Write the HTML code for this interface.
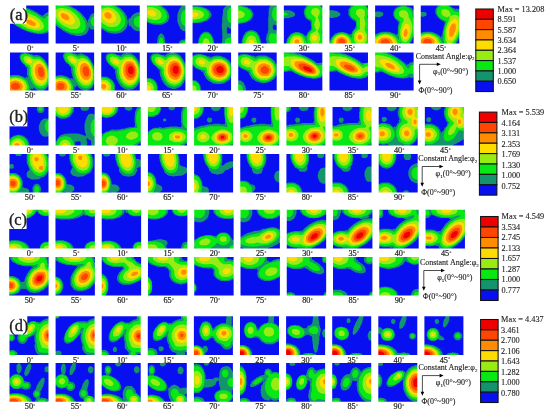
<!DOCTYPE html>
<html><head><meta charset="utf-8"><style>
html,body{margin:0;padding:0;background:#fff;width:550px;height:413px;overflow:hidden}
svg{display:block}
text{font-family:"Liberation Serif",serif;fill:#222;stroke:#222;stroke-width:0.12px}
.lb{font-size:8.3px;text-anchor:middle;stroke-width:0.2px}
.pl{font-size:16.4px;stroke-width:0.35px}
.ca{font-size:8px}
.lg{font-size:9.2px}
</style></head><body>
<svg width="550" height="413" viewBox="0 0 550 413">
<svg x="10" y="5.4" width="38.5" height="38.1" viewBox="0 0 100 100" preserveAspectRatio="none"><g opacity="0.999"><rect x="-5" y="-5" width="110" height="110" fill="#0810f2"/><path d="M-3 3 -3 41 6 46 7 46 10 50 11 50 13 52 15 52 16 54 17 54 18 56 21 56 23 58 24 58 24 59 26 59 26 60 27 60 28 61 29 61 29 62 31 62 31 62 32 62 33 63 34 63 34 64 36 64 36 65 37 65 38 66 40 66 40 67 41 67 42 67 44 67 44 68 46 68 46 69 48 69 49 70 51 70 51 71 54 71 54 72 56 72 57 72 60 72 60 73 64 73 64 74 70 74 70 75 87 75 88 74 91 74 91 73 96 72 96 72 97 72 99 70 103 70 103 18 96 18 96 19 93 20 87 26 86 25 85 27 85 28 84 28 82 26 80 26 79 24 78 24 77 23 75 23 74 21 73 21 72 19 69 18 67 17 66 17 66 16 64 16 64 15 63 15 62 14 61 14 61 13 59 13 59 13 58 13 57 12 56 12 56 11 54 11 53 10 52 10 51 9 49 9 49 8 48 8 47 8 45 8 45 7 43 7 42 6 40 6 40 5 37 5 36 4 33 4 33 3 30 3 30 3 26 3 26 2 18 2 18 1 8 1 7 2 3 2 2 3Z" fill="#14946c"/><path d="M-3 12 -3 33 1 33 1 35 3 36 3 37 12 46 13 46 16 50 17 50 19 52 21 52 22 54 25 55 26 56 27 56 28 57 31 58 32 60 33 60 33 61 35 61 35 62 37 62 38 62 39 62 39 63 41 63 41 64 43 64 44 65 45 65 45 66 47 66 48 67 50 67 50 67 55 68 55 69 58 69 59 70 62 70 63 71 67 71 68 72 84 72 85 71 87 71 88 70 90 70 90 69 93 68 95 67 96 67 103 62 103 28 98 28 97 28 96 28 90 35 87 35 87 34 84 33 82 31 80 31 77 28 76 28 75 26 74 26 72 24 71 24 70 23 69 23 68 22 67 22 67 21 64 20 62 18 61 18 61 18 59 18 59 17 57 17 56 16 55 16 55 15 54 15 53 14 51 14 51 13 49 13 49 13 47 13 46 12 42 11 41 10 38 10 38 9 35 9 35 8 31 8 31 8 26 8 26 7 12 7 11 8 8 8 7 8 5 8 5 9 2 10Z" fill="#08e814"/><path d="M12 23 12 26 11 26 11 30 12 30 12 32 13 33 13 34 13 34 14 37 16 38 16 40 23 47 25 47 27 50 28 50 29 51 31 51 32 53 33 53 34 55 36 55 36 56 37 56 38 56 39 56 39 57 41 57 41 58 42 58 43 59 44 59 44 60 46 60 47 61 48 61 49 62 51 62 51 62 53 62 54 63 56 63 57 64 60 64 60 65 64 65 64 66 77 66 78 65 81 65 81 64 84 63 87 60 87 59 88 58 88 52 87 51 87 49 87 49 87 48 85 46 85 45 82 43 82 42 77 36 75 36 73 33 72 33 70 31 67 30 66 28 64 28 64 28 63 28 62 27 61 27 61 26 59 26 59 25 58 25 57 24 56 24 56 23 54 23 54 23 52 23 51 22 50 22 50 21 48 21 47 20 44 20 44 19 42 19 41 18 38 18 37 18 31 18 31 17 25 17 25 18 20 18 20 18 18 18 17 19 16 19 15 21 13 21 13 22Z" fill="#98ec14"/><path d="M27 32 27 37 28 38 28 40 29 41 29 42 35 48 36 48 38 50 39 50 40 51 41 51 43 53 44 53 44 54 46 54 46 55 47 55 48 56 50 56 50 56 51 56 52 57 54 57 54 58 57 58 58 59 62 59 62 60 71 60 71 59 73 59 74 58 75 58 77 56 77 54 78 53 77 52 77 49 77 49 76 46 68 38 67 38 66 37 64 37 63 35 62 35 62 34 60 34 60 33 59 33 58 33 57 33 56 32 55 32 55 31 53 31 52 30 50 30 50 29 48 29 47 28 44 28 44 28 33 28 32 28 30 28 29 30 28 30 28 31Z" fill="#ffdc00"/><path d="M42 40 42 43 43 44 43 45 46 48 47 48 49 50 50 50 50 51 51 51 52 51 53 51 54 52 56 52 56 53 59 53 59 54 64 54 64 53 66 53 67 51 67 49 67 49 66 46 63 44 62 44 61 42 59 42 59 41 58 41 57 40 56 40 56 39 54 39 53 38 50 38 50 38 45 38 45 38 44 38Z" fill="#ff8c00"/></g></svg><text x="30.25" y="51" class="lb">0<tspan font-size="4.8" dx="0.3" dy="-2.2">°</tspan></text><svg x="55.64" y="5.4" width="38.5" height="38.1" viewBox="0 0 100 100" preserveAspectRatio="none"><g opacity="0.999"><rect x="-5" y="-5" width="110" height="110" fill="#0810f2"/><path d="M83 45 84 45 85 46 84 46ZM-3 -3 -3 50 9 59 10 59 13 62 15 62 17 65 18 65 19 67 21 67 22 68 25 69 26 71 27 71 28 72 29 72 29 72 31 72 31 73 32 73 33 74 35 74 35 75 36 75 37 76 39 76 39 77 41 77 42 77 44 77 44 78 47 78 48 79 51 79 52 80 67 80 68 79 71 79 71 78 73 78 74 77 77 77 78 75 79 75 82 72 82 70 83 70 83 69 84 68 84 67 85 67 85 64 86 64 86 56 86 56 87 56 88 59 90 61 90 62 91 63 93 63 94 64 94 63 95 62 95 63 98 63 99 64 103 64 103 20 95 21 94 23 93 23 91 24 91 26 90 27 90 28 89 28 89 30 88 30 88 31 87 32 87 35 86 36 85 36 85 39 84 39 84 43 83 44 82 42 82 41 82 40 81 40 81 38 79 37 78 34 77 33 77 32 73 29 73 28 62 16 60 16 57 13 56 13 55 11 54 11 52 9 51 9 50 8 49 8 48 7 45 6 44 4 43 4 42 3 40 3 40 3 38 3 38 2 37 2 36 1 34 1 34 -3Z" fill="#14946c"/><path d="M97 29 94 33 94 34 93 34 93 36 92 36 92 39 91 39 91 45 92 45 92 48 93 49 94 51 96 54 97 54 98 55 103 55 103 29ZM-3 3 -3 44 3 47 3 48 9 54 10 54 14 58 15 58 18 61 19 61 20 62 23 63 24 65 26 65 26 66 27 66 28 67 29 67 29 67 31 67 31 68 32 68 33 69 35 69 35 70 36 70 37 71 39 71 39 72 42 72 43 72 46 72 46 73 51 73 52 74 58 74 59 73 63 73 64 72 67 72 67 72 70 71 71 69 72 69 75 67 75 65 77 64 77 59 78 59 78 49 77 49 77 46 77 46 77 44 76 43 76 42 75 41 75 40 74 40 74 38 73 38 72 35 71 34 71 33 69 31 69 30 66 27 66 26 58 18 57 18 54 15 53 15 51 13 49 13 48 11 45 10 44 8 43 8 42 8 41 8 41 7 39 7 39 6 38 6 37 5 35 5 35 4 33 4 33 3 28 3 28 2 25 2 25 1 22 1 21 -3 6 -3 5 1 3 1 3 2 1 2Z" fill="#08e814"/><path d="M-3 13 -3 31 1 32 1 33 3 34 3 37 6 39 6 41 15 50 16 50 18 52 20 52 21 54 22 54 23 55 24 55 24 56 26 56 26 56 27 56 28 57 29 57 29 58 31 58 31 59 33 59 33 60 36 60 36 61 38 61 38 62 44 62 44 62 50 62 50 62 54 62 54 61 56 61 56 60 59 59 62 56 62 55 63 54 63 51 64 51 64 44 63 44 63 41 62 41 62 38 62 38 62 37 61 36 60 33 58 32 58 31 56 30 56 28 47 19 46 19 44 17 43 17 41 15 40 15 39 13 38 13 37 13 36 13 36 12 34 12 34 11 33 11 32 10 30 10 30 9 28 9 27 8 25 8 25 8 21 8 21 7 10 7 10 8 5 8 4 10 3 10Z" fill="#98ec14"/><path d="M8 17 8 18 7 18 7 20 6 20 6 26 7 27 7 29 8 29 8 31 8 31 9 34 12 36 12 37 15 41 16 41 19 44 21 44 22 46 23 46 23 46 25 46 25 47 26 47 27 48 29 48 29 49 31 49 32 50 36 50 36 51 41 51 41 50 44 50 44 49 46 49 49 46 49 44 50 43 50 38 49 38 49 35 48 35 47 32 46 31 46 29 43 27 43 26 41 23 39 23 36 20 35 20 34 18 33 18 32 18 31 18 31 17 29 17 29 16 27 16 26 15 25 15 25 14 21 14 21 13 14 13 14 14 11 14 10 16 8 16Z" fill="#ffdc00"/><path d="M14 22 14 23 13 23 13 26 14 27 14 29 15 29 15 31 20 36 21 36 22 36 23 36 23 37 25 37 25 38 28 38 28 39 33 38 35 36 35 35 36 35 35 30 33 29 33 28 30 24 28 24 27 23 26 23 26 22 24 22 24 21 21 21 21 20 18 20 17 21Z" fill="#ff8c00"/></g></svg><text x="75.89" y="51" class="lb">5<tspan font-size="4.8" dx="0.3" dy="-2.2">°</tspan></text><svg x="101.28" y="5.4" width="38.5" height="38.1" viewBox="0 0 100 100" preserveAspectRatio="none"><g opacity="0.999"><rect x="-5" y="-5" width="110" height="110" fill="#0810f2"/><path d="M94 18 93 19 90 19 90 20 89 20 88 21 85 22 84 23 83 23 79 28 79 29 77 30 77 31 76 32 76 33 75 33 75 36 74 36 74 33 73 33 71 35 71 39 70 39 70 46 71 47 71 51 72 51 72 53 75 56 75 53 76 52 76 54 77 54 77 56 78 56 78 57 84 63 85 63 86 65 87 65 88 66 90 66 90 67 92 67 92 67 96 67 96 68 103 68 103 18ZM-3 -3 -3 61 1 62 2 62 4 64 5 64 7 66 8 66 9 67 10 67 11 68 12 68 13 69 14 69 14 70 15 70 16 71 18 71 18 72 20 72 20 72 23 72 23 73 26 73 27 74 34 74 34 75 37 75 38 74 44 74 44 73 47 73 48 72 50 72 50 72 51 72 52 71 55 70 56 68 57 68 64 62 64 60 65 60 65 59 66 58 66 57 67 56 67 55 67 55 67 53 68 52 68 49 69 48 69 39 68 39 68 35 67 35 67 32 67 31 67 30 66 30 66 28 65 27 65 26 64 26 63 23 62 21 62 20 60 19 60 18 49 7 48 7 46 5 45 5 44 3 43 3 42 3 41 3 41 2 39 2 39 1 38 1 37 -3Z" fill="#14946c"/><path d="M95 28 95 29 93 29 92 30 91 30 86 35 86 36 85 37 85 38 85 38 85 47 85 48 85 49 86 49 87 52 90 55 91 55 92 56 97 57 97 58 103 58 103 28ZM1 3 -3 3 -3 54 5 59 6 59 8 61 9 61 10 62 11 62 12 63 13 63 13 64 15 64 15 65 17 65 18 66 19 66 19 67 22 67 23 67 26 67 26 68 40 68 40 67 43 67 44 67 46 67 46 66 47 66 48 65 51 64 52 62 53 62 57 58 57 57 59 56 59 54 60 54 60 53 61 52 61 50 62 50 62 47 62 46 62 36 62 36 62 33 61 32 60 28 59 27 59 26 58 26 57 23 56 21 56 20 53 18 53 17 46 10 45 10 43 8 42 8 41 6 39 6 39 5 38 5 37 4 36 4 36 3 34 3 34 3 33 3 32 2 30 2 30 1 27 1 26 -3 7 -3 6 1 4 1 4 2Z" fill="#08e814"/><path d="M1 10 -3 11 -3 42 1 43 1 44 6 49 7 49 9 51 12 52 13 54 15 54 16 55 17 55 18 56 20 56 20 56 24 56 24 57 33 57 33 56 36 56 37 56 39 56 39 55 42 54 47 49 47 48 48 47 48 46 49 46 49 44 50 44 50 41 51 41 51 33 50 33 50 30 49 30 49 28 48 27 48 26 47 26 46 23 45 21 45 20 36 12 35 12 35 11 33 11 32 9 31 9 31 8 28 8 28 8 27 8 26 7 23 7 23 6 18 6 18 5 14 5 14 6 9 6 9 7 7 7 6 8 3 8 2 10Z" fill="#98ec14"/><path d="M5 15 4 16 4 17 3 18 3 20 2 20 2 25 1 25 2 26 2 30 3 30 3 32 3 33 4 36 11 42 12 42 13 43 14 43 14 44 15 44 16 45 18 45 18 46 21 46 22 46 26 46 27 46 30 46 30 45 33 44 37 40 37 38 38 38 38 35 39 35 39 31 38 31 38 28 37 27 37 25 36 25 36 23 35 22 35 21 31 17 29 17 28 15 27 15 26 14 25 14 25 13 23 13 23 13 20 13 20 12 12 12 11 13 9 13 9 13 8 13 6 15Z" fill="#ffdc00"/><path d="M12 18 9 21 9 22 8 23 8 27 9 28 10 31 13 33 14 33 14 34 15 34 16 35 23 35 23 34 25 34 26 33 26 32 26 31 26 29 27 29 26 23 21 19 20 19 20 18Z" fill="#ff8c00"/></g></svg><text x="121.53" y="51" class="lb">10<tspan font-size="4.8" dx="0.3" dy="-2.2">°</tspan></text><svg x="146.92" y="5.4" width="38.5" height="38.1" viewBox="0 0 100 100" preserveAspectRatio="none"><g opacity="0.999"><rect x="-5" y="-5" width="110" height="110" fill="#0810f2"/><path d="M103 89 98 89 97 90 93 90 92 90 90 90 90 91 87 92 84 95 84 97 83 97 83 103 103 103ZM35 74 34 75 33 75 33 77 31 78 31 79 30 79 30 81 29 81 29 82 28 83 28 86 28 86 28 89 27 90 27 97 26 97 26 103 48 103 48 96 47 96 47 90 46 89 46 85 46 85 46 83 45 82 45 81 44 81 43 78 41 77 41 75 40 75 39 74ZM93 -3 92 1 91 1 87 5 87 6 85 8 85 9 85 9 85 10 84 11 84 12 83 13 83 14 82 14 82 16 81 17 81 20 80 20 80 24 79 24 79 42 80 43 80 46 81 47 81 49 82 49 83 54 84 54 85 57 86 59 86 60 92 66 93 66 94 67 95 67 95 67 97 67 98 68 103 68 103 -3ZM-3 -3 -3 44 1 44 2 45 3 45 3 46 5 46 5 46 6 46 7 47 9 47 9 48 14 49 14 50 18 50 18 51 23 51 23 51 34 51 34 51 39 51 39 50 44 49 44 48 46 48 46 47 49 46 50 45 51 45 54 42 54 41 56 40 56 38 56 38 56 37 57 36 57 34 58 34 58 26 57 26 57 23 56 22 56 21 56 21 56 19 55 19 54 16 52 15 52 13 45 6 44 6 41 3 40 3 39 2 38 2 37 1 36 1 36 -3Z" fill="#14946c"/><path d="M103 94 95 94 95 95 93 95 90 98 90 103 103 103ZM35 85 33 86 33 87 33 88 33 89 32 90 32 92 31 93 31 103 43 103 43 93 42 92 42 90 41 89 41 86 39 85ZM97 13 97 13 95 13 91 18 91 19 90 19 90 21 90 21 90 22 89 23 89 26 88 26 88 40 89 40 89 43 90 44 90 46 90 46 90 47 92 49 92 50 95 52 96 52 96 53 97 53 98 54 103 54 103 13ZM-3 -3 -3 41 1 41 2 41 3 41 3 42 5 42 5 43 6 43 7 44 9 44 9 45 11 45 12 46 15 46 15 46 18 46 18 47 34 47 34 46 37 46 38 46 40 46 40 45 41 45 42 44 45 43 50 38 50 37 51 36 51 35 51 35 51 33 52 32 52 25 51 25 51 22 51 21 51 20 50 20 49 17 47 15 47 14 41 8 39 8 37 5 36 5 35 3 33 3 33 3 32 3 31 2 30 2 30 1 28 1 28 -3Z" fill="#08e814"/><path d="M-3 6 -3 31 1 32 2 32 3 34 5 34 5 35 6 35 7 36 9 36 9 36 11 36 12 37 15 37 15 38 27 38 28 37 30 37 30 36 33 36 37 31 37 29 38 29 38 23 37 22 37 20 36 20 36 18 35 17 35 16 31 12 29 12 27 9 26 9 26 8 24 8 24 8 23 8 22 7 20 7 20 6 18 6 17 5 13 5 13 4 4 4 4 5 1 5Z" fill="#98ec14"/><path d="M1 17 1 21 2 21 2 22 6 26 7 26 8 27 9 27 9 28 10 28 11 29 20 29 20 28 21 28 24 26 24 20 22 19 22 18 21 16 19 16 18 14 17 14 16 13 14 13 14 13 5 13 5 13 3 13 2 15 2 16Z" fill="#ffdc00"/></g></svg><text x="167.17" y="51" class="lb">15<tspan font-size="4.8" dx="0.3" dy="-2.2">°</tspan></text><svg x="192.56" y="5.4" width="38.5" height="38.1" viewBox="0 0 100 100" preserveAspectRatio="none"><g opacity="0.999"><rect x="-5" y="-5" width="110" height="110" fill="#0810f2"/><path d="M17 85 17 87 16 87 16 90 15 90 15 96 14 96 14 103 56 103 56 94 55 93 55 90 54 89 54 86 53 86 53 85 52 84 52 82 51 82 51 80 50 79 50 78 44 72 43 72 41 70 39 70 39 69 31 69 31 70 29 70 29 71 26 72 21 77 21 78 19 79 19 81 18 81 18 82 18 83 18 84ZM-3 2 -3 46 1 47 5 47 6 46 15 46 16 46 21 46 21 45 24 45 24 44 27 44 28 43 30 43 30 42 31 42 32 41 34 41 34 41 36 41 36 40 39 39 40 37 41 37 46 32 46 31 48 30 48 28 49 27 49 21 48 21 48 19 47 19 46 16 42 12 41 12 40 10 38 10 37 8 36 8 36 8 34 8 34 7 32 7 31 6 29 6 29 5 27 5 26 4 24 4 24 3 20 3 20 3 15 3 15 2ZM88 -3 87 3 85 3 85 3 84 3 84 5 82 6 82 7 81 8 81 9 80 9 80 11 79 12 79 15 79 16 79 21 78 22 78 30 77 30 77 47 76 48 76 62 77 63 77 80 78 80 78 83 77 84 77 95 76 95 76 103 103 103 103 74 99 74 93 74 92 74 90 74 90 72 89 72 89 60 90 60 90 56 91 56 95 60 96 60 96 61 103 61 103 -3Z" fill="#14946c"/><path d="M103 85 99 85 93 85 92 85 90 86 88 88 87 88 86 89 86 90 85 91 85 93 84 94 84 103 103 103ZM20 84 20 86 19 86 19 87 18 88 18 91 18 91 18 96 17 96 17 103 53 103 53 94 52 93 52 90 51 90 51 87 51 87 51 85 50 85 49 82 47 81 47 79 43 75 42 75 41 74 40 74 40 74 38 74 37 73 33 73 32 74 30 74 30 74 28 74 27 76 26 76 23 79 23 80 22 81 22 82ZM99 5 98 6 97 6 97 7 95 7 95 8 95 9 93 10 93 11 92 12 92 13 91 13 91 15 90 16 90 20 90 20 90 32 90 33 90 36 91 37 91 39 92 39 93 42 95 44 95 45 96 45 97 46 99 46 103 47 103 5ZM-3 4 -3 44 13 44 13 43 18 43 18 42 21 42 22 41 25 41 25 41 27 41 28 40 29 40 29 39 31 39 31 38 32 38 33 37 36 36 38 34 39 34 40 33 40 32 42 30 42 28 43 27 43 21 42 21 41 18 36 12 34 12 34 11 33 11 32 10 31 10 31 9 29 9 29 8 27 8 26 8 22 7 21 6 18 6 17 5 13 5 12 4Z" fill="#08e814"/><path d="M27 94 27 97 26 97 26 103 44 103 44 95 43 95 43 93 42 92 42 91 41 90 41 89 40 88 38 88 38 87 37 87 36 86 32 87 28 90 28 92 28 92 28 93ZM-3 11 -3 37 10 37 11 36 15 36 15 36 20 35 20 34 21 34 22 33 25 32 29 28 29 26 30 26 30 23 29 22 29 20 25 16 23 16 23 15 22 15 21 14 20 14 20 13 18 13 17 13 14 13 14 12 10 12 10 11Z" fill="#98ec14"/><path d="M-3 18 -3 31 7 31 8 30 10 30 11 29 14 28 15 26 15 22 14 20 13 20 12 19 11 19 10 18 8 18 7 18Z" fill="#ffdc00"/></g></svg><text x="212.81" y="51" class="lb">20<tspan font-size="4.8" dx="0.3" dy="-2.2">°</tspan></text><svg x="238.2" y="5.4" width="38.5" height="38.1" viewBox="0 0 100 100" preserveAspectRatio="none"><g opacity="0.999"><rect x="-5" y="-5" width="110" height="110" fill="#0810f2"/><path d="M11 85 11 88 10 89 10 92 9 93 9 103 59 103 59 93 58 92 58 89 57 88 57 86 56 86 56 84 56 83 56 81 55 81 54 78 52 77 52 75 50 73 50 72 48 70 47 70 45 68 44 68 43 67 42 67 41 66 39 66 39 65 29 65 29 66 27 66 26 67 23 68 21 70 20 70 18 72 18 73 16 75 16 77 14 78 14 79 13 79 13 81 13 81 13 83 12 84 12 85ZM84 -3 83 1 83 2 82 3 82 4 81 4 81 7 80 8 80 12 79 13 79 19 79 19 79 30 78 30 78 67 77 68 77 72 76 73 76 74 75 74 75 76 74 76 74 77 74 78 74 81 73 81 73 86 72 86 72 90 73 90 73 95 74 95 74 97 74 98 74 99 75 103 103 103 103 66 99 65 97 65 97 64 94 64 93 64 91 64 91 61 90 61 90 54 91 54 91 50 93 51 94 51 95 52 103 52 103 -3ZM-3 -3 -3 48 6 48 7 47 12 47 13 46 15 46 16 46 19 46 19 45 21 45 21 44 23 44 23 43 25 43 25 42 28 41 29 40 31 40 36 34 36 33 38 31 38 29 39 29 39 26 40 26 40 23 39 22 39 19 38 19 38 18 37 17 36 14 31 8 28 8 26 6 25 6 25 5 23 5 23 4 21 4 21 3 18 3 18 3 16 3 15 2 12 2 11 1 6 1 5 -3Z" fill="#14946c"/><path d="M84 74 83 74 83 76 82 76 82 77 81 78 81 80 80 80 80 83 79 84 79 92 80 92 81 97 83 98 83 99 84 103 98 103 103 98 103 77 99 76 98 76 97 74 95 74 95 74 90 74 90 73 85 73 85 74ZM13 91 13 98 12 99 12 103 56 103 56 92 55 92 55 89 54 88 54 86 53 86 53 84 52 83 51 80 50 79 50 78 44 72 43 72 42 71 41 71 41 70 39 70 39 69 29 69 29 70 28 70 27 71 24 72 18 79 18 80 17 80 17 82 16 82 16 83 15 84 15 85 14 85 14 87 13 88 13 91ZM95 4 95 5 94 5 92 7 92 8 91 8 91 10 90 10 90 11 90 12 90 14 89 14 89 15 88 16 88 21 87 21 87 26 88 26 88 30 89 30 89 32 90 33 90 34 92 36 92 37 95 40 99 41 103 40 103 4ZM-3 3 -3 45 9 45 9 44 13 44 13 43 16 43 17 42 19 42 19 41 21 41 21 41 22 41 23 40 26 39 28 36 29 36 31 34 31 33 33 31 33 30 34 30 34 28 35 27 35 21 34 21 34 18 33 18 33 17 31 15 31 13 30 13 28 13 26 10 25 10 24 8 23 8 22 8 21 8 21 7 18 7 18 6 16 6 15 5 13 5 13 4 9 4 9 3Z" fill="#08e814"/><path d="M19 97 19 103 49 103 49 98 48 97 48 93 47 92 47 90 46 90 46 89 46 88 45 85 41 81 39 81 39 80 38 80 37 79 31 79 31 80 28 81 23 85 23 87 22 88 22 90 21 90 21 92 20 93 20 97ZM-3 13 -3 35 3 35 3 34 7 34 8 33 10 33 10 32 13 31 16 28 16 27 17 26 17 22 16 21 16 20 13 17 12 17 11 16 10 16 10 15 8 15 7 14 3 14 2 13Z" fill="#98ec14"/><path d="M27 97 27 103 41 103 41 97 41 97 41 95 40 94 40 93 37 90 36 90 36 90 33 90 32 90 31 90 28 93 28 94 28 95 28 97Z" fill="#ffdc00"/></g></svg><text x="258.45" y="51" class="lb">25<tspan font-size="4.8" dx="0.3" dy="-2.2">°</tspan></text><svg x="283.84" y="5.4" width="38.5" height="38.1" viewBox="0 0 100 100" preserveAspectRatio="none"><g opacity="0.999"><rect x="-5" y="-5" width="110" height="110" fill="#0810f2"/><path d="M-3 13 -3 34 10 34 10 33 15 33 15 32 18 32 18 31 21 31 21 31 23 31 23 30 25 30 29 26 29 21 28 21 28 19 26 18 25 18 25 17 23 17 23 16 22 16 21 15 19 15 19 14 17 14 16 13 12 13 11 13ZM97 2 96 2 95 -3 60 -3 57 3 57 5 55 6 55 7 54 8 54 10 53 11 53 13 52 13 52 23 53 23 53 26 54 26 54 27 54 28 55 31 57 32 57 33 59 36 61 36 63 38 64 38 64 39 66 39 66 40 67 40 68 41 69 41 69 42 69 43 69 44 69 45 71 45 71 46 70 47 70 53 71 54 71 61 69 62 69 63 70 64 69 65 68 65 64 69 64 70 62 72 62 73 61 74 61 75 60 75 60 77 59 78 59 80 59 80 58 79 56 79 56 81 49 74 48 74 47 74 46 74 46 73 44 73 44 72 43 72 42 71 39 71 39 70 29 70 29 71 26 71 26 72 24 72 24 73 23 73 22 74 19 74 12 82 11 85 9 86 9 88 8 89 8 90 8 90 8 92 7 93 7 97 6 97 6 103 103 103 103 5 97 3Z" fill="#14946c"/><path d="M9 97 9 103 59 103 59 95 58 95 58 92 57 92 57 90 56 90 56 89 56 88 56 87 55 87 54 84 47 77 46 77 45 75 44 75 43 74 41 74 41 74 38 74 37 73 31 73 31 74 28 74 27 74 25 74 25 75 23 75 22 77 21 77 14 84 14 85 13 85 13 87 13 87 13 88 12 89 12 90 11 90 11 92 10 93 10 97ZM-3 19 -3 26 6 26 7 26 9 26 10 24 10 23 9 21 8 21 7 20 4 20 4 19ZM66 -3 65 2 64 2 60 5 60 6 59 8 59 9 58 9 58 10 57 11 57 13 56 13 56 22 57 23 58 27 59 28 59 30 64 35 66 35 67 36 69 36 69 37 71 37 73 39 73 58 74 59 74 64 73 64 72 66 71 66 69 69 68 69 67 69 67 71 64 73 64 74 64 74 64 76 63 76 63 77 62 78 62 80 61 80 61 84 60 85 60 92 61 93 61 96 62 96 62 97 63 98 63 99 64 103 99 103 103 99 103 75 99 75 99 74 98 73 98 66 99 66 99 63 103 62 103 38 99 37 99 34 98 34 98 29 99 29 99 28 103 27 103 9 99 9 99 8 97 6 97 5 94 2 93 2 92 -3Z" fill="#08e814"/><path d="M15 100 15 103 52 103 52 94 51 93 51 91 51 91 51 90 50 89 49 86 44 81 43 81 41 79 39 79 39 79 29 79 29 79 27 79 26 80 25 80 19 86 19 87 18 89 17 93 16 94 16 99ZM79 7 79 8 77 8 77 8 75 8 73 11 73 12 72 13 72 14 71 14 71 20 72 20 72 22 75 26 77 26 78 27 78 28 79 29 80 29 82 31 82 32 83 33 83 36 82 36 82 41 81 41 81 43 80 44 80 47 79 48 79 52 80 53 80 56 81 57 81 59 82 59 82 61 83 61 83 64 84 64 84 66 81 69 79 69 79 69 78 69 77 71 74 72 69 76 69 77 69 78 69 79 68 79 68 81 67 81 67 91 68 91 68 93 69 94 69 95 70 96 70 97 72 99 73 99 74 103 88 103 92 97 92 95 92 95 92 94 93 93 93 92 94 92 94 81 93 81 92 76 92 76 92 74 91 74 91 73 90 72 90 71 89 71 89 69 88 69 88 65 89 65 89 64 91 62 91 61 92 61 92 59 92 59 92 58 93 57 93 53 94 52 94 48 93 47 93 43 92 42 92 41 92 41 92 39 91 39 91 38 90 37 90 35 89 35 89 33 88 32 88 31 89 31 89 28 90 28 91 25 92 24 92 21 93 21 93 13 92 13 92 12 89 8 88 8 87 8 86 8 86 7Z" fill="#98ec14"/><path d="M23 91 23 94 22 95 22 103 46 103 46 95 46 94 46 92 45 92 44 89 41 85 39 85 39 85 38 85 37 84 31 84 31 85 28 85 23 90 23 91ZM79 77 78 78 76 78 74 79 74 81 74 81 74 82 73 83 73 87 74 88 74 89 74 90 74 91 75 92 77 92 77 92 82 92 83 92 84 92 85 91 85 90 86 89 86 88 87 87 87 83 86 82 86 80 83 78Z" fill="#ffdc00"/><path d="M31 90 28 92 28 95 28 95 28 96 28 99 29 103 39 103 40 99 40 93 39 92 39 91 37 90 36 90 36 89 33 89 32 90Z" fill="#ff8c00"/></g></svg><text x="304.09" y="51" class="lb">30<tspan font-size="4.8" dx="0.3" dy="-2.2">°</tspan></text><svg x="329.48" y="5.4" width="38.5" height="38.1" viewBox="0 0 100 100" preserveAspectRatio="none"><g opacity="0.999"><rect x="-5" y="-5" width="110" height="110" fill="#0810f2"/><path d="M-3 14 -3 32 2 32 3 33 10 33 10 32 15 32 16 31 19 31 19 31 21 31 21 30 23 30 24 28 26 28 27 26 27 25 28 25 28 22 27 21 27 20 25 18 23 18 23 17 22 17 21 16 20 16 20 15 17 15 16 14 12 14 11 13 1 13ZM94 -3 58 -3 53 5 53 6 51 8 51 9 50 9 50 11 49 12 49 15 49 15 49 21 49 22 49 25 50 25 50 26 51 27 51 28 52 28 53 31 58 36 59 36 60 38 62 38 62 39 63 39 64 40 65 40 65 41 67 41 67 44 69 44 69 55 67 56 67 60 62 64 62 66 60 67 60 68 59 69 59 70 59 70 59 72 58 72 58 74 57 74 57 76 56 76 56 75 54 75 53 78 51 75 49 75 49 74 48 74 47 74 46 74 46 73 44 73 44 72 42 72 41 71 38 71 38 70 26 70 26 71 23 71 22 72 20 72 20 73 18 73 18 74 15 74 14 76 13 76 5 84 4 87 3 88 3 90 2 90 2 92 1 92 1 94 -3 95 -3 103 103 103 103 7 99 6 99 5Z" fill="#14946c"/><path d="M93 3 92 3 91 1 90 1 89 -3 64 -3 63 2 62 2 56 8 56 9 55 9 55 10 54 11 54 12 54 13 54 16 53 17 53 20 54 20 54 24 54 24 54 26 55 27 55 28 57 29 57 31 60 34 62 34 63 36 64 36 64 36 66 36 66 37 69 38 70 39 70 41 71 41 71 45 70 45 70 51 71 51 71 60 64 67 64 68 62 69 62 71 61 71 61 73 60 74 60 75 59 75 59 78 59 79 59 83 58 84 58 85 56 85 50 79 49 79 47 77 46 77 46 76 44 76 44 75 43 75 42 74 40 74 40 74 36 74 36 73 28 73 28 74 24 74 24 74 22 74 21 75 20 75 20 76 17 77 15 79 14 79 8 85 8 86 8 86 8 87 6 89 6 91 5 91 5 92 4 93 4 96 3 96 3 103 103 103 103 68 99 67 99 61 103 61 103 36 99 36 99 33 98 32 98 28 99 27 99 26 103 26 103 12 99 11 98 8 97 7 97 6Z" fill="#08e814"/><path d="M8 95 8 103 56 103 56 97 56 97 56 94 55 93 55 91 54 91 54 90 53 89 52 86 46 80 45 80 45 79 44 79 43 79 42 79 41 78 40 78 40 77 37 77 36 76 27 76 26 77 24 77 24 78 22 78 21 79 18 79 16 82 15 82 13 84 13 85 11 87 11 88 10 89 10 90 9 90 9 92 8 92 8 95ZM77 9 77 10 74 10 70 14 70 15 69 16 69 23 70 23 70 25 74 28 74 30 79 33 79 36 79 36 79 41 79 42 79 54 79 54 79 60 79 60 79 62 77 64 75 64 72 67 71 67 67 71 67 72 66 73 66 74 65 74 65 76 64 76 64 78 64 79 64 89 64 90 64 92 65 93 66 96 68 97 68 98 69 103 92 103 92 99 92 98 95 96 95 95 96 94 96 92 97 92 97 90 97 89 97 79 97 79 97 76 96 76 96 74 95 74 95 72 94 72 94 70 93 70 93 69 92 68 92 67 92 67 92 64 91 64 91 59 92 58 92 56 92 56 92 54 93 53 93 44 92 43 92 40 92 40 92 38 91 38 91 35 90 35 90 30 91 30 91 28 92 27 92 25 92 25 92 16 92 15 92 14 87 10 85 10 85 9Z" fill="#98ec14"/><path d="M12 95 12 103 51 103 51 95 51 94 51 92 50 92 49 89 47 87 47 86 45 84 44 84 42 82 41 82 41 81 39 81 39 80 37 80 36 79 27 79 26 80 24 80 24 81 21 82 19 85 18 85 17 85 17 87 14 89 14 90 13 90 13 92 13 92 13 95ZM78 70 77 71 75 71 75 72 74 72 70 75 70 77 69 77 69 79 69 79 69 88 69 89 69 90 70 90 71 93 73 95 74 95 74 96 76 96 76 97 83 97 84 96 85 96 89 92 89 90 90 90 90 89 91 88 91 79 90 79 90 77 88 76 88 74 86 72 85 72 84 71 82 71 82 70Z" fill="#ffdc00"/><path d="M17 94 17 103 46 103 46 95 46 94 46 92 45 92 44 89 41 86 40 86 39 85 38 85 37 84 35 84 35 83 28 83 28 84 26 84 26 85 23 85 19 89 19 90 18 90 18 92 18 92 18 93ZM76 77 74 79 74 80 74 80 74 82 73 83 73 84 74 85 74 87 74 87 74 88 76 88 77 90 80 90 80 89 82 89 84 87 84 80 83 80 83 79 82 78 81 78 81 77Z" fill="#ff8c00"/><path d="M23 93 23 103 40 103 40 99 41 98 41 94 40 93 39 90 37 89 36 89 36 88 33 88 33 87 29 87 29 88 26 89 23 91 23 92Z" fill="#ff4600"/></g></svg><text x="349.73" y="51" class="lb">35<tspan font-size="4.8" dx="0.3" dy="-2.2">°</tspan></text><svg x="375.12" y="5.4" width="38.5" height="38.1" viewBox="0 0 100 100" preserveAspectRatio="none"><g opacity="0.999"><rect x="-5" y="-5" width="110" height="110" fill="#0810f2"/><path d="M-3 18 -3 29 1 30 4 30 4 31 12 31 13 30 15 30 16 29 17 29 18 27 20 27 20 26 21 26 21 24 21 24 21 22 21 21 21 20 19 18 18 18 17 18 16 18 15 17 13 17 13 16 3 16 3 17 1 17ZM97 9 95 7 94 7 92 5 90 5 90 4 87 4 87 3 85 3 85 3 83 3 82 2 80 2 80 1 66 1 66 2 63 2 62 3 61 3 61 3 59 3 59 4 56 5 50 11 50 12 49 13 49 15 48 16 48 18 47 18 47 26 48 27 48 29 49 29 49 32 51 33 51 35 54 37 55 37 57 40 58 40 59 41 59 44 61 44 62 45 61 46 61 49 60 49 60 53 59 54 59 59 59 59 59 75 58 75 57 74 56 74 56 77 54 78 53 76 52 76 51 74 49 74 49 74 48 74 47 73 45 73 45 72 43 72 42 71 40 71 40 70 37 70 36 69 28 69 28 69 27 69 26 69 18 69 18 70 14 70 14 71 9 72 9 73 8 73 7 74 6 74 5 74 4 74 4 75 3 75 2 76 1 76 -3 77 -3 103 90 103 92 97 92 96 94 95 94 94 95 93 95 92 96 92 96 90 97 90 97 89 97 88 97 87 98 87 98 85 99 85 99 83 103 82 103 13 99 13 99 12 97 10Z" fill="#14946c"/><path d="M93 13 88 8 87 8 86 6 85 6 84 5 82 5 82 4 79 4 79 3 67 3 67 4 64 4 63 5 62 5 62 6 59 7 53 13 53 14 52 14 52 15 51 16 51 17 50 18 50 26 51 27 51 29 52 29 52 31 54 32 54 33 57 36 58 36 59 38 61 38 61 39 64 40 64 41 65 42 65 45 64 45 64 47 64 48 64 51 63 51 63 55 62 55 62 60 61 60 61 82 62 82 62 89 62 90 60 90 60 88 51 79 50 79 49 78 48 78 47 77 46 77 46 76 44 76 44 75 42 75 41 74 39 74 39 74 36 74 36 73 30 73 30 72 24 72 24 73 18 73 18 74 15 74 15 74 10 75 10 76 8 76 8 77 5 78 4 79 3 79 -3 82 -3 103 63 103 64 97 67 97 69 103 86 103 91 95 91 94 92 92 92 91 93 91 93 90 94 89 94 88 95 87 95 86 96 86 96 85 97 84 97 82 97 82 97 79 98 79 98 77 99 77 99 74 103 73 103 34 99 34 99 32 98 31 98 29 97 29 97 24 97 24 97 20 96 20 95 15 93 14Z" fill="#08e814"/><path d="M-3 88 -3 103 58 103 58 98 57 97 57 95 56 94 56 93 56 92 56 91 55 91 54 88 48 82 47 82 46 80 44 80 44 79 43 79 42 79 41 79 41 78 38 78 38 77 35 77 35 76 28 76 28 75 26 75 26 76 19 76 19 77 16 77 15 78 13 78 13 79 12 79 11 79 10 79 10 80 7 81ZM70 13 70 13 68 13 67 14 66 14 62 18 62 26 63 26 63 27 65 30 67 30 67 31 70 31 71 33 72 33 74 34 74 36 74 37 74 38 74 41 73 41 73 43 72 44 72 45 71 45 71 46 70 47 70 48 69 49 69 51 69 51 69 53 68 54 68 56 67 57 67 60 66 60 66 66 65 66 65 78 66 79 66 83 67 84 68 88 69 89 69 92 71 93 71 94 72 95 73 95 74 96 75 96 75 97 80 97 80 96 83 95 87 91 87 90 89 88 89 87 90 87 90 85 91 85 91 84 92 83 92 82 92 82 92 79 93 79 93 77 94 77 94 74 95 73 95 69 96 69 96 62 97 62 97 55 96 55 96 49 95 48 95 45 94 45 94 43 93 42 92 39 91 38 91 37 90 36 90 35 89 35 89 33 88 33 88 32 87 31 87 29 87 29 87 24 86 24 86 22 85 21 84 18 80 14 79 14 78 13 76 13 76 13Z" fill="#98ec14"/><path d="M2 95 2 103 52 103 52 97 51 97 51 92 49 91 49 90 43 84 42 84 41 83 40 83 40 82 38 82 38 81 36 81 36 80 33 80 32 79 21 79 21 80 18 80 17 81 16 81 15 82 13 82 13 83 12 83 10 85 9 85 5 89 5 90 3 91 3 92 3 93 3 95ZM83 48 82 48 82 49 79 49 75 53 75 54 74 55 74 56 73 57 73 59 72 59 72 62 71 62 71 65 70 65 70 81 71 81 72 86 75 89 77 89 77 90 79 90 79 89 82 88 84 87 84 85 86 84 86 83 87 82 87 81 87 81 87 79 88 79 88 77 89 77 89 73 90 72 90 67 91 67 91 63 90 62 90 57 89 56 89 54 88 53 88 52 85 49 84 49Z" fill="#ffdc00"/><path d="M8 95 8 103 46 103 46 96 45 96 45 94 44 93 44 92 42 91 42 90 41 88 39 88 38 86 37 86 36 85 35 85 35 85 32 85 31 84 22 84 21 85 18 85 18 85 15 86 14 88 13 88 11 90 11 91 9 92 9 93 8 94 8 95ZM82 62 79 62 77 64 77 66 76 66 76 67 75 68 75 71 74 71 74 78 75 79 75 81 77 82 80 82 82 80 82 79 83 78 83 76 84 76 84 71 85 71 85 69 84 69 84 65 83 65 83 64Z" fill="#ff8c00"/><path d="M15 95 15 103 38 103 38 95 37 95 37 94 33 90 31 90 31 89 22 89 21 90 18 90 16 93 16 94Z" fill="#ff4600"/></g></svg><text x="395.37" y="51" class="lb">40<tspan font-size="4.8" dx="0.3" dy="-2.2">°</tspan></text><svg x="420.76" y="5.4" width="38.5" height="38.1" viewBox="0 0 100 100" preserveAspectRatio="none"><g opacity="0.999"><rect x="-5" y="-5" width="110" height="110" fill="#0810f2"/><path d="M-3 18 -3 29 2 29 3 30 8 30 8 29 13 28 15 26 15 23 16 23 15 22 15 21 13 18 12 18 11 18 9 18 9 17 2 17 1 18ZM103 10 99 10 98 9 90 9 90 10 87 8 87 7 85 7 85 6 84 7 83 7 81 4 79 4 78 3 77 3 76 1 74 1 74 -3 46 -3 46 1 44 1 42 3 42 5 40 6 40 7 39 8 39 10 38 10 38 21 39 21 39 23 40 23 40 25 41 25 42 28 44 30 44 31 49 36 50 36 52 38 53 38 54 39 55 39 55 40 56 40 57 41 58 41 59 41 61 41 61 42 60 43 60 44 63 46 63 47 62 48 62 50 61 50 61 52 60 53 60 56 59 56 59 59 59 59 59 62 58 63 58 67 57 67 57 72 56 73 56 81 55 81 55 79 53 79 53 83 52 84 51 82 50 80 49 80 46 77 44 77 43 75 42 75 41 74 40 74 40 74 38 74 38 73 36 73 36 72 34 72 34 71 31 71 31 70 28 70 27 69 19 69 19 69 18 69 17 69 9 69 9 70 5 70 5 71 -3 72 -3 103 92 103 93 98 93 97 95 96 95 95 96 94 96 93 97 92 97 91 97 91 97 90 98 89 98 88 99 87 99 86 103 86Z" fill="#14946c"/><path d="M-3 76 -3 103 55 103 54 99 54 95 53 95 53 93 52 92 52 91 51 91 51 88 49 87 49 85 44 80 43 80 41 79 40 79 39 77 38 77 37 76 36 76 36 75 33 75 33 74 31 74 31 74 28 74 27 73 23 73 22 72 13 72 13 73 8 73 8 74 5 74 5 74 3 74 2 75 1 75ZM53 -3 52 1 51 1 51 2 48 3 44 7 44 8 43 8 43 10 42 10 42 15 41 15 41 16 42 17 42 21 43 21 43 23 44 23 44 25 44 25 45 28 52 35 53 35 54 36 56 36 56 37 57 37 58 38 59 38 59 39 64 40 64 41 66 41 67 42 67 44 66 44 66 46 65 47 65 49 64 49 64 51 64 52 64 54 63 54 63 57 62 58 62 61 61 61 61 65 60 65 60 70 59 70 59 80 59 80 59 84 59 85 59 93 60 94 60 97 61 97 61 99 62 103 87 103 90 97 90 96 92 95 92 94 93 92 93 91 94 91 94 90 95 89 95 88 96 87 96 86 97 86 97 85 97 84 97 83 98 82 98 81 99 81 99 79 103 78 103 18 99 18 97 17 96 17 96 16 89 16 88 15 87 15 77 5 76 5 75 3 74 3 73 3 72 3 72 2 69 2 69 1 67 1 67 -3Z" fill="#08e814"/><path d="M-3 79 -3 103 49 103 49 96 48 96 48 94 47 93 47 92 46 92 46 89 44 87 44 86 41 83 39 83 38 81 37 81 36 79 34 79 34 79 33 79 32 78 30 78 30 77 28 77 27 76 23 76 22 75 13 75 13 76 9 76 9 77 6 77 5 78 4 78 4 79 2 79 1 79ZM59 10 58 11 57 11 54 13 54 15 54 15 54 21 54 22 54 23 56 24 56 26 57 26 58 26 60 29 62 29 63 30 65 30 65 31 70 31 70 30 72 30 73 29 76 29 76 31 75 32 75 35 74 35 74 37 74 38 74 39 73 39 73 41 72 42 72 43 71 44 71 46 70 46 70 47 69 48 69 49 69 49 69 51 68 52 68 54 67 54 67 56 66 57 66 60 65 60 65 63 64 64 64 68 64 69 64 88 64 89 64 92 65 92 65 94 66 95 66 96 68 97 68 98 69 103 80 103 81 98 82 98 87 93 87 92 89 91 89 90 91 88 92 85 93 84 93 83 94 82 94 80 95 80 95 79 96 78 96 77 97 77 97 74 97 74 97 72 98 72 98 69 99 69 99 66 103 66 103 33 99 32 98 29 95 26 94 26 93 25 90 25 89 24 88 24 87 25 84 25 83 26 81 26 81 27 78 27 77 26 77 20 76 20 76 18 74 16 74 15 72 13 71 13 70 12 69 12 68 11 66 11 66 10Z" fill="#98ec14"/><path d="M-3 85 -3 103 43 103 43 96 42 96 42 93 41 92 41 91 40 90 40 89 36 85 34 85 33 83 32 83 31 82 30 82 30 81 28 81 28 80 25 80 25 79 20 79 20 79 16 79 15 79 11 79 10 80 8 80 7 81 6 81 5 82 4 82 4 83 3 83 2 84 1 84ZM91 35 86 35 86 36 85 36 83 38 82 38 79 41 79 42 77 44 77 45 75 46 75 47 74 48 74 49 74 49 74 51 73 51 73 53 72 54 72 55 71 55 71 57 70 58 70 61 69 61 69 64 69 64 69 70 68 70 68 81 69 81 69 85 69 85 69 87 70 88 70 89 73 92 74 92 74 92 78 92 79 92 82 91 87 86 87 85 88 83 88 82 90 81 90 79 91 79 91 78 92 77 92 75 92 75 92 74 93 73 93 71 94 71 94 69 95 68 95 65 96 65 96 61 97 61 97 44 96 44 95 39 93 38 93 37 92 37Z" fill="#ffdc00"/><path d="M-3 92 -3 103 36 103 36 95 36 94 35 91 33 90 33 89 32 88 31 88 30 86 28 86 28 85 27 85 26 85 25 85 25 84 22 84 21 83 14 83 14 84 11 84 10 85 8 85 8 85 7 85 5 87 4 87 1 90 1 92ZM87 47 85 47 84 48 83 48 79 51 79 52 78 54 78 55 77 55 77 56 76 57 76 59 75 59 75 62 74 62 74 65 74 65 74 77 74 78 74 80 76 82 77 82 78 82 79 82 79 82 82 81 85 78 86 75 87 74 87 72 88 72 88 70 89 70 89 68 90 67 90 64 91 64 91 52 90 51 90 49Z" fill="#ff8c00"/><path d="M6 95 6 103 29 103 29 95 28 94 27 91 26 90 25 90 24 89 22 89 21 88 13 88 13 89 11 89 7 93 7 94Z" fill="#ff4600"/></g></svg><text x="441.01" y="51" class="lb">45<tspan font-size="4.8" dx="0.3" dy="-2.2">°</tspan></text><svg x="10" y="52.4" width="38.5" height="38.1" viewBox="0 0 100 100" preserveAspectRatio="none"><g opacity="0.999"><rect x="-5" y="-5" width="110" height="110" fill="#0810f2"/><path d="M30 3 26 7 26 9 25 9 25 15 26 16 26 18 27 18 27 21 28 21 28 22 29 23 29 25 32 27 32 28 36 32 37 32 39 34 39 36 40 37 40 38 41 38 42 39 44 39 44 52 44 53 44 58 45 59 45 62 46 62 46 65 47 66 45 66 44 64 41 64 41 66 42 66 42 67 41 68 41 67 39 67 38 65 37 65 36 64 35 64 35 64 33 64 33 63 31 63 31 62 28 62 28 61 26 61 26 60 22 60 21 59 5 59 5 60 1 60 -3 61 -3 103 53 103 54 99 54 95 55 94 58 97 59 96 60 96 60 92 63 94 64 94 66 97 67 97 69 98 70 98 70 99 72 99 72 103 87 103 88 99 91 98 97 92 97 91 98 90 98 89 99 88 99 87 103 87 103 38 99 37 99 35 98 35 98 33 97 33 97 32 97 31 97 30 96 30 96 28 95 28 94 25 92 24 92 23 91 21 91 20 82 12 81 12 80 10 79 10 78 9 77 9 77 8 75 8 75 8 72 8 72 7 64 7 63 8 61 8 61 7 59 7 58 5 55 5 55 4 54 5 52 5 51 4 50 4 50 3 48 3 47 3 45 3 45 2 40 2 40 1 36 1 36 2 33 2 32 3Z" fill="#14946c"/><path d="M-3 64 -3 103 48 103 48 99 49 98 49 95 50 95 50 88 49 87 49 85 48 84 48 82 47 82 46 79 45 77 45 76 40 71 38 71 36 69 35 69 35 68 33 68 33 67 32 67 31 66 30 66 30 65 28 65 27 64 24 64 24 64 21 64 21 63 7 63 6 64 3 64 2 64ZM31 6 29 8 29 9 28 9 28 18 29 18 29 20 30 20 31 23 33 24 33 26 40 33 41 33 44 36 45 36 48 38 48 40 49 40 49 55 49 55 49 59 50 59 50 62 51 63 51 66 52 66 52 67 53 68 53 70 54 70 54 72 54 72 54 74 55 74 55 76 57 77 57 78 58 79 58 80 59 81 59 82 63 85 63 87 64 88 66 88 69 92 70 92 70 92 72 92 72 93 73 93 74 94 76 94 76 95 84 95 85 94 87 94 87 93 90 92 95 87 95 86 97 85 97 84 97 83 97 82 98 82 98 80 99 80 99 78 103 77 103 45 99 45 99 43 98 42 97 38 97 37 97 36 96 36 96 33 95 33 95 32 93 31 93 29 92 29 92 28 91 26 91 25 88 23 88 22 84 18 83 18 81 15 79 15 79 14 78 14 77 13 76 13 76 13 73 13 72 12 67 12 67 13 63 13 62 12 60 12 60 11 59 11 57 9 56 9 56 8 54 8 54 8 53 8 52 7 51 7 51 6 49 6 48 5 46 5 46 4 41 4 41 3 38 3 37 4 34 4 34 5Z" fill="#08e814"/><path d="M-3 69 -3 103 42 103 43 99 43 97 44 97 44 94 45 93 45 89 44 88 44 85 43 84 43 83 42 82 41 79 39 77 39 76 37 74 36 74 34 72 33 72 31 70 30 70 30 69 28 69 27 69 26 69 26 68 23 68 22 67 18 67 17 66 9 66 9 67 4 67 4 68 2 68 1 69ZM38 11 36 13 36 15 35 15 35 17 36 18 36 21 37 21 37 22 38 23 38 25 43 29 44 29 45 31 46 31 48 32 49 32 52 35 52 36 53 37 53 38 54 38 54 54 54 54 54 59 55 59 55 62 56 62 56 64 57 64 58 69 59 69 59 72 61 74 62 77 64 79 64 80 69 84 70 84 71 86 72 86 73 87 74 87 74 87 76 87 76 88 85 88 85 87 88 87 90 85 91 85 92 83 92 82 94 81 94 79 95 79 95 78 96 77 96 76 97 76 97 74 97 73 97 70 98 70 98 65 99 65 99 56 98 56 98 49 97 49 97 46 97 46 97 43 96 42 96 41 95 41 95 38 94 38 94 37 93 36 93 35 92 35 92 33 92 33 91 30 88 28 88 27 82 21 81 21 81 20 79 20 79 19 78 19 77 18 76 18 76 18 66 18 66 18 64 18 63 18 60 18 60 17 57 16 56 14 54 14 53 13 52 13 51 12 50 12 50 11 48 11 47 10 39 10 39 11Z" fill="#98ec14"/><path d="M-3 74 -3 103 36 103 37 98 37 97 38 97 38 95 39 94 39 87 38 87 38 85 37 84 37 83 36 82 36 79 32 76 31 76 30 74 28 74 28 74 27 74 26 73 25 73 25 72 23 72 22 71 19 71 19 70 8 70 8 71 5 71 5 72 3 72 2 73 1 73ZM70 23 70 24 69 24 68 25 65 26 64 28 63 28 61 29 61 31 60 32 60 36 59 37 59 41 59 42 59 51 59 52 59 56 60 57 60 60 61 60 61 62 62 63 62 64 63 64 63 67 64 67 64 68 65 69 66 72 73 79 74 79 74 80 76 80 76 81 78 81 79 82 83 82 84 81 86 81 86 80 87 80 92 76 92 74 93 73 93 71 94 71 94 69 95 69 95 65 96 65 96 51 95 51 95 47 94 46 93 42 92 41 92 40 92 40 92 38 90 36 89 33 87 31 87 30 83 27 82 27 81 25 79 25 79 24 77 24 77 23ZM44 17 44 18 43 18 43 21 44 21 44 22 45 23 45 25 46 25 49 27 51 27 51 28 56 28 57 27 57 23 56 23 56 22 52 18 51 18 51 17 49 17 48 16 45 16 45 17Z" fill="#ffdc00"/><path d="M-3 79 -3 103 28 103 31 97 31 96 31 96 31 95 32 94 32 92 33 92 33 88 32 87 32 85 31 85 31 82 27 79 26 79 25 77 23 77 23 76 21 76 21 75 18 75 17 74 11 74 10 75 7 75 6 76 4 76 4 77 3 77 1 79ZM73 30 72 31 71 31 68 34 68 36 67 36 67 37 66 38 66 40 65 40 65 45 64 45 64 50 65 50 65 56 66 56 67 61 68 61 68 62 69 63 69 66 72 68 72 69 74 71 75 71 76 72 77 72 78 73 81 73 81 74 82 74 83 73 85 73 85 72 87 72 90 69 90 68 91 67 91 65 92 65 92 63 92 62 92 50 92 50 92 47 91 46 90 42 89 41 88 38 87 37 87 36 83 33 82 33 81 31 79 31 79 30Z" fill="#ff8c00"/><path d="M6 82 3 85 3 86 3 86 3 92 3 92 3 93 7 97 8 97 8 97 11 97 12 98 16 98 17 97 19 97 19 97 22 96 25 93 25 92 26 92 26 87 25 87 24 84 22 82 21 82 21 81 19 81 19 80 16 80 15 79 13 79 12 80 9 80 9 81ZM77 38 77 38 75 38 74 40 74 41 73 42 73 44 72 44 72 53 73 54 74 58 75 59 75 61 78 63 79 63 79 64 82 65 83 64 85 64 87 62 87 60 88 60 88 56 89 56 89 52 88 51 88 48 87 47 87 45 87 45 87 44 85 42 85 41 83 39 82 39 82 38 80 38 80 38Z" fill="#ff4600"/></g></svg><text x="30.25" y="98" class="lb">50<tspan font-size="4.8" dx="0.3" dy="-2.2">°</tspan></text><svg x="55.64" y="52.4" width="38.5" height="38.1" viewBox="0 0 100 100" preserveAspectRatio="none"><g opacity="0.999"><rect x="-5" y="-5" width="110" height="110" fill="#0810f2"/><path d="M52 85 53 84 54 85 53 85ZM45 70 46 70 46 71 45 71ZM23 1 21 3 21 5 20 5 20 6 19 7 19 12 20 13 21 17 22 18 23 21 24 22 24 23 28 27 28 28 29 29 31 29 35 33 36 36 38 38 39 38 40 39 40 47 41 48 41 55 42 55 42 59 43 59 43 62 44 63 44 65 44 65 45 70 44 70 41 67 39 67 39 69 40 69 40 71 39 71 36 67 33 66 31 64 30 64 30 64 28 64 27 63 26 63 26 62 23 62 22 61 19 61 19 60 6 60 5 61 2 61 1 62 -3 62 -3 103 48 103 49 99 49 90 50 89 51 90 51 92 52 92 54 91 53 90 54 86 58 90 58 91 59 92 60 92 64 96 67 97 68 98 72 99 73 103 83 103 84 99 86 99 86 98 89 97 96 91 96 90 97 88 97 87 98 87 98 85 99 85 99 84 103 83 103 38 99 37 99 35 98 35 98 33 97 33 97 31 97 31 97 29 96 29 96 28 95 27 94 24 92 23 92 20 89 18 89 17 82 9 80 9 79 8 78 8 77 7 76 7 76 6 74 6 74 5 73 5 72 4 69 4 68 3 63 3 62 4 59 4 59 5 56 6 56 5 54 5 54 4 53 4 52 3 47 3 46 3 45 3 45 2 43 2 42 1 40 1 40 -3 25 -3 25 1Z" fill="#14946c"/><path d="M-3 65 -3 103 44 103 44 97 45 97 45 87 44 87 43 82 42 82 41 79 40 77 40 76 34 70 33 70 31 69 30 69 30 68 28 68 28 67 27 67 26 66 25 66 25 65 23 65 22 64 18 64 18 64 7 64 6 64 3 64 2 65ZM26 3 23 6 23 8 23 8 23 14 23 14 23 16 24 17 24 18 25 18 26 21 28 23 28 24 35 31 36 31 38 34 40 34 41 36 42 36 45 38 45 48 46 49 46 55 47 55 47 59 48 59 48 62 49 62 49 65 49 65 49 67 50 67 50 69 51 69 51 71 52 71 52 72 53 73 53 74 54 74 54 77 56 79 56 80 58 81 58 82 64 89 66 89 67 91 68 91 69 92 70 92 70 92 72 92 72 93 74 93 74 94 82 94 83 93 85 93 85 92 88 92 94 86 94 85 96 83 96 82 97 82 97 80 97 80 97 78 98 77 98 75 99 75 99 72 103 72 103 48 99 47 99 44 98 43 98 41 97 41 97 38 97 38 96 33 95 33 95 32 94 31 94 30 93 30 92 27 91 26 91 24 89 23 89 22 81 13 79 13 78 12 77 12 77 11 75 11 75 10 73 10 72 9 64 9 63 10 61 10 61 11 58 11 57 10 55 10 55 9 54 9 52 8 51 8 51 7 49 7 49 6 48 6 47 5 46 5 46 4 44 4 43 3 41 3 41 3 37 3 36 2 31 2 31 3 28 3 27 3Z" fill="#08e814"/><path d="M-3 69 -3 103 39 103 39 98 40 97 40 94 41 93 41 90 40 90 40 85 39 85 39 83 38 82 38 81 36 80 36 79 34 77 34 75 33 74 32 74 30 72 28 72 27 70 26 70 26 69 23 69 23 69 21 69 21 68 17 68 16 67 8 67 8 68 4 68 4 69 2 69 1 69ZM33 9 31 11 31 13 30 13 30 15 31 15 31 18 32 18 33 21 35 23 35 25 37 26 38 26 41 30 42 30 43 31 44 31 45 32 46 32 49 35 49 36 50 37 50 39 51 39 51 53 52 54 52 57 53 58 53 61 54 61 54 63 54 64 54 65 55 65 55 67 56 68 56 69 57 69 58 72 59 74 59 75 61 76 61 77 68 84 69 84 69 85 71 85 71 86 72 86 73 87 74 87 74 87 83 87 84 87 85 87 85 86 88 85 92 82 92 80 93 79 93 78 94 77 94 76 95 76 95 74 96 74 96 72 97 72 97 69 97 68 97 62 98 62 98 55 97 55 97 49 97 48 97 44 96 44 96 42 95 41 94 37 93 36 93 35 92 35 92 33 92 33 92 32 91 31 90 28 88 27 88 26 81 18 79 18 78 17 77 17 77 16 74 16 74 15 65 15 65 16 64 16 63 17 57 17 56 16 54 15 52 13 49 13 48 11 47 11 46 10 44 10 44 9 42 9 41 8 34 8 34 9Z" fill="#98ec14"/><path d="M-3 74 -3 103 33 103 33 99 34 98 34 97 35 97 35 93 36 92 36 90 35 89 35 85 34 85 34 84 33 83 32 80 26 74 25 74 25 74 23 74 23 73 22 73 21 72 18 72 18 71 7 71 6 72 2 73ZM69 21 69 22 67 22 67 23 65 23 63 25 62 25 59 28 59 30 58 30 58 36 57 36 57 42 56 43 56 47 57 48 57 54 58 54 58 57 59 58 59 62 60 63 60 64 61 64 61 66 62 66 63 69 64 70 64 72 71 78 72 78 73 79 74 79 74 80 77 80 77 81 82 81 82 80 84 80 85 79 86 79 87 77 88 77 89 77 89 75 92 73 92 72 92 72 92 69 93 69 93 67 94 67 94 64 95 63 95 50 94 50 94 46 93 46 93 43 92 42 92 40 92 40 92 38 91 38 91 37 90 36 90 35 89 35 88 32 87 31 87 29 82 24 80 24 80 23 79 23 78 23 77 23 77 22 74 22 74 21ZM38 16 38 20 39 20 39 21 44 26 45 26 45 26 46 26 47 27 53 27 54 26 54 23 53 23 52 20 50 18 49 18 48 17 47 17 46 16 45 16 45 15 39 15Z" fill="#ffdc00"/><path d="M-3 79 -3 103 26 103 28 97 28 96 29 96 29 94 30 93 30 87 29 87 29 85 28 84 28 83 23 78 22 78 21 77 20 77 20 76 18 76 17 75 8 75 8 76 6 76 5 77 3 78 1 79ZM71 28 71 29 69 29 65 33 65 35 64 35 64 37 64 38 64 41 63 41 63 51 64 52 64 55 64 55 65 60 66 60 66 62 67 62 68 65 71 68 71 69 72 69 74 72 76 72 76 72 83 72 84 72 85 72 89 67 89 66 90 66 90 64 91 63 91 61 92 61 92 49 91 49 91 45 90 45 90 43 89 42 89 41 88 41 88 39 87 39 87 36 85 35 85 33 82 31 81 31 80 29 79 29 78 28Z" fill="#ff8c00"/><path d="M4 84 4 85 3 85 3 87 3 87 3 92 3 92 4 95 6 97 7 97 8 97 9 97 9 98 16 98 17 97 20 97 22 94 22 93 23 92 23 86 22 86 22 85 19 81 17 81 16 80 9 80 9 81 6 82ZM76 36 76 37 74 37 71 40 71 42 70 43 70 51 71 52 71 55 72 55 73 58 74 59 74 61 75 62 77 62 78 63 83 63 87 60 87 59 87 58 87 47 87 46 87 44 86 44 85 41 81 37Z" fill="#ff4600"/></g></svg><text x="75.89" y="98" class="lb">55<tspan font-size="4.8" dx="0.3" dy="-2.2">°</tspan></text><svg x="101.28" y="52.4" width="38.5" height="38.1" viewBox="0 0 100 100" preserveAspectRatio="none"><g opacity="0.999"><rect x="-5" y="-5" width="110" height="110" fill="#0810f2"/><path d="M-3 64 -3 103 36 103 36 88 36 87 36 85 35 84 35 82 34 82 33 79 31 77 31 76 29 74 29 73 27 71 26 71 24 69 23 69 21 67 20 67 20 66 18 66 18 65 16 65 15 64 13 64 12 64ZM18 3 16 4 15 4 13 7 13 8 12 8 12 11 11 12 11 15 12 15 12 19 13 19 13 21 13 21 13 22 14 23 15 26 17 27 17 28 26 37 27 37 28 39 30 39 31 40 31 42 33 44 34 44 34 45 36 45 36 54 37 54 37 60 38 60 38 63 38 64 38 67 39 67 40 72 41 72 41 73 42 74 42 76 43 76 44 79 45 80 46 83 49 85 49 87 54 92 56 92 58 95 59 95 59 96 61 96 61 97 62 97 63 97 65 97 65 98 68 98 69 99 75 99 75 98 79 98 79 97 82 97 82 97 85 96 86 94 87 94 93 88 93 87 95 86 95 85 97 83 97 82 97 82 97 80 98 80 98 79 99 78 99 77 103 77 103 29 99 29 99 28 98 27 98 25 97 25 97 23 97 23 96 20 94 19 94 18 92 16 92 15 89 12 89 11 87 9 86 9 83 6 82 6 81 4 79 4 79 3 77 3 77 3 75 3 75 2 71 2 71 1 64 1 64 2 61 2 61 3 59 3 58 3 57 3 56 4 54 5 51 8 49 8 49 8 48 8 47 7 46 7 46 6 44 6 44 7 42 7 41 6 40 6 40 5 38 5 38 4 37 4 36 3 33 3 33 3 30 3 30 2 21 2 21 3Z" fill="#14946c"/><path d="M-3 67 -3 103 32 103 32 98 33 97 33 89 32 88 32 85 31 85 31 83 31 82 30 79 28 78 28 77 22 71 21 71 20 69 18 69 18 69 16 69 15 68 14 68 14 67 10 67 10 66 3 66 3 67ZM18 7 16 8 16 10 15 10 15 12 14 13 14 16 15 17 15 20 16 20 16 22 18 23 18 26 21 28 21 30 25 34 26 34 28 36 30 36 31 38 32 38 33 40 35 40 35 41 38 41 41 44 41 51 42 52 42 58 43 59 43 62 44 62 44 65 44 65 44 67 45 68 45 69 46 69 46 72 47 72 47 73 48 74 49 77 50 78 50 79 53 81 53 82 57 87 58 87 60 89 62 89 62 90 63 90 64 91 65 91 65 92 68 92 69 92 77 92 78 92 82 91 83 90 84 90 86 87 87 87 92 83 92 82 93 81 93 79 95 78 95 77 96 77 96 75 97 75 97 73 97 72 97 71 98 71 98 68 99 67 99 64 103 64 103 40 99 40 99 37 98 36 98 33 97 33 97 32 97 31 97 29 96 29 96 28 95 27 95 26 94 26 94 24 93 24 92 21 90 19 90 18 84 12 83 12 82 10 80 10 80 9 79 9 78 8 77 8 77 8 74 8 74 7 64 7 63 8 61 8 61 8 58 9 56 12 54 12 53 13 50 13 50 13 49 13 48 12 45 11 44 9 43 9 42 8 41 8 41 8 39 8 39 7 37 7 36 6 34 6 34 5 30 5 30 4 23 4 23 5 21 5 21 6Z" fill="#08e814"/><path d="M-3 73 -3 103 25 103 25 99 26 98 26 95 26 95 26 89 26 88 26 85 25 85 25 84 24 83 23 80 17 74 16 74 15 74 14 74 14 73 12 73 11 72 2 72 1 73ZM24 13 23 13 23 15 23 15 23 21 23 22 24 25 27 27 27 28 29 31 31 31 33 33 34 33 34 34 36 34 36 35 37 35 38 36 39 36 39 36 42 37 45 40 45 42 46 43 46 53 47 54 47 58 48 59 48 62 49 62 49 67 50 67 50 68 51 69 51 70 52 70 53 73 54 74 54 76 61 82 62 82 64 84 65 84 65 85 67 85 67 86 70 86 70 87 77 87 78 86 82 85 84 83 85 83 91 77 91 76 92 75 92 74 93 73 93 72 94 72 94 70 95 70 95 68 96 67 96 65 97 65 97 61 97 61 97 54 98 54 98 49 97 49 97 42 97 41 97 38 96 38 96 35 95 35 95 33 94 32 94 31 93 31 93 29 92 29 92 28 92 27 91 24 89 23 89 22 83 16 82 16 81 14 79 14 79 13 78 13 77 13 75 13 75 12 66 12 66 13 64 13 63 13 60 14 59 16 58 16 56 18 54 18 53 20 49 20 49 19 48 19 46 17 44 17 43 15 42 15 41 13 39 13 39 13 37 13 36 12 33 12 33 11 28 11 27 12Z" fill="#98ec14"/><path d="M1 78 -3 79 -3 103 15 103 18 97 18 96 19 96 19 93 20 92 20 88 19 87 19 85 18 85 18 84 16 82 16 81 15 80 14 80 13 79 12 79 11 78 9 78 9 77 4 77 4 78ZM31 18 31 20 30 20 30 22 31 23 32 26 34 28 36 28 36 29 37 29 38 30 39 30 39 31 44 31 46 29 46 25 45 25 45 23 41 20 40 20 39 18 37 18 36 18 33 18 32 18ZM69 17 68 18 66 18 66 18 63 19 57 25 57 26 55 28 55 29 54 30 54 31 53 32 53 35 52 35 52 41 51 41 51 51 52 52 52 56 53 57 53 60 54 60 54 62 54 63 54 64 55 64 55 66 56 66 57 69 59 70 59 72 64 77 66 77 66 78 67 78 68 79 69 79 69 80 79 80 79 79 82 79 83 77 84 77 89 72 89 71 91 70 91 69 92 68 92 66 92 66 92 64 93 64 93 61 94 61 94 57 95 56 95 44 94 44 94 40 93 40 93 37 92 36 92 35 92 35 92 33 91 32 90 29 88 28 88 27 87 26 87 24 83 21 82 21 81 19 79 19 79 18 78 18 77 18 74 18 74 17Z" fill="#ffdc00"/><path d="M3 83 -3 86 -3 92 3 95 4 95 4 96 8 96 8 95 10 95 12 92 12 91 13 91 13 88 12 87 12 86 11 86 11 85 10 84 9 84 9 83ZM70 23 70 23 68 23 67 24 66 24 61 29 61 31 59 32 59 33 59 33 59 36 58 36 58 39 57 39 57 54 58 54 58 57 59 58 59 59 59 59 59 62 60 62 60 63 62 64 62 66 64 67 64 68 65 70 67 70 68 72 69 72 69 72 71 72 71 73 80 73 80 72 82 72 83 71 84 71 86 69 86 68 88 66 88 64 89 64 89 63 90 62 90 60 91 60 91 57 92 56 92 44 91 43 91 39 90 39 90 37 89 36 89 35 88 35 87 32 86 31 86 29 82 25 80 25 80 24 79 24 78 23 76 23 76 23Z" fill="#ff8c00"/><path d="M74 28 73 29 71 29 71 30 69 30 65 34 65 36 64 36 64 37 64 38 64 40 63 40 63 52 64 53 64 55 64 55 64 57 65 58 65 59 67 60 67 62 70 65 72 65 72 66 74 66 74 67 78 67 79 66 81 66 86 61 86 59 87 59 87 57 87 56 87 54 88 54 88 44 87 43 87 40 87 40 87 38 86 38 85 35 82 33 82 32 81 32 80 30 79 30 78 29Z" fill="#ff4600"/><path d="M74 36 74 37 73 37 71 38 71 40 70 40 70 41 69 42 69 51 70 51 70 53 72 54 72 56 73 56 74 56 74 57 76 57 76 58 79 58 79 57 81 57 82 56 82 54 83 54 83 53 84 52 84 43 83 42 82 39 80 37 79 37 78 36Z" fill="#ee0000"/></g></svg><text x="121.53" y="98" class="lb">60<tspan font-size="4.8" dx="0.3" dy="-2.2">°</tspan></text><svg x="146.92" y="52.4" width="38.5" height="38.1" viewBox="0 0 100 100" preserveAspectRatio="none"><g opacity="0.999"><rect x="-5" y="-5" width="110" height="110" fill="#0810f2"/><path d="M-3 67 -3 103 27 103 28 99 28 88 27 87 26 83 26 82 26 81 25 81 24 78 21 76 21 74 19 72 18 72 16 70 15 70 15 69 13 69 13 69 12 69 11 68 9 68 9 67ZM14 4 11 8 11 9 10 9 10 10 9 11 9 17 10 18 10 21 11 21 11 22 12 23 12 24 13 24 13 27 16 29 16 31 23 37 24 37 26 40 27 40 28 42 30 45 31 45 33 46 33 49 33 49 33 56 34 57 34 61 35 61 35 63 36 64 36 66 37 66 38 71 38 71 38 72 39 73 39 74 40 74 41 77 43 79 43 80 45 82 45 83 51 89 52 89 54 92 56 92 56 92 57 92 58 93 59 93 59 94 62 94 62 95 65 95 65 96 75 96 75 95 78 95 79 94 80 94 80 93 82 93 82 92 85 92 87 89 88 89 91 87 91 85 94 82 94 81 96 80 96 79 97 78 97 77 97 77 97 75 98 75 98 73 99 72 99 71 103 71 103 30 99 30 99 28 98 27 98 26 97 26 97 24 97 24 97 23 96 22 96 21 95 21 94 18 92 16 92 15 89 12 89 11 87 8 85 8 82 5 81 5 81 4 79 4 79 3 78 3 77 3 76 3 76 2 74 2 73 1 70 1 70 -3 62 -3 62 1 59 1 58 2 56 2 56 3 53 3 51 5 50 5 48 8 47 8 46 8 46 8 44 8 44 7 42 7 41 6 41 7 38 7 38 6 36 6 36 5 34 5 34 4 31 4 31 3 28 3 27 3 19 3 19 3Z" fill="#14946c"/><path d="M-3 70 -3 103 25 103 25 95 26 95 26 92 25 92 25 87 24 87 24 85 23 84 23 83 22 82 21 79 15 74 14 74 13 72 12 72 11 71 9 71 9 70ZM16 8 13 10 13 12 13 13 13 19 13 19 13 21 14 22 14 23 15 23 16 26 18 28 18 29 25 36 26 36 28 39 31 40 33 41 34 41 35 43 37 44 37 45 38 45 38 46 38 47 38 54 39 54 39 58 40 59 40 62 41 62 42 67 43 67 43 68 44 69 44 70 44 70 45 73 47 74 47 76 49 77 49 78 54 84 56 84 57 86 58 86 59 87 60 87 60 87 62 87 62 88 63 88 64 89 67 89 68 90 74 90 74 89 77 89 78 88 80 88 80 87 82 87 83 86 84 86 85 84 87 84 90 81 90 79 92 77 93 74 95 73 95 71 96 71 96 69 97 69 97 67 97 67 97 64 98 64 98 61 99 61 99 54 103 54 103 46 99 46 99 39 98 39 98 36 97 36 97 33 97 32 97 30 96 30 96 28 95 28 95 27 94 26 94 25 93 25 93 23 92 23 92 20 89 18 89 17 83 11 82 11 81 9 79 9 79 8 78 8 77 8 76 8 76 7 74 7 73 6 62 6 62 7 57 8 56 9 54 9 53 11 52 11 50 13 47 13 46 13 45 13 45 12 44 12 43 11 42 11 41 10 40 10 40 9 38 9 38 8 37 8 36 8 34 8 34 7 32 7 31 6 27 6 26 5 23 5 22 6 19 6 19 7Z" fill="#08e814"/><path d="M1 78 -3 79 -3 103 16 103 17 99 17 96 18 96 18 91 17 91 17 88 16 87 15 85 10 79 9 79 9 79 6 79 5 78ZM23 13 21 15 21 17 20 18 20 20 21 20 21 23 22 23 22 25 23 26 23 27 29 33 31 33 32 35 33 35 33 36 35 36 35 36 38 37 42 41 42 42 43 43 43 45 44 45 44 53 44 54 44 57 45 58 45 61 46 61 46 62 47 63 47 65 48 65 48 67 49 67 49 70 51 71 51 72 54 75 54 77 55 77 56 77 59 81 61 81 61 82 62 82 63 82 65 82 65 83 67 83 68 84 75 84 75 83 78 83 79 82 80 82 80 82 83 81 90 74 90 73 92 72 92 70 92 70 92 69 93 68 93 66 94 66 94 64 95 64 95 61 96 61 96 57 97 56 97 42 96 41 96 38 95 37 95 35 94 35 93 30 92 30 92 28 92 28 91 25 89 24 89 23 87 21 87 20 83 16 82 16 81 14 79 14 78 13 76 13 76 12 74 12 73 11 64 11 63 12 61 12 61 13 58 13 56 15 55 15 52 18 51 18 51 19 49 19 49 20 47 20 46 19 44 18 42 17 41 17 40 15 38 15 38 14 37 14 36 13 34 13 34 13 31 13 31 12 27 12 26 13 24 13 24 13Z" fill="#98ec14"/><path d="M1 86 -3 87 -3 103 8 103 10 98 10 96 10 96 10 91 10 91 10 90 7 87 6 87 5 86ZM28 20 28 24 29 24 29 26 33 30 35 30 35 31 36 31 37 31 42 31 44 30 44 27 43 26 43 25 41 24 41 23 40 23 38 20 37 20 36 19 34 19 34 18 31 18 31 19 29 19ZM66 16 66 17 64 17 63 18 60 18 54 25 54 26 52 28 52 29 50 30 50 31 49 32 49 35 49 35 49 51 49 52 49 56 50 56 51 61 52 61 52 62 53 63 53 64 54 64 54 67 57 69 57 71 59 73 61 73 62 75 63 75 64 77 67 77 67 77 70 77 70 78 74 78 74 77 77 77 78 77 80 77 80 76 82 76 88 69 88 68 90 67 90 65 91 65 91 63 92 62 92 60 92 60 92 57 93 56 93 41 92 41 92 37 92 36 92 34 91 34 91 33 90 32 90 31 89 31 88 28 87 26 87 25 81 19 79 19 79 18 78 18 77 18 76 18 76 17 74 17 73 16Z" fill="#ffdc00"/><path d="M68 22 67 23 65 23 65 23 64 23 59 28 59 30 57 31 57 32 56 33 56 35 55 35 55 37 54 38 54 52 55 53 55 56 56 56 56 58 57 59 58 62 59 63 59 64 64 69 66 69 66 70 67 70 68 71 70 71 70 72 77 72 77 71 79 71 80 69 82 69 86 65 86 64 87 62 87 61 88 61 88 59 89 58 89 56 90 56 90 49 91 49 91 47 90 46 90 40 89 40 89 38 88 37 88 35 87 35 87 32 85 31 85 29 80 24 79 24 77 23 75 23 75 22Z" fill="#ff8c00"/><path d="M71 28 71 28 69 28 68 29 67 29 63 33 63 35 62 35 62 36 61 37 61 40 60 40 60 51 61 51 61 53 62 54 62 56 63 56 63 57 64 59 64 60 67 62 68 62 69 63 70 63 70 64 72 64 73 65 76 65 76 64 78 64 79 63 80 63 84 59 84 58 85 57 85 55 86 55 86 53 87 52 87 42 86 41 86 39 85 39 85 37 84 36 84 35 82 34 82 33 80 30 79 30 77 28 75 28 75 28Z" fill="#ff4600"/><path d="M72 35 72 36 70 36 69 37 69 38 68 39 68 41 67 42 67 48 68 49 68 51 69 51 69 52 69 53 69 54 70 55 72 55 73 56 77 56 78 56 79 56 81 54 81 53 82 52 82 51 82 51 82 42 82 41 81 38 77 35Z" fill="#ee0000"/></g></svg><text x="167.17" y="98" class="lb">65<tspan font-size="4.8" dx="0.3" dy="-2.2">°</tspan></text><svg x="192.56" y="52.4" width="38.5" height="38.1" viewBox="0 0 100 100" preserveAspectRatio="none"><g opacity="0.999"><rect x="-5" y="-5" width="110" height="110" fill="#0810f2"/><path d="M-3 73 -3 103 21 103 21 91 21 91 21 88 20 87 20 86 19 86 19 84 17 82 17 81 11 75 10 75 10 74 8 74 8 74 6 74 5 73ZM-3 9 -3 34 1 34 1 36 3 37 4 37 7 41 8 41 9 42 10 42 11 43 12 43 13 44 14 44 14 45 16 45 17 46 19 46 19 46 21 46 21 48 23 50 27 51 28 53 28 54 28 56 29 56 29 58 30 59 30 60 31 60 31 62 32 62 33 65 34 66 34 67 42 75 43 75 45 77 46 77 47 78 48 78 49 79 50 79 50 80 51 80 52 81 56 82 57 82 61 82 61 83 73 83 74 82 77 82 78 82 82 81 83 80 84 80 85 79 87 78 89 77 90 77 91 75 92 75 97 71 97 69 99 67 99 66 103 66 103 28 98 27 98 26 97 25 97 23 91 18 90 18 88 16 87 16 86 14 85 14 84 13 83 13 82 13 81 13 81 12 79 12 78 11 74 10 73 9 67 9 67 8 63 8 62 9 56 9 56 10 53 10 52 11 50 11 50 12 49 12 48 13 46 13 45 11 44 11 43 10 41 10 41 11 39 11 39 10 38 10 37 9 36 9 36 8 34 8 34 8 33 8 32 7 30 7 30 6 27 6 26 5 23 5 23 4 11 4 10 5 8 5 7 6 5 6 5 7 2 8Z" fill="#14946c"/><path d="M-3 76 -3 103 20 103 20 95 19 95 19 91 18 91 18 88 17 87 16 85 15 83 15 82 11 79 10 79 9 77 7 77 6 76ZM-3 14 -3 29 1 29 1 31 3 32 3 33 7 37 8 37 10 40 11 40 12 41 13 41 13 41 15 41 15 42 16 42 17 43 19 43 19 44 21 44 22 45 26 45 26 46 29 46 29 46 31 46 33 49 33 51 33 51 33 54 34 54 34 56 35 57 35 58 36 59 37 62 38 63 38 64 42 67 42 68 43 69 44 69 47 72 48 72 49 74 51 74 51 75 52 75 53 76 55 76 55 77 56 77 57 77 60 77 60 78 67 78 67 79 69 79 69 78 76 78 76 77 79 77 79 77 81 77 81 76 83 76 85 74 87 73 90 71 91 71 94 67 94 66 96 65 96 64 97 62 97 61 98 61 98 59 99 59 99 57 103 56 103 38 99 37 99 35 98 35 98 33 97 33 97 30 95 29 95 28 87 20 86 20 85 18 84 18 83 18 82 18 82 17 80 17 80 16 79 16 78 15 76 15 76 14 73 14 72 13 59 13 58 14 55 14 55 15 53 15 52 16 51 16 51 17 49 17 49 18 45 18 45 17 42 16 41 14 39 14 38 13 37 13 36 12 35 12 35 11 33 11 33 10 32 10 31 9 29 9 29 8 27 8 26 8 23 8 22 7 13 7 13 8 9 8 9 8 8 8 7 9 4 10Z" fill="#08e814"/><path d="M-3 87 -3 103 10 103 10 94 10 93 9 90 6 88 5 88 5 87ZM8 18 8 19 8 19 8 21 7 21 7 25 8 25 8 27 8 28 8 29 10 30 10 31 12 33 13 33 14 35 15 35 17 36 18 36 18 37 21 37 21 38 24 38 24 39 34 39 36 41 36 42 37 43 37 46 38 46 38 51 38 51 38 54 39 54 39 56 40 56 40 57 41 58 42 61 44 62 44 63 48 67 49 67 51 70 52 70 53 71 54 71 54 72 56 72 56 72 58 72 59 73 61 73 61 74 65 74 65 75 72 75 72 74 77 74 77 73 79 73 79 72 81 72 81 72 82 72 83 71 86 70 89 67 90 67 90 65 93 62 93 61 94 61 94 59 95 59 95 58 96 57 96 56 97 56 97 53 97 52 97 42 97 41 97 38 96 38 96 36 95 36 95 34 94 34 93 31 91 29 91 28 87 24 86 24 84 22 83 22 82 21 81 21 81 20 79 20 79 19 77 19 77 18 74 18 74 18 70 18 70 17 63 17 62 18 59 18 58 18 54 19 53 20 52 20 51 22 49 22 49 23 48 23 47 23 46 23 46 24 41 24 36 18 34 18 33 17 32 17 31 16 30 16 30 15 28 15 27 14 25 14 25 13 15 13 15 14 13 14 11 16 10 16Z" fill="#98ec14"/><path d="M59 22 59 23 58 23 57 23 56 23 56 24 53 25 51 28 49 28 49 28 49 30 46 32 46 33 45 33 45 35 44 35 44 36 44 37 44 40 43 40 43 50 44 50 44 55 45 55 46 58 49 60 49 62 51 64 52 64 54 66 55 66 56 67 57 67 58 68 60 68 60 69 62 69 63 70 68 70 69 71 70 71 70 70 76 70 76 69 81 68 82 67 83 67 85 65 86 65 89 62 89 60 91 59 91 58 92 57 92 56 92 56 92 54 93 54 93 51 94 51 94 43 93 42 93 39 92 39 92 37 92 36 92 35 90 34 90 33 88 31 88 30 86 28 85 28 82 25 81 25 81 24 79 24 79 23 78 23 77 23 75 23 75 22 72 22 72 21 64 21 63 22ZM16 23 16 27 19 31 21 31 21 31 22 31 23 32 30 32 32 30 32 25 28 21 26 21 26 20 18 20Z" fill="#ffdc00"/><path d="M62 26 62 27 60 27 60 28 57 28 56 30 54 30 53 32 53 33 50 35 50 36 49 37 49 39 49 39 49 44 48 44 49 45 49 51 49 51 49 52 50 53 51 56 53 57 53 58 55 61 56 61 58 62 59 62 59 63 61 63 61 64 62 64 63 65 66 65 66 66 74 66 74 65 79 64 79 63 81 63 82 62 83 62 87 58 87 57 87 56 87 55 88 55 88 54 89 53 89 51 90 51 90 42 89 41 89 39 88 39 88 38 87 37 87 34 82 29 80 29 80 28 79 28 78 28 77 28 77 27 74 27 74 26 70 26 70 25 67 25 67 26Z" fill="#ff8c00"/><path d="M64 31 63 32 62 32 61 33 59 33 57 36 57 37 56 38 56 39 55 39 55 41 54 41 54 49 55 49 55 51 56 51 57 54 60 57 62 57 63 59 65 59 65 60 67 60 68 61 73 61 74 60 77 60 77 59 80 58 83 55 83 54 84 53 84 52 85 51 85 50 86 50 86 43 85 42 85 40 84 40 83 37 80 33 79 33 77 32 75 32 75 31 72 31 72 30 67 30 67 31Z" fill="#ff4600"/><path d="M66 37 62 41 62 48 63 49 64 51 64 52 66 52 66 53 67 53 68 54 70 54 70 55 72 55 73 54 76 54 77 52 78 52 79 51 79 50 80 50 80 49 81 48 81 43 80 42 80 41 76 37 74 37 73 36 69 36 68 37Z" fill="#ee0000"/></g></svg><text x="212.81" y="98" class="lb">70<tspan font-size="4.8" dx="0.3" dy="-2.2">°</tspan></text><svg x="238.2" y="52.4" width="38.5" height="38.1" viewBox="0 0 100 100" preserveAspectRatio="none"><g opacity="0.999"><rect x="-5" y="-5" width="110" height="110" fill="#0810f2"/><path d="M1 74 -3 74 -3 103 20 103 20 94 19 93 19 90 18 89 18 87 17 87 17 85 16 85 16 84 15 83 15 80 11 77 10 77 9 75 8 75 7 74 4 74 4 74ZM-3 8 -3 36 3 38 4 38 6 41 7 41 8 42 10 42 10 43 11 43 12 44 13 44 13 45 15 45 16 46 17 46 18 46 20 46 20 49 26 51 27 52 27 54 28 54 28 56 28 56 28 57 29 58 29 59 30 59 31 62 33 64 33 66 38 71 40 71 42 73 43 73 44 75 46 75 46 76 47 76 48 77 49 77 49 77 54 78 54 79 57 79 58 80 64 80 64 81 67 81 68 80 74 80 74 79 77 79 78 78 80 78 80 77 82 77 83 77 86 76 87 74 88 74 90 72 92 72 95 68 95 67 97 65 97 64 98 63 98 62 99 62 99 60 103 60 103 32 99 31 99 30 98 30 97 27 96 26 96 24 87 16 86 16 85 14 84 14 82 13 81 13 81 12 79 12 79 11 77 11 77 10 74 10 74 9 71 9 71 8 67 8 67 8 57 8 56 8 53 8 52 9 49 9 49 10 47 10 46 11 45 11 44 12 44 11 43 11 41 9 35 9 35 8 33 8 33 8 32 8 31 7 29 7 29 6 26 6 26 5 22 5 21 4 10 4 10 5 7 5 6 6 4 6 4 7 3 7 2 8 1 8Z" fill="#14946c"/><path d="M-3 84 -3 103 12 103 12 93 11 92 11 90 10 90 10 89 9 87 9 86 8 85 7 85 6 85 5 85 5 84ZM-3 13 -3 31 1 31 1 32 7 38 8 38 9 40 10 40 11 41 12 41 13 41 14 41 14 42 15 42 16 43 18 43 18 44 21 44 21 45 24 45 24 46 27 46 28 46 29 46 31 49 31 50 32 50 32 52 33 53 33 55 33 55 34 58 36 59 36 61 38 63 38 64 43 68 44 68 45 70 46 70 48 72 49 72 49 72 51 72 51 73 52 73 53 74 55 74 55 75 58 75 59 76 63 76 64 77 70 77 70 76 75 76 75 75 78 75 79 74 80 74 80 73 82 73 82 72 85 72 86 70 87 70 93 64 93 63 95 62 95 60 96 60 96 59 97 58 97 57 97 56 97 54 98 54 98 50 99 50 99 43 98 42 98 38 97 38 97 33 96 33 95 30 93 29 93 28 90 25 90 23 89 23 88 23 85 19 84 19 82 18 81 18 81 17 79 17 79 16 78 16 77 15 75 15 75 14 73 14 72 13 69 13 69 13 57 13 56 13 54 13 53 14 51 14 51 15 49 15 48 16 44 17 43 16 42 16 41 15 38 14 37 13 36 13 36 12 34 12 34 11 33 11 32 10 31 10 31 9 28 9 28 8 26 8 26 8 22 8 21 7 13 7 12 8 8 8 8 8 7 8 6 9 3 10 2 12 1 12Z" fill="#08e814"/><path d="M7 18 7 21 6 21 6 26 7 26 7 27 8 28 8 31 12 34 13 34 14 36 15 36 16 36 17 36 18 37 20 37 20 38 23 38 23 39 31 39 32 40 33 40 35 42 35 43 36 44 36 46 37 46 37 49 38 49 38 52 38 53 38 54 39 54 40 57 42 59 42 60 49 67 51 67 53 69 55 69 55 70 56 70 57 71 60 71 60 72 65 72 65 72 70 72 70 72 75 72 75 71 77 71 78 70 79 70 79 69 81 69 81 68 84 67 91 61 91 59 92 59 92 58 92 57 92 56 93 56 93 54 94 54 94 50 95 50 95 43 94 42 94 38 93 38 93 37 92 36 92 34 91 33 90 30 83 23 82 23 81 22 79 22 79 21 78 21 77 20 76 20 76 19 74 19 73 18 70 18 70 18 59 18 58 18 55 18 55 19 53 19 52 20 51 20 51 21 49 21 49 22 48 22 47 23 46 23 46 23 39 23 36 19 34 19 32 17 31 17 31 16 29 16 29 15 27 15 26 14 24 14 24 13 14 13 14 14 12 14 11 15 10 15Z" fill="#98ec14"/><path d="M56 24 56 25 53 26 51 28 50 28 47 31 47 32 45 33 45 35 44 35 44 37 44 38 44 40 43 40 43 47 44 48 44 51 44 51 44 53 45 54 45 55 47 56 47 57 52 62 53 62 54 64 56 64 56 65 57 65 58 66 60 66 60 67 62 67 63 67 73 67 74 67 76 67 76 66 78 66 79 65 80 65 81 63 82 63 87 59 87 58 88 56 88 55 89 55 89 53 90 52 90 49 91 48 91 45 90 45 90 40 89 40 89 38 88 38 88 36 87 35 87 33 81 28 79 28 78 26 77 26 77 25 75 25 75 24 73 24 72 23 68 23 67 23 63 23 62 23 59 23 58 24ZM15 22 15 24 14 24 15 25 15 27 18 31 20 31 20 31 21 31 22 32 28 32 28 31 30 31 31 30 31 25 28 22 27 22 26 21 25 21 25 20 18 20 17 21 16 21Z" fill="#ffdc00"/><path d="M56 32 53 35 53 36 51 38 51 40 50 40 50 44 49 44 50 45 50 50 51 50 51 51 52 52 53 55 57 59 58 59 59 60 60 60 60 61 62 61 62 62 64 62 64 62 72 62 73 62 77 61 79 59 80 59 82 56 82 55 84 54 84 53 85 52 85 49 86 49 86 44 85 44 85 41 84 41 83 38 82 36 82 35 80 33 79 33 77 32 76 32 76 31 74 31 74 30 73 30 72 29 61 29 61 30 59 30 59 31Z" fill="#ff8c00"/><path d="M65 36 65 37 62 38 59 40 59 41 59 42 59 44 58 44 58 47 59 48 59 50 59 50 59 51 63 55 64 55 64 56 67 56 67 56 72 56 73 56 76 55 79 51 79 49 80 49 80 44 79 44 79 42 75 38 74 38 73 37 72 37 72 36Z" fill="#ff4600"/></g></svg><text x="258.45" y="98" class="lb">75<tspan font-size="4.8" dx="0.3" dy="-2.2">°</tspan></text><svg x="283.84" y="52.4" width="38.5" height="38.1" viewBox="0 0 100 100" preserveAspectRatio="none"><g opacity="0.999"><rect x="-5" y="-5" width="110" height="110" fill="#0810f2"/><path d="M-3 -3 -3 51 2 51 3 51 6 51 7 51 10 51 10 50 11 50 12 49 13 49 13 50 16 50 18 48 18 49 20 49 21 51 24 51 25 53 26 53 27 54 28 54 28 55 30 55 30 56 31 56 32 56 33 56 33 57 35 57 35 58 36 58 37 59 39 59 39 60 41 60 41 61 42 61 43 62 45 62 45 62 47 62 48 63 50 63 50 64 52 64 53 65 55 65 55 66 58 66 59 67 62 67 62 67 66 67 66 68 72 68 72 69 86 69 86 68 90 68 90 67 95 67 95 66 97 66 99 63 103 63 103 27 95 27 94 28 92 28 92 28 90 28 90 28 85 28 83 26 82 26 80 23 79 23 77 22 76 22 75 20 74 20 72 18 71 18 70 17 69 17 68 16 65 15 64 13 63 13 62 13 61 13 61 12 59 12 59 11 58 11 57 10 55 10 55 9 54 9 53 8 52 8 51 8 49 8 49 7 48 7 47 6 45 6 45 5 43 5 42 4 40 4 40 3 38 3 37 3 34 3 34 2 31 2 31 1 27 1 26 -3Z" fill="#14946c"/><path d="M-3 3 -3 47 1 47 2 48 7 48 8 47 10 47 10 46 11 46 12 46 13 46 13 45 15 45 15 44 18 44 18 45 20 45 21 46 22 46 23 48 25 48 26 50 27 50 28 51 30 51 30 52 31 52 32 53 33 53 33 54 35 54 35 55 36 55 37 56 38 56 38 56 40 56 40 57 41 57 42 58 44 58 44 59 46 59 46 60 48 60 49 61 51 61 51 62 53 62 54 62 56 62 56 63 59 63 59 64 62 64 63 65 67 65 67 66 73 66 74 67 82 67 82 66 87 66 87 65 90 65 90 64 93 63 95 62 96 62 99 58 99 57 103 56 103 34 99 33 96 33 96 34 93 34 92 35 88 34 87 33 85 33 82 29 81 29 79 27 78 27 76 24 74 24 73 23 70 22 69 20 66 19 65 18 64 18 63 17 62 17 62 16 60 16 60 15 59 15 58 14 56 14 56 13 54 13 54 13 53 13 52 12 48 11 47 10 46 10 46 9 43 9 42 8 40 8 40 8 37 8 36 7 33 7 33 6 28 6 28 5 18 5 18 4 14 4 14 3 12 3 11 3 9 3 9 2 2 2 1 3Z" fill="#08e814"/><path d="M-3 13 -3 36 1 36 2 36 7 36 8 36 12 36 13 36 14 36 14 37 17 38 18 40 20 40 23 44 25 44 27 46 28 46 29 48 32 49 33 51 35 51 35 51 36 51 37 52 38 52 38 53 40 53 40 54 41 54 42 55 43 55 44 56 45 56 45 56 46 56 47 57 49 57 49 58 51 58 52 59 54 59 54 60 56 60 57 61 59 61 59 62 62 62 63 62 67 62 68 63 83 63 84 62 87 62 87 62 88 62 90 60 91 60 92 58 92 57 93 56 93 54 94 54 94 49 93 48 93 46 92 45 92 44 89 41 89 40 82 33 81 33 77 29 76 29 75 28 74 28 72 26 71 26 70 24 69 24 68 23 65 23 64 21 63 21 62 20 61 20 61 19 59 19 59 18 57 18 56 18 55 18 55 17 54 17 53 16 51 16 51 15 49 15 48 14 46 14 46 13 43 13 42 13 39 13 39 12 36 12 36 11 28 11 28 10 23 10 22 11 5 11 5 12 3 12 1 13Z" fill="#98ec14"/><path d="M18 23 18 29 18 29 18 31 19 31 20 34 23 37 23 38 26 41 27 41 31 45 32 45 33 46 35 46 36 48 37 48 38 50 40 50 40 51 41 51 42 51 43 51 44 52 45 52 45 53 46 53 47 54 48 54 49 55 51 55 51 56 52 56 53 56 55 56 55 57 57 57 58 58 61 58 61 59 64 59 64 60 69 60 69 61 79 61 79 60 82 60 83 59 86 58 88 56 88 54 89 54 89 49 88 48 88 47 87 46 87 44 85 42 85 41 77 33 76 33 74 31 73 31 72 29 70 29 69 28 68 28 67 27 66 27 66 26 64 26 64 25 63 25 62 24 61 24 61 23 59 23 59 23 58 23 57 22 55 22 55 21 54 21 53 20 51 20 51 19 49 19 48 18 45 18 45 18 41 18 41 17 35 17 35 16 29 16 29 17 25 17 25 18 23 18 22 18 21 18 18 21 18 22Z" fill="#ffdc00"/><path d="M28 27 28 32 28 33 28 35 30 36 30 37 38 45 39 45 40 46 41 46 43 48 46 49 47 51 48 51 49 51 50 51 50 52 52 52 53 53 54 53 54 54 56 54 57 55 59 55 59 56 62 56 62 56 66 56 66 57 78 57 79 56 81 56 84 53 84 48 83 47 83 45 82 44 82 43 75 36 74 36 72 33 70 33 69 32 68 32 67 31 64 30 63 28 61 28 61 28 59 28 59 27 58 27 57 26 55 26 55 25 53 25 52 24 49 24 49 23 46 23 46 23 33 23 33 23 30 24Z" fill="#ff8c00"/><path d="M38 32 38 37 40 38 40 40 46 46 47 46 49 47 50 47 50 48 51 48 52 49 53 49 54 50 55 50 55 51 56 51 57 51 58 51 59 52 62 52 62 53 64 53 64 54 76 54 76 53 77 53 79 51 79 47 78 46 78 45 77 44 77 43 73 39 72 39 70 37 69 37 67 35 66 35 66 34 64 34 64 33 63 33 62 33 61 33 61 32 59 32 58 31 56 31 56 30 53 30 52 29 42 29 41 30 40 30Z" fill="#ff4600"/><path d="M50 38 50 41 51 41 51 42 55 46 56 46 57 47 58 47 59 48 60 48 60 49 62 49 62 50 65 50 65 51 72 51 73 49 73 46 72 46 72 44 70 42 69 42 67 40 66 40 66 39 64 39 64 38 63 38 62 38 60 38 60 37 56 37 56 36 54 36 53 37 51 37Z" fill="#ee0000"/></g></svg><text x="304.09" y="98" class="lb">80<tspan font-size="4.8" dx="0.3" dy="-2.2">°</tspan></text><svg x="329.48" y="52.4" width="38.5" height="38.1" viewBox="0 0 100 100" preserveAspectRatio="none"><g opacity="0.999"><rect x="-5" y="-5" width="110" height="110" fill="#0810f2"/><path d="M-3 -3 -3 51 2 51 3 51 6 51 7 51 10 51 10 50 11 50 12 49 13 50 16 50 17 49 19 49 20 51 21 51 23 52 24 52 24 53 26 53 26 54 27 54 28 55 29 55 29 56 31 56 31 56 32 56 33 57 34 57 34 58 36 58 36 59 37 59 38 60 40 60 40 61 41 61 42 62 44 62 44 62 46 62 47 63 48 63 49 64 51 64 52 65 54 65 54 66 57 66 58 67 61 67 61 67 65 67 65 68 71 68 71 69 85 69 85 68 89 68 90 67 94 67 95 65 97 65 98 63 103 63 103 27 94 27 93 28 91 28 91 28 90 28 87 28 87 28 85 28 83 27 82 27 79 23 78 23 77 22 75 22 74 20 73 20 72 18 69 18 67 16 66 16 66 15 64 15 64 14 63 14 62 13 61 13 61 13 59 13 59 12 58 12 57 11 56 11 56 10 54 10 54 9 53 9 52 8 51 8 51 8 49 8 48 7 46 7 46 6 44 6 44 5 42 5 41 4 39 4 39 3 36 3 36 3 33 3 33 2 30 2 30 1 26 1 26 -3Z" fill="#14946c"/><path d="M-3 3 -3 47 1 47 2 48 7 48 8 47 10 47 10 46 11 46 12 46 13 46 13 45 17 45 18 46 21 46 22 48 23 48 24 50 27 51 28 52 30 52 30 53 31 53 32 54 33 54 33 55 35 55 35 56 36 56 37 56 39 56 39 57 41 57 41 58 42 58 43 59 45 59 45 60 47 60 48 61 50 61 50 62 52 62 53 62 55 62 55 63 58 63 59 64 62 64 63 65 67 65 68 66 82 66 83 65 86 65 86 64 88 64 89 63 90 63 91 62 92 62 93 61 95 61 95 60 99 60 103 59 103 29 99 28 97 28 97 29 93 29 92 30 91 30 91 31 90 31 89 32 88 32 87 33 84 33 82 30 80 30 77 27 76 27 74 24 73 24 72 23 70 23 69 21 68 21 67 20 66 20 65 18 64 18 63 18 62 18 62 17 60 17 60 16 59 16 58 15 57 15 56 14 55 14 55 13 54 13 53 13 51 13 51 12 49 12 49 11 47 11 46 10 44 10 44 9 42 9 41 8 39 8 39 8 37 8 36 7 33 7 33 6 29 6 29 5 23 5 23 4 15 4 15 3 13 3 12 3 9 3 9 2 1 2Z" fill="#08e814"/><path d="M-3 13 -3 36 1 36 2 36 10 36 11 37 13 37 13 38 15 38 15 39 18 40 20 42 21 42 23 45 25 45 26 46 27 46 28 48 31 49 33 51 34 51 34 51 36 51 36 52 37 52 38 53 39 53 39 54 41 54 41 55 43 55 44 56 45 56 45 56 47 56 48 57 50 57 50 58 52 58 53 59 55 59 55 60 58 60 59 61 62 61 63 62 79 62 79 61 84 60 87 56 88 56 92 52 95 52 95 51 103 51 103 37 95 37 93 38 92 38 90 41 86 41 84 38 83 38 75 30 74 30 72 28 70 28 69 26 68 26 67 24 65 24 65 23 62 23 61 21 59 21 59 20 58 20 57 19 56 19 56 18 54 18 53 18 52 18 51 17 50 17 50 16 48 16 47 15 45 15 45 14 43 14 42 13 40 13 40 13 37 13 36 12 33 12 32 11 23 11 23 10 22 11 18 11 18 10 6 10 5 11 3 11 3 12Z" fill="#98ec14"/><path d="M17 21 17 22 16 23 16 28 17 28 17 31 18 32 18 33 20 34 20 36 26 41 27 41 29 44 31 44 32 46 33 46 34 47 36 47 36 48 37 48 38 49 39 49 39 50 41 50 41 51 42 51 43 51 44 51 44 52 46 52 46 53 48 53 49 54 51 54 51 55 53 55 54 56 56 56 56 56 60 56 60 57 67 57 68 58 69 58 69 57 75 57 75 56 77 56 79 55 80 55 80 54 82 52 82 47 81 46 81 44 80 44 80 43 78 41 78 40 71 33 69 33 67 30 66 30 65 28 62 28 61 26 59 26 59 25 58 25 57 24 56 24 56 23 54 23 54 23 52 23 51 22 50 22 50 21 48 21 47 20 45 20 45 19 42 19 41 18 38 18 38 18 33 18 32 17 26 17 26 18 22 18 21 18 18 19Z" fill="#ffdc00"/><path d="M27 28 27 33 28 33 28 35 29 36 29 37 33 41 35 41 37 44 38 44 39 46 41 46 41 46 42 46 43 47 44 47 44 48 46 48 46 49 47 49 48 50 49 50 49 51 51 51 52 51 54 51 54 52 58 52 59 53 69 53 69 52 72 51 73 51 73 49 74 49 74 45 73 45 72 42 65 34 64 34 62 33 61 33 60 31 59 31 58 30 57 30 56 29 55 29 55 28 54 28 53 28 51 28 51 27 49 27 49 26 46 26 46 25 43 25 42 24 31 24 31 25 29 25Z" fill="#ff8c00"/><path d="M38 33 38 37 39 38 39 39 43 42 44 42 45 44 46 44 47 45 48 45 49 46 50 46 50 46 51 46 52 47 55 47 55 48 63 48 64 47 65 47 65 46 66 46 66 44 65 44 64 41 62 38 60 38 58 36 57 36 56 35 55 35 55 34 54 34 53 33 51 33 51 33 48 33 47 32 41 32 41 33 39 33Z" fill="#ff4600"/></g></svg><text x="349.73" y="98" class="lb">85<tspan font-size="4.8" dx="0.3" dy="-2.2">°</tspan></text><svg x="375.12" y="52.4" width="38.5" height="38.1" viewBox="0 0 100 100" preserveAspectRatio="none"><g opacity="0.999"><rect x="-5" y="-5" width="110" height="110" fill="#0810f2"/><path d="M-3 -3 -3 52 1 53 8 53 8 52 10 52 11 51 14 51 14 52 15 52 16 51 17 51 18 51 18 51 21 52 23 54 24 54 24 55 26 55 26 56 27 56 28 56 29 56 29 57 31 57 31 58 33 58 33 59 35 59 35 60 36 60 37 61 39 61 39 62 41 62 41 62 43 62 44 63 46 63 46 64 48 64 49 65 51 65 51 66 54 66 54 67 57 67 58 67 62 67 63 68 71 68 71 69 75 69 75 68 82 68 82 67 84 67 85 67 86 67 86 66 87 66 88 65 91 65 91 66 92 66 93 67 97 67 98 65 99 65 103 64 103 26 99 26 98 25 97 25 97 26 93 26 92 27 91 27 90 28 89 28 87 31 84 31 83 32 83 33 82 33 73 24 72 24 69 21 68 21 66 18 64 18 63 17 62 17 61 15 59 15 58 13 57 13 56 12 54 12 54 11 51 10 50 8 49 8 48 8 47 8 46 7 45 7 45 6 44 6 43 5 42 5 41 4 40 4 40 3 38 3 37 3 36 3 36 2 34 2 34 1 32 1 31 -3Z" fill="#14946c"/><path d="M-3 -3 -3 49 1 50 8 50 8 49 10 49 10 48 11 48 12 47 14 47 14 46 15 46 16 47 18 47 18 48 20 48 21 50 22 50 23 51 24 51 24 51 26 51 26 52 27 52 28 53 29 53 29 54 31 54 31 55 32 55 33 56 34 56 34 56 36 56 36 57 38 57 38 58 40 58 40 59 42 59 43 60 45 60 45 61 47 61 48 62 50 62 50 62 53 62 54 63 56 63 57 64 62 64 63 65 74 65 74 64 78 64 79 63 80 63 80 62 83 62 88 56 89 56 90 56 93 56 94 56 103 56 103 33 95 33 95 34 92 35 90 37 90 38 89 39 89 41 87 42 85 42 77 34 77 33 72 28 71 28 67 23 65 23 63 21 62 21 61 19 59 19 58 18 57 18 56 16 53 15 51 13 50 13 50 13 49 13 48 12 47 12 46 11 45 11 45 10 44 10 43 9 42 9 41 8 40 8 40 8 38 8 38 7 37 7 36 6 32 5 31 4 30 4 30 3 28 3 27 3 25 3 25 2 22 2 21 1 18 1 18 -3Z" fill="#08e814"/><path d="M-3 8 -3 36 1 37 2 37 3 38 5 38 5 39 12 39 13 40 15 40 15 41 16 41 17 41 19 41 20 43 21 43 23 45 26 46 27 47 28 47 28 48 30 48 30 49 31 49 32 50 33 50 33 51 35 51 35 51 36 51 37 52 39 52 39 53 41 53 41 54 43 54 44 55 46 55 46 56 49 56 49 56 52 56 53 57 59 57 59 58 64 58 64 57 68 57 69 56 71 56 72 55 73 55 73 54 75 52 75 45 74 45 74 44 73 43 72 40 71 39 71 38 67 34 67 33 65 33 60 27 59 27 56 24 55 24 54 23 53 23 51 21 49 20 47 18 46 18 46 18 44 18 44 17 43 17 42 16 41 16 41 15 38 15 38 14 37 14 36 13 35 13 35 13 33 13 32 12 30 12 30 11 27 11 26 10 23 10 23 9 19 9 19 8 16 8 15 8 12 8 11 7 3 7 3 8 1 8Z" fill="#98ec14"/><path d="M12 23 12 25 13 25 13 28 16 30 16 31 23 38 24 38 26 41 27 41 28 42 31 43 33 45 34 45 34 46 36 46 36 46 38 46 38 47 40 47 40 48 42 48 43 49 45 49 45 50 48 50 49 51 59 51 59 50 61 50 63 47 63 42 62 41 62 40 61 39 61 38 53 30 52 30 50 28 49 28 47 26 46 26 46 25 44 25 44 24 43 24 42 23 41 23 41 23 39 23 39 22 38 22 37 21 35 21 35 20 33 20 32 19 29 19 29 18 17 18 16 19 15 19Z" fill="#ffdc00"/><path d="M27 29 27 32 28 33 28 34 32 38 33 38 34 40 36 40 36 41 37 41 38 41 39 41 39 42 41 42 41 43 44 43 44 44 50 44 51 42 51 39 51 39 51 38 46 33 43 32 41 30 39 30 39 29 38 29 37 28 34 28 34 28 28 28Z" fill="#ff8c00"/></g></svg><text x="395.37" y="98" class="lb">90<tspan font-size="4.8" dx="0.3" dy="-2.2">°</tspan></text><rect x="9.2" y="4.6" width="17.0" height="19.1" fill="#fff"/><text x="9.7" y="20.2" class="pl">(a)</text><text x="415.7" y="58.9" class="ca">Constant Angle:φ<tspan font-size="5" dy="1.5">2</tspan></text><path d="M419.6 64.3 H437.1 M419.6 64.3 V80.8" stroke="#000" stroke-width="0.7" fill="none"/><path d="M440.8 64.3 l-4 -1.8 v3.6z M419.6 84.5 l-1.8 -4 h3.6z" fill="#000"/><text x="433" y="73.8" class="ca">φ<tspan font-size="5" dy="1.5">1</tspan><tspan dy="-1.5">(0°~90°)</tspan></text><text x="418.6" y="92.8" class="ca">Φ(0°~90°)</text><rect x="475.8" y="9" width="17.5" height="10.32" fill="#ee0000" stroke="#111" stroke-width="1.05"/><rect x="475.8" y="19.32" width="17.5" height="10.32" fill="#ff4600" stroke="#111" stroke-width="1.05"/><rect x="475.8" y="29.64" width="17.5" height="10.32" fill="#ff8c00" stroke="#111" stroke-width="1.05"/><rect x="475.8" y="39.96" width="17.5" height="10.32" fill="#ffdc00" stroke="#111" stroke-width="1.05"/><rect x="475.8" y="50.28" width="17.5" height="10.32" fill="#98ec14" stroke="#111" stroke-width="1.05"/><rect x="475.8" y="60.6" width="17.5" height="10.32" fill="#08e814" stroke="#111" stroke-width="1.05"/><rect x="475.8" y="70.92" width="17.5" height="10.32" fill="#14946c" stroke="#111" stroke-width="1.05"/><rect x="475.8" y="81.24" width="17.5" height="10.32" fill="#0810f2" stroke="#111" stroke-width="1.05"/><text transform="translate(497.6 11.9) scale(0.9 1)" class="lg">Max = 13.208</text><text transform="translate(497.6 22.27) scale(0.9 1)" class="lg">8.591</text><text transform="translate(497.6 32.64) scale(0.9 1)" class="lg">5.587</text><text transform="translate(497.6 43.01) scale(0.9 1)" class="lg">3.634</text><text transform="translate(497.6 53.38) scale(0.9 1)" class="lg">2.364</text><text transform="translate(497.6 63.75) scale(0.9 1)" class="lg">1.537</text><text transform="translate(497.6 74.12) scale(0.9 1)" class="lg">1.000</text><text transform="translate(497.6 84.49) scale(0.9 1)" class="lg">0.650</text><svg x="9.5" y="106.9" width="39" height="38.5" viewBox="0 0 100 100" preserveAspectRatio="none"><g opacity="0.999"><rect x="-5" y="-5" width="110" height="110" fill="#0810f2"/><path d="M-3 85 -3 103 51 103 51 98 51 97 51 95 50 94 49 90 48 89 47 86 46 85 46 84 39 77 36 76 35 74 30 74 30 73 25 73 25 72 22 72 21 73 17 73 16 74 12 74 11 75 10 75 9 77 8 77 5 79 4 79 3 81 3 82ZM103 30 99 31 96 31 96 30 90 30 89 31 87 31 86 33 85 33 80 37 80 38 79 39 79 41 78 41 78 43 77 44 77 46 76 46 76 50 75 50 75 57 76 58 76 62 77 63 77 65 78 65 78 67 79 67 79 70 81 71 81 72 84 75 85 75 86 77 88 77 89 77 92 77 92 78 93 78 94 77 97 77 98 77 99 77 103 76ZM71 -3 71 1 70 2 70 9 71 9 72 12 74 15 76 15 76 15 79 15 79 16 81 16 81 15 83 15 84 15 85 15 88 11 88 10 89 10 89 1 88 -3Z" fill="#14946c"/><path d="M-3 90 -3 103 47 103 47 97 46 97 46 94 46 93 46 91 45 91 44 88 42 87 42 85 37 80 36 80 35 79 33 79 33 78 32 78 31 77 29 77 29 76 25 76 25 75 21 75 21 76 16 76 15 77 13 77 13 78 12 78 10 79 9 79 8 81 7 81 4 84 4 85 2 87 2 88 1 89 1 90ZM98 34 97 35 96 35 94 38 94 39 93 39 93 41 92 41 92 43 91 44 91 49 90 49 90 51 91 52 91 56 92 57 92 59 93 59 94 62 97 66 103 66 103 34ZM78 -3 75 3 75 8 78 10 82 10 84 8 84 7 85 6 85 4 84 4 83 1 82 1 82 -3Z" fill="#08e814"/><path d="M3 100 3 103 40 103 40 96 39 96 39 94 38 93 37 90 31 85 30 85 30 84 28 84 28 83 27 83 26 82 17 82 16 83 14 83 14 84 13 84 11 85 10 85 7 89 7 90 6 90 6 92 5 92 5 93 4 94 4 95 3 95 3 99Z" fill="#98ec14"/><path d="M8 96 8 103 32 103 32 96 31 96 31 93 27 90 26 90 26 89 23 89 23 88 18 88 17 89 15 89 15 90 13 90 10 93 10 94 9 95 9 96Z" fill="#ffdc00"/><path d="M13 98 13 103 26 103 25 97 22 95 21 95 21 94 18 94 17 95 16 95 14 96 14 97Z" fill="#ff8c00"/></g></svg><text x="30" y="152.9" class="lb">0<tspan font-size="4.8" dx="0.3" dy="-2.2">°</tspan></text><svg x="55.65" y="106.9" width="39" height="38.5" viewBox="0 0 100 100" preserveAspectRatio="none"><g opacity="0.999"><rect x="-5" y="-5" width="110" height="110" fill="#0810f2"/><path d="M77 74 78 73 79 74 78 74ZM103 21 98 19 97 19 96 18 88 18 87 19 85 19 82 23 82 24 80 25 80 26 79 27 79 28 79 28 79 31 78 31 78 32 77 33 77 36 76 36 76 39 75 39 75 45 74 45 74 59 75 59 75 65 76 65 76 68 77 69 77 71 78 71 78 73 75 74 76 74 76 76 74 74 73 74 72 74 71 74 71 73 69 73 68 72 66 72 66 71 62 71 62 70 57 70 56 69 33 69 33 70 23 70 22 71 19 71 19 72 14 73 13 74 12 74 8 78 8 79 4 83 4 84 3 85 3 87 2 87 2 88 1 89 1 90 -3 90 -3 103 50 103 50 95 49 94 49 92 52 92 51 91 52 90 59 90 59 89 62 89 63 91 64 91 64 103 80 103 80 98 81 97 81 92 80 92 80 88 79 87 79 83 81 82 82 81 83 81 83 82 85 85 87 85 87 86 88 86 89 87 91 87 91 89 90 90 91 90 91 98 92 99 92 103 103 103ZM64 1 64 5 65 6 65 7 67 9 68 9 69 10 71 10 71 10 79 10 79 10 82 9 85 6 85 5 86 5 86 2 85 1 85 -3 65 -3ZM-3 23 2 25 3 25 4 26 5 26 7 28 8 28 8 29 10 29 11 30 14 30 14 31 25 31 25 30 30 29 30 28 33 27 34 26 36 26 41 20 41 18 43 17 43 16 44 15 44 14 45 14 45 13 46 12 46 10 46 10 46 7 47 6 47 -3 -3 -3Z" fill="#14946c"/><path d="M2 95 2 103 47 103 47 99 46 98 46 95 46 94 46 92 45 92 45 90 44 89 43 86 41 85 41 84 37 79 36 79 36 79 34 79 34 78 32 78 31 77 28 77 27 76 23 76 22 77 18 77 18 78 16 78 15 79 13 79 6 86 6 87 4 89 4 90 3 90 3 92 3 92 3 95ZM103 32 99 33 97 33 94 36 94 37 93 38 93 39 92 39 92 41 91 41 91 44 90 44 90 49 90 49 90 58 90 59 90 63 91 64 91 67 92 67 92 68 93 69 93 71 95 72 95 73 96 75 97 75 98 76 103 76ZM-3 18 5 23 6 23 8 25 9 25 9 26 11 26 12 26 14 26 14 27 24 27 24 26 27 26 28 26 29 26 29 25 32 24 34 21 36 21 37 20 37 18 40 16 40 15 41 15 41 13 41 13 41 12 42 11 42 9 43 9 43 6 44 5 44 -3 -3 -3Z" fill="#08e814"/><path d="M9 97 9 103 39 103 39 96 38 96 38 95 37 94 36 91 33 88 32 88 31 87 30 87 30 86 28 86 27 85 21 85 21 86 18 86 18 87 17 87 15 89 14 89 13 90 13 92 11 93 11 94 10 95 10 97ZM-3 10 1 10 2 13 3 14 3 15 7 19 8 19 9 21 10 21 11 21 12 21 13 22 15 22 16 23 22 23 23 22 26 22 26 21 27 21 28 21 31 20 36 15 36 13 36 13 36 12 37 11 37 10 38 10 38 8 39 7 39 3 40 2 40 -3 -3 -3Z" fill="#98ec14"/><path d="M17 99 17 103 31 103 31 97 28 95 27 95 26 94 22 94 21 95 20 95 18 97 18 98ZM5 -3 5 5 6 6 6 8 7 8 8 11 11 15 12 15 13 15 14 15 14 16 16 16 17 17 22 17 23 16 25 16 25 15 26 15 31 10 31 9 32 9 32 7 33 6 33 -3Z" fill="#ffdc00"/></g></svg><text x="76.15" y="152.9" class="lb">5<tspan font-size="4.8" dx="0.3" dy="-2.2">°</tspan></text><svg x="101.8" y="106.9" width="39" height="38.5" viewBox="0 0 100 100" preserveAspectRatio="none"><g opacity="0.999"><rect x="-5" y="-5" width="110" height="110" fill="#0810f2"/><path d="M103 -3 91 -3 91 1 90 3 90 4 89 4 89 5 88 6 88 8 87 8 87 10 86 11 86 13 85 13 85 17 85 18 85 22 84 23 84 41 85 42 85 46 85 47 85 50 84 50 84 52 83 53 69 53 68 54 65 54 65 54 63 54 62 55 61 55 61 56 59 56 58 57 50 57 50 58 45 58 45 59 41 59 41 59 37 59 36 60 34 60 34 59 24 59 24 60 22 60 21 61 20 61 20 62 18 62 17 63 15 63 15 64 13 64 12 64 9 65 8 67 5 68 4 69 3 69 2 70 1 70 -3 71 -3 103 90 103 90 99 92 99 93 97 94 97 95 96 97 96 99 93 103 93ZM59 -3 59 5 60 5 60 6 62 8 63 8 64 9 66 9 66 10 72 10 73 9 76 8 77 6 77 5 78 5 78 -3ZM-3 26 1 26 2 27 5 27 5 28 10 28 11 29 13 29 13 28 20 28 20 27 25 26 25 26 26 26 27 25 30 24 32 21 33 21 36 18 36 17 39 15 39 13 40 13 40 12 41 11 41 9 41 9 41 7 42 6 42 -3 -3 -3Z" fill="#14946c"/><path d="M103 4 99 4 98 5 96 5 94 8 94 9 92 10 92 11 91 12 91 13 90 13 90 15 90 16 90 19 89 19 89 23 88 23 88 41 89 41 89 45 90 45 90 48 90 49 90 51 91 51 91 53 92 54 91 55 78 55 77 56 73 56 72 57 69 57 69 58 67 58 67 59 64 59 63 59 61 59 61 60 57 60 56 61 50 61 50 62 45 62 45 63 41 63 41 64 37 64 36 64 21 64 21 65 18 65 17 66 13 67 12 68 11 68 10 69 8 69 2 76 2 77 1 78 1 79 -3 79 -3 99 1 103 80 103 80 99 82 99 83 97 84 97 85 97 87 96 89 94 90 94 92 92 93 92 95 89 97 89 103 86ZM-3 23 1 23 2 24 4 24 4 25 8 25 8 26 16 26 17 25 20 25 20 24 22 24 23 23 25 23 25 22 26 22 28 21 29 21 35 15 35 13 36 12 36 11 37 10 37 8 38 8 38 5 39 5 39 -3 -3 -3Z" fill="#08e814"/><path d="M13 80 13 82 12 82 12 83 11 84 11 86 10 86 10 89 11 90 11 92 12 93 12 94 13 95 13 97 15 97 17 99 18 99 18 103 31 103 31 99 34 98 40 92 40 91 41 91 41 89 41 88 41 84 39 82 39 81 36 79 35 79 34 77 33 77 32 76 30 76 30 75 20 75 20 76 17 77 15 79 14 79ZM62 75 62 78 63 79 63 81 64 82 66 82 66 83 67 83 68 84 71 84 71 85 79 85 79 84 82 84 83 83 85 83 85 82 87 82 88 81 89 81 92 78 92 77 92 77 92 75 93 75 93 71 92 71 92 69 91 67 90 67 88 65 86 65 86 64 74 64 74 65 72 65 72 66 69 67 64 72 64 73 63 74 63 75ZM-3 18 1 19 2 19 3 20 5 20 5 21 8 21 8 21 16 21 17 21 20 21 20 20 21 20 22 19 25 18 26 16 27 16 30 14 30 13 31 11 31 10 32 10 32 8 33 8 33 6 34 5 34 -3 -3 -3Z" fill="#98ec14"/><path d="M-3 -3 -3 10 3 14 5 14 5 15 6 15 7 15 10 15 11 16 13 16 13 15 17 15 18 15 20 15 21 13 22 13 26 10 26 8 26 8 26 7 27 6 27 -3Z" fill="#ffdc00"/></g></svg><text x="122.3" y="152.9" class="lb">10<tspan font-size="4.8" dx="0.3" dy="-2.2">°</tspan></text><svg x="147.95" y="106.9" width="39" height="38.5" viewBox="0 0 100 100" preserveAspectRatio="none"><g opacity="0.999"><rect x="-5" y="-5" width="110" height="110" fill="#0810f2"/><path d="M41 30 39 32 39 33 38 33 39 36 41 38 45 38 45 37 46 37 46 36 47 36 47 33 46 32 46 31 45 31 45 30ZM103 -3 90 -3 90 1 89 2 89 4 88 4 88 6 87 7 87 10 86 10 86 14 85 14 85 21 85 21 85 35 85 35 85 41 86 42 86 46 87 47 87 48 85 49 85 51 86 52 84 53 83 52 78 52 77 51 55 51 55 52 49 52 48 53 44 53 43 54 39 54 39 54 36 54 36 54 34 54 34 53 28 53 27 54 24 54 24 54 17 54 16 55 12 56 11 57 10 57 10 58 7 59 5 61 3 61 2 63 2 64 -3 65 -3 103 92 103 93 99 94 99 95 97 97 97 98 96 99 96 103 95ZM53 -3 53 5 56 8 59 8 59 9 63 9 64 8 66 8 67 6 68 6 68 5 69 5 69 3 70 3 69 -3ZM-3 25 1 26 5 26 6 26 11 26 12 26 15 26 16 25 18 25 18 24 20 24 20 23 23 22 24 21 26 21 30 16 30 15 31 14 31 13 32 12 32 11 33 10 33 8 34 8 34 -3 -3 -3Z" fill="#14946c"/><path d="M103 64 97 61 96 61 96 60 94 60 93 59 90 59 89 59 85 59 85 58 82 58 82 57 77 57 77 56 52 56 51 57 46 57 46 58 41 58 41 59 35 59 35 58 30 58 30 57 18 57 17 58 13 59 12 59 9 60 8 62 7 62 4 64 4 66 2 68 2 69 1 69 1 72 -3 72 -3 99 1 103 82 103 82 99 83 99 84 98 85 98 85 97 87 97 87 97 88 97 89 96 90 96 90 95 93 94 95 92 96 92 98 90 99 90 103 89ZM103 -3 99 1 97 1 94 4 94 5 93 6 93 7 92 8 92 9 91 9 91 11 90 12 90 15 90 15 90 19 89 19 89 37 90 38 90 41 90 42 90 45 91 45 91 47 92 48 92 49 93 49 94 52 95 54 95 55 97 55 98 56 103 56ZM-3 22 2 22 3 23 14 23 14 22 19 21 19 21 21 21 22 19 23 19 27 15 27 13 29 12 29 11 30 10 30 8 31 8 31 5 31 5 31 -3 -3 -3Z" fill="#08e814"/><path d="M15 68 12 71 12 72 11 73 11 80 12 80 12 82 15 85 16 85 17 86 18 86 18 87 21 87 21 87 27 87 28 87 31 87 31 86 34 85 36 82 36 81 37 81 37 74 36 74 36 71 32 68 31 68 31 67 29 67 29 66 24 66 24 65 23 65 22 66 18 66 18 67ZM54 75 54 82 54 83 54 84 57 87 58 87 59 88 61 88 61 89 62 89 63 90 65 90 65 91 67 91 68 92 73 92 74 92 77 92 77 92 82 92 83 91 85 91 85 90 87 90 88 89 89 89 90 87 92 87 95 84 95 83 96 82 96 80 97 80 97 75 96 75 95 72 91 68 90 68 88 66 86 66 86 65 84 65 83 64 79 64 79 64 72 64 72 64 68 64 67 65 65 65 65 66 64 66 63 67 60 68 59 69 58 69 56 71 56 72 54 74 54 75ZM-3 10 1 11 2 11 3 12 4 12 4 13 12 13 13 12 15 11 18 9 18 8 19 7 19 5 20 5 20 1 19 -3 -3 -3Z" fill="#98ec14"/><path d="M63 75 63 81 67 85 68 85 69 86 71 86 71 87 81 87 81 86 83 86 84 85 85 85 88 82 88 80 89 80 89 75 87 74 87 73 87 72 85 72 85 71 84 71 83 70 82 70 82 69 78 69 77 69 74 69 74 69 70 69 70 70 68 70 67 72 65 72 64 74 64 75Z" fill="#ffdc00"/><path d="M69 76 69 79 70 79 70 81 72 81 72 82 73 82 74 82 78 82 79 82 82 81 82 79 82 79 82 76 81 74 79 74 79 74 73 74 72 74 71 74Z" fill="#ff8c00"/></g></svg><text x="168.45" y="152.9" class="lb">15<tspan font-size="4.8" dx="0.3" dy="-2.2">°</tspan></text><svg x="194.1" y="106.9" width="39" height="38.5" viewBox="0 0 100 100" preserveAspectRatio="none"><g opacity="0.999"><rect x="-5" y="-5" width="110" height="110" fill="#0810f2"/><path d="M38 28 37 28 36 28 34 30 34 31 33 32 33 36 34 37 34 38 36 40 38 40 38 41 41 41 42 40 43 40 46 37 46 35 46 35 46 33 46 33 46 31 43 28 42 28 41 28ZM103 -3 77 -3 77 21 78 22 78 29 79 29 79 35 79 35 79 39 80 39 80 41 79 41 79 42 78 43 79 44 78 46 76 46 76 45 67 45 67 44 49 44 49 45 39 45 39 46 33 46 33 47 28 47 28 48 24 48 24 49 20 49 20 49 17 49 16 50 14 50 14 51 11 51 10 52 8 52 8 53 6 53 5 54 4 54 4 54 2 54 1 55 -3 55 -3 103 103 103ZM43 -3 43 3 44 3 44 5 45 6 45 7 46 8 47 8 49 10 51 10 51 10 54 10 54 11 57 11 58 10 61 10 61 10 64 9 67 5 67 4 68 4 68 -3ZM25 -3 -3 -3 -3 31 5 31 6 31 8 31 8 30 10 30 10 29 13 28 20 21 20 20 21 19 21 18 22 17 22 15 23 15 23 13 24 12 24 9 25 9Z" fill="#14946c"/><path d="M103 -3 79 -3 79 24 80 24 80 30 81 30 81 35 82 35 82 38 83 38 83 41 84 41 84 44 85 44 85 46 85 47 85 51 85 52 78 52 77 51 71 51 71 50 42 50 41 51 35 51 35 52 30 52 30 53 27 53 26 54 23 54 22 54 19 54 19 55 17 55 16 56 14 56 14 57 9 58 9 59 8 59 7 59 6 59 5 60 4 60 4 61 1 62 -3 63 -3 103 91 103 91 99 94 98 95 97 97 97 98 95 99 95 103 94ZM21 -3 -3 -3 -3 28 5 28 5 27 10 26 11 25 12 25 17 20 17 18 19 17 19 16 20 15 21 11 21 10 21 7 22 6 22 1Z" fill="#08e814"/><path d="M13 67 10 70 10 72 9 72 9 73 8 74 8 76 8 76 8 80 8 80 8 83 9 84 9 85 13 89 15 89 15 90 16 90 17 91 18 91 18 92 28 92 28 91 31 91 31 90 32 90 33 88 35 88 37 86 37 85 39 83 39 81 40 81 40 76 39 76 39 74 38 74 37 71 33 67 32 67 31 66 30 66 30 65 28 65 27 64 19 64 19 65 17 65 16 66ZM44 78 44 82 45 83 45 84 46 85 47 87 53 93 54 93 55 95 56 95 57 96 58 96 59 97 61 97 61 97 65 97 65 98 77 98 78 97 81 97 81 97 83 97 84 96 85 96 85 95 87 95 87 94 90 93 96 87 96 86 97 86 97 85 97 84 97 83 98 82 98 74 97 73 97 71 96 70 96 69 91 64 90 64 89 63 88 63 87 62 86 62 86 61 84 61 83 60 80 60 80 59 68 59 67 60 64 60 63 61 61 61 61 62 59 62 59 63 56 64 55 65 54 65 48 71 47 74 45 75 45 77ZM85 -3 85 20 85 20 85 25 86 25 86 28 87 28 87 31 88 32 88 33 89 33 89 36 90 37 90 38 93 41 94 41 95 41 97 41 97 41 98 41 103 39 103 -3ZM15 -3 -3 -3 -3 20 4 20 4 19 6 19 7 18 8 18 12 14 12 13 13 12 13 11 14 10 14 8 15 8Z" fill="#98ec14"/><path d="M18 73 17 74 17 76 16 76 16 80 17 80 17 82 18 83 21 83 21 84 26 84 26 83 27 83 29 82 29 80 30 80 30 76 29 76 29 74 27 73 26 73 26 72 20 72 20 73ZM59 68 54 72 54 73 54 74 54 75 53 75 53 78 52 79 52 81 53 81 53 84 54 85 54 86 59 91 60 91 60 92 62 92 62 92 63 92 64 93 67 93 67 94 76 94 76 93 80 93 80 92 82 92 82 92 83 92 84 91 87 90 91 86 91 85 92 84 92 83 92 82 92 79 93 79 93 77 92 77 92 74 92 73 92 72 87 67 85 67 85 66 84 66 83 65 82 65 82 64 79 64 78 64 69 64 69 64 66 64 66 65 64 65 63 66 62 66 62 67ZM90 -3 90 2 90 3 90 15 90 15 90 19 91 19 91 21 93 23 93 24 94 25 96 25 98 22 98 21 99 21 99 18 103 18 103 -3ZM7 -3 -3 -3 -3 11 3 11 3 10 5 10 6 9 6 8 7 7 7 6 8 5 8 2 7 1Z" fill="#ffdc00"/><path d="M59 74 59 76 58 76 58 82 59 83 59 86 60 87 62 87 63 88 64 88 64 89 67 89 67 90 77 90 78 89 79 89 79 88 82 87 87 83 87 82 87 82 87 75 87 75 86 72 85 71 84 71 82 69 81 69 81 69 79 69 78 68 69 68 68 69 66 69 66 69 63 70Z" fill="#ff8c00"/><path d="M64 75 64 77 63 77 63 82 64 82 64 83 64 84 66 84 67 86 70 86 70 87 74 87 74 86 77 86 78 85 79 85 82 82 82 81 82 81 82 76 82 76 82 74 81 74 79 74 78 72 75 72 75 71 71 71 71 72 68 72 67 73 66 73Z" fill="#ff4600"/><path d="M70 75 68 78 68 81 69 82 70 82 70 82 75 82 77 80 77 77 77 76 75 76 75 75Z" fill="#ee0000"/></g></svg><text x="214.6" y="152.9" class="lb">20<tspan font-size="4.8" dx="0.3" dy="-2.2">°</tspan></text><svg x="240.25" y="106.9" width="39" height="38.5" viewBox="0 0 100 100" preserveAspectRatio="none"><g opacity="0.999"><rect x="-5" y="-5" width="110" height="110" fill="#0810f2"/><path d="M33 28 33 28 32 28 30 30 30 31 29 32 29 36 30 37 30 38 32 40 33 40 33 41 37 41 38 40 39 40 41 37 41 31 39 28 38 28 37 28ZM103 -3 79 -3 79 1 78 2 78 23 79 23 79 31 79 32 79 37 80 38 80 41 79 42 79 41 79 46 78 46 75 46 75 45 65 45 65 44 49 44 48 45 38 45 38 46 32 46 31 47 27 47 26 48 23 48 22 49 19 49 19 49 16 49 15 50 13 50 12 51 10 51 10 52 7 52 6 53 4 53 4 54 2 54 1 54 -3 54 -3 103 103 103ZM20 -3 -3 -3 -3 31 4 31 4 31 6 31 7 30 10 29 14 25 14 23 15 22 15 21 16 21 16 19 17 19 17 18 18 17 18 15 19 15 19 12 20 11 20 5 21 5 21 2 20 1Z" fill="#14946c"/><path d="M103 -3 80 -3 80 27 81 28 81 33 82 33 82 38 83 38 83 41 84 42 84 45 85 45 85 51 83 53 81 53 81 52 76 52 76 51 70 51 70 50 41 50 41 51 34 51 34 52 29 52 29 53 25 53 25 54 21 54 21 54 16 54 15 55 10 55 10 56 8 56 7 57 3 58 1 59 -3 59 -3 103 92 103 94 98 95 98 96 97 97 97 103 94ZM18 -3 -3 -3 -3 28 4 28 4 27 5 27 6 26 9 26 12 22 12 21 14 20 14 18 15 18 15 17 15 16 15 15 16 15 16 12 17 11 17 7 18 6Z" fill="#08e814"/><path d="M2 65 1 66 1 67 -3 68 -3 85 3 87 4 87 5 89 6 89 7 90 9 90 9 91 19 91 19 90 21 90 22 89 23 89 24 87 26 87 29 84 29 83 30 82 30 81 31 81 31 72 30 72 29 69 24 64 23 64 22 63 21 63 21 62 18 62 17 61 10 61 10 62 8 62 7 63 4 64 3 65ZM48 70 48 72 46 73 46 74 45 74 45 76 44 76 44 77 44 78 44 83 44 84 44 86 45 86 45 87 47 89 47 90 52 95 55 96 56 97 58 97 59 98 61 98 61 99 64 99 64 103 77 103 78 99 81 99 81 98 83 98 84 97 85 97 85 97 87 97 87 96 90 95 97 88 97 87 97 87 97 85 98 85 98 83 99 82 99 75 98 75 98 73 97 72 97 71 96 70 96 69 92 64 90 64 89 63 87 63 87 62 85 62 85 61 83 61 82 60 79 60 78 59 69 59 68 60 64 60 64 61 61 61 61 62 59 62 59 63 58 63 57 64 54 64 53 66 52 66ZM89 -3 89 3 88 3 88 21 89 22 89 26 90 26 90 29 90 29 90 31 91 32 91 33 95 36 96 36 96 36 97 36 97 34 99 33 99 32 103 31 103 -3ZM9 -3 -3 -3 -3 15 3 15 3 15 5 15 6 13 6 12 8 10 8 8 9 8Z" fill="#98ec14"/><path d="M8 68 4 71 4 72 3 73 3 79 4 79 4 81 8 84 9 84 9 85 18 85 18 84 20 84 23 81 23 79 24 79 24 73 23 72 23 71 20 68 18 68 18 67 15 67 15 66 13 66 12 67 9 67 9 68ZM87 68 86 68 86 67 85 67 84 66 83 66 82 65 80 65 80 64 75 64 75 64 72 64 72 64 67 64 67 65 64 65 63 66 60 67 59 69 58 69 54 73 54 74 53 74 53 76 52 76 52 78 51 79 51 82 52 83 52 85 53 85 54 88 57 92 58 92 59 93 61 93 61 94 63 94 64 95 67 95 67 96 76 96 76 95 79 95 79 94 82 94 82 93 85 92 86 91 87 91 91 87 91 86 92 86 92 85 92 84 92 82 93 82 93 76 92 76 92 74 91 72 91 71Z" fill="#ffdc00"/><path d="M12 71 11 72 10 72 9 73 9 74 8 74 8 77 9 78 9 79 10 79 11 80 12 80 13 81 15 81 15 80 16 80 19 77 19 74 18 74 18 73 17 73 15 71ZM58 75 58 77 57 77 57 84 59 85 59 87 61 89 62 89 63 90 64 90 64 91 67 91 67 92 76 92 76 91 79 91 79 90 82 89 87 85 87 84 87 83 87 81 88 81 88 78 87 77 87 75 87 75 87 74 84 71 83 71 82 69 79 69 79 69 76 69 76 68 70 68 70 69 67 69 67 69 64 69 64 70 63 70Z" fill="#ff8c00"/><path d="M62 78 62 82 63 83 63 84 64 86 66 86 66 87 67 87 68 87 76 87 76 87 78 87 82 82 82 77 82 77 82 75 80 74 79 74 78 73 76 73 76 72 70 72 70 73 68 73 67 74 64 74 64 75 64 77Z" fill="#ff4600"/><path d="M67 79 68 82 69 82 69 83 72 83 72 84 73 83 75 83 75 82 77 82 77 81 77 81 77 79 77 78 77 77 75 77 75 76 70 76 70 77 69 77 68 78 68 79Z" fill="#ee0000"/></g></svg><text x="260.75" y="152.9" class="lb">25<tspan font-size="4.8" dx="0.3" dy="-2.2">°</tspan></text><svg x="286.4" y="106.9" width="39" height="38.5" viewBox="0 0 100 100" preserveAspectRatio="none"><g opacity="0.999"><rect x="-5" y="-5" width="110" height="110" fill="#0810f2"/><path d="M27 28 26 28 25 28 23 31 23 33 22 33 22 35 23 35 23 37 25 39 25 41 26 41 27 41 31 41 31 41 32 41 34 39 34 37 35 36 35 32 34 31 34 30 32 28 31 28 31 28ZM103 -3 72 -3 72 4 71 4 71 10 70 11 70 30 71 30 71 36 72 37 69 38 69 39 69 39 69 40 69 42 39 42 39 43 33 43 32 44 28 44 27 44 23 44 23 45 19 45 19 46 7 46 6 47 3 47 2 48 -3 48 -3 103 103 103ZM32 -3 32 4 33 4 33 5 36 9 37 9 38 10 39 10 39 10 42 10 43 11 46 11 46 10 50 10 50 10 51 10 53 8 54 8 56 6 56 5 56 5 56 3 57 3 57 -3ZM12 -3 -3 -3 -3 14 4 14 4 13 5 13 6 12 9 11 10 10 10 8 12 7Z" fill="#14946c"/><path d="M103 -3 74 -3 74 4 74 4 74 10 73 11 73 27 74 28 74 34 74 34 74 39 75 39 75 46 75 46 74 46 73 47 44 47 44 48 36 48 36 49 31 49 31 49 26 49 26 50 19 50 19 51 8 51 7 52 4 52 4 53 3 53 2 54 -3 54 -3 103 89 103 90 99 91 99 91 98 94 97 95 96 97 96 103 92ZM6 -3 -3 -3 -3 10 2 10 3 9 4 9 4 8 5 8 6 7 6 6 7 5 7 1Z" fill="#08e814"/><path d="M3 59 1 60 -3 60 -3 86 1 87 2 87 3 87 4 87 4 88 6 88 7 89 18 89 18 88 20 88 20 87 23 87 24 85 26 85 28 82 28 81 29 81 29 79 30 79 30 78 31 77 31 70 30 70 30 68 29 67 29 66 27 65 27 64 24 60 23 60 22 59 21 59 21 59 19 59 19 58 17 58 16 57 8 57 7 58ZM103 -3 79 -3 79 2 79 3 79 7 78 8 78 28 79 28 79 32 79 33 79 36 80 36 81 41 82 41 82 42 83 43 84 46 86 48 86 49 87 50 85 52 82 52 82 53 71 53 71 54 66 54 66 54 63 54 62 55 61 55 61 56 59 56 58 57 57 57 56 59 54 59 53 60 52 60 47 65 47 67 45 68 45 69 44 69 44 71 44 71 44 72 43 73 43 75 42 75 42 80 43 80 44 85 45 86 45 87 52 94 53 94 54 95 55 95 55 96 56 96 57 97 59 97 59 97 62 97 62 98 67 98 68 99 72 99 73 98 77 98 78 97 81 97 81 97 83 97 84 96 85 96 85 95 88 94 90 92 91 92 97 87 97 85 98 84 98 83 99 82 99 80 103 80 103 67 99 67 99 64 98 64 98 63 97 62 97 61 97 61 97 59 96 59 96 58 95 57 95 56 94 56 94 53 95 51 97 51 98 50 99 50 103 49Z" fill="#98ec14"/><path d="M4 64 2 67 2 68 1 69 1 71 -3 71 -3 75 1 75 1 77 3 79 3 80 3 81 5 81 6 82 8 82 8 83 15 83 15 82 17 82 18 81 20 81 21 80 21 79 22 77 22 75 23 75 23 70 22 70 21 67 19 64 18 64 17 64 16 64 15 63 8 63 7 64ZM88 62 87 62 87 61 85 61 85 60 84 60 83 59 81 59 81 59 78 59 77 58 71 58 71 59 67 59 67 59 64 59 64 60 62 60 62 61 60 61 59 63 58 63 54 67 54 68 52 69 52 71 51 71 51 73 50 74 50 81 51 81 51 83 52 84 52 85 58 91 59 91 59 92 61 92 61 92 63 92 64 93 68 93 69 94 72 94 73 93 77 93 78 92 80 92 80 92 82 92 83 91 84 91 85 89 87 89 92 84 92 83 92 82 92 81 93 81 93 79 94 79 94 70 93 70 93 68 92 67 92 65ZM85 -3 85 2 84 3 84 5 83 6 83 10 82 11 82 21 83 21 83 26 84 26 84 29 85 29 85 31 85 32 86 35 90 38 92 38 92 39 93 39 94 38 97 37 97 36 97 35 99 34 99 33 103 32 103 -3Z" fill="#ffdc00"/><path d="M9 68 6 71 6 74 7 74 7 76 8 77 10 77 10 78 13 78 13 77 15 77 17 75 17 71 16 71 16 69 15 69 14 68ZM69 63 68 64 66 64 66 64 63 65 62 67 60 67 59 69 59 70 57 71 57 72 56 73 56 81 57 81 57 82 59 84 59 85 60 85 62 87 63 87 64 88 66 88 66 89 76 89 76 88 78 88 79 87 80 87 80 87 83 86 87 82 87 81 87 81 87 79 88 79 88 77 89 77 89 73 88 72 88 70 87 70 87 69 84 65 83 65 82 64 81 64 81 64 79 64 78 63ZM90 3 89 4 89 5 88 6 88 8 87 8 87 20 88 20 88 21 89 22 90 25 92 26 93 25 94 25 94 23 96 22 96 20 97 20 97 8 96 8 96 6 95 5 95 4 93 3Z" fill="#ff8c00"/><path d="M70 67 70 68 68 68 67 69 66 69 62 73 62 75 61 75 61 78 62 79 63 82 64 82 65 82 66 84 69 84 69 85 74 85 74 84 77 84 77 83 78 83 79 82 81 82 82 81 82 79 82 79 82 78 83 77 83 73 82 72 82 71 80 69 79 69 78 68 76 68 76 67Z" fill="#ff4600"/><path d="M69 72 67 74 67 77 68 78 68 79 69 79 69 80 75 80 77 77 77 74 76 72Z" fill="#ee0000"/></g></svg><text x="306.9" y="152.9" class="lb">30<tspan font-size="4.8" dx="0.3" dy="-2.2">°</tspan></text><svg x="332.55" y="106.9" width="39" height="38.5" viewBox="0 0 100 100" preserveAspectRatio="none"><g opacity="0.999"><rect x="-5" y="-5" width="110" height="110" fill="#0810f2"/><path d="M20 28 20 28 18 28 17 30 17 31 16 32 16 36 17 37 17 38 19 41 21 41 21 41 24 41 24 41 26 41 26 40 26 38 28 37 28 35 29 35 29 33 28 33 28 31 26 28 24 28 24 28ZM103 -3 70 -3 70 1 69 2 69 6 69 7 69 13 68 13 68 31 69 31 69 37 66 38 66 42 38 42 38 43 31 43 31 44 26 44 26 44 22 44 21 45 18 45 17 46 14 46 14 47 12 47 11 48 8 48 8 49 4 49 4 49 1 49 -3 50 -3 103 97 103 99 98 103 98ZM25 -3 25 3 26 3 27 6 28 8 30 8 31 10 32 10 33 10 36 10 37 11 40 11 40 10 43 10 44 10 46 9 50 5 50 4 51 4 51 -3Z" fill="#14946c"/><path d="M103 -3 74 -3 74 1 73 2 73 5 72 6 72 10 71 11 71 33 72 33 72 39 73 39 73 46 72 47 44 47 43 48 35 48 35 49 29 49 29 49 25 49 25 50 21 50 21 51 17 51 16 52 10 52 10 53 5 53 5 54 -3 54 -3 103 87 103 87 99 88 99 89 98 92 97 93 96 94 96 96 93 97 93 103 91Z" fill="#08e814"/><path d="M2 59 -3 61 -3 86 1 86 2 87 3 87 3 87 7 87 8 88 12 88 13 87 15 87 16 87 17 87 18 86 21 85 25 81 25 79 26 79 26 77 26 77 26 70 26 70 26 68 25 67 25 66 20 61 18 61 17 59 15 59 15 59 4 59 4 59ZM103 -3 83 -3 82 1 82 2 81 3 81 5 80 5 80 8 79 8 79 11 79 12 79 32 79 33 79 36 80 37 81 41 82 42 82 43 83 44 83 45 84 45 85 48 86 49 86 51 85 53 84 53 83 54 76 54 76 54 69 54 68 55 64 55 64 56 59 57 59 58 58 58 57 59 54 59 53 61 52 61 46 67 46 68 44 69 44 71 44 71 44 73 43 74 43 76 42 76 42 80 43 80 43 82 44 83 44 86 47 88 47 89 48 90 49 90 51 92 52 92 54 94 55 94 55 95 57 95 58 96 60 96 60 97 64 97 64 97 72 97 73 97 77 97 77 96 82 95 82 94 83 94 84 93 87 92 89 90 90 90 93 87 93 85 95 84 95 83 96 82 96 81 97 81 97 78 97 77 97 67 97 67 97 64 96 64 96 63 95 62 95 60 94 60 94 59 93 58 93 54 95 52 97 51 103 49Z" fill="#98ec14"/><path d="M3 65 -3 68 -3 78 3 81 4 81 4 82 6 82 7 82 11 82 12 82 14 82 14 81 15 81 19 77 19 75 20 75 20 71 19 71 19 69 15 64 13 64 12 64 6 64 5 64ZM69 60 68 61 65 61 65 62 63 62 62 63 59 64 54 69 54 71 53 71 53 72 52 73 52 82 53 82 53 83 54 85 54 86 56 87 57 87 59 89 60 89 60 90 62 90 63 91 66 91 66 92 72 92 73 91 77 91 77 90 78 90 79 89 81 89 82 87 83 87 88 82 88 81 89 81 89 79 90 79 90 70 89 70 89 69 87 67 87 66 86 64 85 64 83 63 82 63 82 62 79 62 79 61 76 61 76 60ZM92 7 92 8 90 8 89 9 89 10 88 11 88 12 87 13 87 15 86 15 86 19 85 19 85 25 86 25 86 30 87 30 87 32 88 33 88 34 91 37 94 37 95 36 96 36 97 36 97 34 98 33 98 31 99 31 99 28 103 27 103 18 99 17 99 13 98 13 97 10 94 7Z" fill="#ffdc00"/><path d="M4 71 4 75 7 77 11 77 12 77 13 77 14 76 14 74 15 73 14 72 14 70 12 69 7 69ZM79 67 78 67 77 66 74 66 73 65 70 65 70 66 67 66 67 67 64 67 63 69 62 69 60 70 60 72 59 73 59 76 58 76 59 82 62 84 63 84 64 85 65 85 65 86 75 86 75 85 77 85 77 84 80 83 82 82 82 80 83 79 83 76 84 76 84 74 83 74 83 71Z" fill="#ff8c00"/><path d="M65 74 65 75 64 75 64 77 65 78 65 79 66 80 67 80 68 81 73 81 74 80 75 80 77 78 77 77 77 77 77 74 77 74 77 73 76 72 74 72 74 71 69 71 68 72 67 72Z" fill="#ff4600"/></g></svg><text x="353.05" y="152.9" class="lb">35<tspan font-size="4.8" dx="0.3" dy="-2.2">°</tspan></text><svg x="378.7" y="106.9" width="39" height="38.5" viewBox="0 0 100 100" preserveAspectRatio="none"><g opacity="0.999"><rect x="-5" y="-5" width="110" height="110" fill="#0810f2"/><path d="M12 26 11 27 10 27 8 28 8 31 8 31 8 36 12 39 17 39 17 38 20 36 20 34 21 34 21 30 20 30 20 28 17 26ZM103 -3 53 -3 52 1 52 2 51 3 51 5 50 6 50 10 49 10 49 21 50 21 50 25 51 25 52 30 53 30 53 31 54 32 51 34 51 37 52 38 52 40 49 42 49 43 47 45 47 46 46 47 46 48 45 49 45 50 44 50 44 53 41 50 39 52 39 53 38 54 33 48 32 48 31 46 29 46 29 45 28 45 27 44 25 44 25 44 23 44 22 43 19 43 19 42 6 42 5 43 2 43 1 44 -3 44 -3 97 3 97 3 97 7 97 8 98 16 98 17 97 21 97 22 97 23 97 24 99 28 99 28 103 59 103 60 98 62 98 62 99 64 99 64 103 80 103 80 99 82 99 82 98 84 98 85 97 86 97 87 96 88 96 96 88 96 87 97 86 97 85 98 84 98 83 99 82 99 80 103 80ZM20 -3 20 3 21 3 22 6 23 8 25 8 26 10 27 10 28 10 31 10 32 11 35 11 35 10 38 10 38 10 41 9 45 5 45 4 46 4 46 -3Z" fill="#14946c"/><path d="M-3 47 -3 92 1 93 3 93 3 94 8 94 8 95 15 95 16 94 20 94 20 93 23 93 23 92 26 92 26 92 27 92 28 91 31 90 32 88 33 88 37 84 37 83 38 82 38 81 39 81 39 79 40 79 40 77 41 77 41 66 40 66 40 63 39 62 39 61 38 61 37 58 35 56 35 54 32 52 31 52 30 50 28 50 27 49 26 49 26 48 23 48 23 47 22 47 21 46 18 46 17 45 6 45 5 46 3 46 2 47ZM103 -3 56 -3 56 2 55 3 55 4 54 4 54 7 54 8 54 22 54 23 54 25 55 25 56 30 57 30 57 31 59 33 59 34 59 34 59 38 52 45 52 46 50 48 50 49 49 49 49 51 49 51 49 52 48 53 48 54 47 54 47 56 46 57 46 60 45 60 45 75 46 75 46 78 47 79 47 81 48 81 49 84 50 85 50 87 54 91 56 91 58 93 59 93 59 94 62 94 62 95 63 95 64 96 66 96 66 97 77 97 78 96 82 95 84 93 87 92 92 87 92 85 94 84 94 83 95 82 95 81 96 81 96 79 97 79 97 77 97 77 97 74 98 73 98 68 99 67 99 64 103 64Z" fill="#08e814"/><path d="M2 53 1 54 -3 54 -3 86 1 87 2 87 3 87 5 87 5 88 16 88 17 87 19 87 19 87 21 87 22 86 23 86 25 83 26 83 29 81 29 79 31 78 31 77 31 77 31 74 32 74 32 66 31 66 31 64 31 63 30 60 25 55 23 55 23 54 22 54 21 54 20 54 20 53 18 53 17 52 13 52 13 51 8 51 8 52 4 52 4 53ZM96 -3 64 -3 64 1 64 2 63 3 63 4 62 4 62 5 61 6 61 9 60 9 60 19 61 19 61 22 62 23 62 25 63 25 63 26 64 28 64 29 72 36 73 36 74 38 74 41 73 43 72 43 72 44 69 44 69 44 67 44 67 45 64 45 64 46 63 46 62 48 60 48 57 51 57 52 55 54 55 55 54 55 54 56 54 57 54 59 53 59 53 62 52 63 52 72 53 72 53 75 54 75 54 77 54 78 54 79 56 80 56 82 61 87 62 87 64 88 66 88 66 89 68 89 69 90 75 90 75 89 78 89 79 88 82 87 83 86 84 86 87 83 87 82 88 81 88 79 89 79 89 78 90 77 90 76 91 76 91 74 92 73 92 64 92 63 92 61 93 61 93 59 95 58 97 57 99 56 103 56 103 8 99 8 98 3 97 3 97 2Z" fill="#98ec14"/><path d="M2 59 -3 61 -3 79 1 80 2 80 3 81 4 81 4 82 7 82 8 82 12 82 13 82 15 82 16 81 19 80 23 76 23 74 24 74 24 66 23 66 23 64 21 63 21 62 21 61 19 61 18 59 17 59 16 59 14 59 14 58 6 58 5 59 3 59 3 59ZM68 53 67 54 66 54 65 55 64 55 62 57 62 58 60 59 60 61 59 61 59 64 59 64 59 71 59 71 59 74 60 74 60 76 62 77 62 78 64 81 66 81 66 82 67 82 68 82 76 82 76 82 79 81 82 77 82 76 84 75 84 73 85 72 85 63 84 62 84 61 83 61 82 58 79 54 78 54 77 54 76 54 76 53ZM74 -3 69 4 69 5 69 6 69 7 68 8 68 10 67 11 67 16 68 17 69 21 70 23 70 24 73 26 74 26 75 28 78 28 79 29 83 29 85 30 85 44 85 44 86 47 89 50 90 50 90 51 97 51 97 50 98 50 103 48 103 31 97 28 96 28 96 28 95 28 93 26 92 26 92 22 92 21 92 19 93 19 93 8 92 8 92 6 91 5 91 3 87 -3Z" fill="#ffdc00"/><path d="M5 64 3 67 3 69 2 69 2 71 3 71 3 74 4 75 5 75 6 76 12 76 13 75 14 75 15 73 15 71 16 71 16 69 15 68 15 67 13 64 11 64 10 64 8 64 7 64ZM69 61 69 62 68 62 67 63 67 64 66 64 66 66 65 66 65 71 66 71 66 72 69 76 74 76 74 75 76 75 77 73 77 72 78 72 78 65 77 65 77 64 75 61ZM92 33 92 34 90 34 90 35 90 36 89 37 89 41 90 42 90 43 91 45 95 45 97 42 97 36 96 34 95 34 94 33ZM79 5 79 6 76 7 76 8 74 9 74 16 75 17 75 18 76 19 77 19 78 20 79 20 79 21 82 21 83 20 84 20 86 18 86 17 87 16 87 15 87 15 87 12 87 11 87 9 86 9 86 8 84 6Z" fill="#ff8c00"/></g></svg><text x="399.2" y="152.9" class="lb">40<tspan font-size="4.8" dx="0.3" dy="-2.2">°</tspan></text><svg x="424.85" y="106.9" width="39" height="38.5" viewBox="0 0 100 100" preserveAspectRatio="none"><g opacity="0.999"><rect x="-5" y="-5" width="110" height="110" fill="#0810f2"/><path d="M8 27 4 30 4 36 7 39 11 40 12 39 13 39 13 38 15 38 15 37 15 36 16 36 16 30 14 28 13 28 12 27ZM103 -3 52 -3 52 1 51 2 51 5 50 5 50 9 49 9 49 21 50 21 50 26 51 26 51 28 52 28 53 33 54 33 54 36 56 38 56 39 59 41 59 42 57 44 57 46 58 47 56 49 56 50 51 54 51 56 49 57 49 58 49 59 48 62 46 63 46 64 44 64 43 66 42 68 41 67 41 66 41 66 40 61 39 61 39 59 37 58 37 57 36 56 36 54 32 51 31 51 30 49 28 49 27 48 26 48 26 47 24 47 24 46 22 46 21 45 19 45 19 44 15 44 15 44 6 44 5 44 2 44 1 45 -3 45 -3 98 1 99 4 99 4 103 72 103 72 99 73 99 74 98 75 98 75 97 77 97 78 97 79 97 79 96 81 96 81 95 84 94 85 92 87 92 87 92 90 91 91 89 92 89 94 87 95 87 97 85 98 85 103 83ZM16 -3 16 1 17 2 17 4 19 6 21 6 21 7 22 7 23 8 25 8 25 9 33 9 33 8 36 8 36 7 39 6 41 4 41 2 42 1 42 -3Z" fill="#14946c"/><path d="M2 48 1 49 -3 49 -3 95 1 96 4 96 4 97 16 97 17 96 20 96 20 95 22 95 23 94 24 94 24 93 27 92 32 87 33 87 35 86 35 85 36 83 36 81 37 81 37 73 38 72 38 71 37 71 37 66 36 66 36 64 36 63 36 62 35 62 34 59 27 52 26 52 26 51 24 51 24 50 23 50 22 49 21 49 21 49 18 49 18 48 14 48 14 47 7 47 6 48ZM103 -3 55 -3 55 2 54 3 54 5 54 5 54 9 53 9 53 21 54 21 54 25 54 25 55 30 56 30 57 33 59 34 59 36 60 37 60 38 63 40 63 43 62 44 62 45 60 46 60 47 59 49 59 50 57 51 56 54 54 55 54 56 54 57 54 59 53 59 53 61 52 61 52 63 51 64 51 66 50 66 50 68 49 69 49 72 49 72 49 75 48 75 48 80 49 80 49 82 49 82 49 84 54 88 55 88 55 89 62 89 62 88 64 88 64 87 66 87 67 86 68 86 69 84 71 84 77 78 77 77 79 75 79 74 81 72 81 71 82 70 82 69 83 68 83 67 84 67 84 65 85 65 85 64 86 63 86 62 87 61 90 61 90 62 93 62 94 62 96 62 96 62 99 62 103 61Z" fill="#08e814"/><path d="M2 54 1 55 -3 55 -3 88 1 89 3 89 3 90 7 90 8 91 11 91 12 90 15 90 16 89 18 89 18 88 20 88 20 87 23 87 27 82 27 81 28 81 28 79 29 79 29 78 30 77 30 74 31 74 31 70 30 70 30 66 29 66 28 63 26 61 26 59 25 59 23 59 21 56 20 56 20 55 18 55 17 54 15 54 15 54 4 54 4 54ZM95 -3 63 -3 62 1 62 2 61 3 61 4 60 4 60 6 59 7 59 10 59 11 59 17 59 18 59 21 60 22 61 26 62 27 62 28 64 29 64 31 74 40 74 42 74 43 74 44 74 45 65 53 65 54 64 55 64 56 63 57 63 58 62 59 62 60 61 60 61 62 60 63 60 72 62 73 64 73 65 74 65 73 67 73 68 72 69 72 76 66 76 64 77 64 77 63 77 62 77 61 78 61 78 59 79 59 79 56 80 56 80 54 81 52 82 53 83 53 84 54 85 54 85 55 87 55 88 56 91 56 91 56 94 56 95 56 97 56 97 55 98 55 103 53 103 18 99 18 99 12 98 11 98 7 97 6 97 4 97 4 97 3 96 2 96 1Z" fill="#98ec14"/><path d="M3 60 3 61 2 61 -3 63 -3 82 1 82 3 83 5 83 5 84 13 84 13 83 15 83 16 82 17 82 21 78 21 77 22 77 22 74 23 74 23 69 22 69 22 67 21 66 21 64 18 62 17 62 16 61 15 61 15 60 12 60 11 59 7 59 6 60ZM70 -3 69 2 69 3 67 4 67 5 66 6 66 8 65 8 65 19 66 19 66 21 67 22 67 23 69 25 69 26 71 26 72 28 73 28 74 29 75 29 75 30 82 30 83 31 83 33 82 33 82 41 83 41 83 44 84 44 85 47 87 50 89 50 90 51 92 51 93 50 94 50 97 46 97 45 98 45 98 44 99 43 99 35 98 35 98 33 97 33 97 30 90 24 90 21 91 21 91 17 92 16 92 10 91 10 90 5 89 5 89 3 86 -3Z" fill="#ffdc00"/><path d="M4 67 3 69 3 70 2 70 2 73 3 74 3 75 5 77 7 77 8 78 12 77 15 75 15 74 15 73 15 70 15 70 15 69 13 67 12 67 11 66 6 66 5 67ZM87 33 85 35 85 37 85 38 85 41 85 41 86 44 87 44 88 45 90 45 92 42 92 40 93 40 93 38 92 38 92 36 92 36 92 34 90 34 90 33ZM75 5 75 6 74 6 73 7 73 8 72 8 72 10 71 10 71 15 72 16 72 17 73 18 73 19 74 20 75 20 75 21 80 21 80 20 82 20 82 19 82 18 83 17 83 16 84 15 84 10 83 10 83 8 80 5Z" fill="#ff8c00"/></g></svg><text x="445.35" y="152.9" class="lb">45<tspan font-size="4.8" dx="0.3" dy="-2.2">°</tspan></text><svg x="9.5" y="154.1" width="39" height="38.5" viewBox="0 0 100 100" preserveAspectRatio="none"><g opacity="0.999"><rect x="-5" y="-5" width="110" height="110" fill="#0810f2"/><path d="M65 78 62 81 62 82 61 83 61 84 60 85 60 87 59 87 59 97 60 97 60 99 61 103 79 103 79 99 80 98 80 95 81 95 81 89 80 88 80 85 79 85 79 83 77 82 77 80 75 78 74 78 73 77 67 77 67 78ZM1 49 -3 50 -3 103 48 103 50 98 51 95 50 95 50 93 47 90 46 90 46 90 44 90 44 89 42 89 41 88 38 88 36 86 33 86 33 84 34 83 34 70 33 70 33 67 32 67 32 65 31 65 31 64 31 63 30 60 27 58 27 57 25 54 23 54 22 53 21 53 20 51 18 51 18 50 16 50 15 49 13 49 12 49 4 49 4 49ZM1 27 -3 28 -3 36 1 37 2 37 3 38 8 38 8 37 10 37 10 36 10 35 11 35 11 29 8 26 3 26 2 27ZM44 -3 44 1 44 17 44 18 44 22 45 23 45 26 46 26 46 28 47 28 48 33 49 33 49 35 49 35 49 36 50 37 50 38 51 38 51 40 52 40 51 41 49 41 49 42 49 43 49 44 48 44 45 47 45 48 44 49 44 50 44 50 44 56 44 56 45 59 48 62 49 62 50 63 51 63 52 64 54 64 54 65 56 65 57 66 69 66 69 65 76 65 76 64 78 64 81 61 84 61 85 60 87 60 87 59 90 58 96 52 96 51 97 50 97 49 98 48 98 47 99 46 99 44 103 44 103 9 99 9 99 6 98 5 98 4 97 4 97 2 97 1 97 -3ZM14 -3 15 1 15 2 18 5 20 5 20 5 26 5 27 5 29 5 31 2 31 -3Z" fill="#14946c"/><path d="M68 83 64 86 64 88 64 89 64 95 64 95 64 97 67 103 73 103 75 98 75 97 76 97 76 94 77 93 77 90 76 90 76 87 75 87 75 85 73 84 72 84 72 83ZM4 52 4 53 2 53 1 54 -3 54 -3 103 17 103 18 99 20 99 21 97 22 97 27 92 27 91 28 91 28 90 29 89 29 87 30 87 30 85 31 84 31 80 31 80 31 74 31 73 31 69 30 69 30 67 29 67 29 65 28 65 27 62 21 55 19 55 19 54 18 54 17 54 16 54 15 53 13 53 12 52ZM48 -3 48 4 47 4 47 15 48 16 48 21 49 22 49 25 49 25 49 27 50 28 51 32 52 33 52 34 53 34 53 36 54 36 54 37 54 38 55 41 57 42 58 45 60 47 60 48 63 50 63 51 64 52 65 52 65 53 67 53 67 54 68 54 69 55 71 55 71 56 74 56 74 56 80 56 80 56 83 56 84 55 85 55 85 54 88 53 93 48 93 47 95 46 95 44 96 44 96 43 97 42 97 40 97 40 97 37 98 36 98 30 99 30 99 23 98 22 98 16 97 15 97 13 97 12 97 9 96 9 96 7 95 6 95 5 94 5 94 3 93 3 93 1 92 -3Z" fill="#08e814"/><path d="M6 55 5 56 3 56 2 57 1 57 -3 58 -3 96 1 97 3 97 3 97 14 97 14 97 15 97 16 96 19 95 21 92 22 92 22 91 25 89 25 88 26 87 26 86 26 86 26 85 27 84 27 81 28 81 28 73 27 72 27 69 26 69 26 67 26 67 26 65 24 64 24 63 21 59 19 59 18 58 17 58 16 57 15 57 15 56 12 56 11 55ZM54 -3 54 1 53 2 53 5 52 5 52 18 53 18 53 22 54 23 54 26 54 26 54 28 55 28 55 30 56 30 56 31 57 32 57 33 58 33 59 36 60 38 60 39 66 45 67 45 69 46 70 46 70 47 72 47 72 48 75 48 75 49 80 49 80 48 82 48 83 47 86 46 90 42 90 41 91 41 91 39 92 39 92 38 92 37 92 34 93 34 93 30 94 30 94 19 93 19 93 15 92 15 92 12 92 11 91 7 90 6 90 5 89 5 88 2 87 -3Z" fill="#98ec14"/><path d="M4 59 4 60 3 60 2 61 1 61 -3 62 -3 92 1 92 2 92 3 92 3 93 6 93 7 94 10 94 11 93 14 93 14 92 17 92 21 87 21 86 23 85 23 83 24 82 24 79 25 79 25 74 24 73 24 70 23 70 23 69 22 68 21 65 18 62 17 62 16 61 15 61 15 60 13 60 13 59ZM62 -3 61 1 61 2 60 3 60 4 59 4 59 6 59 7 59 10 58 11 58 16 59 17 59 21 59 22 60 26 61 27 62 30 64 31 64 32 69 38 71 38 71 39 73 39 74 41 76 41 77 42 79 42 79 43 82 43 83 42 84 42 87 39 87 33 87 32 87 29 87 29 87 16 87 15 87 13 86 13 85 8 83 7 82 4 78 -3Z" fill="#ffdc00"/><path d="M5 64 5 64 2 65 -3 67 -3 86 2 87 3 87 3 88 5 88 5 89 12 89 13 88 15 87 19 84 19 83 20 82 20 80 21 80 21 73 20 72 20 70 19 70 19 69 15 65 14 65 14 64 13 64 12 64ZM79 31 78 32 77 32 76 33 76 34 75 34 75 37 76 38 76 39 78 41 79 41 79 41 82 41 83 41 84 41 86 39 86 33 83 31ZM68 8 67 8 66 8 64 11 64 15 66 18 67 18 68 19 71 19 71 18 72 18 74 16 74 14 75 14 75 13 74 12 74 10 72 8 71 8 71 8Z" fill="#ff8c00"/><path d="M6 69 5 70 3 70 3 72 3 72 3 73 2 74 2 79 3 79 3 81 5 83 6 83 7 84 11 84 12 83 13 83 15 82 15 80 15 80 15 79 16 78 16 74 15 74 15 72 12 69Z" fill="#ff4600"/></g></svg><text x="30" y="200.1" class="lb">50<tspan font-size="4.8" dx="0.3" dy="-2.2">°</tspan></text><svg x="55.65" y="154.1" width="39" height="38.5" viewBox="0 0 100 100" preserveAspectRatio="none"><g opacity="0.999"><rect x="-5" y="-5" width="110" height="110" fill="#0810f2"/><path d="M1 49 -3 49 -3 103 18 103 20 97 22 99 24 99 25 98 25 99 26 99 27 103 39 103 39 99 41 99 42 98 43 98 47 94 47 93 48 92 48 87 47 87 47 85 44 82 43 82 42 81 41 81 41 80 39 80 39 79 31 79 31 78 28 77 28 71 27 71 27 68 26 67 26 65 26 65 26 64 25 63 24 60 22 59 22 58 17 53 16 53 15 51 13 51 13 50 8 49 8 49ZM35 -3 35 13 36 13 36 17 37 18 37 21 38 21 38 26 39 26 39 27 40 28 40 30 41 30 41 31 43 33 43 34 44 34 41 37 41 38 42 39 40 40 40 41 39 42 39 43 38 44 38 49 39 49 39 51 41 52 41 53 42 54 43 54 44 56 46 56 46 56 47 56 48 57 50 57 50 58 53 58 54 59 62 59 63 58 67 58 67 59 68 58 71 58 71 57 74 56 76 54 78 54 79 53 81 53 81 52 84 51 85 50 87 50 90 46 90 45 92 44 92 43 93 41 93 39 94 39 94 38 95 37 95 35 96 35 96 32 97 31 97 14 96 14 96 11 95 10 95 8 94 7 93 3 92 2 92 1 92 -3ZM8 -3 9 3 12 5 13 5 13 6 21 6 21 5 24 5 25 4 25 3 26 2 26 -3Z" fill="#14946c"/><path d="M-3 52 -3 103 12 103 13 99 14 99 15 97 16 97 21 92 21 91 23 90 23 89 24 88 24 86 25 86 25 82 26 82 26 74 25 73 25 69 24 68 24 66 23 66 23 64 22 64 21 61 15 54 13 54 13 54 12 54 11 53 9 53 9 52ZM39 -3 39 1 38 2 38 11 39 12 39 16 40 17 40 20 41 20 42 25 43 25 43 26 44 27 44 28 44 28 45 31 47 33 48 36 49 37 49 38 51 39 51 41 58 47 59 47 59 48 62 48 62 49 65 49 65 50 77 50 77 49 78 49 79 48 82 47 83 46 84 46 87 42 87 41 89 40 89 38 90 38 90 37 91 36 91 34 92 34 92 32 92 31 92 28 93 27 93 17 92 16 92 12 92 11 92 8 91 8 91 6 90 5 90 4 89 4 89 2 88 1 88 -3Z" fill="#08e814"/><path d="M-3 55 -3 97 1 97 2 97 7 97 8 97 10 97 11 96 12 96 13 94 15 94 18 91 18 90 20 88 20 87 21 87 21 85 21 84 21 82 22 82 22 71 21 71 21 68 21 67 21 66 20 66 19 63 13 57 12 57 11 56 9 56 9 55ZM44 -3 44 4 44 4 44 11 44 12 44 16 45 17 45 20 46 20 46 22 47 23 47 24 48 24 48 26 49 26 49 29 51 30 51 31 54 34 54 36 55 36 56 36 59 40 61 40 61 41 62 41 63 41 64 41 64 42 67 42 68 43 74 43 74 42 77 42 77 41 80 41 84 36 84 35 85 35 85 33 86 33 86 32 87 31 87 29 87 29 87 25 88 25 88 16 87 15 87 12 87 11 87 8 86 8 86 6 85 5 85 4 84 4 83 1 82 -3Z" fill="#98ec14"/><path d="M1 59 -3 59 -3 92 2 92 3 93 6 93 7 92 10 92 10 92 11 92 16 87 16 85 17 85 17 84 18 83 18 81 19 81 19 70 18 70 18 68 17 67 17 66 15 65 15 64 13 61 12 61 10 59 8 59 8 59ZM53 -3 52 1 52 2 51 3 51 5 50 6 50 14 51 14 51 17 52 18 52 20 53 20 53 21 54 22 54 23 54 23 55 26 60 31 62 31 63 33 64 33 64 34 67 34 68 35 71 35 71 34 74 34 75 32 77 32 78 31 78 29 80 28 80 26 81 26 81 23 82 23 82 14 81 14 81 11 80 10 80 8 79 8 79 7 78 6 77 3 76 2 76 1 75 -3Z" fill="#ffdc00"/><path d="M4 62 4 63 1 63 -3 64 -3 87 2 87 3 88 7 88 8 87 10 87 14 83 14 82 15 82 15 79 15 79 15 71 15 71 15 69 13 67 13 66 11 64 10 64 9 63 6 63 5 62ZM60 4 58 7 58 11 59 12 59 13 59 14 61 14 61 15 66 15 68 12 68 7 66 4 64 4 63 3 62 4Z" fill="#ff8c00"/><path d="M3 67 1 69 -3 69 -3 81 1 82 2 82 3 82 7 82 8 82 9 82 10 80 10 79 11 78 11 71 10 71 10 69 9 68 8 68 7 67Z" fill="#ff4600"/></g></svg><text x="76.15" y="200.1" class="lb">55<tspan font-size="4.8" dx="0.3" dy="-2.2">°</tspan></text><svg x="101.8" y="154.1" width="39" height="38.5" viewBox="0 0 100 100" preserveAspectRatio="none"><g opacity="0.999"><rect x="-5" y="-5" width="110" height="110" fill="#0810f2"/><path d="M-3 48 -3 103 17 103 18 99 24 99 24 103 36 103 37 99 38 99 38 98 41 97 44 95 44 94 45 93 45 90 46 90 45 89 45 86 43 85 43 84 42 83 41 83 40 81 38 81 38 80 36 80 36 79 28 79 27 78 25 78 25 77 25 70 24 70 24 66 23 66 23 64 22 63 22 62 21 62 21 60 21 60 20 57 13 50 12 50 11 49 10 49 10 49 8 49 7 48ZM34 -3 34 9 35 9 35 15 36 15 36 18 37 18 37 21 38 22 38 24 38 24 39 29 40 29 40 31 41 31 41 32 42 33 42 34 43 34 44 37 45 38 44 39 44 45 46 46 46 47 54 56 56 56 56 56 58 56 59 57 61 57 61 58 67 58 67 59 69 59 69 58 76 58 76 57 79 57 79 56 82 56 84 54 85 54 86 53 86 52 87 51 87 49 88 49 88 48 89 47 89 46 90 46 90 44 91 43 91 38 88 36 92 36 93 35 95 35 95 34 97 34 103 31 103 18 97 14 95 14 95 13 92 13 92 13 90 13 89 13 88 13 88 9 87 9 87 6 87 5 86 1 85 -3ZM3 2 6 5 7 5 8 6 16 6 17 5 20 5 21 3 21 1 22 -3 3 -3Z" fill="#14946c"/><path d="M-3 51 -3 103 12 103 19 93 19 92 20 92 20 90 21 90 21 88 21 87 21 85 22 85 22 70 21 70 21 67 21 67 21 64 20 64 19 61 17 60 17 59 12 54 11 54 10 53 9 53 9 52 8 52 7 51ZM38 -3 38 10 38 10 38 15 39 16 39 19 40 19 40 21 41 22 42 26 43 27 43 28 44 28 44 30 44 30 44 31 45 32 45 33 46 33 47 36 49 38 49 39 50 40 50 41 56 47 57 47 59 49 60 49 60 50 62 50 62 51 64 51 64 51 72 51 73 51 74 51 74 50 77 49 81 46 81 44 82 43 82 42 83 41 83 39 84 39 84 37 85 36 85 33 86 32 86 29 87 29 87 18 86 17 86 13 85 13 85 9 84 9 84 6 83 5 82 1 82 -3Z" fill="#08e814"/><path d="M1 54 -3 55 -3 98 7 98 8 97 10 97 11 96 12 96 14 94 14 93 16 91 16 90 17 89 17 88 18 87 18 85 19 85 19 81 20 81 20 72 19 72 19 69 18 68 18 66 17 66 16 63 15 62 15 60 11 57 10 57 10 56 8 56 8 55 6 55 5 54ZM43 -3 43 2 42 3 42 8 43 8 43 15 44 15 44 18 44 18 44 21 45 21 45 23 46 23 46 25 47 25 47 27 48 28 48 29 49 30 50 33 54 36 54 37 55 39 56 39 59 41 60 41 60 42 62 42 62 43 64 43 64 44 70 44 70 43 73 42 74 41 76 41 76 39 78 37 78 36 79 36 79 34 80 34 80 32 81 31 81 28 82 27 82 14 81 14 81 10 80 10 80 7 79 6 79 4 78 4 78 2 77 1 77 -3Z" fill="#98ec14"/><path d="M1 59 -3 59 -3 94 7 94 8 93 9 93 10 92 11 92 12 91 12 90 14 88 14 87 15 87 15 85 15 85 15 83 16 82 16 70 15 70 15 68 15 67 14 64 10 60 8 60 8 59 7 59 6 59ZM49 -3 49 1 49 5 48 6 48 10 49 10 49 15 49 16 50 21 51 21 51 22 52 23 52 24 53 24 54 27 59 33 61 33 61 34 62 34 63 35 68 35 69 34 70 34 73 31 73 29 74 29 74 28 75 27 75 24 76 24 76 13 75 12 75 9 74 9 74 7 73 6 73 5 72 5 72 3 71 1 71 -3Z" fill="#ffdc00"/><path d="M2 63 1 64 -3 64 -3 89 1 89 2 90 5 90 6 89 9 88 10 87 10 85 12 84 12 82 13 82 13 77 14 76 13 76 13 71 12 71 12 69 10 67 10 66 9 64 8 64 7 64 6 64 5 63Z" fill="#ff8c00"/><path d="M3 68 2 69 1 69 -3 69 -3 83 1 84 6 84 8 82 8 81 9 81 9 79 10 79 10 74 9 73 9 71 6 69 5 69 5 68Z" fill="#ff4600"/></g></svg><text x="122.3" y="200.1" class="lb">60<tspan font-size="4.8" dx="0.3" dy="-2.2">°</tspan></text><svg x="147.95" y="154.1" width="39" height="38.5" viewBox="0 0 100 100" preserveAspectRatio="none"><g opacity="0.999"><rect x="-5" y="-5" width="110" height="110" fill="#0810f2"/><path d="M-3 46 -3 103 28 103 28 99 31 99 31 98 32 98 36 94 36 93 37 92 37 88 36 87 36 85 33 82 32 82 31 81 30 81 30 80 28 80 28 79 25 79 25 78 22 77 22 74 21 73 21 68 21 67 21 64 20 64 20 63 19 62 19 60 18 60 17 57 15 55 15 54 11 50 10 50 9 49 8 49 7 48 6 48 5 47 1 47ZM29 -3 29 12 30 13 30 17 31 18 31 21 32 21 32 24 33 24 33 26 33 27 33 28 34 28 34 31 35 31 35 32 36 33 36 34 37 34 38 37 39 38 39 40 41 41 41 45 42 45 42 47 47 52 48 52 49 54 51 54 51 55 52 55 53 56 55 56 55 56 57 56 58 57 62 57 63 58 68 58 69 57 77 57 77 56 83 56 84 56 87 56 87 55 89 55 90 54 92 54 92 53 95 52 97 50 98 50 99 49 99 48 103 47 103 38 96 34 95 34 94 33 93 33 92 33 91 33 91 32 86 31 86 30 84 30 84 28 83 28 82 28 81 27 81 13 80 12 80 8 79 7 79 4 78 4 78 1 77 -3Z" fill="#14946c"/><path d="M-3 50 -3 103 10 103 15 96 15 95 16 93 16 92 17 92 17 90 18 90 18 89 19 88 19 83 20 82 20 75 19 75 19 69 18 69 18 66 17 66 17 64 16 63 16 62 15 62 15 59 8 52 7 52 6 51 4 51 4 50ZM33 -3 32 1 32 7 33 8 33 15 33 15 33 18 34 18 34 21 35 22 35 24 36 24 36 26 37 27 37 28 38 28 38 31 38 31 38 32 40 33 41 36 43 38 43 39 45 41 45 42 48 45 49 45 51 47 52 47 53 48 54 48 54 49 56 49 57 50 64 50 64 49 67 49 67 48 70 47 74 43 74 42 75 41 75 39 76 39 76 36 77 36 77 32 77 31 77 11 77 10 77 7 76 6 76 3 75 3 75 1 74 -3Z" fill="#08e814"/><path d="M-3 57 -3 97 4 97 4 96 7 95 10 92 10 90 11 90 11 89 12 88 12 87 13 87 13 85 14 84 14 80 15 80 15 74 14 73 14 69 13 69 13 67 12 67 11 64 10 62 10 61 8 59 7 59 5 58 3 58 3 57ZM37 -3 37 4 36 4 36 7 37 8 37 15 38 15 38 18 38 18 38 21 39 22 39 23 40 23 40 26 41 26 41 27 42 28 43 31 44 32 44 33 51 40 52 40 53 41 54 41 54 41 56 41 56 42 62 42 62 41 64 41 65 40 67 40 69 37 69 36 70 36 70 34 71 34 71 33 72 32 72 30 72 30 72 27 73 26 73 10 72 10 72 7 72 6 72 3 71 3 71 1 70 -3Z" fill="#98ec14"/><path d="M-3 64 -3 90 3 90 3 89 5 89 7 87 7 85 8 85 8 84 9 83 9 81 10 81 10 73 9 72 9 70 8 70 8 69 6 67 6 66 5 65 4 65 4 64 3 64 2 64ZM43 -3 43 2 42 3 42 12 43 13 43 16 44 17 44 21 45 22 45 23 46 23 47 26 53 32 54 32 54 33 61 33 61 32 62 32 66 29 66 28 67 27 67 25 67 25 67 22 68 21 68 13 67 12 67 8 67 8 67 5 66 5 66 3 65 3 64 -3Z" fill="#ffdc00"/><path d="M-3 70 -3 83 2 83 4 82 4 80 5 80 5 74 4 73 4 72 3 71Z" fill="#ff8c00"/></g></svg><text x="168.45" y="200.1" class="lb">65<tspan font-size="4.8" dx="0.3" dy="-2.2">°</tspan></text><svg x="194.1" y="154.1" width="39" height="38.5" viewBox="0 0 100 100" preserveAspectRatio="none"><g opacity="0.999"><rect x="-5" y="-5" width="110" height="110" fill="#0810f2"/><path d="M-3 52 -3 103 36 103 37 99 37 98 38 97 38 92 37 92 37 90 36 89 36 88 35 87 33 87 32 85 30 85 30 85 26 85 25 83 22 82 22 81 21 81 21 75 21 75 21 72 20 72 19 67 18 67 17 64 15 62 15 61 13 59 13 58 12 57 11 57 9 54 8 54 7 54 6 54 5 53 3 53 2 52ZM23 -3 23 5 24 6 24 11 25 12 25 15 26 15 26 18 27 18 27 21 28 21 28 22 28 23 28 24 29 24 29 26 30 26 31 29 33 30 33 31 35 33 35 35 38 38 38 39 38 39 38 40 38 42 40 44 41 44 42 46 45 49 46 49 48 51 50 51 50 51 51 51 52 52 56 52 56 53 64 53 64 52 67 52 68 51 70 51 70 51 72 51 72 50 75 49 77 46 77 45 79 44 79 42 82 42 82 41 86 41 86 40 88 40 89 39 90 39 90 38 93 37 95 36 96 36 103 31 103 20 99 19 91 19 91 20 86 21 86 22 83 23 82 24 80 24 76 29 74 29 73 30 72 30 72 28 70 27 70 26 71 26 71 23 72 23 72 18 72 18 72 5 72 5 72 -3Z" fill="#14946c"/><path d="M-3 56 -3 103 17 103 17 99 18 98 18 96 19 96 19 92 20 92 20 84 19 83 19 76 18 76 18 73 17 72 17 70 16 70 16 69 15 68 15 65 13 64 13 63 10 59 8 59 7 58 6 58 5 57 3 57 3 56ZM27 -3 27 9 28 9 28 13 28 13 28 16 29 17 29 18 30 18 30 21 31 21 31 22 32 23 32 24 33 24 33 27 36 29 36 31 41 36 42 36 44 37 45 37 45 38 46 38 47 39 50 39 50 40 56 40 56 39 58 39 59 38 60 38 62 36 62 35 64 33 64 32 65 31 65 30 66 30 66 28 67 28 67 23 68 23 68 20 69 20 69 3 68 2 68 -3Z" fill="#08e814"/><path d="M-3 66 -3 103 8 103 10 98 10 97 10 97 10 95 11 95 11 93 12 92 12 90 13 89 13 81 12 81 12 77 11 77 11 74 10 74 10 73 9 72 9 70 5 67 4 67 4 66ZM31 -3 31 10 32 11 32 14 33 14 33 16 33 17 33 18 34 18 34 20 35 20 36 23 38 24 38 26 42 30 43 30 44 31 45 31 45 31 46 31 47 32 55 32 55 31 56 31 62 26 62 25 62 25 62 23 63 23 63 22 64 21 64 19 65 19 65 14 66 14 66 7 65 6 65 2 64 1 64 -3Z" fill="#98ec14"/><path d="M-3 75 -3 94 2 94 5 91 5 89 6 88 6 81 5 81 5 79 3 76ZM36 -3 36 10 37 10 37 12 38 13 38 15 38 15 39 18 45 24 47 24 48 25 52 25 53 24 54 24 55 22 56 22 56 21 58 20 58 18 59 18 59 16 60 15 60 11 61 10 61 8 60 7 60 3 59 2 59 -3Z" fill="#ffdc00"/></g></svg><text x="214.6" y="200.1" class="lb">70<tspan font-size="4.8" dx="0.3" dy="-2.2">°</tspan></text><svg x="240.25" y="154.1" width="39" height="38.5" viewBox="0 0 100 100" preserveAspectRatio="none"><g opacity="0.999"><rect x="-5" y="-5" width="110" height="110" fill="#0810f2"/><path d="M-3 69 -3 103 32 103 32 97 34 97 36 95 36 94 38 92 38 90 39 90 39 86 38 86 38 84 36 81 34 81 34 80 33 80 32 79 31 79 31 79 29 79 29 78 26 78 23 74 22 74 20 72 18 72 18 71 17 71 16 70 14 70 14 69 11 69 10 69 2 69 1 69ZM96 43 96 44 94 44 90 48 90 49 89 49 89 51 88 51 88 54 87 54 87 62 88 62 88 65 89 65 90 68 94 72 96 72 96 73 103 73 103 43ZM16 -3 16 10 17 10 17 14 18 14 18 17 18 18 18 20 19 20 19 21 20 22 20 23 21 23 21 26 23 27 23 30 25 31 25 32 30 37 30 42 31 43 31 44 32 44 32 46 33 48 33 49 34 50 36 50 37 51 39 51 39 52 42 52 43 53 45 53 45 52 49 52 49 51 52 51 56 47 56 46 56 46 56 44 58 42 58 38 57 38 57 37 61 34 61 33 62 32 62 31 62 31 62 29 63 29 63 28 64 27 65 23 66 22 66 18 67 17 67 5 66 5 66 -3Z" fill="#14946c"/><path d="M-3 73 -3 103 29 103 29 97 30 97 30 89 29 88 29 86 27 85 27 84 19 75 18 75 17 74 16 74 15 74 14 74 14 73 11 73 10 72 2 72 1 73ZM18 -3 18 5 19 6 19 11 20 12 20 15 21 15 22 20 23 20 23 21 23 22 23 23 24 23 25 26 28 28 28 30 33 36 35 36 36 37 37 37 38 38 39 38 39 39 41 39 41 40 43 40 44 41 45 41 45 40 47 40 48 39 49 39 49 38 52 37 56 33 56 32 59 30 59 28 60 28 60 27 61 26 61 24 62 24 62 22 62 21 62 18 63 18 63 3 62 3 62 -3Z" fill="#08e814"/><path d="M-3 85 -3 103 17 103 17 91 16 91 16 90 12 85 11 85 10 85 8 85 8 84 5 84 5 85 2 85 1 85ZM23 -3 23 6 23 7 23 11 24 12 24 15 25 15 25 16 26 17 26 19 27 19 27 21 28 22 28 23 30 24 30 26 34 30 36 30 36 31 37 31 38 31 39 31 39 32 47 32 48 31 51 31 56 26 56 24 56 24 56 23 57 22 57 20 58 20 58 17 59 16 59 3 58 2 58 -3Z" fill="#98ec14"/><path d="M28 -3 28 10 29 10 29 12 30 13 30 15 31 15 32 18 37 23 38 23 38 24 40 24 40 25 46 25 46 24 47 24 51 20 51 18 52 18 52 16 53 15 53 13 54 12 54 5 53 5 53 1 52 -3Z" fill="#ffdc00"/></g></svg><text x="260.75" y="200.1" class="lb">75<tspan font-size="4.8" dx="0.3" dy="-2.2">°</tspan></text><svg x="286.4" y="154.1" width="39" height="38.5" viewBox="0 0 100 100" preserveAspectRatio="none"><g opacity="0.999"><rect x="-5" y="-5" width="110" height="110" fill="#0810f2"/><path d="M-3 76 -3 103 41 103 41 96 40 96 40 93 39 92 39 90 38 90 37 87 36 86 36 85 31 79 29 79 28 78 27 78 26 77 25 77 25 76 23 76 23 75 21 75 21 74 17 74 16 74 8 74 7 74 4 74 4 75 2 75 1 76ZM94 35 93 36 91 36 91 37 90 37 87 39 86 39 86 41 84 43 84 44 83 44 83 46 82 47 82 49 81 49 81 54 80 54 80 58 81 59 81 63 82 64 82 66 83 66 84 69 85 70 85 72 88 74 89 74 90 76 92 76 93 77 98 77 99 76 103 76 103 36 98 36 97 35ZM79 1 79 5 80 6 80 7 83 10 84 10 85 10 91 10 91 10 94 9 95 8 95 7 96 6 96 5 97 5 97 2 96 1 96 -3 80 -3ZM10 -3 10 10 11 10 11 14 12 14 12 16 13 17 13 21 14 22 14 23 15 23 16 26 18 28 18 29 20 31 20 32 23 36 25 36 27 38 30 39 32 41 32 42 34 45 36 45 37 46 39 46 39 46 46 46 47 46 49 46 50 44 51 44 52 43 52 42 53 41 53 40 54 40 54 33 52 32 53 31 53 30 55 29 55 27 56 26 56 25 56 25 56 23 57 22 57 18 58 18 58 3 57 3 57 -3Z" fill="#14946c"/><path d="M-3 79 -3 103 37 103 37 97 36 97 36 94 36 93 36 91 35 91 34 88 31 86 31 85 31 84 29 84 27 81 26 81 25 79 23 79 23 79 21 79 21 78 18 78 17 77 7 77 6 78 4 78 4 79 2 79 1 79ZM13 -3 13 8 13 8 13 12 14 13 14 15 15 16 15 17 16 18 16 20 17 20 17 21 18 22 18 25 20 26 20 27 26 33 27 33 28 34 29 34 29 35 31 35 31 36 32 36 33 36 35 36 35 37 43 37 49 31 49 30 51 29 51 28 51 27 51 26 52 26 52 24 53 24 53 22 54 21 54 18 55 18 55 13 56 12 56 8 55 7 55 2 54 1 54 -3Z" fill="#08e814"/><path d="M-3 90 -3 103 29 103 29 98 28 97 28 95 27 94 26 91 23 88 22 88 21 86 18 86 18 85 16 85 15 85 8 85 8 85 6 85 5 86 3 87ZM17 1 17 5 18 6 18 10 18 11 18 14 19 14 19 15 20 16 20 17 21 18 21 19 22 19 23 22 28 27 29 27 29 28 31 28 31 29 33 29 33 30 39 30 39 29 42 28 44 26 45 26 45 25 47 23 47 22 48 21 48 20 49 20 49 18 50 17 50 13 51 13 51 5 50 5 50 1 49 -3 18 -3Z" fill="#98ec14"/><path d="M4 97 4 103 21 103 21 98 20 97 20 96 16 93 14 93 14 92 11 92 10 93 8 93 8 94 7 94 5 95 5 97ZM23 -3 23 8 23 8 24 13 25 13 25 15 27 16 27 17 29 20 31 20 31 21 32 21 33 21 37 21 38 21 39 21 42 17 42 16 43 15 43 14 44 14 44 10 45 10 45 6 44 5 44 2 43 1 43 -3Z" fill="#ffdc00"/></g></svg><text x="306.9" y="200.1" class="lb">80<tspan font-size="4.8" dx="0.3" dy="-2.2">°</tspan></text><svg x="332.55" y="154.1" width="39" height="38.5" viewBox="0 0 100 100" preserveAspectRatio="none"><g opacity="0.999"><rect x="-5" y="-5" width="110" height="110" fill="#0810f2"/><path d="M-3 75 -3 103 41 103 41 95 41 94 41 92 40 92 40 90 39 90 38 87 36 86 36 85 34 82 33 82 31 79 29 79 28 78 27 78 26 77 25 77 25 76 23 76 22 75 20 75 20 74 16 74 15 74 5 74 5 74 1 74ZM92 32 92 33 90 33 89 34 88 34 88 36 85 38 85 39 85 39 85 41 84 41 84 42 83 43 83 46 82 46 82 58 83 59 83 61 84 61 84 63 85 64 85 67 90 72 92 72 93 72 99 72 103 72 103 33 99 32ZM74 -3 74 6 77 10 78 10 79 10 85 10 85 10 88 9 89 8 89 7 90 6 90 4 91 4 91 3 90 2 90 -3ZM3 -3 3 6 3 7 3 12 4 13 4 15 5 16 5 18 6 18 6 20 7 20 7 22 8 23 8 26 10 27 10 28 12 29 12 31 18 36 19 36 20 38 23 39 23 41 24 41 24 42 25 43 26 43 28 45 30 45 30 46 38 46 38 45 41 45 41 44 42 44 45 41 45 40 46 39 46 38 47 37 46 33 47 32 47 31 49 30 49 28 50 28 50 27 51 26 51 24 51 24 51 22 52 21 52 18 53 18 53 3 52 2 52 -3Z" fill="#14946c"/><path d="M-3 79 -3 103 38 103 38 97 37 97 37 94 36 93 36 91 35 90 35 89 33 87 33 86 31 84 29 84 27 81 26 81 26 80 24 80 24 79 23 79 22 79 20 79 20 78 17 78 16 77 4 77 4 78 1 78ZM6 -3 6 9 7 9 7 13 8 13 8 18 9 18 9 20 10 20 10 21 11 22 12 25 13 26 13 27 19 33 21 33 21 34 24 35 25 36 27 36 28 37 31 37 32 38 36 38 36 37 37 37 43 31 43 30 46 28 46 27 46 26 46 25 47 25 47 23 48 23 48 21 49 21 49 18 50 18 50 13 51 12 51 7 50 6 50 1 49 -3Z" fill="#08e814"/><path d="M-3 87 -3 103 29 103 29 98 28 97 28 95 27 95 26 92 22 88 21 88 21 87 19 87 19 86 18 86 17 85 14 85 14 85 7 85 6 85 3 85 3 86 1 86ZM11 -3 11 10 12 11 13 15 13 16 13 17 14 18 15 21 17 22 17 23 20 26 21 26 23 28 24 28 24 29 26 29 27 30 33 30 33 29 36 29 37 27 38 27 41 25 41 23 42 22 42 21 43 21 43 19 44 19 44 17 45 16 45 12 46 11 46 6 45 5 45 1 44 -3Z" fill="#98ec14"/><path d="M1 99 1 103 20 103 19 99 19 97 18 97 18 95 16 94 15 94 15 93 13 93 12 92 8 92 8 93 6 93 5 94 4 94 2 96 2 98ZM17 -3 17 10 18 10 18 12 18 13 18 14 20 15 20 16 23 20 25 20 25 21 26 21 27 21 31 21 32 21 35 20 36 18 36 17 37 16 37 15 38 15 38 13 39 13 39 2 38 1 38 -3Z" fill="#ffdc00"/></g></svg><text x="353.05" y="200.1" class="lb">85<tspan font-size="4.8" dx="0.3" dy="-2.2">°</tspan></text><svg x="378.7" y="154.1" width="39" height="38.5" viewBox="0 0 100 100" preserveAspectRatio="none"><g opacity="0.999"><rect x="-5" y="-5" width="110" height="110" fill="#0810f2"/><path d="M63 97 63 103 77 103 77 98 77 97 77 96 75 95 74 95 73 94 67 94 67 95 65 95ZM-3 78 -3 103 47 103 47 95 46 95 46 93 46 92 46 91 45 91 45 90 44 89 43 86 36 79 34 79 34 78 33 78 32 77 31 77 31 76 29 76 29 75 27 75 26 74 23 74 23 74 12 74 11 74 8 74 7 75 6 75 5 76 3 76 3 77ZM95 24 94 25 90 26 88 28 87 28 86 29 85 29 83 31 83 32 80 34 80 36 79 37 79 38 78 38 78 41 77 41 77 44 76 44 76 56 77 56 77 59 78 59 78 62 79 62 79 63 80 64 80 66 83 68 83 69 85 71 86 71 87 72 88 72 90 74 92 74 92 75 94 75 95 76 103 76 103 24ZM65 -3 65 1 64 2 64 9 65 9 66 12 69 15 70 15 70 15 73 15 74 16 74 15 77 15 78 15 79 15 82 12 82 11 82 10 82 9 83 9 83 2 82 1 82 -3ZM-3 -3 -3 26 2 27 2 28 8 34 9 34 10 36 11 36 12 36 14 36 14 37 17 37 18 38 22 38 23 37 26 37 27 36 28 36 28 36 31 35 33 33 34 33 37 30 37 28 39 27 39 26 41 25 41 23 41 23 41 22 42 21 42 19 43 19 43 17 44 16 44 13 45 13 45 -3Z" fill="#14946c"/><path d="M-3 83 -3 103 44 103 44 98 43 97 43 95 42 94 42 92 41 92 41 90 40 89 40 88 34 82 33 82 31 80 30 80 30 79 28 79 28 79 26 79 26 78 23 78 22 77 12 77 11 78 8 78 8 79 7 79 6 79 4 79 3 81 2 81ZM95 34 95 35 93 35 92 36 91 36 86 41 86 42 85 43 85 44 85 44 85 47 84 48 84 52 85 53 85 56 85 56 86 59 91 64 92 64 93 65 95 65 95 66 103 66 103 34ZM-3 -3 -3 17 1 18 1 20 2 20 3 23 4 24 4 26 9 31 10 31 11 31 12 31 13 32 14 32 14 33 16 33 17 34 23 34 23 33 26 33 27 32 30 31 32 29 33 29 35 27 35 26 37 24 37 23 38 22 38 21 39 21 39 19 40 19 41 14 41 14 41 9 42 9 42 1 41 -3Z" fill="#08e814"/><path d="M-3 96 -3 103 35 103 34 95 33 95 33 94 31 92 31 91 30 90 28 90 27 88 26 88 26 87 24 87 24 86 22 86 21 85 13 85 13 86 10 86 10 87 7 88 2 93 2 94 1 95 1 96ZM3 -3 3 11 4 12 4 15 5 15 5 16 6 17 7 20 13 26 14 26 14 26 16 26 17 27 24 27 24 26 26 26 26 26 29 25 33 21 33 19 34 19 34 18 35 17 35 16 36 15 36 13 36 13 36 10 37 10 37 -3Z" fill="#98ec14"/><path d="M8 100 8 103 26 103 26 99 25 98 25 97 22 95 20 95 20 94 14 94 14 95 11 95 10 96 10 97 9 98 9 99ZM9 -3 9 10 10 10 10 12 11 13 11 14 13 15 13 16 13 17 15 17 16 19 18 19 18 20 21 20 22 19 24 19 24 18 26 18 29 15 29 13 30 13 30 12 31 11 31 9 31 9 31 1 31 -3Z" fill="#ffdc00"/></g></svg><text x="399.2" y="200.1" class="lb">90<tspan font-size="4.8" dx="0.3" dy="-2.2">°</tspan></text><rect x="8.7" y="106.1" width="18.6" height="20.3" fill="#fff"/><text x="9.2" y="121.7" class="pl">(b)</text><text x="418.3" y="161.1" class="ca">Constant Angle:φ<tspan font-size="5" dy="1.5">2</tspan></text><path d="M422.2 166.5 H439.7 M422.2 166.5 V183" stroke="#000" stroke-width="0.7" fill="none"/><path d="M443.4 166.5 l-4 -1.8 v3.6z M422.2 186.7 l-1.8 -4 h3.6z" fill="#000"/><text x="435.6" y="176" class="ca">φ<tspan font-size="5" dy="1.5">1</tspan><tspan dy="-1.5">(0°~90°)</tspan></text><text x="421.2" y="195" class="ca">Φ(0°~90°)</text><rect x="479.4" y="112.1" width="17.5" height="10.38" fill="#ee0000" stroke="#111" stroke-width="1.05"/><rect x="479.4" y="122.48" width="17.5" height="10.38" fill="#ff4600" stroke="#111" stroke-width="1.05"/><rect x="479.4" y="132.86" width="17.5" height="10.38" fill="#ff8c00" stroke="#111" stroke-width="1.05"/><rect x="479.4" y="143.24" width="17.5" height="10.38" fill="#ffdc00" stroke="#111" stroke-width="1.05"/><rect x="479.4" y="153.62" width="17.5" height="10.38" fill="#98ec14" stroke="#111" stroke-width="1.05"/><rect x="479.4" y="164" width="17.5" height="10.38" fill="#08e814" stroke="#111" stroke-width="1.05"/><rect x="479.4" y="174.38" width="17.5" height="10.38" fill="#14946c" stroke="#111" stroke-width="1.05"/><rect x="479.4" y="184.76" width="17.5" height="10.38" fill="#0810f2" stroke="#111" stroke-width="1.05"/><text transform="translate(501.6 115) scale(0.9 1)" class="lg">Max = 5.539</text><text transform="translate(501.6 125.57) scale(0.9 1)" class="lg">4.164</text><text transform="translate(501.6 136.14) scale(0.9 1)" class="lg">3.131</text><text transform="translate(501.6 146.71) scale(0.9 1)" class="lg">2.353</text><text transform="translate(501.6 157.28) scale(0.9 1)" class="lg">1.769</text><text transform="translate(501.6 167.85) scale(0.9 1)" class="lg">1.330</text><text transform="translate(501.6 178.42) scale(0.9 1)" class="lg">1.000</text><text transform="translate(501.6 188.99) scale(0.9 1)" class="lg">0.752</text><svg x="9.2" y="209.8" width="39.4" height="38.6" viewBox="0 0 100 100" preserveAspectRatio="none"><g opacity="0.999"><rect x="-5" y="-5" width="110" height="110" fill="#0810f2"/><path d="M103 83 90 83 90 84 88 84 87 85 86 85 85 86 84 86 81 89 81 90 79 91 79 92 79 93 79 94 78 95 78 99 77 103 103 103ZM-3 80 -3 103 51 103 51 97 50 97 50 95 48 93 48 92 43 87 42 87 41 85 39 85 39 85 38 85 37 84 36 84 36 83 34 83 34 82 32 82 31 81 28 81 28 80 25 80 25 79 18 79 17 79 11 79 10 79 4 79 4 80ZM-3 -3 -3 24 1 24 2 25 5 25 6 26 12 26 13 26 28 26 28 26 35 26 35 25 39 25 39 24 42 24 43 23 45 23 45 22 50 21 50 21 51 21 52 20 53 20 54 19 55 19 55 18 58 17 59 15 61 15 66 10 66 9 67 8 67 7 68 6 69 5 69 5 69 6 71 6 71 5 72 5 73 6 73 7 74 8 74 10 75 10 77 10 79 13 80 13 80 14 82 14 82 15 84 15 85 15 87 15 88 16 98 16 99 15 103 15 103 -3Z" fill="#14946c"/><path d="M103 85 99 85 93 85 92 85 90 85 89 86 86 87 82 91 82 92 81 93 81 94 80 95 80 97 79 97 79 103 103 103ZM-3 83 -3 103 46 103 46 97 45 97 44 94 41 92 41 90 40 90 38 88 37 88 36 86 34 86 34 85 33 85 32 85 30 85 30 84 28 84 27 83 24 83 24 82 18 82 18 81 9 81 9 82 3 82 3 83ZM74 -3 74 3 74 3 75 6 77 8 77 9 78 10 79 10 80 11 82 11 82 12 83 12 84 13 85 13 85 14 89 14 90 15 96 15 96 14 103 14 103 -3ZM-3 20 2 20 3 21 5 21 5 21 9 21 9 22 14 22 14 23 32 23 33 22 38 22 38 21 41 21 42 21 45 21 45 20 50 19 50 18 51 18 52 17 53 17 54 16 56 15 58 14 59 14 64 9 64 8 65 7 65 6 66 5 66 4 67 4 67 -3 -3 -3Z" fill="#08e814"/><path d="M103 93 98 93 97 92 95 92 94 93 92 93 92 94 90 94 90 95 90 96 88 97 88 103 103 103ZM-3 90 -3 103 34 103 34 99 33 98 33 96 28 91 27 91 26 90 25 90 25 90 23 90 23 89 21 89 21 88 16 88 15 87 8 87 8 88 4 88 4 89 1 89ZM84 -3 84 3 87 6 89 6 90 7 97 7 97 6 98 6 103 5 103 -3ZM3 4 4 4 4 5 8 10 10 10 10 10 11 10 12 11 13 11 13 12 15 12 15 13 17 13 18 14 21 14 21 15 26 15 26 15 37 15 38 15 42 15 43 14 46 14 46 13 48 13 49 12 51 12 51 11 52 11 54 10 55 10 59 5 61 -3 3 -3Z" fill="#98ec14"/><path d="M-3 98 -3 103 21 103 21 98 18 95 17 95 16 94 13 94 13 93 8 93 8 94 5 94 5 95 3 95 2 96 1 96 1 97ZM26 -3 26 2 27 3 27 4 28 5 29 5 29 5 31 5 31 6 32 6 33 7 36 7 37 8 43 8 44 7 46 7 47 6 49 6 49 5 51 5 54 2 54 -3Z" fill="#ffdc00"/></g></svg><text x="29.9" y="255.9" class="lb">0<tspan font-size="4.8" dx="0.3" dy="-2.2">°</tspan></text><svg x="55.46" y="209.8" width="39.4" height="38.6" viewBox="0 0 100 100" preserveAspectRatio="none"><g opacity="0.999"><rect x="-5" y="-5" width="110" height="110" fill="#0810f2"/><path d="M103 82 98 82 97 81 92 81 92 82 88 82 87 83 86 83 86 84 83 85 82 86 80 86 78 89 78 90 76 91 76 92 75 93 75 95 74 95 74 103 103 103ZM-3 80 -3 103 46 103 46 97 45 97 45 95 44 95 43 92 36 85 35 85 35 85 33 85 33 84 32 84 31 83 30 83 30 82 28 82 28 81 25 81 25 80 22 80 21 79 15 79 15 79 9 79 9 79 3 79 2 80ZM-3 -3 -3 22 1 22 2 23 5 23 6 24 11 24 12 25 39 25 39 24 44 24 44 23 48 23 49 22 51 22 52 21 55 21 55 21 57 21 58 20 59 20 59 19 62 19 62 18 63 18 64 17 67 16 68 15 69 15 71 12 72 12 74 15 77 15 77 15 78 15 80 15 80 15 82 15 82 16 83 16 84 17 86 17 86 18 91 18 91 19 96 19 96 18 103 18 103 -3Z" fill="#14946c"/><path d="M103 85 99 84 90 84 90 85 88 85 87 85 86 85 86 86 83 87 79 90 79 92 79 92 79 93 78 94 78 95 77 95 77 103 103 103ZM-3 83 -3 103 41 103 41 99 41 98 41 96 40 96 39 93 36 91 36 90 35 90 33 87 32 87 31 85 29 85 29 85 28 85 27 84 25 84 25 83 23 83 22 82 18 82 17 81 6 81 5 82 2 82 1 83ZM73 -3 73 4 74 4 74 7 80 13 82 13 82 14 83 14 84 15 85 15 85 15 88 15 89 16 99 16 103 15 103 -3ZM-3 20 2 20 3 21 6 21 7 21 12 21 13 22 33 22 33 21 39 21 39 21 43 21 44 20 46 20 47 19 50 19 50 18 52 18 53 17 54 17 54 16 56 16 56 15 57 15 58 15 61 14 62 12 63 12 67 9 67 8 68 6 68 4 69 4 69 -3 -3 -3Z" fill="#08e814"/><path d="M86 97 86 103 103 103 103 93 99 93 98 92 91 92 91 93 90 93 87 95 87 97ZM-3 88 -3 103 30 103 30 97 29 97 28 94 25 90 23 90 22 89 20 89 20 88 18 88 17 87 13 87 13 86 8 86 7 87 3 87 2 88ZM84 -3 85 5 87 7 88 7 89 8 91 8 91 9 97 9 97 8 99 8 103 7 103 -3ZM-3 13 1 13 2 14 5 14 5 15 10 15 10 15 26 15 26 15 31 15 31 14 34 14 34 13 39 12 39 11 42 10 44 8 46 8 46 7 46 6 48 5 48 -3 -3 -3Z" fill="#98ec14"/><path d="M-3 95 -3 103 18 103 18 95 16 94 15 94 15 93 13 93 13 92 4 92 4 93 3 93 2 94 1 94ZM-3 6 1 6 2 7 4 7 4 8 7 8 8 9 17 9 18 8 21 8 22 7 25 6 27 4 27 3 28 2 27 1 27 -3 -3 -3Z" fill="#ffdc00"/></g></svg><text x="76.16" y="255.9" class="lb">5<tspan font-size="4.8" dx="0.3" dy="-2.2">°</tspan></text><svg x="101.72" y="209.8" width="39.4" height="38.6" viewBox="0 0 100 100" preserveAspectRatio="none"><g opacity="0.999"><rect x="-5" y="-5" width="110" height="110" fill="#0810f2"/><path d="M103 84 99 83 90 83 90 84 88 84 87 85 85 85 81 90 81 91 80 91 80 92 79 93 79 95 79 95 79 103 103 103ZM-3 83 -3 103 50 103 50 98 49 97 49 96 48 96 47 93 41 87 40 87 39 85 38 85 37 85 36 85 36 84 34 84 34 83 32 83 31 82 28 82 28 81 24 81 24 80 8 80 8 81 4 81 4 82 1 82ZM59 -3 59 2 60 3 60 5 61 6 61 7 62 8 64 8 65 7 70 13 72 13 72 14 73 14 74 15 75 15 75 15 77 15 78 16 80 16 80 17 95 17 95 16 98 16 99 15 103 15 103 -3ZM-3 23 3 23 3 24 8 24 8 25 28 25 28 24 32 24 33 23 36 23 36 22 39 22 39 21 41 21 41 21 43 21 44 20 45 20 45 19 48 18 50 15 51 15 56 11 56 10 56 10 56 8 57 8 57 7 58 6 58 -3 -3 -3Z" fill="#14946c"/><path d="M103 85 98 85 97 85 92 85 92 85 90 85 89 86 88 86 87 88 85 88 84 90 84 91 82 92 82 94 81 95 81 97 80 98 80 103 103 103ZM-3 85 -3 103 45 103 45 97 44 97 43 94 37 88 36 88 36 87 34 87 34 86 33 86 32 85 31 85 31 85 28 85 28 84 25 84 25 83 20 83 20 82 12 82 11 83 6 83 5 84 3 84 2 85ZM66 -3 66 4 67 4 68 7 72 11 73 11 74 12 75 12 75 13 77 13 77 14 79 14 79 15 83 15 84 15 92 15 93 15 96 15 96 14 98 14 99 13 103 13 103 -3ZM-3 20 1 21 4 21 4 21 9 21 9 22 25 22 25 21 30 21 30 21 33 21 33 20 36 20 36 19 37 19 38 18 40 18 40 17 41 17 43 15 44 15 45 14 46 14 50 10 50 9 51 9 51 8 51 7 51 6 52 5 52 -3 -3 -3Z" fill="#08e814"/><path d="M88 97 88 103 103 103 103 95 98 93 96 93 96 92 91 93 89 95 89 97ZM-3 91 -3 103 33 103 33 97 32 97 32 95 31 94 31 93 29 93 27 90 26 90 26 90 23 90 23 89 21 89 21 88 7 88 6 89 4 89 4 90 3 90 2 90 1 90ZM77 -3 77 2 78 3 78 4 79 5 81 5 81 6 82 6 83 7 85 7 85 8 90 8 90 7 93 7 94 6 95 6 98 3 98 -3ZM-3 13 1 13 2 14 4 14 4 15 8 15 8 15 20 15 20 15 24 15 24 14 29 13 29 12 31 12 32 10 33 10 36 7 36 6 37 5 37 -3 -3 -3Z" fill="#98ec14"/><path d="M3 97 3 103 21 103 21 97 21 97 21 95 20 95 18 95 18 94 16 94 15 93 8 93 8 94 6 94 5 95 4 95 3 95 3 97ZM-3 -3 -3 5 3 7 4 7 4 8 7 8 8 9 15 9 15 8 18 8 18 7 20 7 22 5 22 3 23 3 23 1 22 -3Z" fill="#ffdc00"/></g></svg><text x="122.42" y="255.9" class="lb">10<tspan font-size="4.8" dx="0.3" dy="-2.2">°</tspan></text><svg x="147.98" y="209.8" width="39.4" height="38.6" viewBox="0 0 100 100" preserveAspectRatio="none"><g opacity="0.999"><rect x="-5" y="-5" width="110" height="110" fill="#0810f2"/><path d="M103 83 94 83 93 84 90 85 87 88 87 89 86 90 86 91 85 91 85 92 85 93 85 96 84 96 84 103 103 103ZM50 85 49 84 49 83 46 79 44 79 44 79 43 79 42 78 39 78 39 77 36 77 36 76 25 76 25 77 21 77 21 78 18 78 18 79 17 78 16 78 15 79 13 79 13 79 12 79 11 80 3 80 3 81 -3 81 -3 103 48 103 48 99 47 98 47 96 46 96 46 95 46 94 47 92 48 92 48 90 49 89 49 88 50 87ZM61 -3 61 4 62 4 62 6 64 8 64 9 67 12 68 12 69 14 71 14 71 15 72 15 73 15 75 15 75 16 78 16 79 17 93 17 94 16 97 16 97 15 103 15 103 -3ZM-3 23 2 23 3 24 6 24 7 25 24 25 24 24 28 24 28 23 31 23 32 22 33 22 33 21 36 21 36 21 37 21 38 20 41 19 42 17 43 17 47 13 47 12 49 10 49 9 50 9 50 8 51 7 51 3 51 3 51 2 51 1 51 -3 -3 -3Z" fill="#14946c"/><path d="M103 90 95 90 95 90 94 90 91 93 91 94 90 95 90 96 90 96 90 103 103 103ZM-3 83 -3 103 43 103 43 99 42 98 42 96 41 96 41 94 39 92 39 90 36 88 35 88 34 86 33 86 32 85 31 85 31 85 28 85 28 84 25 84 25 83 21 83 21 82 5 82 5 83ZM64 -3 64 1 64 2 64 5 65 5 65 6 70 11 72 11 73 13 75 13 75 14 77 14 78 15 81 15 81 15 91 15 91 15 94 15 95 14 97 14 97 13 103 12 103 -3ZM-3 21 1 21 2 21 5 21 6 22 23 22 23 21 27 21 28 21 30 21 30 20 31 20 32 19 34 19 34 18 36 18 37 16 38 16 44 10 44 9 45 9 45 8 46 7 46 3 46 3 46 2 46 -3 -3 -3Z" fill="#08e814"/><path d="M-3 90 -3 103 24 103 24 96 23 96 23 95 21 92 19 92 19 91 18 91 17 90 15 90 15 90 11 90 10 89 6 89 5 90 2 90 1 90ZM75 -3 75 3 79 6 80 6 80 7 83 7 84 8 88 8 89 7 91 7 91 6 94 5 96 4 96 3 97 2 97 -3ZM-3 -3 -3 10 1 11 2 11 3 12 4 12 4 13 7 13 8 14 16 14 17 13 21 12 22 11 23 11 26 8 26 7 27 6 27 1 26 -3Z" fill="#98ec14"/></g></svg><text x="168.68" y="255.9" class="lb">15<tspan font-size="4.8" dx="0.3" dy="-2.2">°</tspan></text><svg x="194.24" y="209.8" width="39.4" height="38.6" viewBox="0 0 100 100" preserveAspectRatio="none"><g opacity="0.999"><rect x="-5" y="-5" width="110" height="110" fill="#0810f2"/><path d="M103 79 96 77 96 74 93 73 92 68 90 67 90 65 88 64 87 64 85 61 84 61 83 60 81 60 81 59 79 59 78 59 69 59 69 59 64 60 63 62 62 62 61 64 59 64 59 64 59 66 56 68 56 67 54 67 53 69 52 69 51 69 51 68 49 68 49 67 47 67 46 66 43 66 42 65 29 65 29 66 25 66 25 67 22 67 21 68 17 69 16 69 15 69 15 70 13 70 13 71 10 72 9 74 8 74 6 75 5 75 -3 80 -3 103 103 103ZM48 -3 48 3 49 3 49 6 49 7 49 8 51 9 51 10 57 16 58 16 59 18 61 18 61 19 62 19 63 20 64 20 64 21 67 21 67 21 69 21 69 22 72 22 72 23 76 23 76 24 93 24 94 23 97 23 98 22 103 22 103 -3ZM-3 -3 -3 30 1 30 2 31 4 31 4 31 6 31 7 32 17 32 18 31 21 31 21 31 22 31 23 30 26 29 27 27 28 27 33 22 33 21 35 20 35 18 36 18 36 17 36 16 36 14 37 14 37 11 38 10 38 -3Z" fill="#14946c"/><path d="M90 98 90 99 90 103 103 103 103 92 95 92 94 93 93 93 91 95 91 96 90 96 90 97ZM91 72 90 72 90 69 88 68 88 67 86 64 85 64 83 63 82 63 82 62 79 62 79 61 69 61 68 62 66 62 66 63 64 63 63 64 62 64 59 67 59 68 59 69 58 72 56 74 54 74 52 72 51 72 50 70 49 70 48 69 47 69 46 69 44 69 43 68 38 68 38 67 32 67 31 68 26 68 26 69 23 69 22 69 18 70 17 71 16 71 15 72 13 73 11 74 10 74 9 76 8 76 3 80 3 82 2 83 2 84 1 85 1 86 -3 86 -3 94 1 95 2 97 3 98 4 98 5 103 40 103 40 99 42 99 43 98 44 98 45 97 48 96 50 93 51 93 55 90 56 87 58 85 59 86 60 86 62 88 63 88 64 89 65 89 65 90 67 90 67 91 70 91 70 92 77 92 78 91 80 91 80 90 82 90 83 89 84 89 89 84 89 83 90 82 90 81 91 81ZM53 -3 53 5 54 5 54 7 55 8 55 10 60 15 62 15 63 16 64 16 64 17 66 17 66 18 68 18 69 19 70 19 70 20 73 20 74 21 77 21 78 21 92 21 92 21 97 21 97 20 99 20 103 19 103 -3ZM-3 -3 -3 15 4 20 5 20 6 21 8 21 8 21 15 21 16 21 18 21 18 20 21 19 25 15 25 14 26 13 26 11 27 10 27 8 28 7 28 3 27 3 27 -3Z" fill="#08e814"/><path d="M41 79 38 76 37 76 36 75 33 75 33 74 28 74 27 75 24 75 24 76 22 76 21 77 18 78 13 83 13 88 14 89 14 90 15 90 17 92 19 92 19 92 28 92 28 92 33 91 33 90 35 90 36 88 37 88 40 86 40 85 41 84ZM66 72 66 74 65 74 65 77 66 78 67 81 68 82 69 82 69 82 71 82 71 83 77 83 77 82 80 82 82 80 82 79 82 78 82 74 82 73 82 72 79 69 78 69 77 69 70 69 70 69 69 69ZM64 -3 64 4 64 4 65 7 69 10 70 10 71 12 73 12 74 13 75 13 75 14 78 14 79 15 92 15 92 14 95 14 95 13 97 13 98 12 99 12 103 11 103 -3Z" fill="#98ec14"/><path d="M74 1 74 2 75 3 75 5 77 6 78 6 79 7 80 7 80 8 83 8 84 9 87 9 88 8 91 8 91 7 94 6 95 5 95 4 96 4 96 3 97 2 97 1 96 -3 75 -3Z" fill="#ffdc00"/></g></svg><text x="214.94" y="255.9" class="lb">20<tspan font-size="4.8" dx="0.3" dy="-2.2">°</tspan></text><svg x="240.5" y="209.8" width="39.4" height="38.6" viewBox="0 0 100 100" preserveAspectRatio="none"><g opacity="0.999"><rect x="-5" y="-5" width="110" height="110" fill="#0810f2"/><path d="M103 53 99 52 99 51 98 50 97 50 96 49 95 49 94 48 93 48 92 47 90 47 90 46 86 46 86 45 77 45 77 46 72 46 72 47 69 47 68 48 66 48 66 49 59 49 59 49 57 49 56 50 54 50 54 51 53 51 51 53 47 53 46 54 42 54 41 54 38 54 37 55 33 55 33 56 30 56 30 57 28 57 27 58 25 58 25 59 20 59 20 60 18 60 18 61 16 61 15 62 14 62 14 63 13 63 12 64 11 64 10 64 8 65 6 67 5 67 4 69 3 69 -3 71 -3 96 2 97 3 97 3 98 5 98 6 99 7 99 8 103 68 103 69 99 72 99 72 98 74 98 74 97 77 97 77 97 82 96 82 95 83 95 84 94 85 94 85 93 87 93 87 92 88 92 89 92 90 92 90 91 93 90 95 88 96 88 98 86 99 86 103 85ZM41 -3 41 2 42 3 42 6 43 7 44 10 45 11 45 12 50 17 51 17 53 19 54 19 54 20 56 20 56 21 57 21 58 21 60 21 60 22 62 22 63 23 66 23 66 24 82 24 82 23 85 23 85 22 90 21 90 21 92 21 92 20 95 19 96 17 97 17 103 15 103 -3ZM-3 -3 -3 31 1 31 2 31 4 31 4 32 12 32 13 31 15 31 15 31 16 31 17 30 20 29 25 24 25 23 26 21 26 20 27 20 27 18 28 18 28 16 29 15 29 13 30 12 30 -3Z" fill="#14946c"/><path d="M99 59 98 59 98 57 97 56 97 54 94 52 93 52 92 51 91 51 91 50 90 50 89 49 86 49 86 49 74 49 73 49 69 49 69 50 67 50 67 51 64 51 64 52 62 52 62 53 59 54 57 55 54 56 53 58 52 58 51 59 49 59 48 60 46 60 46 61 42 61 41 62 37 62 36 63 33 63 32 64 28 64 28 64 26 64 26 65 23 65 22 66 20 66 20 67 18 67 18 68 16 68 15 69 14 69 14 69 13 69 12 70 9 71 8 73 7 73 5 74 4 74 2 77 2 78 -3 79 -3 87 3 90 5 90 6 92 8 92 8 92 10 92 11 93 13 93 13 94 17 94 18 95 28 95 28 96 32 96 33 95 44 95 44 94 51 94 51 93 59 93 59 92 65 92 65 92 68 92 69 91 72 91 72 90 74 90 74 89 76 89 76 88 78 88 79 87 80 87 81 86 84 85 85 83 87 83 90 80 91 80 92 78 92 77 96 74 96 73 97 72 97 71 97 71 97 69 98 69 98 66 99 66ZM45 -3 45 4 46 4 46 6 47 7 48 10 54 15 55 15 56 17 57 17 58 18 59 18 59 19 62 19 62 20 64 20 64 21 69 21 69 21 78 21 79 21 83 21 84 20 86 20 86 19 88 19 89 18 92 17 93 15 94 15 103 10 103 -3ZM-3 -3 -3 19 1 19 3 21 4 21 4 21 12 21 13 21 15 20 18 17 18 16 19 15 19 14 20 14 20 13 21 12 21 9 21 9 21 3 21 3 21 -3Z" fill="#08e814"/><path d="M92 62 91 62 91 59 87 56 86 56 86 55 85 55 84 54 81 54 81 54 74 54 74 54 70 54 70 55 65 56 65 57 64 57 63 58 60 59 59 60 56 61 55 63 54 63 52 64 51 64 49 67 48 67 47 68 46 68 46 69 44 69 44 69 42 69 41 70 31 70 31 71 27 71 26 72 24 72 24 73 19 74 19 74 18 74 16 76 15 76 13 79 12 82 13 82 13 83 13 84 15 84 15 85 16 85 17 86 19 86 19 87 36 87 36 86 40 86 40 85 46 85 46 86 51 86 51 87 59 87 59 87 60 87 67 87 68 86 71 86 71 85 73 85 74 84 75 84 75 83 77 83 77 82 80 82 81 80 82 80 87 75 87 74 89 72 89 71 90 71 90 69 91 69 91 67 92 67ZM59 -3 59 2 60 3 61 5 64 8 65 8 65 9 67 9 67 10 69 10 69 10 78 10 79 10 81 10 81 9 84 8 87 5 87 4 87 4 87 3 88 2 88 -3Z" fill="#98ec14"/><path d="M83 62 82 61 81 61 81 60 79 60 79 59 70 59 70 60 68 60 67 61 66 61 66 62 63 63 62 64 60 64 59 66 59 67 56 69 56 71 55 71 55 77 58 79 59 79 59 80 62 80 62 81 68 81 69 80 71 80 71 79 73 79 74 78 77 77 78 76 79 76 82 73 82 72 83 71 83 69 84 69 84 64 83 63Z" fill="#ffdc00"/><path d="M77 66 76 65 74 65 74 64 71 64 71 65 69 65 68 66 65 67 64 69 64 70 63 70 63 73 64 75 71 75 71 74 74 73 77 71Z" fill="#ff8c00"/></g></svg><text x="261.2" y="255.9" class="lb">25<tspan font-size="4.8" dx="0.3" dy="-2.2">°</tspan></text><svg x="286.76" y="209.8" width="39.4" height="38.6" viewBox="0 0 100 100" preserveAspectRatio="none"><g opacity="0.999"><rect x="-5" y="-5" width="110" height="110" fill="#0810f2"/><path d="M103 27 98 27 97 26 85 26 85 27 81 27 81 28 79 28 78 28 76 28 76 29 71 30 71 31 69 31 69 32 68 32 67 33 66 33 66 33 63 34 62 36 59 37 57 38 56 38 54 41 53 41 50 44 49 44 40 53 40 54 39 54 35 54 35 54 33 54 33 56 32 55 18 55 18 56 13 56 13 57 10 57 10 58 8 58 7 59 6 59 5 59 3 59 2 61 1 61 -3 62 -3 92 1 92 2 93 3 93 3 94 5 94 5 95 6 95 7 96 9 96 9 97 12 97 13 97 16 97 17 98 26 98 27 103 62 103 63 99 67 98 68 97 69 97 69 97 71 97 71 96 72 96 73 95 74 95 74 94 76 94 76 93 79 92 80 91 82 91 83 89 84 89 86 87 87 87 90 83 92 83 99 76 99 74 103 74ZM79 23 79 23 80 23 80 23ZM81 22 81 22 84 22 84 22ZM34 -3 34 5 35 5 36 8 38 9 38 10 41 14 42 14 44 15 45 15 45 16 46 16 47 17 48 17 49 18 50 18 50 19 52 19 53 20 55 20 55 21 58 21 59 21 65 21 65 22 73 22 74 21 79 21 79 21 82 21 83 20 86 20 86 19 87 19 88 18 90 18 90 17 92 17 93 15 94 15 95 14 97 14 103 10 103 -3ZM25 -3 -3 -3 -3 28 1 29 10 29 10 28 12 28 13 26 15 26 20 21 20 20 21 19 21 18 22 17 22 15 23 15 23 13 24 12 24 9 25 9Z" fill="#14946c"/><path d="M103 33 99 33 97 33 97 32 93 32 92 31 85 31 85 32 80 32 80 33 78 33 77 33 74 33 74 34 73 34 72 35 70 35 70 36 69 36 68 37 67 37 67 38 64 38 62 40 61 40 60 42 59 42 57 44 56 44 54 46 53 46 41 59 31 59 31 58 19 58 19 59 14 59 14 59 11 59 10 60 9 60 9 61 7 61 6 62 3 63 2 64 1 64 -3 65 -3 88 2 90 3 90 3 91 5 91 5 92 6 92 7 92 8 92 8 93 13 94 13 95 17 95 18 96 39 96 39 97 42 97 43 97 46 97 47 98 55 98 55 97 59 97 59 97 62 97 63 96 65 96 65 95 67 95 68 94 69 94 69 93 72 93 72 92 73 92 74 91 76 91 76 90 79 89 80 87 82 87 84 85 85 85 88 82 89 82 96 75 96 74 99 71 99 69 103 69ZM38 -3 38 4 39 4 39 6 41 8 41 9 45 13 46 13 48 15 49 15 49 15 51 15 51 16 53 16 54 17 56 17 56 18 58 18 59 19 64 19 64 20 74 20 74 19 79 19 79 18 82 18 83 17 85 17 85 16 87 16 87 15 88 15 89 15 92 14 97 8 97 7 98 6 98 5 99 5 99 3 103 2 103 -3ZM-3 -3 -3 17 1 18 2 18 3 19 7 19 8 18 10 18 11 16 12 16 13 15 13 14 15 13 15 12 15 11 15 9 16 9 16 5 17 5 17 2 16 1 16 -3Z" fill="#08e814"/><path d="M103 42 97 38 95 38 95 38 93 38 92 37 79 37 79 38 76 38 76 38 74 38 73 39 72 39 72 40 69 40 69 41 66 42 65 44 62 44 61 46 59 46 58 48 57 48 51 54 50 54 50 55 45 59 45 61 42 64 41 64 40 65 38 65 38 66 33 66 33 65 30 65 30 64 18 64 17 65 14 65 14 66 13 66 12 67 9 68 8 69 7 69 6 70 6 72 4 73 4 75 3 75 3 79 4 79 5 82 8 85 9 85 10 87 11 87 12 87 16 88 17 89 31 89 32 88 34 88 34 89 37 89 38 90 39 90 39 91 41 91 41 92 42 92 43 92 45 92 45 93 48 93 49 94 59 94 59 93 62 93 63 92 66 92 66 92 67 92 68 91 70 91 70 90 72 90 72 89 75 88 76 87 79 86 81 83 82 83 85 81 86 81 92 74 92 73 96 70 96 69 97 67 97 66 98 66 98 64 99 64 99 63 103 62ZM49 5 50 5 50 6 54 10 55 10 55 10 56 10 57 11 58 11 59 12 61 12 61 13 65 13 65 14 73 14 74 13 77 13 78 12 80 12 80 11 82 11 82 10 85 10 88 6 88 5 89 5 89 3 90 2 90 -3 49 -3Z" fill="#98ec14"/><path d="M13 76 13 79 16 82 17 82 18 82 20 82 20 83 26 83 26 82 29 82 29 82 31 82 32 80 32 79 33 78 33 75 32 75 32 74 31 73 30 73 30 72 28 72 28 71 24 71 24 70 22 70 21 71 18 71 18 72 16 72 13 74 13 76ZM96 47 93 44 92 44 92 44 90 44 90 43 88 43 87 42 80 42 80 43 76 43 76 44 71 44 71 45 69 45 69 46 68 46 67 47 64 48 63 49 62 49 61 51 59 51 56 55 54 55 53 57 53 58 49 62 49 63 47 64 47 66 46 66 46 67 45 68 45 69 44 69 44 71 44 71 44 72 43 73 43 74 42 74 42 82 43 82 43 83 44 85 44 86 47 88 48 88 49 89 51 89 51 90 62 90 63 89 65 89 65 88 70 87 70 87 73 86 74 84 77 83 79 82 80 82 83 78 84 78 88 74 88 73 92 70 92 69 93 67 93 66 94 66 94 64 95 64 95 63 96 62 96 60 97 60 97 57 97 56 97 51 97 51 97 49 96 48ZM59 -3 59 3 60 3 60 5 61 5 62 5 64 7 67 7 67 8 72 8 73 7 75 7 75 6 78 5 79 5 79 3 80 3 80 1 79 -3Z" fill="#ffdc00"/><path d="M90 51 88 49 87 49 87 49 85 49 84 48 77 48 77 49 74 49 73 49 72 49 72 50 69 50 69 51 66 52 65 54 64 54 62 55 61 55 54 63 54 64 52 65 52 67 50 68 50 70 49 70 49 72 49 72 49 81 50 82 50 83 51 84 52 84 53 85 54 85 54 86 64 86 64 85 69 84 69 83 71 83 71 82 72 82 73 82 76 81 78 78 79 78 87 71 87 69 88 68 88 67 89 67 89 65 90 65 90 64 91 63 91 61 92 61 92 54 91 54Z" fill="#ff8c00"/><path d="M85 57 83 55 82 55 82 54 79 54 78 54 77 54 77 54 73 54 72 55 70 55 70 56 67 57 66 59 64 59 57 66 57 67 56 68 56 69 55 69 55 72 54 72 54 77 55 78 55 79 57 81 59 81 59 82 65 82 65 81 68 81 69 80 70 80 70 79 73 78 74 77 76 77 82 70 82 69 84 67 84 65 85 65 85 63 86 62 86 59 85 59Z" fill="#ff4600"/><path d="M78 62 77 61 71 61 71 62 68 63 67 64 65 64 64 66 64 67 62 69 62 70 61 70 61 75 62 76 63 76 64 77 67 77 68 76 70 76 70 75 72 75 73 73 74 73 77 71 77 69 78 68 78 66 79 66 79 64 78 63Z" fill="#ee0000"/></g></svg><text x="307.46" y="255.9" class="lb">30<tspan font-size="4.8" dx="0.3" dy="-2.2">°</tspan></text><svg x="333.02" y="209.8" width="39.4" height="38.6" viewBox="0 0 100 100" preserveAspectRatio="none"><g opacity="0.999"><rect x="-5" y="-5" width="110" height="110" fill="#0810f2"/><path d="M78 23 80 22 80 23 79 23ZM82 22 84 21 85 22 82 23ZM23 -3 23 3 23 3 23 5 24 6 24 7 27 9 27 10 28 12 30 12 32 15 33 15 33 15 35 15 35 16 36 16 37 17 38 17 38 18 41 18 41 19 43 19 44 20 46 20 46 21 50 21 50 21 57 21 58 22 67 22 67 21 69 21 69 22 69 23 68 23 67 23 66 23 66 24 74 24 74 23 77 23 78 24 75 24 75 25 73 25 72 26 71 26 71 27 69 27 69 28 68 28 67 28 66 28 66 29 64 29 64 30 61 31 60 33 59 33 57 34 56 34 54 37 53 37 50 40 49 40 39 49 39 51 37 53 32 53 31 54 16 54 15 55 12 55 11 56 8 56 8 57 7 57 6 58 4 58 4 59 3 59 1 60 -3 60 -3 92 1 92 2 92 3 92 3 93 5 93 5 94 6 94 7 95 11 96 12 97 15 97 16 97 23 97 23 99 25 99 25 103 62 103 62 99 64 99 64 98 66 98 66 97 68 97 69 97 70 97 70 96 73 95 74 93 77 92 79 91 80 91 81 89 82 89 85 87 86 87 90 82 91 82 97 76 97 74 103 72 103 23 99 23 98 22 85 22 85 21 85 21 87 21 88 20 89 20 90 19 91 19 91 18 92 18 93 17 93 16 90 16 90 15 92 15 92 14 93 14 99 8 99 7 103 6 103 -3ZM21 -3 -3 -3 -3 27 5 27 5 26 7 26 8 26 10 25 15 21 15 19 16 18 16 17 17 16 18 12 19 11 19 8 20 7 20 8 21 8Z" fill="#14946c"/><path d="M103 29 99 29 98 28 96 28 96 28 92 28 92 27 86 27 86 28 81 28 81 28 78 28 77 29 73 30 72 31 71 31 71 32 69 32 68 33 65 33 64 35 61 36 60 38 59 38 57 39 56 39 54 42 53 42 42 53 42 54 39 57 38 57 37 58 30 58 30 57 16 57 15 58 12 58 11 59 9 59 9 59 8 59 7 60 5 60 4 62 3 62 1 64 -3 64 -3 87 2 89 3 89 4 91 5 91 6 92 8 92 8 92 10 92 10 93 13 93 13 94 18 94 18 95 36 95 36 96 38 96 38 97 41 97 41 97 44 97 44 98 53 98 54 97 58 97 59 97 61 97 61 96 66 95 66 94 67 94 68 93 69 93 69 92 71 92 71 92 72 92 73 91 76 90 77 88 78 88 79 87 81 87 83 84 84 84 97 72 97 70 99 68 99 67 103 67ZM28 -3 28 5 28 5 28 6 30 8 30 9 33 11 34 11 35 13 36 13 38 15 39 15 39 15 41 15 42 16 44 16 44 17 46 17 47 18 50 18 50 19 56 19 56 20 67 20 68 19 73 19 74 18 77 18 77 17 79 17 79 16 84 15 85 15 86 15 87 13 88 13 90 11 91 11 93 9 93 8 95 6 95 5 96 5 96 -3ZM12 -3 -3 -3 -3 17 5 17 6 16 7 16 10 14 10 13 10 12 10 11 11 10 11 9 12 9Z" fill="#08e814"/><path d="M103 38 97 35 95 35 95 34 94 34 93 33 90 33 90 33 81 33 81 33 78 33 77 34 74 34 74 35 72 35 72 36 70 36 70 37 69 37 68 38 67 38 67 38 64 39 62 41 59 42 57 44 56 44 51 50 49 50 49 51 44 56 44 57 38 64 33 64 32 63 30 63 30 62 26 62 26 61 18 61 18 62 14 62 14 63 12 63 11 64 10 64 10 64 7 65 2 70 2 72 1 72 1 79 2 79 2 81 3 82 3 83 4 84 5 84 7 86 8 86 9 87 11 87 12 88 14 88 14 89 18 89 18 90 26 90 27 89 36 89 37 90 38 90 38 91 40 91 40 92 41 92 42 92 44 92 44 93 46 93 47 94 56 94 56 93 60 93 60 92 62 92 63 92 67 91 68 90 69 90 69 89 72 88 74 87 77 86 78 84 79 84 82 81 83 81 92 72 92 70 95 68 95 67 97 66 97 64 97 64 97 63 98 62 98 61 99 61 99 59 103 59ZM38 -3 38 4 39 4 39 5 44 10 45 10 45 10 46 10 47 11 49 11 49 12 51 12 52 13 56 13 56 14 66 14 66 13 71 13 71 12 76 11 76 10 77 10 79 9 80 9 82 6 82 5 83 5 83 3 84 3 84 -3Z" fill="#98ec14"/><path d="M96 45 95 45 95 44 92 40 90 40 90 39 88 39 87 38 79 38 78 39 75 39 75 40 70 41 70 42 69 42 68 43 67 43 67 44 64 44 62 46 61 46 60 48 59 48 54 53 53 53 53 54 48 59 48 60 46 61 46 62 44 64 44 65 44 65 44 67 43 67 42 70 39 72 39 74 37 74 32 69 31 69 31 68 29 68 29 67 27 67 26 66 17 66 16 67 14 67 14 68 11 69 8 71 8 72 8 73 8 78 8 79 8 80 10 82 11 82 12 82 13 82 13 83 15 83 15 84 18 84 18 85 25 85 25 84 28 84 28 83 31 82 33 81 34 81 35 79 36 79 37 78 40 81 40 82 43 85 43 86 44 87 45 87 46 88 47 88 48 89 51 89 51 90 57 90 58 89 62 89 62 88 67 87 67 87 68 87 69 86 70 86 70 85 73 84 74 82 76 82 77 81 78 81 82 77 83 77 86 74 86 73 90 69 90 68 92 67 92 65 92 65 92 64 93 63 93 62 94 62 94 60 95 60 95 59 96 58 96 55 97 55 97 48 96 47ZM49 -3 49 4 51 5 52 5 53 6 54 6 54 7 56 7 57 8 64 8 64 7 69 6 72 4 72 -3Z" fill="#ffdc00"/><path d="M13 74 14 77 15 78 16 78 17 79 18 79 18 80 23 80 23 79 26 78 27 77 27 76 28 76 27 73 26 72 25 72 25 71 23 71 23 70 19 70 19 71 17 71 16 72 15 72 14 73 14 74ZM90 49 87 46 85 46 85 45 83 45 82 44 77 44 77 45 74 45 73 46 71 46 71 47 69 47 69 48 67 48 66 49 63 50 61 53 59 53 52 60 52 62 50 63 50 64 49 64 49 66 49 66 49 67 48 68 48 69 47 69 47 72 46 73 46 78 47 79 48 82 50 84 52 84 53 85 62 85 63 84 67 83 68 82 69 82 69 82 72 81 74 79 75 79 78 76 79 76 83 72 83 70 86 68 86 67 87 66 87 64 88 64 88 63 89 62 89 61 90 61 90 58 91 57 91 52 90 51Z" fill="#ff8c00"/><path d="M83 54 82 52 79 52 79 51 74 51 73 52 70 52 70 53 69 53 68 54 65 54 64 56 63 56 56 63 56 64 54 65 54 67 54 67 54 68 53 69 53 72 52 72 52 74 53 74 53 77 54 77 54 78 54 79 56 79 56 80 58 80 59 81 61 81 61 80 65 80 65 79 67 79 68 78 71 77 72 76 73 76 75 73 77 73 78 72 78 70 82 67 82 66 82 66 82 64 83 64 83 62 84 62 84 55 83 55Z" fill="#ff4600"/><path d="M76 59 69 59 69 59 66 60 60 66 60 67 59 68 59 73 61 75 67 75 67 74 70 73 71 72 72 72 74 70 74 69 76 67 76 66 77 66 77 64 77 64 77 61 77 61 77 59Z" fill="#ee0000"/></g></svg><text x="353.72" y="255.9" class="lb">35<tspan font-size="4.8" dx="0.3" dy="-2.2">°</tspan></text><svg x="379.28" y="209.8" width="39.4" height="38.6" viewBox="0 0 100 100" preserveAspectRatio="none"><g opacity="0.999"><rect x="-5" y="-5" width="110" height="110" fill="#0810f2"/><path d="M22 -3 22 5 23 5 23 7 24 8 24 10 28 13 29 13 30 15 31 15 33 16 34 16 34 17 36 17 37 18 39 18 39 19 41 19 42 20 45 20 45 21 49 21 49 21 63 21 64 22 62 23 62 24 68 24 69 25 67 25 67 26 65 26 64 28 63 28 62 29 60 29 58 32 57 32 54 35 53 35 45 43 45 44 41 48 41 49 40 50 38 50 38 49 35 49 33 52 32 51 30 51 30 50 26 50 26 49 7 49 6 50 3 50 3 51 -3 51 -3 94 1 95 4 95 4 96 8 96 8 97 24 97 25 96 26 98 32 98 33 97 34 97 36 103 62 103 63 99 64 99 64 98 67 98 67 97 68 97 69 97 72 96 73 94 76 93 77 92 78 92 80 89 82 89 84 87 85 87 97 75 97 74 99 72 99 70 103 70 103 -3ZM9 -3 -3 -3 -3 21 1 21 4 21 4 21 5 21 9 17 9 16 10 15 10 13 10 13 10 3 10 3 10 1Z" fill="#14946c"/><path d="M-3 1 -3 15 5 15 5 15 5 13 6 13 6 12 7 11 7 5 6 5 6 3 5 3 5 2 5 1ZM27 -3 26 1 26 4 27 4 27 6 28 7 28 8 33 13 34 13 34 14 36 14 36 15 37 15 38 15 39 15 39 16 44 17 44 18 48 18 49 19 54 19 54 20 65 20 65 19 72 19 72 18 75 18 75 17 77 17 78 16 80 16 80 15 82 15 83 15 85 15 85 14 88 14 89 17 88 18 88 19 86 20 86 21 85 22 83 23 82 23 82 24 80 24 80 25 78 25 77 26 76 26 76 27 74 27 73 28 72 28 72 28 70 28 70 29 67 30 66 32 64 32 63 33 62 33 61 35 59 35 56 39 54 39 49 45 49 46 44 50 44 51 40 56 34 56 34 55 33 55 32 54 30 54 30 54 27 54 26 53 22 53 21 52 9 52 9 53 5 53 5 54 2 54 1 54 -3 54 -3 92 2 92 3 92 5 92 6 93 11 93 12 94 20 94 20 93 26 93 26 92 30 92 30 92 33 92 33 92 36 92 36 93 37 93 38 95 40 95 40 96 41 96 42 97 43 97 44 97 47 97 48 98 54 98 54 97 58 97 59 97 62 97 62 96 64 96 64 95 66 95 66 94 67 94 68 93 69 93 69 92 71 92 71 92 74 91 75 89 77 89 78 87 79 87 82 84 83 84 93 74 93 73 97 70 97 69 98 67 98 66 103 65 103 15 99 15 99 13 95 10 95 3 94 3 94 1 93 -3Z" fill="#08e814"/><path d="M103 33 98 32 98 31 95 28 94 28 93 28 88 28 87 29 83 29 82 30 79 30 78 31 76 31 76 32 74 32 74 33 72 33 72 33 69 34 67 36 64 37 62 39 61 39 58 43 57 43 51 49 51 50 48 53 48 54 45 56 44 59 41 62 41 63 39 64 39 64 38 64 37 65 36 64 35 64 35 64 33 64 31 61 30 61 30 60 28 60 28 59 26 59 26 59 23 59 23 58 18 58 17 57 12 57 11 58 7 58 6 59 3 59 3 59 1 59 -3 60 -3 86 1 86 2 87 4 87 4 87 7 87 8 88 21 88 22 87 25 87 25 87 27 87 28 86 29 86 29 85 31 85 31 84 36 84 44 92 45 92 45 92 46 92 47 93 51 93 51 94 56 94 56 93 60 93 60 92 63 92 64 92 65 92 65 91 67 91 68 90 69 90 69 89 72 88 74 87 75 87 76 85 77 85 79 82 81 82 91 72 91 71 93 69 93 68 95 67 95 65 97 64 97 63 97 62 97 61 98 61 98 59 99 59 99 57 103 56ZM37 1 37 5 38 5 38 6 41 10 42 10 43 10 44 10 44 11 46 11 46 12 48 12 49 13 52 13 53 14 66 14 66 13 70 13 70 12 72 12 73 11 74 11 74 10 77 10 81 6 81 4 82 4 82 1 81 -3 38 -3Z" fill="#98ec14"/><path d="M-3 67 -3 79 1 80 2 80 3 82 5 82 6 82 9 82 9 83 18 83 18 82 21 82 22 82 25 81 29 77 29 75 30 75 30 71 29 71 28 68 26 66 25 66 25 65 23 65 23 64 22 64 21 64 19 64 19 63 8 63 7 64 5 64 5 64 2 65ZM92 38 91 38 91 37 90 37 89 36 85 36 84 35 83 36 78 36 77 37 73 38 72 38 71 38 71 39 68 40 67 42 65 42 64 44 63 44 59 48 58 48 55 50 55 51 51 55 51 56 49 58 49 59 48 60 48 62 47 62 47 63 46 64 46 65 45 65 44 70 44 70 44 74 43 74 43 78 44 79 44 82 44 82 44 84 48 87 49 87 49 88 51 88 51 89 62 89 62 88 67 87 67 87 68 87 69 86 70 86 70 85 73 84 74 82 76 82 78 80 79 80 87 72 87 70 90 68 91 65 92 64 92 63 93 62 93 61 94 61 94 59 95 59 95 57 96 56 96 54 97 53 97 44 96 44 96 42 95 41 95 40ZM48 1 48 5 49 6 51 6 51 7 52 7 53 8 56 8 57 9 61 9 61 8 65 8 65 7 67 7 68 5 69 5 69 4 70 4 70 3 69 2 69 1 68 -3 49 -3Z" fill="#ffdc00"/><path d="M4 72 4 74 5 74 5 76 6 77 7 77 8 77 10 77 10 78 14 78 14 77 17 77 21 74 21 72 20 72 20 70 19 69 18 69 17 69 16 69 15 68 9 68 9 69 6 69 5 70 5 72ZM87 44 86 44 86 43 84 43 83 42 79 42 78 43 75 43 75 44 73 44 72 44 71 44 71 45 68 46 67 48 65 48 64 49 63 49 56 56 56 57 54 59 54 61 53 61 53 62 52 63 52 64 51 64 51 66 50 66 50 67 49 68 49 71 49 71 49 77 49 78 49 80 50 80 50 82 51 82 52 82 54 84 56 84 56 85 62 85 62 84 65 84 65 83 67 83 68 82 69 82 69 82 72 81 74 79 75 79 79 75 80 75 82 73 82 72 85 69 85 68 87 67 87 65 88 64 88 63 89 62 89 60 90 60 90 58 91 57 91 54 92 53 92 51 91 51 91 48 90 47 90 46Z" fill="#ff8c00"/><path d="M83 50 82 50 82 49 74 49 73 50 71 50 71 51 69 51 68 53 67 53 66 54 64 54 60 59 60 60 58 62 58 63 57 64 57 65 56 65 56 67 55 67 55 70 54 70 54 75 55 75 55 77 58 79 59 79 59 80 64 80 64 79 67 79 68 78 69 78 69 77 72 77 74 74 76 74 79 71 79 69 82 67 82 66 83 65 83 64 84 63 84 61 85 61 85 53 84 52 84 51Z" fill="#ff4600"/><path d="M77 57 72 57 72 58 69 58 68 59 67 59 64 62 64 63 63 64 63 66 62 66 62 67 61 68 61 72 62 72 62 73 63 74 68 74 69 73 72 72 77 67 77 66 77 66 77 64 78 64 78 59Z" fill="#ee0000"/></g></svg><text x="399.98" y="255.9" class="lb">40<tspan font-size="4.8" dx="0.3" dy="-2.2">°</tspan></text><svg x="425.54" y="209.8" width="39.4" height="38.6" viewBox="0 0 100 100" preserveAspectRatio="none"><g opacity="0.999"><rect x="-5" y="-5" width="110" height="110" fill="#0810f2"/><path d="M-3 -3 -3 21 1 21 2 21 5 21 5 21 7 21 8 20 9 20 12 16 12 15 14 15 15 12 16 12 18 14 19 14 19 15 21 15 21 15 22 15 23 16 24 16 24 17 26 17 27 18 30 18 30 19 32 19 33 20 36 20 37 21 42 21 43 21 60 21 60 22 59 23 59 24 64 24 64 24 62 27 61 27 49 38 49 40 46 43 46 44 44 46 44 47 42 49 42 50 41 50 41 51 39 53 39 54 38 54 38 56 37 56 36 55 33 55 32 57 31 56 30 56 30 55 28 55 28 54 27 54 26 54 24 54 24 53 21 53 21 52 15 52 15 51 5 51 5 52 -3 52 -3 93 1 94 8 94 8 95 12 95 13 94 19 94 19 93 23 93 23 92 26 92 26 94 30 94 30 93 32 93 33 95 33 95 33 97 37 103 66 103 66 99 67 99 68 98 69 98 69 97 72 97 74 95 75 95 76 93 77 93 79 91 81 91 85 86 87 86 92 81 92 79 96 76 96 74 99 72 99 70 103 70 103 -3Z" fill="#14946c"/><path d="M1 1 -3 2 -3 15 1 15 5 15 6 15 7 15 8 14 8 13 9 12 9 11 10 10 10 5 9 5 9 3 6 1ZM15 -3 14 1 14 5 15 5 15 6 17 8 17 9 18 10 20 10 21 12 22 12 23 13 24 13 24 14 26 14 26 15 27 15 28 15 30 15 30 16 32 16 33 17 36 17 37 18 41 18 41 19 48 19 49 20 61 20 61 19 69 19 69 18 73 18 74 17 77 17 78 16 80 16 80 15 82 15 83 15 86 15 86 14 88 15 88 16 87 18 85 18 83 20 82 20 82 21 79 21 79 22 78 22 77 23 76 23 76 23 74 23 74 24 71 25 70 27 69 27 67 29 65 29 62 33 61 33 53 41 53 42 49 45 49 46 48 48 48 49 46 50 46 51 44 53 44 56 42 57 42 58 41 59 40 62 38 64 35 64 33 61 32 61 30 59 28 59 28 58 27 58 26 57 24 57 24 56 23 56 22 55 19 55 19 54 13 54 13 54 7 54 6 54 1 54 -3 55 -3 91 1 91 2 92 18 92 18 91 21 91 22 90 24 90 24 89 26 89 26 88 27 88 28 87 29 87 29 87 31 87 32 86 35 86 36 87 36 88 37 89 37 90 38 90 38 93 42 97 43 97 44 97 45 97 45 98 47 98 48 99 57 99 58 98 61 98 61 97 63 97 64 97 65 97 65 96 67 96 67 95 68 95 69 94 70 94 70 93 73 92 74 91 76 91 77 89 78 89 82 85 83 85 91 77 91 76 94 73 94 72 97 70 97 69 98 67 98 66 103 65 103 5 99 5 98 2 97 -3Z" fill="#08e814"/><path d="M-3 60 -3 86 1 86 2 87 6 87 7 87 12 87 13 87 16 87 17 86 20 86 20 85 21 85 22 84 25 83 29 79 29 78 30 77 30 76 31 76 31 70 30 70 30 68 25 63 23 63 22 61 20 61 20 60 18 60 17 59 14 59 14 59 5 59 5 59 1 59ZM98 23 95 23 95 24 90 24 89 25 85 25 85 26 82 26 82 27 79 27 79 28 77 28 77 28 74 29 72 31 71 31 70 33 69 33 67 34 66 34 62 38 61 38 58 42 58 43 53 48 53 49 51 50 51 51 49 53 49 54 48 55 48 56 47 57 47 58 46 59 46 60 45 60 45 62 44 62 44 63 44 64 44 66 43 66 43 68 42 69 42 72 41 72 41 77 40 77 40 81 41 81 41 85 42 85 42 87 43 88 43 89 46 92 47 92 48 93 49 93 49 94 52 94 53 95 57 95 58 94 62 94 62 93 67 92 67 92 68 92 69 91 72 90 73 88 74 88 75 87 77 87 79 84 80 84 90 74 90 73 92 71 92 69 94 68 94 67 96 66 97 63 98 62 98 60 99 60 99 59 103 58 103 26 99 26 99 24ZM27 2 27 4 28 4 28 5 32 10 33 10 33 10 36 10 36 11 37 11 38 12 41 12 41 13 45 13 45 14 62 14 63 13 67 13 67 12 70 12 70 11 72 11 72 10 74 10 74 10 76 10 80 5 80 4 81 4 81 2 80 1 80 -3 28 -3 28 1Z" fill="#98ec14"/><path d="M-3 65 -3 81 1 81 2 82 5 82 5 82 12 82 13 82 15 82 16 81 19 80 22 77 23 72 22 72 22 69 19 66 18 66 17 65 16 65 15 64 13 64 13 64 4 64 4 64 1 64ZM94 33 93 33 92 33 90 33 90 32 83 32 82 33 79 33 79 33 78 33 77 34 75 34 75 35 74 35 72 37 71 37 70 38 69 38 67 41 65 41 58 49 58 50 55 52 55 53 54 54 54 56 52 57 52 58 51 59 51 60 50 60 50 62 49 62 49 63 49 64 49 65 48 65 48 67 47 68 47 71 46 71 46 82 47 82 47 83 48 84 48 85 49 85 49 87 49 87 51 87 52 89 54 89 54 90 62 90 62 89 65 89 65 88 67 88 68 87 71 87 72 85 75 84 77 82 78 82 87 72 87 71 90 69 90 68 92 67 92 64 94 62 94 61 95 61 95 59 96 59 96 57 97 56 97 54 97 54 97 52 98 51 98 39 97 39 97 36ZM39 4 42 6 43 6 44 7 46 7 46 8 50 8 50 9 56 9 56 8 60 8 60 7 62 7 63 6 64 6 66 5 66 3 67 3 66 2 66 1 65 -3 41 -3 40 1 40 2 39 3Z" fill="#ffdc00"/><path d="M1 71 1 74 2 74 2 76 3 76 3 77 5 77 5 77 11 77 12 77 13 77 15 75 15 71 13 69 12 69 11 69 4 69 4 69 3 69ZM90 40 89 40 88 39 85 39 85 38 83 38 82 39 79 39 78 40 76 40 76 41 73 42 72 44 70 44 68 46 67 46 60 53 60 54 58 56 57 59 55 60 55 62 54 62 54 63 54 64 54 66 53 66 53 68 52 69 52 73 51 74 51 75 52 75 52 79 53 79 53 81 54 81 54 82 54 83 56 83 56 84 57 84 58 85 65 85 65 84 67 84 68 83 69 83 69 82 71 82 71 82 74 81 76 78 77 78 84 72 84 70 87 68 87 67 88 66 88 64 89 64 89 63 90 62 90 61 91 61 91 59 92 59 92 57 92 56 92 54 93 53 93 46 92 46 92 44 92 43 92 42Z" fill="#ff8c00"/><path d="M86 48 85 48 84 47 82 47 82 46 80 46 80 47 76 47 76 48 73 49 72 50 70 50 63 58 63 59 61 60 61 62 60 62 60 63 59 64 59 65 59 65 59 67 58 68 58 76 59 76 59 77 60 79 62 79 63 80 66 80 66 79 69 79 69 78 72 77 74 76 75 76 82 68 82 67 84 66 84 64 85 64 85 63 86 62 86 61 87 61 87 59 87 58 87 50 86 49Z" fill="#ff4600"/><path d="M80 55 78 55 77 54 77 55 74 55 74 56 71 57 67 61 67 62 66 63 66 64 65 64 65 66 64 66 64 72 65 73 67 73 67 74 72 73 72 72 73 72 79 67 79 65 80 65 80 64 81 63 81 60 82 60 82 58 81 57 81 56Z" fill="#ee0000"/></g></svg><text x="446.24" y="255.9" class="lb">45<tspan font-size="4.8" dx="0.3" dy="-2.2">°</tspan></text><svg x="9.2" y="257" width="39.4" height="38.6" viewBox="0 0 100 100" preserveAspectRatio="none"><g opacity="0.999"><rect x="-5" y="-5" width="110" height="110" fill="#0810f2"/><path d="M2 -3 2 1 3 2 3 5 3 5 4 8 10 14 11 14 13 15 14 15 14 16 15 16 16 17 17 17 18 18 19 18 19 19 21 19 21 20 23 20 23 21 26 21 26 21 29 21 29 22 33 22 33 23 39 23 39 24 56 24 57 25 55 26 56 27 57 26 60 26 60 27 57 30 56 30 51 35 51 36 48 39 48 41 46 42 45 45 44 46 44 47 43 48 43 50 42 50 42 51 41 52 41 54 40 54 40 57 39 58 39 62 38 62 38 64 32 64 31 65 30 65 29 64 28 61 21 54 19 54 19 53 18 53 17 52 16 52 15 51 13 51 13 50 11 50 10 49 5 49 5 49 2 49 1 49 -3 49 -3 99 6 99 7 98 10 98 11 97 14 97 14 97 15 97 16 96 17 96 18 95 21 94 23 92 24 92 26 90 26 89 28 87 28 85 29 85 29 84 30 82 31 82 32 83 33 83 33 82 36 82 37 83 41 83 41 82 42 82 49 89 50 89 51 91 53 91 54 92 55 92 55 92 59 92 59 93 68 93 69 92 72 92 73 92 77 91 78 90 79 90 79 89 81 89 81 88 84 87 85 86 87 86 89 83 90 83 98 75 98 74 103 72 103 23 99 23 99 21 103 21 103 19 99 19 99 18 98 17 98 14 97 14 97 13 99 11 99 9 98 9 98 7 97 6 97 2 98 1 98 -3Z" fill="#14946c"/><path d="M-3 52 -3 96 8 96 8 95 11 95 12 94 14 94 14 93 17 92 18 91 20 91 25 86 25 85 26 84 26 83 26 82 26 81 27 81 27 79 28 79 28 76 29 76 29 72 28 72 28 69 27 68 27 67 26 67 26 64 24 62 24 61 20 57 18 57 17 55 16 55 15 54 14 54 14 54 12 54 11 53 8 53 7 52ZM8 -3 8 2 8 3 8 5 9 5 9 6 11 8 11 9 13 11 15 11 17 14 18 14 18 15 20 15 20 15 21 15 22 16 24 16 24 17 26 17 26 18 28 18 28 19 31 19 32 20 36 20 36 21 41 21 42 21 58 21 59 21 64 21 64 20 68 20 69 19 73 19 71 25 68 28 65 28 64 30 63 30 62 32 60 32 54 38 54 40 51 42 51 43 49 44 49 46 49 46 49 47 48 48 48 49 47 49 47 51 46 51 46 52 45 53 45 56 44 56 44 59 44 59 44 67 43 67 43 72 44 72 44 77 47 79 47 80 53 86 54 86 54 87 56 87 56 87 58 87 59 88 63 88 64 89 67 89 67 88 72 88 73 87 77 87 78 86 79 86 79 85 81 85 81 84 84 83 85 82 87 82 90 77 92 77 92 77 92 75 97 72 97 70 98 69 98 68 103 67 103 30 97 27 97 25 96 25 96 23 97 22 97 16 96 15 96 12 95 11 95 10 94 10 94 8 93 8 93 7 92 6 92 4 92 4 92 3 92 -3Z" fill="#08e814"/><path d="M-3 55 -3 92 8 92 8 92 11 92 12 91 13 91 13 90 16 89 22 83 22 82 23 82 23 79 24 79 24 76 25 76 25 72 24 72 24 69 23 68 23 66 21 65 21 64 16 59 15 59 15 58 13 58 13 57 12 57 11 56 8 56 8 55ZM87 15 84 15 79 19 79 21 79 21 79 22 78 23 77 26 74 28 73 28 71 31 69 31 69 32 66 33 65 34 64 34 56 42 56 43 54 45 54 46 53 47 53 48 52 49 52 50 51 50 51 51 50 52 50 54 49 54 49 56 49 57 49 62 48 62 48 67 49 67 49 71 49 71 49 73 50 74 51 77 56 82 57 82 58 82 59 82 59 83 62 83 62 84 72 84 73 83 77 82 78 82 79 82 79 81 81 81 81 80 84 79 86 77 87 77 93 71 93 69 95 68 95 67 97 66 97 64 97 64 97 63 98 62 98 61 99 61 99 59 103 59 103 38 99 37 99 36 92 30 92 28 91 27 91 26 90 26 90 18 89 18 89 17ZM22 -3 23 5 27 9 28 9 29 10 31 10 31 11 33 11 33 12 36 12 36 13 39 13 39 14 44 14 44 15 56 15 56 14 61 14 61 13 64 13 64 12 69 11 69 10 71 10 72 9 73 9 77 5 77 3 78 2 78 -3Z" fill="#98ec14"/><path d="M-3 59 -3 89 7 89 8 88 10 88 11 87 12 87 13 86 15 86 18 82 18 81 19 81 19 79 20 79 20 78 21 77 21 70 20 70 20 69 19 68 18 65 15 62 13 62 12 60 10 60 10 59 8 59 7 59ZM91 34 90 34 89 33 88 33 87 33 85 33 85 32 79 32 79 33 76 33 76 33 74 33 73 34 72 34 72 35 69 36 67 38 66 38 59 44 59 46 58 47 58 48 56 49 56 51 55 51 55 53 54 54 54 56 54 56 54 59 53 59 53 66 54 66 54 69 54 69 54 72 56 73 56 74 59 77 61 77 61 78 62 78 63 79 67 79 67 80 71 80 71 79 75 79 75 78 77 78 78 77 79 77 79 77 82 76 84 74 85 74 91 68 91 67 93 65 93 64 94 63 94 62 95 62 95 60 96 60 97 55 97 55 97 44 97 43 97 41 96 41 96 39ZM36 -3 36 2 37 3 37 4 38 5 39 5 40 6 42 6 43 7 46 7 47 8 53 8 54 7 57 7 58 6 60 6 61 5 62 5 63 4 63 3 64 2 64 -3Z" fill="#ffdc00"/><path d="M-3 63 -3 85 2 85 3 86 4 86 4 85 8 85 8 84 11 83 15 80 15 79 15 78 15 76 16 76 16 72 15 72 15 69 15 69 15 68 11 64 10 64 10 64 8 64 8 63ZM89 39 88 39 87 38 86 38 86 38 82 38 82 37 81 38 76 38 76 38 74 38 73 39 70 40 68 43 67 43 64 45 64 46 62 49 62 50 61 50 61 51 60 52 60 53 59 54 59 56 59 56 59 60 58 60 58 63 59 64 59 67 59 67 60 70 64 73 65 73 65 74 67 74 68 75 73 75 74 74 77 74 77 73 78 73 79 72 82 72 83 70 84 70 88 66 88 64 90 63 90 62 91 62 91 60 92 60 92 59 92 58 92 56 93 56 93 46 92 46 92 44 91 42 91 41Z" fill="#ff8c00"/><path d="M1 67 -3 68 -3 81 6 81 7 80 8 80 10 77 10 76 11 76 11 73 10 72 10 70 8 68 6 68 5 67ZM87 44 85 44 85 44 84 44 83 43 77 43 77 44 74 44 74 44 73 44 72 46 70 46 68 49 68 50 66 51 66 52 65 53 65 54 64 54 64 56 64 57 64 63 64 64 65 67 67 68 68 68 69 69 72 69 73 70 74 69 77 69 77 68 79 68 80 67 82 67 87 62 87 60 87 60 87 59 88 58 88 56 89 56 89 49 88 48 88 47 87 46 87 45Z" fill="#ff4600"/><path d="M82 49 76 49 76 49 74 49 71 53 71 54 70 54 70 56 69 57 69 59 70 59 70 62 72 63 74 63 74 64 76 64 76 63 78 63 79 62 80 62 82 60 82 59 83 58 83 57 84 56 84 51Z" fill="#ee0000"/></g></svg><text x="29.9" y="303.1" class="lb">50<tspan font-size="4.8" dx="0.3" dy="-2.2">°</tspan></text><svg x="55.46" y="257" width="39.4" height="38.6" viewBox="0 0 100 100" preserveAspectRatio="none"><g opacity="0.999"><rect x="-5" y="-5" width="110" height="110" fill="#0810f2"/><path d="M4 51 -3 51 -3 99 1 99 2 98 5 98 6 97 7 97 8 97 10 96 15 92 15 90 16 89 16 88 17 87 17 86 18 86 18 84 19 83 19 80 20 80 20 69 19 69 19 66 18 66 18 64 17 64 17 63 16 62 15 59 10 54 8 54 8 53 7 53 6 52 4 52ZM-3 -3 -3 7 4 11 5 11 7 13 8 13 8 14 10 14 10 15 11 15 12 15 13 15 13 16 15 16 16 17 18 17 18 18 21 18 21 19 24 19 24 20 28 20 28 21 33 21 33 21 42 21 43 22 53 22 54 23 53 24 54 25 56 25 56 24 58 24 56 26 55 26 50 31 50 32 47 35 47 36 45 38 44 41 43 42 43 43 42 44 42 45 41 45 41 47 40 48 40 50 39 50 39 52 38 53 38 56 38 57 38 69 38 69 38 72 39 73 39 75 40 75 41 78 44 80 44 82 46 84 47 84 49 86 50 86 50 87 51 87 52 87 53 87 54 88 56 88 57 89 68 89 69 88 72 88 72 87 75 87 75 87 77 87 77 86 78 86 79 85 80 85 80 84 83 83 85 82 86 82 87 80 88 80 97 71 97 69 103 67 103 20 99 20 103 19 103 16 99 15 99 13 97 12 99 10 99 7 98 6 98 5 97 5 98 -3Z" fill="#14946c"/><path d="M-3 54 -3 96 4 96 4 95 6 95 7 94 8 94 14 88 14 87 15 87 15 85 15 85 15 84 16 83 16 80 17 80 17 69 16 69 16 67 15 67 15 64 15 64 15 63 13 62 13 60 10 57 8 57 7 55 6 55 5 54 2 54 1 54ZM4 -3 4 3 5 3 6 6 10 10 13 11 14 13 15 13 16 14 18 14 18 15 20 15 20 15 22 15 23 16 26 16 26 17 29 17 29 18 34 18 34 19 42 19 43 20 54 20 54 19 62 19 63 18 67 18 68 17 72 18 72 20 70 22 69 22 68 23 65 23 64 25 63 25 62 27 60 27 56 31 55 31 55 32 50 37 50 38 49 39 49 41 48 41 48 42 47 43 47 44 46 44 46 46 45 46 45 47 44 48 44 50 44 50 44 52 43 53 43 56 42 57 42 66 43 66 43 70 44 70 44 72 44 72 44 73 45 74 46 77 50 81 51 81 53 82 54 82 54 83 56 83 57 84 61 84 61 85 67 85 67 84 72 84 72 83 77 82 77 82 78 82 79 81 82 80 83 78 84 78 86 76 87 76 94 69 94 68 97 66 97 64 98 63 98 62 99 62 99 60 103 60 103 28 98 26 98 25 97 24 97 13 96 13 96 10 95 10 95 8 94 7 94 6 93 5 93 3 92 3 92 -3Z" fill="#08e814"/><path d="M-3 59 -3 91 2 91 3 90 5 90 5 89 6 89 10 85 10 84 11 83 11 82 12 82 12 79 13 79 13 71 12 71 12 68 11 67 11 66 10 65 10 64 7 61 6 61 5 60 4 60 4 59ZM88 13 83 13 80 16 80 17 79 18 79 20 73 25 72 25 71 27 69 27 69 28 68 28 67 28 64 29 62 32 61 32 55 38 55 39 53 41 53 42 52 43 52 44 51 44 51 46 50 46 50 47 49 48 49 50 49 50 49 52 48 53 48 57 47 58 47 62 48 63 48 67 49 67 49 68 49 69 50 72 52 73 52 74 53 75 54 75 55 77 58 77 59 78 61 78 61 79 70 79 70 78 73 78 74 77 76 77 76 77 77 77 78 76 81 75 82 73 83 73 86 70 87 70 88 69 88 68 92 64 92 63 94 62 94 60 95 60 95 59 96 58 96 57 97 56 97 55 97 55 97 53 98 52 98 49 99 48 99 39 98 39 98 36 97 36 97 33 95 31 95 30 93 29 93 28 92 27 92 26 92 26 92 24 91 24 91 21 90 21 90 16 89 15 89 14ZM19 -3 19 2 20 3 20 4 24 8 26 8 26 9 27 9 28 10 29 10 29 10 31 10 32 11 35 11 35 12 39 12 39 13 58 13 59 12 62 12 63 11 66 11 66 10 68 10 69 10 70 10 70 9 73 8 74 6 76 6 77 5 77 4 77 4 77 3 78 2 78 -3Z" fill="#98ec14"/><path d="M-3 64 -3 85 3 85 3 84 5 84 7 82 7 80 8 80 8 78 9 77 9 72 8 72 8 69 6 68 6 67 5 66 4 66 4 65 3 65 2 64ZM87 31 85 31 85 30 84 30 83 29 78 29 77 30 74 30 74 31 72 31 72 32 70 32 70 33 67 33 66 35 64 35 59 41 59 42 57 44 57 45 56 45 56 46 55 47 55 48 54 49 54 50 54 50 54 53 53 54 53 62 54 62 54 65 54 65 54 67 56 68 56 69 57 70 58 70 59 72 61 72 61 72 63 72 64 73 72 73 72 72 74 72 74 72 77 72 77 71 78 71 79 69 81 69 83 67 84 67 87 64 87 63 89 61 89 59 91 58 91 57 92 56 92 54 92 54 92 52 93 51 93 49 94 48 94 43 93 42 93 39 92 39 92 36 90 35 90 33 89 33ZM35 -3 35 3 37 5 38 5 38 5 41 5 41 6 44 6 44 7 55 7 55 6 58 6 59 5 62 5 64 2 64 -3Z" fill="#ffdc00"/><path d="M-3 69 -3 80 2 80 4 78 5 74 4 73 4 72 2 70 1 70ZM82 36 74 36 73 37 72 37 72 38 69 38 67 40 66 40 64 43 64 44 62 45 62 46 60 48 60 50 59 50 59 52 59 53 59 59 59 59 59 62 60 62 60 63 63 66 64 66 64 67 67 67 68 67 71 67 71 67 74 67 74 66 76 66 76 65 79 64 85 58 85 57 86 56 86 55 87 55 87 54 87 53 87 51 88 51 88 44 87 43 87 41 86 40 86 38 85 38 83 37 82 37Z" fill="#ff8c00"/><path d="M79 43 73 43 72 44 71 44 67 48 67 49 66 49 66 51 65 51 65 56 66 57 66 58 67 59 68 59 69 60 74 60 74 59 77 58 80 56 80 54 81 54 81 53 82 52 82 50 82 50 82 48 82 47 82 45Z" fill="#ff4600"/></g></svg><text x="76.16" y="303.1" class="lb">55<tspan font-size="4.8" dx="0.3" dy="-2.2">°</tspan></text><svg x="101.72" y="257" width="39.4" height="38.6" viewBox="0 0 100 100" preserveAspectRatio="none"><g opacity="0.999"><rect x="-5" y="-5" width="110" height="110" fill="#0810f2"/><path d="M-3 44 -3 103 10 103 10 99 12 97 12 96 13 96 13 95 14 94 14 93 15 92 15 90 15 90 15 88 16 87 16 85 17 84 17 66 16 66 16 62 15 62 15 57 14 56 14 55 13 55 12 52 6 46 5 46 5 45 3 45 3 44ZM-3 -3 -3 8 1 8 2 11 8 17 9 17 10 19 11 19 12 20 13 20 13 21 15 21 15 21 16 21 17 22 18 22 18 23 21 23 21 24 24 24 24 25 28 25 28 26 34 26 34 26 46 26 46 26 51 26 53 27 53 28 54 28 55 29 51 34 49 34 49 35 49 36 44 40 44 41 43 43 43 44 42 44 42 46 41 46 41 47 40 48 40 50 39 50 39 60 40 60 41 63 43 64 43 66 44 67 45 67 46 68 47 68 48 69 49 69 49 70 51 70 51 71 54 71 54 72 71 72 71 71 75 71 75 70 77 70 78 69 81 69 81 68 82 68 83 67 85 67 85 67 87 67 87 66 88 66 89 65 90 65 90 64 92 64 92 63 95 62 96 61 97 61 99 59 103 59 103 17 97 17 97 16 95 16 93 13 92 13 92 13 90 13 87 10 86 10 86 7 84 5 83 5 82 4 82 -3Z" fill="#14946c"/><path d="M-3 48 -3 103 6 103 10 97 10 95 11 94 11 93 12 92 12 90 13 90 13 89 14 88 14 85 15 85 15 81 15 81 15 69 15 69 15 64 14 64 13 59 12 59 12 58 11 57 10 54 5 49 4 49 4 49 1 49ZM3 -3 3 5 3 5 3 7 4 8 4 9 7 11 7 12 8 14 10 14 12 16 13 16 14 18 15 18 16 19 18 19 18 20 20 20 20 21 22 21 23 21 26 21 26 22 30 22 30 23 48 23 49 22 53 22 54 24 56 24 56 26 59 28 59 31 49 40 49 41 48 43 48 44 47 44 47 46 46 46 46 48 45 49 45 51 44 51 44 56 45 57 45 59 46 59 46 61 50 65 51 65 52 66 53 66 54 67 55 67 55 67 58 67 59 68 72 68 72 67 76 67 76 67 79 67 79 66 84 65 85 64 86 64 86 63 87 63 88 62 89 62 90 62 91 62 91 61 94 60 95 58 97 58 98 56 99 56 103 56 103 20 97 20 97 19 95 19 94 18 91 18 84 10 83 10 81 8 79 8 76 4 76 -3Z" fill="#08e814"/><path d="M-3 55 -3 95 2 95 3 94 4 94 4 93 5 93 6 92 6 91 8 90 8 89 9 88 9 87 10 87 10 85 10 85 10 82 11 82 11 69 10 68 10 65 10 65 10 63 9 62 8 59 5 56 3 56 3 55ZM13 -3 13 1 12 2 13 3 13 5 13 6 13 7 18 11 19 11 19 12 21 12 21 13 22 13 23 14 24 14 24 15 27 15 28 15 31 15 32 16 41 16 41 15 46 15 46 15 48 15 49 14 57 14 63 19 63 21 68 25 68 26 69 27 69 31 67 32 67 33 64 36 63 36 59 39 59 41 58 42 58 43 56 44 56 46 55 47 55 49 54 49 54 52 55 53 55 56 59 60 61 60 61 61 63 61 64 62 67 62 68 62 72 62 72 62 77 62 78 61 81 61 81 60 83 60 84 59 85 59 85 58 87 58 88 57 89 57 90 56 93 55 95 52 97 52 103 49 103 27 98 27 97 26 95 26 95 25 93 25 92 24 90 24 90 23 88 23 87 23 86 23 85 21 84 21 77 14 76 14 76 13 74 13 74 13 73 13 72 12 71 12 71 11 69 11 69 10 67 10 67 9 65 9 62 6 62 4 62 4 62 3 61 2 61 -3Z" fill="#98ec14"/><path d="M-3 62 -3 88 1 88 2 87 3 87 5 85 5 84 6 83 6 82 7 82 7 78 8 77 8 72 7 72 7 69 6 68 6 66 5 65 5 64 4 63 3 63 2 62ZM98 35 96 33 95 33 94 32 90 32 90 31 88 31 87 32 83 32 82 33 79 33 79 33 78 33 77 34 74 35 73 37 72 37 67 42 67 43 66 44 66 45 65 45 65 47 64 48 64 49 65 49 65 51 69 55 71 55 71 56 79 56 79 55 82 55 83 54 84 54 85 53 87 53 87 52 88 52 90 51 91 51 93 48 94 48 95 47 95 46 97 44 97 43 98 42 98 39 99 39 98 38ZM22 -3 22 4 23 4 23 5 23 6 25 6 25 7 26 7 27 8 28 8 28 9 39 9 39 8 41 8 41 7 44 6 45 5 45 4 46 4 46 -3Z" fill="#ffdc00"/><path d="M-3 69 -3 82 1 82 3 80 3 79 4 78 4 72 3 72 2 69ZM92 39 90 38 83 38 82 38 81 38 81 39 78 40 76 42 76 43 75 44 75 47 77 49 83 49 84 48 86 48 86 47 87 47 91 44 91 43 92 42Z" fill="#ff8c00"/></g></svg><text x="122.42" y="303.1" class="lb">60<tspan font-size="4.8" dx="0.3" dy="-2.2">°</tspan></text><svg x="147.98" y="257" width="39.4" height="38.6" viewBox="0 0 100 100" preserveAspectRatio="none"><g opacity="0.999"><rect x="-5" y="-5" width="110" height="110" fill="#0810f2"/><path d="M-3 52 -3 103 1 103 2 99 3 99 3 98 5 98 5 97 5 96 7 95 7 94 8 93 8 92 9 92 9 90 10 89 10 85 10 85 10 79 11 78 11 74 10 73 10 66 10 66 10 63 9 62 9 60 8 60 7 57 5 56 5 54 5 54 3 54 2 52ZM-3 -3 -3 14 2 15 3 15 4 17 5 17 7 19 8 19 8 20 10 20 10 21 11 21 12 21 14 21 14 22 19 23 19 24 22 24 23 25 26 25 27 26 33 26 33 26 45 26 45 28 46 28 47 29 50 29 50 31 52 32 51 33 52 33 52 35 54 37 54 42 54 43 54 46 54 46 54 51 55 51 55 53 56 54 56 55 57 55 58 58 60 60 60 62 62 63 63 63 65 66 67 66 67 67 68 67 69 67 70 67 70 68 72 68 72 69 75 69 75 70 80 70 80 71 87 71 87 70 92 70 92 69 95 69 95 68 97 68 98 67 99 67 103 67 103 10 90 10 90 8 91 8 89 6 87 6 87 7 85 7 85 5 86 5 86 -3Z" fill="#14946c"/><path d="M-3 55 -3 97 2 97 3 96 4 96 5 94 5 93 6 92 6 91 7 91 7 90 8 89 8 87 9 87 9 82 10 82 10 69 9 69 9 65 8 65 8 63 7 62 7 61 6 61 5 58 3 55ZM-3 -3 -3 6 1 7 1 8 3 9 3 10 6 14 7 14 8 15 10 15 11 17 12 17 13 18 14 18 14 19 16 19 17 20 19 20 19 21 21 21 22 21 25 21 25 22 30 22 30 23 46 23 47 24 48 24 51 27 51 28 59 35 59 48 59 49 60 53 61 54 61 55 63 56 63 57 67 62 68 62 69 63 71 63 71 64 72 64 73 65 75 65 75 66 78 66 79 67 90 67 90 66 94 66 95 65 97 65 97 64 103 63 103 14 99 14 98 13 83 13 82 12 80 12 79 10 79 9 78 9 78 8 79 7 79 5 80 5 80 -3Z" fill="#08e814"/><path d="M1 65 -3 65 -3 87 3 85 3 84 4 83 4 81 5 81 5 71 4 71 4 69 3 68 3 67ZM12 1 13 5 14 7 14 8 17 10 20 11 21 13 23 13 23 14 26 14 26 15 28 15 28 15 33 15 33 16 44 16 44 15 46 15 46 16 51 16 52 17 53 17 59 23 59 24 63 28 63 29 65 31 65 32 66 33 66 36 67 36 67 46 68 47 68 49 69 49 69 51 70 52 70 53 73 56 74 56 75 57 77 57 77 58 79 58 79 59 82 59 83 60 90 60 90 59 93 59 94 58 96 58 96 57 97 57 98 56 99 56 103 56 103 21 99 21 98 20 82 20 82 19 79 19 78 18 76 18 75 17 74 17 72 14 70 14 67 11 67 10 67 10 67 8 66 7 66 -3 13 -3Z" fill="#98ec14"/><path d="M99 28 98 28 97 27 95 27 94 26 90 26 90 27 86 27 86 28 85 28 84 28 81 29 78 33 78 34 77 34 77 36 76 36 76 37 75 38 75 44 76 44 76 46 78 48 78 49 79 50 80 50 81 51 82 51 83 52 87 52 87 53 89 53 90 52 93 52 94 51 96 51 97 50 98 50 103 48 103 28ZM24 2 25 3 25 5 27 6 28 6 28 7 30 7 30 8 32 8 33 9 44 9 44 8 46 8 46 7 49 6 51 5 51 3 51 3 51 1 51 -3 25 -3 25 1Z" fill="#ffdc00"/><path d="M90 33 89 33 86 34 85 35 85 36 84 38 84 42 85 43 85 44 86 44 87 46 93 46 94 45 95 45 97 42 97 41 98 41 98 37 97 36 97 35 96 33 95 33 94 33Z" fill="#ff8c00"/></g></svg><text x="168.68" y="303.1" class="lb">65<tspan font-size="4.8" dx="0.3" dy="-2.2">°</tspan></text><svg x="194.24" y="257" width="39.4" height="38.6" viewBox="0 0 100 100" preserveAspectRatio="none"><g opacity="0.999"><rect x="-5" y="-5" width="110" height="110" fill="#0810f2"/><path d="M-3 69 -3 91 1 91 2 90 3 90 5 88 5 87 5 87 5 85 6 85 6 75 5 75 5 73 4 72 4 70 3 70 2 69ZM-3 -3 -3 21 1 21 3 22 4 22 4 23 6 23 7 24 8 24 8 25 10 25 10 26 12 26 13 26 15 26 16 27 19 27 19 28 23 28 23 29 32 29 33 30 40 30 40 29 44 29 48 33 49 33 49 36 49 36 49 44 49 44 50 49 52 50 52 51 58 57 59 57 60 59 62 59 62 60 64 60 64 61 66 61 66 62 69 62 69 62 76 62 76 63 80 63 80 62 87 62 87 62 90 62 90 61 95 60 95 59 97 59 97 58 103 57 103 8 98 8 97 7 94 7 93 6 85 6 84 5 84 -3Z" fill="#14946c"/><path d="M1 74 -3 74 -3 87 1 86 2 86 3 85 3 84 4 83 4 77 3 77 3 75ZM-3 -3 -3 16 2 18 3 18 4 20 5 20 6 21 7 21 8 21 10 21 10 22 11 22 12 23 14 23 14 24 17 24 18 25 21 25 21 26 26 26 27 26 46 26 46 27 47 27 49 29 50 29 53 32 53 44 54 44 54 46 54 47 54 48 56 49 56 51 60 55 62 55 62 56 63 56 64 56 65 56 65 57 67 57 67 58 69 58 69 59 73 59 74 60 82 60 83 59 87 59 88 58 91 58 91 57 92 57 93 56 95 56 95 56 98 55 103 53 103 13 99 13 97 13 97 12 94 12 93 11 82 11 82 12 79 12 78 11 76 11 76 10 76 6 77 5 77 -3Z" fill="#08e814"/><path d="M3 -3 3 6 3 7 4 10 7 12 8 12 9 14 10 14 11 15 12 15 13 15 14 15 14 16 16 16 17 17 19 17 19 18 23 18 23 19 37 19 38 18 44 18 44 19 47 19 48 20 49 20 50 21 51 21 53 23 54 23 61 30 61 32 62 33 62 36 63 37 63 43 64 44 64 45 69 50 70 50 70 51 72 51 73 51 77 51 77 52 82 52 83 51 87 51 87 51 89 51 90 50 91 50 91 49 94 48 96 46 97 46 98 45 98 44 103 42 103 26 99 26 99 24 95 20 94 20 93 19 92 19 92 18 85 18 85 19 74 19 71 16 69 16 62 8 61 5 58 3 58 -3Z" fill="#98ec14"/><path d="M76 31 73 34 73 36 72 37 72 39 73 39 73 41 74 41 74 42 74 43 76 43 76 44 79 44 79 45 82 45 83 44 86 44 86 43 87 43 92 39 92 37 92 36 92 35 92 35 92 33 89 30 88 30 87 29 79 29 79 30ZM13 2 13 6 15 9 16 9 17 10 18 10 18 10 21 10 21 11 31 11 32 10 34 10 34 10 37 9 40 6 40 1 39 -3 13 -3 13 1Z" fill="#ffdc00"/></g></svg><text x="214.94" y="303.1" class="lb">70<tspan font-size="4.8" dx="0.3" dy="-2.2">°</tspan></text><svg x="240.5" y="257" width="39.4" height="38.6" viewBox="0 0 100 100" preserveAspectRatio="none"><g opacity="0.999"><rect x="-5" y="-5" width="110" height="110" fill="#0810f2"/><path d="M44 33 45 32 45 33 44 33ZM-3 -3 -3 26 1 26 2 26 3 26 3 27 5 27 5 28 10 29 10 30 13 30 13 31 18 31 18 31 34 31 34 31 39 31 39 30 41 30 42 31 41 31 41 33 44 33 44 35 44 35 44 37 43 38 43 41 42 41 42 45 43 45 43 49 44 49 44 52 49 57 51 57 51 58 52 58 53 59 54 59 54 60 56 60 57 61 60 61 60 62 77 62 77 61 80 61 80 60 83 60 84 59 88 58 89 57 90 57 90 56 92 56 92 56 95 55 96 53 97 53 99 51 103 51 103 6 98 6 97 5 92 5 92 6 89 6 88 7 85 7 84 8 83 8 80 11 78 11 77 12 74 12 74 13 72 13 72 12 72 11 72 10 69 10 68 11 67 10 67 8 67 8 67 -3Z" fill="#14946c"/><path d="M103 12 99 11 97 11 97 10 92 10 92 11 89 11 88 12 86 12 86 13 84 13 83 13 81 13 81 14 79 14 78 15 74 15 74 16 69 17 69 18 68 18 67 18 66 18 66 19 64 19 64 20 61 21 60 23 59 23 51 30 51 31 49 33 49 34 49 34 49 36 48 36 48 38 47 38 47 47 48 48 49 51 53 55 54 55 55 56 57 56 58 57 59 57 59 58 63 58 64 59 76 59 76 58 80 58 80 57 82 57 83 56 87 56 88 55 89 55 90 54 91 54 91 53 94 52 95 51 97 51 99 48 103 48ZM-3 21 1 22 2 22 3 24 5 24 6 25 7 25 8 26 10 26 10 26 12 26 13 27 16 27 17 28 33 28 33 27 37 27 38 26 41 26 41 26 43 26 44 25 45 25 45 24 46 24 47 23 50 22 51 21 52 21 58 15 58 13 59 13 59 12 60 11 60 10 61 10 61 8 62 7 62 -3 -3 -3Z" fill="#08e814"/><path d="M93 31 90 28 88 28 87 27 78 27 77 28 74 28 74 28 71 29 70 31 69 31 64 35 64 36 64 37 64 38 63 38 63 43 64 44 64 45 66 47 67 47 68 48 70 48 70 49 78 49 79 48 82 48 82 47 83 47 84 46 87 46 88 44 89 44 92 41 92 40 93 39 93 37 94 36 94 33 93 32ZM-3 -3 -3 10 6 16 7 16 8 17 9 17 9 18 10 18 11 19 13 19 13 20 17 20 18 21 28 21 28 20 32 20 33 19 35 19 35 18 36 18 37 17 40 16 46 10 46 9 46 9 46 6 47 5 47 3 46 2 46 -3Z" fill="#98ec14"/><path d="M8 3 8 6 9 7 9 8 12 10 13 10 13 11 15 11 15 12 18 12 18 13 23 13 23 12 26 12 27 11 28 11 29 10 31 10 31 9 31 8 32 7 32 2 31 -3 10 -3 10 1Z" fill="#ffdc00"/></g></svg><text x="261.2" y="303.1" class="lb">75<tspan font-size="4.8" dx="0.3" dy="-2.2">°</tspan></text><svg x="286.76" y="257" width="39.4" height="38.6" viewBox="0 0 100 100" preserveAspectRatio="none"><g opacity="0.999"><rect x="-5" y="-5" width="110" height="110" fill="#0810f2"/><path d="M103 91 98 91 97 92 96 92 95 93 95 94 95 95 95 96 94 96 94 103 103 103ZM-3 93 -3 103 21 103 21 99 21 98 21 96 18 94 17 94 16 93 15 93 15 92 13 92 12 91 4 91 4 92 2 92 1 93ZM90 -3 90 1 90 10 90 10 90 11 92 13 92 14 93 14 95 15 97 15 97 16 103 15 103 -3ZM-3 -3 -3 25 2 26 3 26 3 27 5 27 6 28 7 28 8 29 10 29 10 30 13 30 13 31 17 31 18 31 32 31 33 31 37 31 38 30 40 30 40 29 42 29 43 28 46 28 46 29 47 29 49 31 50 31 51 30 53 32 54 32 56 35 57 35 59 36 60 36 60 37 62 37 62 38 63 38 64 39 65 39 65 40 67 40 67 41 68 41 69 41 71 41 71 42 73 42 74 43 76 43 76 44 81 44 81 45 87 45 88 44 90 44 90 43 93 42 94 41 94 40 95 40 95 33 94 33 94 31 93 31 93 29 92 28 92 27 87 23 87 22 86 22 82 17 80 17 79 15 78 15 77 13 75 13 75 13 74 13 73 12 70 11 70 8 69 8 68 8 65 7 64 5 64 -3Z" fill="#14946c"/><path d="M103 95 99 95 96 97 96 103 103 103ZM1 98 1 103 15 103 15 98 13 95 11 95 10 95 6 95 5 95 3 95ZM95 -3 94 1 94 2 93 3 93 8 94 8 94 10 95 11 103 11 103 -3ZM-3 -3 -3 22 1 22 2 23 3 23 3 24 5 24 5 25 6 25 7 26 9 26 9 26 11 26 12 27 15 27 16 28 31 28 31 27 35 27 35 26 40 26 40 25 41 25 42 24 44 24 44 23 46 23 47 22 51 22 54 26 56 26 60 31 62 31 63 32 64 32 64 33 66 33 66 34 67 34 68 35 70 35 70 36 72 36 73 36 82 36 84 34 84 29 83 29 83 28 82 26 82 25 78 22 77 22 75 19 74 19 72 18 71 18 71 17 69 17 69 16 68 16 67 15 65 15 65 14 64 14 63 13 61 13 59 11 59 9 58 9 58 2 57 1 57 -3Z" fill="#08e814"/><path d="M-3 13 3 15 4 15 5 17 6 17 7 18 9 18 9 19 11 19 12 20 17 20 18 21 20 21 20 20 26 20 27 19 29 19 29 18 31 18 32 17 33 17 34 15 36 15 40 11 40 10 41 10 41 8 41 8 41 4 42 4 41 3 41 -3 -3 -3Z" fill="#98ec14"/><path d="M3 2 3 6 4 7 4 8 6 10 7 10 8 10 9 10 9 11 11 11 12 12 17 12 18 11 21 11 21 10 22 10 26 7 26 1 25 -3 4 -3 4 1Z" fill="#ffdc00"/></g></svg><text x="307.46" y="303.1" class="lb">80<tspan font-size="4.8" dx="0.3" dy="-2.2">°</tspan></text><svg x="333.02" y="257" width="39.4" height="38.6" viewBox="0 0 100 100" preserveAspectRatio="none"><g opacity="0.999"><rect x="-5" y="-5" width="110" height="110" fill="#0810f2"/><path d="M103 89 99 89 98 90 96 90 93 93 93 94 92 95 92 97 91 97 91 103 103 103ZM-3 86 -3 103 36 103 36 95 34 94 34 93 31 90 30 90 29 89 28 89 27 88 25 88 25 87 23 87 23 86 20 86 20 85 15 85 15 85 6 85 5 85 1 85ZM80 -3 80 1 79 2 79 4 79 4 79 8 79 8 79 11 80 12 80 13 85 17 86 17 86 18 87 18 88 19 96 19 96 18 97 18 98 17 99 17 103 16 103 -3ZM-3 -3 -3 26 1 26 2 27 3 27 3 28 5 28 6 29 8 29 8 30 10 30 11 31 15 31 15 31 29 31 29 31 33 31 33 30 36 30 37 29 38 29 39 31 41 31 41 31 44 31 45 33 46 33 48 35 51 36 52 37 53 37 54 38 55 38 55 39 56 39 57 40 59 40 59 41 62 41 62 41 65 41 65 42 70 42 70 43 73 43 74 42 77 42 78 41 81 41 82 39 82 38 83 37 83 31 82 31 82 28 81 27 80 24 72 16 70 16 68 13 65 13 64 11 64 10 62 8 61 8 61 8 59 7 59 -3Z" fill="#14946c"/><path d="M103 94 98 94 97 95 96 95 96 96 95 96 95 97 95 98 95 103 103 103ZM-3 93 -3 103 26 103 26 97 22 94 21 94 21 93 19 93 19 92 17 92 16 91 4 91 4 92 2 92 1 93ZM87 -3 85 2 85 3 85 3 85 10 88 13 89 13 90 14 94 14 95 13 96 13 99 10 99 3 98 3 98 2 97 -3ZM-3 -3 -3 23 1 23 2 24 3 24 3 25 5 25 5 26 7 26 8 26 10 26 10 27 14 27 14 28 27 28 28 27 31 27 32 26 34 26 34 26 36 26 37 25 45 25 45 26 46 26 49 29 51 29 52 31 53 31 54 32 56 32 56 33 58 33 59 34 61 34 61 35 65 35 65 36 67 36 68 35 71 35 73 32 73 28 72 28 72 26 71 25 71 23 67 20 66 20 64 18 63 18 62 17 61 17 60 15 57 14 54 11 54 9 53 9 53 -3Z" fill="#08e814"/><path d="M-3 14 3 16 4 16 4 17 5 17 6 18 7 18 8 19 10 19 11 20 15 20 16 21 18 21 18 20 24 20 24 19 26 19 27 18 29 18 29 17 31 17 33 15 34 15 36 13 36 12 37 10 37 9 38 9 38 7 39 6 39 1 38 -3 -3 -3Z" fill="#98ec14"/><path d="M3 1 3 7 7 10 8 10 8 11 10 11 11 12 16 12 17 11 19 11 19 10 21 10 24 7 24 5 25 5 25 3 24 2 24 1 23 -3 4 -3Z" fill="#ffdc00"/></g></svg><text x="353.72" y="303.1" class="lb">85<tspan font-size="4.8" dx="0.3" dy="-2.2">°</tspan></text><svg x="379.28" y="257" width="39.4" height="38.6" viewBox="0 0 100 100" preserveAspectRatio="none"><g opacity="0.999"><rect x="-5" y="-5" width="110" height="110" fill="#0810f2"/><path d="M103 83 91 83 91 84 88 85 84 89 84 90 83 90 83 92 82 92 82 93 81 94 81 97 80 98 80 103 103 103ZM-3 79 -3 103 47 103 47 96 46 96 46 94 46 93 45 90 37 83 36 83 36 82 34 82 34 81 33 81 32 80 31 80 31 79 29 79 29 79 26 79 26 78 23 78 22 77 8 77 8 78 4 78 4 79 2 79 1 79ZM-3 -3 -3 26 1 26 2 26 3 27 5 27 5 28 8 28 8 29 11 29 12 30 17 30 18 31 31 31 31 30 36 30 37 29 40 29 40 28 43 28 44 27 46 27 46 26 47 26 48 26 50 26 50 25 53 24 54 22 56 22 58 20 59 20 63 15 63 14 65 13 65 12 66 11 66 10 67 9 68 9 68 10 69 12 69 13 71 13 71 14 72 14 73 13 74 15 76 15 77 16 78 16 79 17 80 17 80 18 82 18 82 19 85 19 85 20 94 20 95 19 97 19 98 18 99 18 103 17 103 -3Z" fill="#14946c"/><path d="M87 96 87 103 103 103 103 90 99 90 98 90 93 90 92 90 91 90 89 93 89 94 88 95 88 96ZM-3 83 -3 103 44 103 44 99 43 98 43 95 42 95 41 92 38 89 38 88 37 88 35 85 33 85 32 84 31 84 31 83 29 83 29 82 27 82 26 81 23 81 23 80 18 80 18 79 13 79 12 80 7 80 6 81 4 81 4 82 2 82 1 83ZM70 -3 70 1 71 2 71 5 72 6 73 9 79 15 80 15 80 15 82 15 82 16 85 16 85 17 95 17 95 16 97 16 98 15 99 15 103 15 103 -3ZM-3 23 1 23 2 24 4 24 4 25 6 25 7 26 10 26 10 26 15 26 15 27 29 27 29 26 34 26 34 26 37 26 38 25 42 24 43 23 44 23 44 22 46 22 46 21 49 21 50 19 51 19 57 13 57 12 58 11 58 10 59 10 59 8 60 8 60 5 61 5 61 -3 -3 -3Z" fill="#08e814"/><path d="M1 100 1 103 29 103 29 98 27 97 27 95 26 94 24 94 24 93 23 93 22 92 20 92 20 91 10 91 10 92 8 92 8 93 5 94 3 96 3 97 2 98 2 99ZM80 -3 80 2 81 3 82 5 84 7 85 7 85 8 87 8 88 9 92 9 93 8 96 7 98 5 98 3 99 3 99 -3ZM-3 15 1 15 2 15 3 16 4 16 4 17 6 17 7 18 10 18 10 19 25 19 25 18 28 18 28 17 30 17 30 16 32 16 33 15 34 15 35 14 36 14 41 10 41 8 41 8 41 7 42 6 42 -3 -3 -3Z" fill="#98ec14"/><path d="M-3 -3 -3 5 1 6 1 7 3 9 4 9 4 10 5 10 6 10 10 10 10 11 15 11 15 10 18 10 18 10 21 9 25 5 25 1 24 -3Z" fill="#ffdc00"/></g></svg><text x="399.98" y="303.1" class="lb">90<tspan font-size="4.8" dx="0.3" dy="-2.2">°</tspan></text><rect x="8.4" y="209" width="18.2" height="20.0" fill="#fff"/><text x="8.9" y="224.6" class="pl">(c)</text><text x="419.9" y="265.1" class="ca">Constant Angle:φ<tspan font-size="5" dy="1.5">2</tspan></text><path d="M423.8 270.5 H441.3 M423.8 270.5 V287" stroke="#000" stroke-width="0.7" fill="none"/><path d="M445 270.5 l-4 -1.8 v3.6z M423.8 290.7 l-1.8 -4 h3.6z" fill="#000"/><text x="437.2" y="280" class="ca">φ<tspan font-size="5" dy="1.5">1</tspan><tspan dy="-1.5">(0°~90°)</tspan></text><text x="422.8" y="299" class="ca">Φ(0°~90°)</text><rect x="480.6" y="216.5" width="17.5" height="10.5" fill="#ee0000" stroke="#111" stroke-width="1.05"/><rect x="480.6" y="227" width="17.5" height="10.5" fill="#ff4600" stroke="#111" stroke-width="1.05"/><rect x="480.6" y="237.5" width="17.5" height="10.5" fill="#ff8c00" stroke="#111" stroke-width="1.05"/><rect x="480.6" y="248" width="17.5" height="10.5" fill="#ffdc00" stroke="#111" stroke-width="1.05"/><rect x="480.6" y="258.5" width="17.5" height="10.5" fill="#98ec14" stroke="#111" stroke-width="1.05"/><rect x="480.6" y="269" width="17.5" height="10.5" fill="#08e814" stroke="#111" stroke-width="1.05"/><rect x="480.6" y="279.5" width="17.5" height="10.5" fill="#14946c" stroke="#111" stroke-width="1.05"/><rect x="480.6" y="290" width="17.5" height="10.5" fill="#0810f2" stroke="#111" stroke-width="1.05"/><text transform="translate(501.6 219.4) scale(0.9 1)" class="lg">Max = 4.549</text><text transform="translate(501.6 229.9) scale(0.9 1)" class="lg">3.534</text><text transform="translate(501.6 240.4) scale(0.9 1)" class="lg">2.745</text><text transform="translate(501.6 250.9) scale(0.9 1)" class="lg">2.133</text><text transform="translate(501.6 261.4) scale(0.9 1)" class="lg">1.657</text><text transform="translate(501.6 271.9) scale(0.9 1)" class="lg">1.287</text><text transform="translate(501.6 282.4) scale(0.9 1)" class="lg">1.000</text><text transform="translate(501.6 292.9) scale(0.9 1)" class="lg">0.777</text><svg x="9.5" y="316.3" width="39" height="38.7" viewBox="0 0 100 100" preserveAspectRatio="none"><g opacity="0.999"><rect x="-5" y="-5" width="110" height="110" fill="#0810f2"/><path d="M-3 89 -3 103 20 103 20 98 21 97 21 96 20 96 20 94 19 93 19 92 16 90 15 90 15 89 13 89 13 88 11 88 10 87 4 87 4 88 2 88 1 89ZM3 45 3 46 -3 47 -3 63 1 63 2 64 3 64 3 65 7 65 8 64 10 63 11 62 11 61 13 60 13 58 14 57 14 53 13 52 13 50 12 50 12 49 10 47 9 47 9 46 8 46 7 45ZM103 5 98 5 97 6 94 6 93 7 91 7 91 8 90 8 89 8 88 8 87 9 85 10 83 12 82 12 78 16 76 16 76 15 69 15 68 13 67 13 67 13 65 13 65 12 59 12 59 13 56 13 56 13 54 13 54 14 52 14 51 16 49 16 48 18 47 18 39 25 39 26 37 28 37 30 36 30 35 33 33 33 31 36 30 39 28 39 27 41 27 42 23 45 23 46 22 48 22 49 21 49 21 52 20 53 20 59 21 59 21 62 22 63 23 66 26 69 27 69 28 70 29 70 29 71 37 71 38 70 39 70 40 68 41 68 42 67 42 66 44 65 44 64 45 63 45 62 46 62 46 59 47 58 48 55 50 55 50 54 51 54 52 53 55 52 57 50 58 50 59 49 59 50 61 50 63 47 64 48 64 60 64 60 64 65 65 65 65 68 66 69 66 72 65 72 65 73 64 74 64 80 65 80 65 84 66 85 66 88 67 89 67 91 68 91 68 92 69 94 69 95 73 98 74 98 74 99 76 99 76 103 103 103Z" fill="#14946c"/><path d="M-3 95 -3 99 1 103 14 103 15 99 15 95 12 92 11 92 10 91 4 91 4 92 1 93 1 94ZM3 49 3 50 2 50 2 51 1 52 1 53 -3 54 -3 56 1 57 1 58 3 61 7 61 10 58 10 57 10 56 10 54 10 53 10 52 7 49ZM103 10 99 11 95 11 95 12 90 13 90 13 87 14 86 16 85 16 82 18 81 18 81 19 79 19 78 20 73 20 72 19 70 19 67 16 66 16 66 15 64 15 64 14 58 14 57 15 55 15 55 16 54 16 53 17 50 18 49 19 48 19 40 27 40 28 38 29 38 31 38 31 38 32 37 33 37 34 36 34 36 36 35 36 34 39 33 40 33 41 32 42 31 45 28 47 28 48 28 49 28 50 27 50 27 51 26 52 26 54 25 54 25 57 26 58 26 60 27 60 27 62 29 64 31 64 31 65 36 65 36 64 37 64 39 62 39 61 40 61 40 59 41 59 41 57 44 54 45 54 45 53 47 53 48 52 50 52 50 51 53 51 54 49 56 49 58 46 59 46 62 43 62 42 66 39 66 38 69 35 70 35 70 38 69 38 69 41 69 42 69 47 68 48 68 57 69 58 69 63 69 64 69 67 70 67 70 72 71 72 71 79 72 79 72 84 73 85 73 87 74 87 74 88 75 90 75 91 76 92 77 92 79 93 81 93 81 94 99 94 103 95Z" fill="#08e814"/><path d="M65 23 64 22 63 22 62 20 55 20 55 21 52 22 51 23 49 23 45 28 45 29 44 30 44 31 43 32 43 33 42 33 42 35 41 35 41 36 40 37 40 40 39 40 39 44 41 46 42 46 43 46 48 46 49 46 51 46 51 45 54 44 56 41 57 41 60 39 60 38 62 36 62 35 62 35 62 33 63 33 63 32 64 31 64 30 65 30 65 28 66 27ZM97 19 97 20 92 21 92 22 90 22 89 23 88 23 81 30 81 31 80 32 80 33 79 33 79 35 79 35 79 36 78 37 78 38 77 38 77 41 76 41 76 45 75 45 75 58 76 59 76 62 77 63 77 65 78 65 78 67 79 67 79 69 79 69 80 74 81 74 81 76 82 76 83 81 84 82 87 82 88 82 91 82 91 83 96 83 96 84 103 84 103 19Z" fill="#98ec14"/><path d="M96 28 96 28 95 28 94 29 91 30 86 35 86 36 85 37 85 38 85 38 85 40 84 40 84 41 83 42 83 45 82 45 82 56 83 57 83 60 84 60 84 62 85 63 85 64 86 65 86 67 89 69 89 70 90 70 92 72 93 72 94 73 95 73 95 74 103 75 103 28ZM58 26 54 26 52 28 51 28 50 28 50 30 49 31 49 32 48 33 48 37 49 38 53 38 54 36 56 36 56 36 56 34 58 33 58 32 59 31 59 27Z" fill="#ffdc00"/><path d="M99 34 98 35 96 35 96 36 95 36 90 40 90 41 90 42 90 43 89 44 89 46 88 46 88 54 89 54 89 57 90 58 90 61 94 64 95 64 96 66 99 66 103 67 103 34Z" fill="#ff8c00"/><path d="M98 41 97 42 96 42 95 43 95 44 94 45 94 47 93 48 93 51 94 52 94 54 95 54 95 56 97 58 99 58 103 59 103 41Z" fill="#ff4600"/><path d="M99 46 98 47 98 48 97 49 97 50 98 50 98 51 99 52 103 52 103 46Z" fill="#ee0000"/></g></svg><text x="30" y="362.5" class="lb">0<tspan font-size="4.8" dx="0.3" dy="-2.2">°</tspan></text><svg x="55.6" y="316.3" width="39" height="38.7" viewBox="0 0 100 100" preserveAspectRatio="none"><g opacity="0.999"><rect x="-5" y="-5" width="110" height="110" fill="#0810f2"/><path d="M-3 90 -3 103 15 103 15 94 15 93 15 92 12 90 11 90 10 89 8 89 7 88 6 88 5 89 3 89 2 90 1 90ZM103 5 98 5 97 6 95 6 94 7 90 8 89 8 86 9 85 11 84 11 81 14 79 14 78 13 61 13 61 14 59 14 59 13 56 13 56 14 53 14 52 15 50 15 50 16 47 17 46 18 44 18 43 20 42 20 33 28 33 30 31 32 31 33 29 34 29 36 28 37 28 38 27 38 27 40 26 40 26 41 25 42 25 43 24 44 24 46 23 46 23 47 23 48 23 51 22 51 22 55 21 55 21 62 22 62 22 65 23 65 23 67 25 69 26 69 27 70 30 70 30 71 31 71 32 70 36 70 36 69 38 69 38 68 41 67 43 66 44 66 46 63 47 63 53 57 53 56 56 53 56 52 58 51 58 49 59 48 60 49 60 50 62 48 62 47 63 46 63 45 64 45 64 44 65 43 65 44 65 48 64 49 64 58 65 59 65 64 66 64 66 67 67 68 67 71 68 71 68 73 69 74 69 77 68 77 68 83 69 84 69 87 70 88 70 89 72 90 72 92 79 99 81 99 81 103 103 103ZM-3 5 1 6 6 6 9 4 9 3 10 2 10 -3 -3 -3Z" fill="#14946c"/><path d="M103 10 99 10 98 11 95 11 94 12 93 12 92 13 90 13 90 13 89 13 87 15 86 15 85 17 84 17 82 18 80 18 80 19 78 19 77 18 74 18 74 18 62 18 62 17 59 17 59 16 54 16 54 17 51 17 51 18 49 18 49 18 46 19 45 21 44 21 34 30 34 31 32 33 32 35 31 35 31 36 29 38 29 39 28 39 28 41 28 41 28 43 27 44 27 45 26 45 26 47 25 48 25 51 24 52 24 59 25 59 25 62 27 63 27 64 28 64 29 66 36 66 37 65 39 65 39 64 42 63 44 62 45 62 48 58 49 58 52 55 52 54 56 51 56 49 57 48 57 47 59 46 59 44 60 44 60 43 61 42 61 41 62 41 62 39 62 39 62 37 63 36 63 34 64 34 64 32 65 31 65 30 67 30 67 29 68 29 69 30 70 29 70 30 72 30 72 36 71 36 71 38 70 38 70 42 69 43 69 48 69 49 69 56 69 57 69 62 70 63 70 66 71 66 71 69 72 69 72 72 73 72 73 75 74 75 74 79 74 79 74 82 75 83 75 85 76 85 77 88 80 92 82 92 82 92 83 92 84 93 86 93 86 94 103 94ZM-3 3 1 3 2 4 5 4 6 3 6 2 7 1 7 -3 -3 -3Z" fill="#08e814"/><path d="M56 22 51 22 51 23 49 23 49 23 46 24 44 27 43 27 40 29 40 31 38 33 38 34 36 35 36 36 35 37 35 38 34 38 34 41 33 41 33 43 33 44 33 51 33 52 33 53 34 54 36 54 36 55 41 55 41 54 42 54 43 53 46 52 53 45 53 44 55 42 55 41 56 41 56 39 56 39 56 38 57 37 57 36 58 36 58 33 59 32 59 26 58 26 58 24ZM96 19 96 20 94 20 93 21 90 22 89 23 88 23 83 28 83 30 81 31 81 32 80 33 80 34 79 34 79 36 79 36 79 37 78 38 78 41 77 41 77 44 76 44 76 59 77 59 77 62 78 63 78 65 79 65 79 67 79 67 79 69 80 69 80 71 81 71 81 73 82 74 82 75 83 75 83 77 84 77 85 82 85 82 87 82 87 83 94 83 95 84 103 84 103 19Z" fill="#98ec14"/><path d="M52 28 49 28 47 29 46 29 44 32 44 33 42 34 42 36 41 36 41 38 40 38 40 42 42 44 45 44 45 43 46 43 51 39 51 38 52 36 52 34 53 34 53 28ZM97 27 97 28 95 28 95 28 92 29 87 34 87 36 85 37 85 38 85 38 85 41 84 41 84 43 83 44 83 48 82 49 82 52 83 53 83 57 84 58 84 61 85 61 85 62 85 63 86 66 89 68 89 69 90 70 91 70 93 72 94 72 95 73 97 73 97 74 103 74 103 27Z" fill="#ffdc00"/><path d="M103 33 99 34 97 34 97 35 94 36 92 38 92 39 90 40 90 41 90 42 90 43 89 44 89 48 88 49 88 51 89 52 89 56 90 56 90 57 90 58 91 61 95 64 96 64 96 65 98 65 99 66 103 66Z" fill="#ff8c00"/><path d="M98 40 95 44 95 45 94 45 94 53 95 54 95 55 97 57 99 57 103 58 103 40Z" fill="#ff4600"/><path d="M99 45 98 46 98 48 97 49 98 49 98 51 99 51 103 51 103 45Z" fill="#ee0000"/></g></svg><text x="76.1" y="362.5" class="lb">5<tspan font-size="4.8" dx="0.3" dy="-2.2">°</tspan></text><svg x="101.7" y="316.3" width="39" height="38.7" viewBox="0 0 100 100" preserveAspectRatio="none"><g opacity="0.999"><rect x="-5" y="-5" width="110" height="110" fill="#0810f2"/><path d="M-3 88 -3 103 19 103 19 95 18 95 18 94 16 92 16 91 15 90 14 90 13 89 12 89 11 88 10 88 10 87 1 87ZM33 79 32 80 31 80 30 81 28 87 29 87 29 89 30 90 30 91 31 92 33 92 33 92 35 92 35 92 36 92 39 89 39 83 38 82 38 81 37 80 36 80 36 79ZM103 -3 91 -3 90 1 90 6 90 7 88 7 87 8 83 8 82 9 81 9 81 10 78 11 77 13 75 13 73 15 72 15 72 16 68 16 67 15 67 16 64 16 64 17 63 17 62 16 61 16 61 15 60 16 59 16 58 15 57 15 56 14 55 14 55 13 49 13 48 14 46 14 46 15 44 15 43 16 42 16 41 18 39 18 38 19 37 19 29 27 29 28 27 30 27 31 25 33 25 34 23 35 23 36 23 37 23 38 22 38 22 40 21 40 20 45 19 45 19 48 18 49 18 59 19 59 19 62 20 62 20 63 22 65 23 65 23 66 25 66 25 67 32 67 33 66 35 66 35 65 36 65 37 64 40 63 41 62 42 62 51 52 52 53 52 54 52 54 55 51 55 50 56 49 57 49 57 61 58 61 58 65 59 65 59 67 59 68 59 72 59 73 59 79 59 79 59 82 60 82 60 83 62 85 62 86 64 87 64 88 68 92 69 93 69 94 69 95 69 95 69 103 92 103 92 97 103 97Z" fill="#14946c"/><path d="M-3 94 -3 103 14 103 14 99 13 98 13 96 10 93 8 93 7 92 3 92 2 93 1 93ZM103 -3 95 -3 95 1 95 2 95 5 95 6 95 10 95 11 94 11 93 12 90 12 90 13 87 13 87 13 85 13 84 14 83 14 82 15 79 16 78 18 77 18 76 19 74 19 74 20 71 20 71 21 68 21 67 20 60 20 60 19 59 19 57 18 56 18 56 17 54 17 54 16 48 16 47 17 45 17 45 18 44 18 43 18 40 19 39 21 38 21 31 28 31 29 28 31 28 32 27 33 27 35 26 35 26 36 25 37 25 38 24 38 24 40 23 40 23 42 23 43 23 45 22 45 22 50 21 50 21 53 22 54 22 57 23 58 23 59 25 62 26 62 27 62 34 62 34 62 36 62 37 61 40 60 41 58 42 58 44 56 46 56 48 53 48 52 51 49 51 48 54 46 54 44 55 44 55 43 56 42 56 41 56 41 56 39 57 39 57 38 58 37 58 36 59 36 59 34 60 33 62 33 64 34 64 38 63 38 63 41 62 42 62 46 61 47 61 57 62 58 62 62 63 63 63 65 64 65 64 69 64 69 64 73 65 74 65 77 66 78 66 80 67 80 68 83 69 85 69 86 71 86 73 88 74 88 76 90 76 92 74 93 74 94 74 95 74 103 86 103 87 99 87 93 87 92 88 92 89 92 93 92 94 92 97 92 98 92 103 92Z" fill="#08e814"/><path d="M52 23 51 23 51 22 46 22 46 23 44 23 43 23 42 23 40 26 38 26 36 28 36 30 33 32 33 33 32 34 32 36 31 36 31 38 30 38 30 40 29 40 29 50 32 52 38 52 38 51 41 51 42 50 43 50 49 44 49 43 51 41 51 40 51 40 51 38 52 38 52 37 53 36 53 34 54 34 54 31 55 31 55 26 54 26 54 24ZM90 21 89 22 87 22 87 23 85 23 85 23 82 24 79 28 78 28 78 29 74 32 74 33 73 34 73 36 72 36 72 38 71 38 71 40 70 40 70 43 69 44 69 47 69 48 69 56 69 56 69 60 70 60 70 63 71 64 71 66 72 66 73 71 74 71 74 72 74 73 74 75 75 75 76 78 78 80 80 80 80 81 83 81 84 82 87 82 87 82 103 82 103 21Z" fill="#98ec14"/><path d="M94 28 93 29 90 29 89 30 86 31 85 33 84 33 81 35 81 36 79 38 79 39 79 39 79 41 78 41 78 42 77 43 77 45 76 45 76 57 77 58 77 60 78 60 78 62 79 63 79 64 80 65 80 67 85 72 87 72 87 72 88 72 89 73 91 73 91 74 99 74 103 73 103 29 98 29 97 28ZM48 28 44 28 44 28 43 28 38 33 38 34 38 34 38 36 37 36 37 41 38 43 40 43 40 42 42 42 44 41 45 41 46 40 46 38 47 37 47 36 48 36 48 34 49 34 49 28Z" fill="#ffdc00"/><path d="M93 36 92 37 90 37 90 38 89 38 85 42 85 43 84 44 84 45 83 45 83 48 82 49 82 54 83 54 83 57 84 58 85 61 89 65 90 65 90 66 92 66 93 67 97 67 98 66 103 66 103 37 98 37 97 36Z" fill="#ff8c00"/><path d="M93 43 92 44 91 44 89 46 89 48 88 49 88 54 89 54 90 57 91 59 93 59 94 60 97 60 97 59 98 59 103 57 103 44 99 44 98 44 97 44 97 43Z" fill="#ff4600"/><path d="M95 48 94 49 93 49 93 50 92 50 92 52 94 54 97 54 97 53 97 52 97 49 96 48Z" fill="#ee0000"/></g></svg><text x="122.2" y="362.5" class="lb">10<tspan font-size="4.8" dx="0.3" dy="-2.2">°</tspan></text><svg x="147.8" y="316.3" width="39" height="38.7" viewBox="0 0 100 100" preserveAspectRatio="none"><g opacity="0.999"><rect x="-5" y="-5" width="110" height="110" fill="#0810f2"/><path d="M-3 84 -3 103 24 103 24 98 25 97 25 95 24 94 24 91 23 91 22 88 20 85 18 85 17 84 16 84 15 83 13 83 13 82 3 82 3 83 1 83ZM31 78 28 80 28 82 28 82 28 86 28 86 28 87 31 90 36 90 37 89 38 89 40 87 40 86 41 86 41 82 40 82 40 80 37 78ZM103 -3 86 -3 85 1 85 6 85 7 81 7 81 8 78 8 77 8 75 8 75 9 74 9 73 10 71 10 70 12 69 12 68 13 67 13 66 14 64 14 62 18 51 18 50 16 49 16 48 15 47 15 46 14 39 14 39 15 37 15 36 16 35 16 35 17 32 18 31 19 29 19 21 28 21 29 18 31 18 32 18 33 18 34 17 34 17 36 16 36 16 37 15 38 15 39 14 39 14 41 13 42 13 44 13 44 13 50 12 50 12 51 13 52 13 56 13 57 14 60 18 63 20 63 20 64 26 64 27 63 31 62 33 61 36 60 38 57 39 57 42 54 43 55 45 55 45 54 47 51 48 52 48 58 49 59 49 62 49 62 49 64 50 64 51 69 52 69 52 71 54 72 54 73 54 74 54 80 55 80 55 82 56 82 57 85 59 86 59 87 61 90 62 90 64 92 65 92 66 93 68 93 69 94 71 94 71 95 72 95 74 96 73 97 73 99 74 103 94 103 96 98 96 95 95 95 95 94 96 92 103 92Z" fill="#14946c"/><path d="M-3 91 -3 103 16 103 17 99 17 98 18 97 18 94 17 93 17 92 14 89 13 89 12 88 4 88 4 89 3 89ZM103 -3 90 -3 90 5 91 6 91 7 92 8 92 11 90 11 89 12 82 12 82 13 79 13 78 13 76 13 76 14 74 14 74 15 73 15 72 16 69 17 67 19 66 19 66 20 64 20 64 21 63 21 62 22 52 22 49 18 48 18 46 17 38 17 37 18 36 18 36 18 33 19 31 21 30 21 23 28 23 30 20 32 20 33 19 33 19 35 18 35 18 36 18 37 18 38 17 38 17 41 16 41 16 44 15 44 15 53 16 54 17 56 19 59 21 59 21 60 24 60 24 61 25 60 29 60 29 59 31 59 32 58 35 57 37 55 38 55 43 50 43 49 46 46 46 45 47 44 47 43 49 41 49 40 50 40 51 37 53 36 54 41 53 41 53 46 52 47 52 53 53 54 53 58 54 59 54 62 54 62 54 64 55 64 55 66 56 66 56 68 57 69 57 70 58 70 58 72 59 72 59 74 59 74 59 76 60 76 61 79 63 80 63 82 67 86 68 86 69 87 70 87 70 87 72 87 73 88 79 88 79 89 86 89 86 88 93 88 94 87 97 87 98 87 103 87 103 13 97 11 97 9 103 7Z" fill="#08e814"/><path d="M44 23 42 23 41 22 38 22 38 23 36 23 36 23 34 23 33 25 32 25 27 30 27 31 25 33 25 34 24 34 24 36 23 36 23 38 23 38 23 42 22 43 22 45 23 45 23 48 25 51 27 51 28 51 32 51 33 50 36 49 42 42 42 41 44 40 44 38 45 38 45 36 46 36 46 33 46 33 46 30 47 30 47 28 46 28 46 26 46 26 46 24ZM98 23 96 23 96 22 92 22 92 21 85 21 84 22 80 22 80 23 79 23 78 23 76 23 75 25 74 25 72 27 71 27 67 31 67 32 65 33 65 35 64 35 64 36 64 37 64 38 63 38 63 41 62 41 62 44 61 44 61 55 62 55 62 58 63 59 63 61 64 61 64 62 64 63 64 64 65 64 65 66 66 66 66 67 67 68 67 69 68 69 68 71 69 71 69 74 71 75 71 77 72 77 73 77 74 78 82 78 83 79 84 79 85 78 93 78 94 77 96 77 96 77 98 77 99 76 103 76 103 23 99 23Z" fill="#98ec14"/><path d="M83 30 82 31 80 31 80 32 79 32 77 33 76 33 74 36 74 37 72 38 72 40 71 40 71 41 70 42 70 44 69 44 69 55 70 55 70 57 71 58 72 61 78 67 79 67 79 67 81 67 81 68 83 68 84 69 92 69 92 68 94 68 95 67 97 67 99 65 103 65 103 34 99 33 98 33 97 32 95 32 95 31 93 31 92 30ZM40 28 37 28 36 28 33 29 32 31 32 32 30 33 30 36 29 36 29 41 31 42 33 42 33 41 36 41 39 38 39 37 41 36 41 33 41 33 41 30 41 30 41 28Z" fill="#ffdc00"/><path d="M85 38 85 38 83 38 82 39 81 39 79 42 79 43 77 44 77 47 76 48 76 51 77 51 77 54 78 54 78 56 82 60 84 60 85 61 91 61 91 60 92 60 94 58 95 58 96 57 96 56 97 55 97 53 98 52 98 46 97 46 97 43 93 39 92 39 92 38 90 38 90 38Z" fill="#ff8c00"/><path d="M86 44 86 45 85 45 83 47 83 51 85 53 87 54 88 53 90 53 91 52 92 48 91 47 91 46 90 45 89 45 88 44Z" fill="#ff4600"/></g></svg><text x="168.3" y="362.5" class="lb">15<tspan font-size="4.8" dx="0.3" dy="-2.2">°</tspan></text><svg x="193.9" y="316.3" width="39" height="38.7" viewBox="0 0 100 100" preserveAspectRatio="none"><g opacity="0.999"><rect x="-5" y="-5" width="110" height="110" fill="#0810f2"/><path d="M-3 75 -3 103 29 103 29 95 31 94 31 93 35 90 35 88 36 87 36 82 35 82 34 79 32 77 31 77 31 76 28 76 27 77 26 77 23 80 23 82 22 82 19 79 18 79 17 78 16 78 15 77 14 77 14 76 12 76 11 75ZM96 -3 84 -3 84 2 83 3 83 8 82 8 82 12 83 13 83 15 82 15 82 18 74 18 74 18 69 18 69 19 67 19 67 20 65 20 65 21 63 21 62 23 60 23 59 24 58 24 53 29 53 31 51 33 50 32 50 30 49 29 48 31 47 31 47 28 46 27 46 26 46 26 46 23 45 23 45 22 43 21 43 19 40 16 38 16 37 14 35 14 35 13 27 13 26 14 23 15 19 19 19 21 18 22 18 23 17 23 17 25 16 25 16 27 15 28 15 30 14 30 14 36 13 37 13 40 14 40 14 46 15 46 15 49 16 49 16 51 17 51 17 53 18 54 18 56 21 58 21 59 22 59 24 62 26 62 26 62 28 62 28 63 33 63 33 62 36 62 38 61 39 61 43 56 46 56 47 57 50 57 51 59 52 62 59 69 61 69 61 70 62 70 63 71 64 71 64 72 67 72 69 74 69 76 69 76 69 77 72 77 72 79 77 84 78 84 79 85 80 85 80 86 89 86 90 85 92 85 93 83 94 83 97 81 97 79 98 78 98 77 99 77 99 74 103 73 103 26 99 26 96 23 97 22 97 19 96 18 97 18 97 14 97 14 97 7 97 6 97 2 96 1Z" fill="#14946c"/><path d="M-3 78 -3 103 26 103 26 95 26 95 26 91 25 91 25 89 23 87 23 86 18 81 17 81 15 79 14 79 14 79 12 79 11 78 8 78 8 77 3 77 2 78ZM21 21 21 22 19 23 19 25 18 25 18 26 18 27 18 29 17 29 17 32 16 33 16 43 17 44 17 46 18 47 18 49 18 49 18 51 19 51 20 54 24 58 26 58 26 59 28 59 28 60 34 60 34 59 36 59 38 57 39 57 44 51 48 51 49 52 50 52 54 56 54 57 55 59 55 60 61 66 62 66 63 67 64 67 64 67 66 67 66 68 67 68 68 69 69 69 69 70 72 71 74 72 75 72 77 74 77 76 79 78 81 78 81 79 83 79 84 80 86 80 86 79 88 79 89 78 90 78 92 76 92 74 93 74 93 73 94 72 94 69 95 69 95 67 96 67 96 65 97 64 97 63 99 62 99 60 103 60 103 32 99 31 99 30 96 27 95 27 92 24 91 24 90 23 88 23 87 22 85 22 84 21 73 21 72 22 69 22 69 23 67 23 67 23 65 23 65 24 62 25 59 28 58 28 58 30 54 33 54 34 51 37 50 37 50 38 48 38 47 36 46 36 46 33 46 33 46 30 45 30 44 25 42 24 42 23 41 21 41 20 40 19 38 19 37 18 36 18 36 17 34 17 34 16 28 16 28 17 26 17 25 18 23 18Z" fill="#08e814"/><path d="M-3 80 -3 103 23 103 23 94 22 93 21 89 20 87 20 86 17 84 16 84 15 82 13 82 13 81 12 81 11 80 8 80 8 79 3 79 2 80ZM69 28 69 28 66 29 64 32 63 32 62 33 62 34 60 35 60 36 59 37 59 38 59 38 59 40 58 40 58 41 57 42 57 44 56 44 56 46 57 46 57 48 58 49 58 50 59 50 59 51 59 52 60 55 62 56 62 57 64 59 65 59 66 61 67 61 68 62 69 62 69 62 72 62 72 63 75 63 75 64 85 64 86 62 87 62 95 55 95 54 96 53 96 52 97 51 97 49 97 49 97 41 97 41 97 38 96 38 95 35 89 29 88 29 87 28 86 28 86 28 84 28 83 27 72 27 72 28ZM28 23 23 28 23 29 23 29 23 31 22 31 22 34 21 34 21 41 22 42 23 46 24 48 24 49 26 51 27 51 28 51 29 51 29 52 33 52 33 51 36 51 38 49 38 48 40 46 40 45 41 45 41 43 41 42 41 35 41 35 41 32 40 31 40 29 39 29 39 28 36 24 34 24 34 23Z" fill="#98ec14"/><path d="M-3 83 -3 103 20 103 20 93 19 92 19 91 18 91 17 88 14 85 13 85 12 84 11 84 10 83 8 83 7 82 3 82 3 83ZM72 33 72 33 70 33 69 35 68 35 67 36 67 37 65 38 65 40 64 40 64 48 65 49 66 51 69 55 71 55 71 56 73 56 74 56 82 56 82 56 85 55 89 51 89 49 90 49 90 47 91 46 91 42 90 41 90 39 88 38 88 37 86 34 85 34 84 33 83 33 82 33 79 33 79 32 75 32 75 33ZM29 30 28 32 28 33 27 33 27 35 26 35 26 39 27 39 27 41 28 42 28 43 28 44 30 44 30 45 32 45 36 41 36 38 36 38 36 37 36 36 36 33 35 33 35 32 34 31 33 31 32 30Z" fill="#ffdc00"/><path d="M-3 86 -3 103 15 103 15 99 16 98 16 94 15 93 15 91 14 90 14 89 12 87 11 87 10 86 9 86 9 85 2 85 1 86ZM74 38 73 39 72 39 72 41 71 41 71 42 70 43 70 45 71 45 72 48 73 48 74 49 75 49 75 50 79 50 79 49 81 49 83 46 83 41 81 38 79 38 79 38Z" fill="#ff8c00"/><path d="M-3 90 -3 103 10 103 10 99 11 98 11 97 12 97 12 94 11 93 11 92 8 89 3 89 1 90Z" fill="#ff4600"/></g></svg><text x="214.4" y="362.5" class="lb">20<tspan font-size="4.8" dx="0.3" dy="-2.2">°</tspan></text><svg x="240" y="316.3" width="39" height="38.7" viewBox="0 0 100 100" preserveAspectRatio="none"><g opacity="0.999"><rect x="-5" y="-5" width="110" height="110" fill="#0810f2"/><path d="M-3 74 -3 103 31 103 31 95 31 95 31 92 30 92 30 90 29 89 29 88 27 87 27 85 21 79 18 78 16 76 14 76 14 75 12 75 11 74 8 74 8 74ZM103 27 99 26 99 25 97 23 96 23 94 21 91 20 90 18 87 18 87 15 87 15 87 13 87 12 87 4 87 4 87 -3 74 -3 73 1 73 13 72 13 72 15 70 16 70 17 67 17 67 18 62 18 62 19 60 19 59 21 58 21 56 23 55 23 52 26 52 27 49 29 49 31 49 31 48 33 47 33 46 31 45 31 45 33 44 32 44 29 43 29 43 27 42 26 42 25 41 25 41 22 36 17 34 17 34 16 33 16 32 15 30 15 30 14 24 14 24 15 22 15 21 16 18 17 14 21 14 22 13 23 13 25 12 25 12 27 11 28 11 30 10 30 10 42 11 43 11 45 12 45 12 46 13 47 13 50 15 51 15 52 18 55 19 55 19 56 21 56 21 56 22 56 23 57 26 57 27 58 28 57 31 57 32 56 34 56 35 55 43 55 44 56 46 56 46 57 49 57 50 59 50 60 57 67 58 67 59 68 61 68 61 69 62 69 63 70 64 70 64 71 67 71 68 72 71 72 71 72 81 72 81 72 84 72 85 71 87 71 87 70 89 70 90 69 92 68 94 67 95 67 103 62Z" fill="#14946c"/><path d="M-3 76 -3 103 28 103 28 95 27 95 27 92 26 92 26 90 26 90 25 87 22 85 22 84 21 83 20 83 18 80 17 80 16 79 15 79 15 79 13 79 13 78 11 78 10 77 8 77 7 76ZM13 29 13 32 12 33 12 39 13 39 13 43 13 44 13 45 14 45 14 46 15 47 16 50 18 52 20 52 21 54 23 54 23 55 31 55 32 54 35 53 36 51 37 51 38 50 42 50 43 51 44 51 44 51 46 51 47 52 50 53 54 57 54 58 58 62 59 62 60 64 62 64 62 65 63 65 64 66 65 66 65 67 67 67 68 67 72 67 72 68 79 68 79 67 83 67 84 67 86 67 86 66 87 66 88 65 91 64 92 62 93 62 97 58 97 57 99 56 99 54 103 54 103 33 99 32 98 29 92 23 91 23 90 22 89 22 88 21 87 21 87 20 85 20 85 19 83 19 82 18 70 18 70 19 67 19 67 20 64 20 64 21 61 22 60 23 59 23 53 29 53 31 52 31 51 34 47 38 46 38 46 38 44 38 43 37 43 36 42 36 42 32 41 31 41 28 41 28 41 27 40 26 39 23 35 19 33 19 33 18 32 18 31 18 29 18 29 17 25 17 25 18 23 18 22 18 19 19 16 23 16 24 14 25 14 26 13 27 13 29Z" fill="#08e814"/><path d="M-3 79 -3 103 25 103 25 94 24 93 24 91 23 91 22 88 16 82 15 82 15 81 13 81 13 80 12 80 11 79 8 79 8 79ZM69 28 68 29 67 29 63 33 63 35 62 35 62 36 61 37 61 44 62 44 62 46 64 47 64 48 65 50 67 50 67 51 68 51 69 51 70 51 70 52 78 52 79 51 80 51 80 51 83 50 85 48 85 47 87 46 87 44 87 43 87 37 87 36 86 33 82 30 81 30 81 29 79 29 79 28 77 28 77 28 72 28 72 28ZM25 27 25 28 23 28 21 30 21 31 20 32 20 35 19 35 19 37 20 38 20 41 21 41 21 42 23 45 25 45 25 46 29 46 29 45 31 45 33 42 33 41 34 41 34 38 35 38 35 33 34 33 34 31 32 30 32 28 31 28 30 27Z" fill="#98ec14"/><path d="M-3 81 -3 103 22 103 22 96 21 96 21 93 21 92 21 91 20 91 19 88 15 85 14 85 14 84 13 84 12 83 11 83 10 82 8 82 8 81Z" fill="#ffdc00"/><path d="M-3 84 -3 103 18 103 18 98 19 97 18 97 18 93 17 92 16 90 13 86 12 86 11 85 10 85 10 85 8 85 7 84Z" fill="#ff8c00"/><path d="M1 86 -3 87 -3 103 14 103 15 99 15 95 14 94 14 92 10 88 8 88 8 87 6 87 5 86Z" fill="#ff4600"/><path d="M-3 90 -3 103 9 103 10 99 10 97 10 97 10 95 10 95 10 93 7 90 6 90 5 90 2 90 1 90Z" fill="#ee0000"/></g></svg><text x="260.5" y="362.5" class="lb">25<tspan font-size="4.8" dx="0.3" dy="-2.2">°</tspan></text><svg x="286.1" y="316.3" width="39" height="38.7" viewBox="0 0 100 100" preserveAspectRatio="none"><g opacity="0.999"><rect x="-5" y="-5" width="110" height="110" fill="#0810f2"/><path d="M39 99 39 103 77 103 77 99 75 97 74 97 73 96 72 96 71 97 71 96 69 96 68 95 65 95 65 95 51 95 51 95 48 95 47 96 45 96 44 98 43 98 41 100 41 99ZM-3 70 -3 103 37 103 37 99 36 98 36 93 36 92 36 90 35 90 35 89 34 88 33 85 31 84 31 83 26 77 24 77 23 75 22 75 21 74 20 74 20 74 18 74 18 73 16 73 15 72 13 72 13 71 9 71 9 70ZM97 33 94 37 94 38 93 38 93 41 92 42 92 46 93 46 93 49 94 49 95 52 96 54 97 54 98 55 103 55 103 33ZM4 30 4 31 3 32 3 34 3 34 3 40 3 40 4 45 6 46 6 47 10 51 11 51 13 53 14 53 14 54 15 54 16 55 17 55 18 56 19 56 19 56 22 56 23 57 27 57 28 58 32 58 33 57 37 57 38 56 40 56 40 56 43 55 48 50 50 50 50 49 51 49 53 47 54 47 54 48 57 47 58 48 59 48 59 49 61 49 61 50 63 50 64 51 65 51 65 52 67 54 67 65 68 65 68 72 69 73 69 78 69 79 69 82 70 83 70 86 71 86 71 88 72 89 72 91 73 91 73 92 75 95 78 93 78 92 79 92 79 90 80 90 80 89 81 88 81 85 82 85 82 82 82 82 82 78 83 77 83 72 84 72 84 64 85 64 85 51 86 51 86 48 87 47 87 44 87 43 87 42 88 41 88 40 89 40 89 32 88 31 88 30 87 29 87 25 85 24 85 16 84 15 84 8 83 8 83 3 82 2 82 -3 69 -3 69 1 69 2 69 7 68 8 68 15 67 15 67 19 65 20 65 22 63 22 62 23 60 23 60 23 57 24 53 28 53 30 51 31 47 31 46 30 43 30 41 28 39 28 38 26 37 26 36 25 35 25 35 24 33 24 32 23 29 23 29 23 16 23 15 23 11 24 10 26 8 26Z" fill="#14946c"/><path d="M49 100 49 103 67 103 67 100 66 100 66 99 64 99 64 98 60 98 60 97 56 97 56 98 52 98 51 99ZM-3 74 -3 103 33 103 33 95 32 95 32 92 31 92 31 90 31 89 30 86 27 84 27 83 24 79 23 79 21 78 20 78 20 77 18 77 18 76 17 76 16 75 15 75 15 74 12 74 11 74 7 74 6 73 2 73 1 74ZM63 28 59 32 59 33 58 34 58 39 59 39 59 41 60 42 62 42 62 43 63 43 64 44 65 44 65 45 67 45 67 46 69 46 69 46 77 46 77 46 78 46 79 45 79 44 82 41 82 39 82 39 82 33 82 32 82 31 80 30 80 28 79 28 78 28 77 26 69 26 68 27 66 27 66 28ZM6 33 6 35 5 35 5 40 6 40 6 42 7 43 8 46 13 51 15 51 15 52 16 52 17 53 18 53 18 54 23 55 23 56 35 56 35 55 37 55 38 54 41 53 42 51 43 51 44 51 44 49 46 48 46 45 47 45 47 38 46 38 46 37 44 35 44 33 42 32 41 32 39 29 38 29 36 28 35 28 35 27 33 27 32 26 30 26 30 25 26 25 26 24 19 24 19 25 16 25 15 26 13 26 13 27 12 27 10 28 9 28 8 30 8 31Z" fill="#08e814"/><path d="M-3 76 -3 103 30 103 30 96 29 96 29 92 28 92 28 90 27 89 27 88 26 87 26 85 21 80 19 80 18 79 17 79 16 78 12 77 11 76 8 76 7 75 1 75ZM15 37 15 42 17 44 17 45 18 45 19 46 21 46 21 47 22 47 23 48 31 48 31 47 32 47 35 45 35 43 36 42 36 41 35 41 35 38 31 35 30 35 30 34 28 34 28 33 26 33 26 33 22 33 21 33 18 33Z" fill="#98ec14"/><path d="M-3 79 -3 103 26 103 26 93 25 92 25 90 24 90 24 89 22 87 22 86 18 82 17 82 16 81 15 81 15 80 13 80 13 79 12 79 11 79 8 79 7 78 2 78 1 79Z" fill="#ffdc00"/><path d="M-3 81 -3 103 21 103 21 98 22 97 22 96 21 96 21 92 21 92 21 90 20 90 19 87 16 85 15 85 14 83 13 83 12 82 10 82 10 81Z" fill="#ff8c00"/><path d="M-3 85 -3 103 16 103 17 99 17 92 16 92 15 89 13 86 12 86 11 85 10 85 10 85 8 85 7 84 2 84 1 85Z" fill="#ff4600"/><path d="M-3 88 -3 103 10 103 11 98 11 97 12 97 12 92 11 92 11 90 10 89 8 89 8 88 6 88 5 87 3 87 3 88Z" fill="#ee0000"/></g></svg><text x="306.6" y="362.5" class="lb">30<tspan font-size="4.8" dx="0.3" dy="-2.2">°</tspan></text><svg x="332.2" y="316.3" width="39" height="38.7" viewBox="0 0 100 100" preserveAspectRatio="none"><g opacity="0.999"><rect x="-5" y="-5" width="110" height="110" fill="#0810f2"/><path d="M45 100 45 103 79 103 77 98 76 98 76 97 74 97 74 96 73 96 72 95 69 95 69 95 55 95 55 95 52 95 51 96 49 96 49 97 48 97ZM-3 72 -3 103 36 103 36 95 35 94 34 90 33 89 33 88 32 87 31 85 24 77 23 77 21 75 20 75 20 74 18 74 18 74 16 74 15 73 13 73 12 72 7 72 6 71 4 71 4 72ZM97 37 97 38 95 38 94 39 94 41 93 41 93 43 92 44 92 46 91 47 91 53 92 54 92 56 93 57 93 59 94 59 94 61 95 62 98 63 99 62 103 62 103 38ZM8 33 8 35 7 35 7 36 6 37 6 38 5 38 5 47 6 48 6 50 7 50 7 51 8 53 8 54 12 57 13 57 14 59 15 59 16 60 18 60 18 61 21 61 21 62 29 62 29 61 32 61 33 60 34 60 34 59 37 58 41 55 41 54 41 53 41 52 42 51 42 50 43 50 43 40 42 40 42 38 41 38 41 35 36 30 34 30 34 29 33 29 32 28 31 28 31 28 28 28 28 27 18 27 17 28 15 28 15 28 13 28 12 30 11 30ZM40 5 40 6 38 6 38 7 38 8 37 8 37 14 38 14 38 15 39 17 45 17 46 15 46 14 47 14 47 9 46 9 46 6 44 6 44 5ZM80 -3 71 -3 68 3 68 5 66 6 66 7 64 8 64 11 62 13 62 14 61 14 61 15 60 16 60 17 59 18 59 19 59 19 59 21 58 22 58 23 57 23 57 25 56 25 56 27 55 28 55 30 54 30 54 32 54 33 54 36 53 36 53 41 52 42 52 44 53 44 53 46 54 48 56 48 56 47 59 46 62 43 62 42 65 40 65 38 67 37 67 36 68 35 68 33 69 33 69 32 70 31 70 30 71 30 71 28 72 28 72 27 72 26 72 25 73 25 73 23 74 23 74 22 75 21 75 19 76 19 76 18 77 17 77 15 77 15 77 12 78 11 78 8 79 8 79 4 80 4Z" fill="#14946c"/><path d="M53 103 72 103 72 100 70 100 70 99 69 99 68 98 64 98 64 97 60 97 60 98 56 98 56 99 54 99ZM-3 74 -3 103 32 103 32 95 31 95 31 92 31 92 31 90 30 89 30 88 28 87 28 85 21 79 20 79 20 78 18 78 18 77 17 77 16 76 15 76 15 75 12 75 11 74ZM13 31 9 35 9 36 8 37 8 38 8 38 8 42 7 43 7 44 8 44 8 48 8 49 9 51 14 56 15 56 16 57 17 57 18 58 20 58 20 59 31 59 31 58 32 58 33 57 36 56 39 53 39 52 40 51 40 50 41 50 41 47 41 46 41 44 41 43 41 40 40 40 39 37 37 36 37 34 36 33 35 33 33 31 32 31 31 30 29 30 29 29 26 29 26 28 21 28 21 29 18 29 17 30 15 30 15 31Z" fill="#08e814"/><path d="M-3 77 -3 103 29 103 29 94 28 93 28 91 27 91 27 90 26 89 26 86 21 81 19 81 18 79 17 79 16 79 12 78 11 77ZM17 39 17 41 16 41 16 46 17 47 17 48 18 50 20 50 20 51 21 51 22 51 27 51 28 51 29 51 29 50 31 50 31 49 31 48 32 47 32 42 31 41 31 40 29 38 28 38 27 37 20 37 20 38 18 38Z" fill="#98ec14"/><path d="M-3 79 -3 103 26 103 26 94 25 93 25 91 24 91 23 88 17 82 16 82 15 81 14 81 14 80 12 80 11 79Z" fill="#ffdc00"/><path d="M-3 83 -3 103 22 103 22 95 21 94 21 92 21 92 20 89 15 85 14 85 14 84 13 84 12 83 10 83 10 82 2 82 1 83Z" fill="#ff8c00"/><path d="M-3 86 -3 103 17 103 18 99 18 93 17 92 16 90 14 87 13 87 12 86 11 86 10 85 8 85 7 85 4 85 4 85 1 85Z" fill="#ff4600"/><path d="M-3 90 -3 103 12 103 14 95 13 94 13 92 10 90 9 90 9 89 3 89 1 90Z" fill="#ee0000"/></g></svg><text x="352.7" y="362.5" class="lb">35<tspan font-size="4.8" dx="0.3" dy="-2.2">°</tspan></text><svg x="378.3" y="316.3" width="39" height="38.7" viewBox="0 0 100 100" preserveAspectRatio="none"><g opacity="0.999"><rect x="-5" y="-5" width="110" height="110" fill="#0810f2"/><path d="M-3 73 -3 103 82 103 82 99 80 97 79 97 77 95 75 95 75 95 73 95 72 94 68 94 67 93 63 93 62 94 58 94 57 95 55 95 55 94 54 94 53 95 51 95 50 95 49 94 48 91 46 89 46 88 41 83 39 83 38 81 37 81 36 79 34 79 34 79 33 79 32 78 31 78 31 77 28 77 28 76 27 76 26 75 24 75 24 74 21 74 21 74 17 74 16 73 8 73 8 72 3 72 2 73ZM85 43 84 44 83 44 80 46 80 47 79 48 79 54 80 54 80 56 84 59 86 59 86 60 89 60 90 59 92 59 92 58 93 58 95 56 95 55 96 55 96 53 97 52 97 49 96 49 96 47 92 44 91 44 91 43ZM-3 28 -3 44 1 44 2 45 3 45 3 46 6 46 6 51 7 52 7 53 8 54 8 56 13 62 15 62 15 62 16 62 17 63 19 63 19 64 29 64 29 63 31 63 32 62 35 62 36 60 37 60 38 59 38 58 41 56 41 54 41 54 41 52 42 51 42 43 41 42 41 40 41 40 41 38 39 37 39 36 36 33 35 33 34 32 33 32 32 31 30 31 30 30 25 30 25 29 23 29 23 30 18 30 18 31 17 31 16 32 13 33 12 34 11 34 10 33 9 33 9 31 5 28 1 28ZM36 7 33 10 33 16 35 19 36 19 37 20 40 20 40 19 41 19 43 17 43 16 44 15 44 11 43 10 43 9 41 8 40 8 40 7ZM72 -3 63 -3 61 2 61 3 59 4 59 5 59 6 59 7 58 8 58 10 57 10 57 11 56 12 56 14 55 14 55 17 54 18 54 21 54 22 54 29 54 29 54 31 55 32 59 32 59 31 61 31 64 28 64 27 66 26 66 24 67 24 67 23 67 22 67 21 68 21 68 19 69 19 70 14 71 14 71 11 72 10 72 7 72 6Z" fill="#14946c"/><path d="M55 103 74 103 72 98 70 98 70 97 59 97 59 98 58 98 57 99 56 99ZM-3 75 -3 103 45 103 45 97 44 97 44 95 43 94 42 91 40 89 40 88 38 86 37 86 34 83 33 83 32 82 31 82 31 81 29 81 29 80 28 80 27 79 26 79 26 79 23 79 23 78 21 78 21 77 18 77 17 76 13 76 12 75ZM85 47 84 48 84 49 83 49 83 53 85 56 91 56 92 54 92 49 90 46 86 46 86 47ZM18 33 17 33 16 33 15 35 13 35 11 38 11 39 9 40 9 41 8 42 8 46 8 47 8 48 8 51 9 52 9 54 11 55 11 56 13 59 15 59 16 61 21 62 21 62 27 62 28 62 32 61 33 59 35 59 37 56 37 55 39 54 39 53 40 52 40 49 41 49 41 45 40 45 40 42 39 41 38 38 34 34 33 34 32 33 31 33 31 33 28 33 28 32 21 32 21 33Z" fill="#08e814"/><path d="M-3 78 -3 103 40 103 40 96 39 96 39 95 38 94 37 91 31 85 30 85 29 84 28 84 27 83 26 83 26 82 24 82 24 81 19 80 19 79 16 79 15 79 11 79 10 78ZM22 37 21 38 19 38 19 38 18 38 15 41 15 42 14 43 14 44 13 44 13 50 14 50 15 53 17 55 18 55 19 56 22 56 23 57 26 57 27 56 29 56 29 56 31 56 33 53 33 52 34 51 34 50 35 50 35 44 34 44 33 41 31 38 29 38 29 38 27 38 26 37Z" fill="#98ec14"/><path d="M-3 81 -3 103 35 103 35 97 34 97 34 95 33 95 32 92 27 87 26 87 25 85 23 85 23 85 22 85 21 84 20 84 20 83 18 83 17 82 14 82 14 81 8 81 7 80 2 80 1 81ZM23 42 22 43 21 43 19 44 19 50 21 51 23 51 23 52 25 52 25 51 27 51 29 50 29 48 30 47 30 46 29 46 29 44 27 43 26 43 26 42Z" fill="#ffdc00"/><path d="M-3 84 -3 103 29 103 29 97 28 97 28 95 26 93 26 92 24 90 23 90 21 88 20 88 20 87 18 87 18 86 17 86 16 85 14 85 14 85 10 85 10 84Z" fill="#ff8c00"/><path d="M-3 87 -3 103 22 103 22 96 21 96 21 93 19 91 18 91 16 90 15 90 15 89 13 89 12 88 9 88 9 87Z" fill="#ff4600"/><path d="M-3 91 -3 103 15 103 15 95 12 93 11 93 10 92 9 92 9 91Z" fill="#ee0000"/></g></svg><text x="398.8" y="362.5" class="lb">40<tspan font-size="4.8" dx="0.3" dy="-2.2">°</tspan></text><svg x="424.4" y="316.3" width="39" height="38.7" viewBox="0 0 100 100" preserveAspectRatio="none"><g opacity="0.999"><rect x="-5" y="-5" width="110" height="110" fill="#0810f2"/><path d="M56 100 56 103 90 103 87 96 85 96 85 95 84 95 83 95 81 95 81 94 75 94 75 93 71 93 71 94 65 94 65 95 63 95 62 95 61 95 61 96 58 97 57 98 57 99ZM-3 73 -3 103 47 103 47 97 46 97 46 95 46 94 46 93 45 92 44 90 41 87 41 86 39 84 38 84 36 81 34 81 33 79 32 79 31 79 30 79 30 78 28 78 28 77 27 77 26 76 24 76 24 75 19 74 19 74 15 74 15 73 8 73 7 72 2 72 1 73ZM84 40 83 41 81 41 81 42 79 42 77 44 77 46 76 46 76 47 75 48 75 55 76 55 76 56 80 61 82 61 82 62 89 62 90 61 92 60 95 57 95 56 96 56 96 54 97 54 97 49 96 48 96 46 94 45 94 44 93 43 92 43 91 41 89 41 88 40ZM8 38 8 41 7 41 7 43 6 44 6 51 7 51 8 56 9 57 9 58 13 62 14 62 14 62 15 62 16 63 17 63 18 64 26 64 27 63 29 63 29 62 31 62 34 58 35 59 37 59 38 61 43 62 44 62 49 62 51 61 51 58 50 57 50 56 46 52 44 52 43 50 42 50 40 48 38 47 38 42 37 41 37 40 36 40 36 37 31 32 29 32 29 31 28 31 27 30 23 30 22 29 21 30 18 30 17 31 15 31 14 33 13 33 9 36 9 37ZM30 7 30 8 28 8 28 8 26 14 27 14 27 16 28 17 28 18 29 18 29 19 31 19 31 20 34 20 34 19 36 19 36 18 36 17 37 16 37 15 38 15 38 12 37 11 37 10 36 10 36 8 36 8 34 8 34 7ZM64 -3 55 -3 54 2 54 3 53 3 53 5 52 5 52 6 51 7 51 8 50 8 50 10 49 11 49 13 49 13 49 16 48 17 48 26 49 26 49 27 50 29 53 28 58 23 58 22 59 21 59 20 60 20 60 18 61 18 61 17 62 16 62 15 62 15 62 13 63 12 63 9 64 9Z" fill="#14946c"/><path d="M64 103 82 103 82 99 80 99 80 98 79 98 78 97 68 97 67 98 65 98ZM-3 75 -3 103 42 103 42 98 41 97 41 93 39 92 39 90 37 89 37 88 35 85 33 85 31 83 30 83 29 81 28 81 27 80 26 80 26 79 24 79 24 79 19 78 19 77 16 77 15 76 12 76 11 75ZM85 44 84 45 81 46 81 47 79 49 79 53 80 54 80 55 82 56 83 56 84 57 88 57 89 56 90 56 91 56 91 54 92 54 92 53 92 52 92 49 92 49 92 48 89 45ZM19 32 19 33 17 33 16 33 15 33 14 35 13 35 12 36 12 37 10 38 10 40 9 40 9 41 8 42 8 45 8 45 8 48 8 49 8 52 9 53 10 56 12 57 12 58 13 58 15 61 16 61 17 62 19 62 19 62 25 62 25 62 27 62 28 61 31 60 35 56 35 54 36 54 36 53 36 52 36 44 36 43 36 41 35 41 34 38 31 34 29 34 28 33 26 33 26 32Z" fill="#08e814"/><path d="M-3 78 -3 103 37 103 37 96 36 96 36 95 36 94 35 91 32 89 32 88 31 87 30 87 28 85 27 85 26 83 24 83 24 82 23 82 22 81 20 81 20 80 18 80 17 79 15 79 15 79 10 79 10 78ZM20 37 20 38 18 38 14 41 14 42 13 43 13 44 13 44 13 49 13 49 13 51 14 52 14 53 17 56 18 56 18 56 21 56 21 57 24 57 24 56 26 56 31 52 31 51 31 51 31 44 31 43 31 42 29 41 29 39 28 39 26 38 24 38 24 37Z" fill="#98ec14"/><path d="M-3 81 -3 103 33 103 32 99 32 96 31 96 31 94 30 92 30 91 26 87 24 87 23 85 22 85 21 85 20 85 20 84 18 84 18 83 16 83 15 82 13 82 12 81 7 81 6 80 1 80ZM21 42 21 43 19 43 18 44 18 45 18 45 18 49 18 49 18 51 19 51 21 51 22 52 23 52 23 51 25 51 26 50 26 44 25 43 23 43 23 42Z" fill="#ffdc00"/><path d="M-3 84 -3 103 27 103 27 97 26 97 26 95 25 93 25 92 21 89 20 89 19 87 18 87 17 86 16 86 15 85 13 85 13 85 9 85 9 84Z" fill="#ff8c00"/><path d="M-3 87 -3 103 21 103 21 97 21 97 21 95 16 90 15 90 14 89 12 89 11 88 9 88 9 87Z" fill="#ff4600"/><path d="M-3 91 -3 103 14 103 14 99 15 98 14 97 14 95 10 92 8 92 8 91Z" fill="#ee0000"/></g></svg><text x="444.9" y="362.5" class="lb">45<tspan font-size="4.8" dx="0.3" dy="-2.2">°</tspan></text><svg x="9.5" y="363.1" width="39" height="38.7" viewBox="0 0 100 100" preserveAspectRatio="none"><g opacity="0.999"><rect x="-5" y="-5" width="110" height="110" fill="#0810f2"/><path d="M-3 79 -3 103 58 103 58 99 57 98 56 95 55 94 55 93 49 87 48 87 46 85 45 85 45 85 44 85 43 84 42 84 41 83 40 83 40 82 38 82 38 81 36 81 36 80 33 80 32 79 29 79 29 79 25 79 25 78 6 78 5 79 1 79ZM88 38 85 38 83 40 82 40 79 44 79 45 77 46 77 47 75 49 75 50 74 51 74 52 73 53 73 54 72 54 72 56 71 56 71 57 70 58 70 59 69 59 69 62 69 62 69 64 68 64 68 67 67 67 67 68 65 69 65 71 64 71 63 72 63 73 61 74 61 77 60 77 60 82 61 83 61 85 62 85 62 87 64 89 66 89 66 90 67 90 69 92 70 92 66 96 66 98 65 99 65 103 103 103 103 97 99 97 99 95 97 93 95 93 94 91 93 91 92 90 90 90 90 90 85 90 85 89 81 89 81 90 77 89 77 86 78 86 78 85 79 84 79 81 80 81 80 79 79 78 79 73 80 72 80 71 82 70 82 69 82 68 82 67 83 67 83 65 84 65 84 64 85 63 85 62 86 62 86 59 87 59 87 58 87 57 87 55 88 55 88 53 89 52 89 49 90 48 90 40ZM-3 40 -3 56 1 56 2 59 4 61 4 62 5 62 8 65 9 65 9 66 10 66 11 67 13 67 13 67 23 67 23 67 26 67 26 66 27 66 28 65 29 65 30 64 31 66 32 65 33 67 35 67 35 67 36 67 37 68 40 68 40 69 44 69 44 68 47 68 48 67 51 67 53 64 53 63 54 62 54 61 55 61 55 55 54 55 53 52 51 49 49 49 49 49 48 49 47 48 44 48 43 47 41 47 40 48 40 46 38 46 37 43 36 42 36 40 36 40 36 38 34 37 34 36 30 32 28 32 28 31 27 31 26 30 25 30 25 29 22 29 21 28 14 28 14 29 9 30 8 32 7 32 2 37 2 38 1 38 1 40ZM95 8 94 9 93 9 90 12 90 13 90 13 90 19 90 19 90 21 93 23 94 23 95 24 97 24 97 23 99 23 103 22 103 10 99 9 97 9 97 8ZM53 1 50 1 45 6 45 7 44 8 44 10 43 10 43 11 42 12 42 14 41 14 41 16 40 17 40 19 39 19 39 23 38 23 38 30 39 30 39 32 40 33 41 33 42 34 43 33 44 33 44 32 46 32 47 31 47 29 49 28 49 27 51 26 51 24 51 24 51 23 52 22 52 20 53 20 53 18 54 17 54 15 55 15 55 10 56 10 56 5 55 5 55 3ZM23 -3 23 1 22 1 20 3 20 4 19 4 19 5 18 6 18 10 18 10 18 16 18 17 18 21 19 21 20 24 22 26 23 26 23 27 22 27 22 27 25 28 25 26 26 26 28 24 28 23 29 22 29 21 30 21 30 18 31 17 31 9 30 9 30 6 29 5 28 3 26 1Z" fill="#14946c"/><path d="M73 98 73 103 93 103 92 97 91 95 90 95 89 95 88 95 87 94 79 94 78 95 76 95 75 96 74 96 74 97ZM-3 82 -3 103 52 103 51 99 51 97 51 97 51 95 49 94 49 93 46 90 44 90 42 87 41 87 41 86 39 86 39 85 38 85 37 85 36 85 36 84 33 84 33 83 31 83 31 82 28 82 28 81 23 81 23 80 5 80 5 81 1 81ZM69 73 68 74 67 74 65 75 65 77 64 77 64 82 65 83 65 84 67 86 69 86 69 87 71 87 71 86 74 85 74 84 75 83 75 82 76 82 76 77 75 77 75 75 72 73ZM2 42 2 45 1 45 1 51 2 51 2 54 3 54 3 57 6 59 6 61 7 61 9 63 10 63 11 64 13 64 13 65 23 65 23 64 25 64 25 63 26 63 27 62 30 62 31 60 32 60 33 59 34 59 35 60 35 62 37 63 38 63 38 64 46 64 46 63 47 63 49 62 49 60 50 60 50 56 49 56 49 54 47 53 46 53 46 52 38 52 38 53 37 53 36 51 36 46 35 46 35 43 34 42 34 40 32 39 32 38 28 33 27 33 26 33 25 33 25 32 23 32 22 31 14 31 14 32 12 32 11 33 8 33 3 38 3 40 3 40 3 41Z" fill="#08e814"/><path d="M-3 85 -3 103 46 103 46 98 45 97 45 96 43 95 43 94 40 90 38 90 37 89 36 89 35 87 33 87 33 86 31 86 31 85 28 85 28 85 26 85 26 84 22 84 21 83 6 83 5 84 2 84 1 85ZM13 38 8 42 8 43 8 44 8 45 7 45 7 51 8 51 8 53 9 54 9 56 11 57 12 57 13 58 14 58 14 59 22 59 23 58 24 58 25 56 26 56 27 56 27 54 28 54 28 53 29 52 29 50 30 50 30 46 29 46 29 44 28 43 28 42 24 38 22 38 21 37 15 37 15 38Z" fill="#98ec14"/><path d="M-3 87 -3 103 39 103 39 99 38 98 38 96 32 90 31 90 31 90 29 90 29 89 28 89 27 88 25 88 25 87 23 87 22 86 18 86 17 85 8 85 7 86 3 86 2 87ZM14 44 13 44 13 46 13 46 13 50 13 50 13 51 15 53 17 53 18 54 19 54 19 53 21 53 23 51 23 50 24 50 24 47 23 46 22 44 21 44 21 43 16 43 15 44Z" fill="#ffdc00"/><path d="M-3 90 -3 103 31 103 31 99 31 98 31 96 27 93 26 93 25 91 23 91 23 90 21 90 21 90 18 90 17 89 6 89 5 90 3 90 2 90Z" fill="#ff8c00"/><path d="M-3 95 -3 103 22 103 22 97 20 95 18 95 18 94 17 94 16 93 13 93 13 92 7 92 6 93 4 93 4 94 3 94 2 95 1 95Z" fill="#ff4600"/></g></svg><text x="30" y="409.3" class="lb">50<tspan font-size="4.8" dx="0.3" dy="-2.2">°</tspan></text><svg x="55.6" y="363.1" width="39" height="38.7" viewBox="0 0 100 100" preserveAspectRatio="none"><g opacity="0.999"><rect x="-5" y="-5" width="110" height="110" fill="#0810f2"/><path d="M-3 80 -3 103 51 103 51 99 50 98 50 97 49 97 48 94 41 87 40 87 39 85 38 85 37 85 36 85 36 84 34 84 34 83 33 83 32 82 30 82 30 81 28 81 27 80 24 80 24 79 19 79 19 79 6 79 5 79 1 79ZM81 41 81 42 79 42 74 46 74 47 73 49 73 50 71 51 71 52 70 53 70 54 69 54 69 56 69 57 69 58 68 59 68 61 67 61 66 66 64 67 64 69 62 71 62 72 61 73 61 75 60 75 60 82 61 83 61 85 62 85 62 87 65 90 67 90 67 91 70 92 70 93 72 94 72 99 73 103 99 103 99 99 103 98 103 94 99 93 99 91 98 91 98 90 96 87 95 87 93 85 92 85 92 85 88 85 87 84 85 84 85 83 83 82 84 78 83 77 83 74 82 74 82 72 81 71 81 67 82 67 82 64 82 64 82 62 83 62 83 59 84 58 84 55 85 55 85 44 84 44 84 43 83 42 82 42ZM89 8 88 9 86 9 84 12 84 13 83 13 83 16 82 17 82 18 83 18 83 21 85 23 85 24 86 24 87 26 92 26 93 25 94 25 96 23 96 22 97 21 97 19 97 19 97 15 97 15 97 13 93 9 92 9 92 8ZM19 1 19 2 18 2 17 3 17 4 16 4 16 5 15 6 15 8 14 8 14 13 13 13 13 16 14 17 14 22 15 23 15 25 16 25 15 26 15 27 16 28 13 28 13 29 10 29 10 30 8 30 8 31 5 32 1 36 1 37 -3 38 -3 56 2 58 2 59 4 62 5 62 7 63 8 63 8 64 10 64 10 65 14 65 14 66 18 66 18 65 22 65 23 64 24 64 25 63 26 65 28 65 28 67 31 70 32 70 33 71 34 71 34 72 41 72 42 71 44 71 49 66 49 64 50 63 50 57 49 56 49 54 47 53 47 52 46 50 44 50 44 49 43 49 42 49 38 49 37 47 35 46 35 44 34 44 34 41 33 41 33 39 32 39 31 36 27 32 26 32 26 31 24 31 23 30 24 29 24 26 25 26 25 24 26 24 26 21 26 21 26 10 26 10 26 7 25 6 24 3 22 2ZM51 -3 44 -3 44 1 42 3 42 5 41 5 41 6 40 7 40 8 39 8 39 10 38 10 38 11 38 12 38 14 37 14 37 17 36 18 36 29 38 31 41 31 42 29 43 29 44 28 44 27 46 25 46 23 47 23 47 22 48 21 48 20 49 20 49 18 50 18 50 16 51 15 51 13 51 13 51 10 52 10 52 1Z" fill="#14946c"/><path d="M74 90 74 92 74 93 74 98 74 99 74 103 97 103 97 98 98 97 98 94 97 93 97 90 93 87 92 87 92 86 90 86 89 85 82 85 82 86 79 86 79 87 78 87ZM-3 82 -3 103 46 103 45 99 45 97 44 97 44 95 42 94 42 93 39 90 38 90 36 87 34 87 34 86 33 86 32 85 31 85 31 85 29 85 29 84 27 84 26 83 23 83 23 82 19 82 19 81 4 81 4 82ZM72 69 72 70 69 70 69 71 68 71 67 72 67 73 65 74 65 77 64 77 64 80 65 80 65 82 66 83 66 84 67 85 68 85 69 86 70 86 70 87 74 87 74 86 76 86 78 83 78 81 79 81 79 77 78 77 78 74 77 74 77 73 75 70 73 70ZM3 38 3 39 2 39 2 41 1 41 1 43 -3 44 -3 51 1 51 1 53 2 54 3 56 7 61 8 61 8 62 10 62 10 62 12 62 13 63 20 63 20 62 22 62 23 62 24 62 24 61 27 60 28 58 31 58 31 62 32 63 32 64 33 66 35 66 35 67 37 67 38 67 39 67 39 67 41 67 45 63 45 57 43 56 43 54 42 54 41 54 40 54 40 53 37 53 36 54 34 54 34 54 32 54 32 44 31 43 31 41 31 41 30 38 26 33 24 33 24 33 23 33 22 32 21 32 21 31 13 31 12 32 10 32 10 33 7 33Z" fill="#08e814"/><path d="M80 93 80 94 79 95 79 97 80 97 80 98 82 103 90 103 92 98 92 94 89 91 87 91 87 90 85 90 85 91 83 91 82 92 81 92ZM-3 85 -3 103 40 103 40 99 39 98 39 97 38 97 37 94 34 90 33 90 31 89 30 89 30 88 28 88 28 87 27 87 26 86 25 86 25 85 22 85 21 85 18 85 18 84 3 84 3 85ZM13 39 13 40 12 40 9 43 9 44 8 44 8 50 9 50 9 51 12 54 13 54 13 55 19 55 19 54 21 54 23 51 23 50 24 50 24 44 20 39Z" fill="#98ec14"/><path d="M-3 88 -3 103 34 103 33 99 33 97 32 97 32 95 28 91 27 91 26 90 24 90 24 89 23 89 22 88 20 88 20 87 16 87 15 86 4 86 4 87 1 87Z" fill="#ffdc00"/><path d="M-3 90 -3 103 27 103 26 99 26 97 26 97 26 95 23 93 22 93 21 92 20 92 20 91 18 91 18 90 16 90 15 90 11 90 10 89 8 89 7 90 3 90 2 90Z" fill="#ff8c00"/><path d="M-3 95 -3 103 19 103 19 98 18 97 18 96 16 95 15 95 15 94 13 94 13 93 3 93 3 94 1 94Z" fill="#ff4600"/></g></svg><text x="76.1" y="409.3" class="lb">55<tspan font-size="4.8" dx="0.3" dy="-2.2">°</tspan></text><svg x="101.7" y="363.1" width="39" height="38.7" viewBox="0 0 100 100" preserveAspectRatio="none"><g opacity="0.999"><rect x="-5" y="-5" width="110" height="110" fill="#0810f2"/><path d="M56 98 57 97 58 98 57 99ZM56 96 56 96 57 97 56 97ZM55 95 56 94 56 95 55 95ZM103 90 99 90 99 88 98 87 98 86 93 81 92 81 92 79 90 78 88 77 88 74 87 74 87 72 87 72 86 69 84 67 84 66 78 60 77 60 77 59 74 59 74 59 70 59 69 58 69 59 65 59 65 59 64 59 62 61 61 61 59 63 59 64 58 65 58 67 57 67 57 68 56 69 56 71 55 71 55 74 54 74 54 84 55 85 55 87 54 88 54 90 54 90 54 92 55 93 55 95 49 89 46 88 45 86 44 86 43 85 42 85 41 85 39 85 39 84 38 84 37 83 35 83 35 82 32 82 31 81 28 81 27 80 21 80 21 79 9 79 9 80 3 80 3 81 -3 81 -3 103 57 103 58 98 59 99 59 103 99 103 99 98 103 97ZM89 8 88 9 86 9 84 12 84 13 83 13 83 16 82 17 82 18 83 18 83 21 85 23 85 24 86 24 87 26 92 26 93 25 94 25 96 23 96 22 97 21 97 19 97 19 97 15 97 15 97 13 93 9 92 9 92 8ZM13 7 13 8 12 8 10 9 10 10 9 11 9 12 8 13 8 15 8 15 8 21 8 22 8 24 9 24 9 26 10 26 10 27 11 28 11 30 12 31 11 31 3 31 3 32 1 32 -3 33 -3 56 1 56 1 57 5 62 6 62 9 65 12 66 13 67 15 67 15 68 16 68 17 69 18 69 18 70 20 70 20 71 22 71 23 72 25 72 25 72 29 72 29 73 40 73 40 72 42 72 43 72 46 71 49 67 49 65 50 65 50 59 49 58 48 54 47 53 47 52 46 51 46 49 36 40 35 40 34 38 33 38 31 37 30 37 30 36 28 36 28 35 27 35 26 34 25 34 25 33 20 33 19 31 20 31 19 29 21 29 22 27 22 26 23 26 23 24 24 24 24 22 25 21 25 14 24 14 24 12 22 10 22 9 21 8 19 8 19 7ZM34 3 35 5 38 8 41 8 41 9 43 9 44 8 46 8 49 5 49 4 50 4 50 3 49 2 49 1 48 -3 36 -3 35 1 35 2Z" fill="#14946c"/><path d="M-3 84 -3 103 51 103 51 99 51 98 50 97 50 96 47 94 47 93 46 93 43 90 42 90 41 88 39 88 39 87 38 87 37 86 35 86 35 85 33 85 33 85 30 85 30 84 27 84 26 83 23 83 22 82 6 82 5 83 1 83ZM64 70 64 72 63 73 63 75 62 75 62 79 61 79 61 82 62 82 62 86 63 86 63 88 64 89 64 90 64 90 64 92 65 92 65 93 66 94 66 96 67 96 67 97 68 98 68 99 69 103 97 103 97 99 97 98 97 96 98 96 98 92 97 92 97 90 97 89 96 86 93 84 92 84 91 82 90 82 89 81 88 81 87 80 83 79 82 78 82 77 81 77 81 75 80 75 79 72 77 69 75 69 75 69 74 69 73 68 69 68 68 69 67 69 67 69 65 69ZM-3 35 -3 53 3 56 3 57 5 59 6 59 9 62 10 62 12 64 13 64 13 65 15 65 15 66 16 66 17 67 18 67 18 67 20 67 20 68 22 68 23 69 26 69 26 70 38 70 38 69 41 68 45 65 45 63 46 62 46 57 45 56 45 54 44 54 43 51 41 50 41 49 35 42 33 42 32 40 31 40 30 38 28 38 28 38 27 38 26 37 25 37 25 36 23 36 23 35 21 35 21 34 18 34 18 33 14 33 14 33 7 33 6 33 3 33 3 34ZM15 11 15 12 13 12 13 13 13 14 12 14 12 16 11 17 11 20 12 20 12 22 13 23 13 24 14 24 14 25 15 25 16 26 17 25 19 25 20 24 20 23 21 22 21 21 21 21 21 16 21 15 21 14 20 14 20 13 19 12 18 12 17 11Z" fill="#08e814"/><path d="M73 89 73 91 72 91 72 95 73 95 74 98 75 103 90 103 92 97 92 95 93 94 93 93 92 92 92 90 92 90 92 89 90 87 89 87 88 86 87 86 87 85 85 85 84 85 79 85 79 85 77 85 77 86 75 86ZM-3 85 -3 103 45 103 44 99 44 98 43 97 43 96 38 91 37 91 36 90 34 90 34 89 33 89 32 88 31 88 31 87 28 87 28 86 25 86 25 85 22 85 21 85 4 85 4 85ZM6 43 6 48 7 49 8 51 11 55 12 55 13 56 15 56 15 57 16 57 17 58 20 58 20 59 26 59 27 58 28 58 29 57 29 56 30 56 30 52 29 51 28 49 24 44 23 44 21 43 20 43 20 42 18 42 17 41 14 41 14 40 11 40 10 41 8 41 8 42 7 42Z" fill="#98ec14"/><path d="M81 90 81 90 79 90 79 91 79 92 78 93 78 95 79 95 79 97 79 97 81 97 81 98 84 98 85 97 86 97 87 96 87 92 87 92 87 90 85 90 85 90ZM-3 88 -3 103 37 103 36 97 31 92 30 92 29 90 28 90 27 90 23 89 22 88 19 88 19 87 3 87 3 88Z" fill="#ffdc00"/><path d="M-3 91 -3 103 29 103 29 98 27 97 27 95 26 95 25 95 24 93 23 93 22 92 21 92 21 91 18 91 18 90 15 90 15 90 4 90 4 90 1 90Z" fill="#ff8c00"/><path d="M-3 94 -3 103 20 103 19 97 16 95 15 95 15 94 12 94 11 93 3 93 3 94Z" fill="#ff4600"/></g></svg><text x="122.2" y="409.3" class="lb">60<tspan font-size="4.8" dx="0.3" dy="-2.2">°</tspan></text><svg x="147.8" y="363.1" width="39" height="38.7" viewBox="0 0 100 100" preserveAspectRatio="none"><g opacity="0.999"><rect x="-5" y="-5" width="110" height="110" fill="#0810f2"/><path d="M-3 83 -3 103 44 103 44 99 43 98 43 97 41 96 41 95 36 90 35 90 34 88 33 88 32 87 31 87 31 86 29 86 29 85 28 85 27 85 25 85 25 84 22 84 21 83 18 83 17 82 3 82 2 83ZM52 69 53 69 54 70 53 70ZM53 64 53 65 52 65 52 67 51 68 51 72 52 71 53 71 53 84 54 85 54 87 54 88 54 89 55 90 55 92 57 93 58 96 62 103 99 103 99 98 103 97 103 90 99 90 99 88 98 87 98 86 94 82 96 82 95 81 95 80 97 80 98 79 99 79 103 78 103 65 99 65 98 64 97 64 97 64 89 64 88 64 87 64 87 65 84 65 83 66 82 64 77 59 75 59 75 58 74 58 73 57 71 57 71 56 65 56 65 57 63 57 62 58 61 58 56 63 56 64 55 64 55 66 54 66 54 64ZM83 9 82 10 80 10 78 13 78 14 77 14 77 17 76 18 76 21 77 22 77 24 78 24 78 26 80 28 82 28 82 29 86 29 86 28 87 28 90 26 90 24 91 24 91 21 92 21 92 18 91 17 91 14 89 13 89 12 88 11 87 11 87 10 85 10 85 9ZM7 6 4 8 4 10 3 10 3 11 3 12 3 14 2 14 2 22 3 23 3 25 3 25 3 26 4 27 4 30 5 31 3 31 3 32 1 32 -3 33 -3 56 1 56 1 57 5 62 6 62 9 65 12 66 13 67 15 67 15 68 16 68 17 69 18 69 18 70 20 70 20 71 22 71 23 72 25 72 25 72 29 72 29 73 40 73 40 72 42 72 43 72 46 71 49 67 49 65 50 65 50 59 49 58 49 56 48 56 48 54 47 53 47 52 46 51 46 49 36 40 35 40 34 38 33 38 31 37 30 37 30 36 28 36 28 35 27 35 26 34 25 34 25 33 23 33 22 33 20 33 20 32 17 32 15 31 16 30 15 29 15 28 17 26 17 25 18 25 18 22 19 21 19 15 18 15 18 12 17 11 16 8 14 6 12 6 11 5 8 5 8 6ZM31 1 31 5 33 7 34 7 34 8 36 8 37 9 39 9 39 8 42 8 44 6 45 6 45 5 46 5 46 2 44 -3 32 -3Z" fill="#14946c"/><path d="M-3 85 -3 103 39 103 39 99 38 98 37 95 32 90 31 90 30 89 28 89 28 88 27 88 26 87 25 87 25 86 23 86 22 85 19 85 19 85 14 85 14 84 4 84 4 85ZM61 70 61 72 60 72 60 74 59 74 59 82 60 82 60 85 61 85 62 88 64 90 64 91 65 92 65 93 66 94 66 95 67 95 67 97 68 98 68 99 69 103 97 103 97 99 97 98 97 96 98 96 98 92 97 92 97 90 97 89 96 86 93 84 92 84 91 82 90 82 89 81 87 81 87 80 84 80 83 79 81 79 80 78 80 76 79 76 79 74 78 73 78 72 77 71 77 69 75 68 74 68 72 66 65 66ZM-3 36 -3 52 1 53 1 54 8 62 10 62 11 63 12 63 13 65 15 65 15 66 16 66 17 67 18 67 18 67 20 67 20 68 22 68 23 69 26 69 26 70 38 70 38 69 41 69 42 67 43 67 44 67 44 65 45 65 45 64 46 63 46 56 45 56 45 54 44 54 44 53 43 52 42 49 34 41 33 41 31 39 28 38 27 37 26 37 26 36 23 36 23 35 22 35 21 34 18 34 18 33 14 33 14 33 7 33 6 33 3 33 3 34 2 34ZM10 10 10 11 8 11 6 13 6 15 5 16 5 21 6 21 6 23 8 26 12 26 14 24 14 23 15 22 15 20 15 20 15 17 15 16 15 13 12 11 11 11Z" fill="#08e814"/><path d="M-3 88 -3 103 31 103 30 99 30 98 29 97 29 96 25 92 23 92 22 90 21 90 21 90 18 90 18 89 16 89 15 88 10 88 10 87 6 87 5 88ZM73 90 73 97 74 97 74 98 75 103 90 103 92 97 92 95 93 94 93 93 92 92 92 90 92 90 92 89 90 87 89 87 88 86 87 86 87 85 78 85 77 86 76 86ZM7 44 7 47 8 48 8 50 13 56 15 56 15 56 16 56 17 57 18 57 18 58 21 58 21 59 27 59 28 58 29 58 31 56 31 51 30 51 30 49 24 44 23 44 22 43 21 43 21 42 18 42 18 41 15 41 15 40 12 40 11 41 9 41Z" fill="#98ec14"/><path d="M-3 92 -3 103 21 103 21 97 17 94 16 94 15 93 14 93 14 92 12 92 11 91 1 91ZM81 90 81 90 79 90 79 91 79 92 78 93 78 95 79 95 79 97 79 97 81 97 81 98 84 98 85 97 86 97 87 96 87 92 87 92 87 90 85 90 85 90Z" fill="#ffdc00"/><path d="M-3 95 -3 103 12 103 12 98 10 95 8 95 8 95 2 95 1 95Z" fill="#ff8c00"/></g></svg><text x="168.3" y="409.3" class="lb">65<tspan font-size="4.8" dx="0.3" dy="-2.2">°</tspan></text><svg x="193.9" y="363.1" width="39" height="38.7" viewBox="0 0 100 100" preserveAspectRatio="none"><g opacity="0.999"><rect x="-5" y="-5" width="110" height="110" fill="#0810f2"/><path d="M-3 88 -3 103 28 103 26 95 22 90 21 90 21 90 19 90 19 89 18 89 17 88 14 88 14 87 3 87 2 88ZM1 3 -3 3 -3 77 1 77 3 77 3 78 10 78 10 77 12 77 13 77 15 76 22 69 22 68 24 67 24 65 25 65 25 63 26 64 27 64 28 62 29 63 39 63 39 62 42 62 43 62 46 62 46 61 47 61 48 60 49 60 49 59 52 58 56 55 56 54 56 53 56 52 57 51 57 49 59 48 59 46 61 46 61 46 63 46 63 44 64 44 64 44 64 53 65 54 65 58 66 59 66 62 67 62 67 65 68 65 68 67 66 68 66 70 64 70 64 71 63 71 62 72 59 73 54 78 54 79 53 80 53 83 52 84 52 88 53 89 53 91 54 91 54 94 59 98 60 98 61 103 90 103 90 99 93 98 97 95 97 94 98 92 98 91 99 91 99 89 103 88 103 84 99 83 99 81 98 81 98 79 97 79 98 74 97 73 97 72 97 71 98 71 98 69 103 69 103 23 99 23 99 21 98 21 97 18 96 16 96 15 91 10 90 10 89 9 88 9 87 8 80 8 80 9 76 9 76 10 73 11 69 14 69 15 68 17 68 18 67 18 67 21 66 21 66 24 65 24 65 30 66 30 66 31 65 32 65 36 64 37 64 40 63 40 63 38 61 38 60 37 54 37 54 38 53 38 50 40 50 42 48 42 47 41 36 41 36 42 31 41 30 42 30 41 30 31 29 31 29 27 28 26 28 23 27 23 26 18 26 18 25 15 23 14 22 11 16 5 15 5 15 4 13 4 13 3 12 3 11 3 8 3 8 2 4 2 4 3ZM26 1 26 4 28 5 29 5 29 6 35 6 35 5 36 5 38 4 38 -3 27 -3Z" fill="#14946c"/><path d="M-3 95 -3 103 20 103 20 98 19 97 19 96 17 95 16 95 15 94 14 94 14 93 12 93 11 92 5 92 5 93 3 93 2 94 1 94ZM55 82 55 90 56 90 56 92 58 93 58 94 59 96 61 96 62 97 63 97 64 98 65 98 65 99 67 99 67 103 85 103 85 99 87 99 87 98 90 97 91 96 92 96 94 94 94 93 96 92 96 90 97 89 97 82 96 82 95 79 91 74 90 74 88 73 87 73 87 72 85 72 84 71 81 71 81 70 72 70 72 71 69 71 68 72 66 72 66 73 64 73 64 74 61 74 57 79 57 80 56 80 56 82ZM93 38 92 39 91 39 90 41 89 41 89 42 87 44 87 45 86 45 86 52 87 53 87 55 88 55 89 58 90 60 92 60 92 61 94 61 95 62 97 62 97 61 103 60 103 40 99 39 98 39 97 38ZM77 17 77 18 75 18 74 19 74 21 73 21 73 22 72 23 72 31 73 31 73 32 74 33 74 35 76 35 77 36 79 36 79 37 82 37 83 36 84 36 87 34 87 33 87 32 87 31 88 31 88 23 87 22 87 21 86 20 86 18 85 18 83 17ZM3 8 2 8 -3 8 -3 72 1 73 2 73 3 74 10 74 11 73 13 73 14 72 15 72 21 67 21 65 22 64 22 63 23 62 23 61 24 61 24 59 25 59 25 58 26 57 26 55 26 55 26 52 27 51 27 44 28 44 27 43 27 32 26 31 26 28 26 28 26 25 25 25 25 23 24 22 24 21 23 21 22 18 21 16 21 15 15 10 14 10 13 8 11 8 10 8Z" fill="#08e814"/><path d="M65 85 65 87 66 88 66 89 69 92 70 92 70 92 72 92 73 93 79 93 79 92 82 92 82 92 83 92 86 89 86 87 87 87 87 85 86 85 86 83 82 79 80 79 80 79 72 79 72 79 69 79 66 83 66 84ZM5 20 5 21 2 22 -3 23 -3 62 2 63 3 63 3 64 5 64 5 65 10 65 10 64 12 64 17 59 17 58 18 57 18 56 19 56 19 54 20 54 20 52 21 51 21 49 21 48 21 37 21 36 21 33 20 33 20 31 19 31 19 29 18 29 17 26 13 22 12 22 11 21 10 21 10 20Z" fill="#98ec14"/><path d="M6 33 3 36 3 37 3 38 3 39 2 39 2 49 3 49 3 52 6 55 9 56 9 55 10 55 11 54 12 54 13 53 13 52 14 51 14 50 15 50 15 46 15 46 15 43 15 42 15 38 14 38 14 37 10 33Z" fill="#ffdc00"/></g></svg><text x="214.4" y="409.3" class="lb">70<tspan font-size="4.8" dx="0.3" dy="-2.2">°</tspan></text><svg x="240" y="363.1" width="39" height="38.7" viewBox="0 0 100 100" preserveAspectRatio="none"><g opacity="0.999"><rect x="-5" y="-5" width="110" height="110" fill="#0810f2"/><path d="M-3 93 -3 103 26 103 26 99 25 98 25 96 21 93 20 93 20 92 18 92 18 91 16 91 15 90 5 90 5 91 3 91 2 92 1 92ZM60 47 61 46 61 47 60 48ZM64 43 64 45 62 47 61 47 61 46ZM70 14 70 15 68 15 67 16 66 16 64 18 64 19 64 19 64 21 63 21 63 24 62 24 62 26 63 27 63 28 62 28 62 31 62 31 57 31 56 32 54 32 53 33 52 33 51 33 50 33 50 34 49 34 48 35 47 35 46 36 44 37 42 38 41 38 39 41 38 41 29 49 29 51 28 52 28 53 27 54 27 55 26 55 26 60 27 61 28 61 28 62 34 62 34 61 36 61 37 60 41 59 42 58 45 57 46 56 49 55 50 53 51 53 54 51 55 51 59 46 60 48 60 49 59 50 58 55 56 56 56 57 55 58 55 60 54 60 54 62 54 63 54 67 53 67 53 77 54 77 54 81 54 81 54 83 55 84 55 86 56 86 57 89 62 94 63 94 64 95 65 95 65 96 72 96 72 97 75 97 76 95 77 95 77 94 78 93 79 94 80 94 80 95 82 95 82 96 84 96 85 97 95 97 95 96 103 95 103 25 99 25 98 24 96 24 96 23 92 23 92 23 88 23 87 23 84 23 83 24 82 22 80 20 80 18 77 16 76 16 76 15 74 15 74 14ZM-3 7 -3 83 2 83 3 82 5 82 10 77 10 75 11 75 11 74 12 73 12 72 13 72 13 70 14 70 14 68 15 67 15 64 15 64 15 61 16 61 16 57 17 56 17 33 16 33 16 29 15 29 15 26 15 26 15 23 14 22 14 20 13 20 13 18 12 18 11 15 10 14 10 13 5 8 4 8 4 8 3 8 2 7Z" fill="#14946c"/><path d="M1 100 1 103 19 103 19 98 16 95 15 95 15 95 12 95 11 94 9 94 9 95 6 95 5 95 3 96 2 97 2 99ZM58 38 57 38 56 37 53 37 52 38 50 38 50 38 49 38 48 39 45 40 44 42 43 42 41 44 40 44 37 47 37 48 35 49 35 51 34 51 34 55 41 55 41 54 43 54 44 53 46 52 48 51 49 51 51 48 52 48 56 45 56 44 57 42 57 41 58 41ZM71 18 71 19 68 20 68 21 67 22 67 23 66 23 66 27 67 28 67 29 69 31 71 31 71 32 73 33 73 36 72 36 72 37 70 38 70 40 69 40 69 41 69 42 69 44 68 44 68 46 67 46 67 48 66 49 66 51 65 52 65 57 64 58 64 66 65 66 65 72 66 72 66 74 67 74 68 77 69 79 69 80 77 87 78 87 79 88 80 88 80 89 82 89 82 90 84 90 85 91 88 91 89 92 92 92 93 91 96 91 96 90 98 90 99 89 103 89 103 28 99 28 98 28 97 28 97 27 93 27 92 26 88 26 87 27 85 27 84 28 82 28 82 28 79 28 78 26 77 26 77 23 77 22 77 21 75 19 73 19 72 18ZM-3 12 -3 79 2 79 3 78 5 78 10 73 10 72 10 72 10 70 11 70 11 69 12 68 13 64 14 63 14 60 15 60 15 56 15 56 15 35 15 35 15 31 14 31 14 28 13 27 12 23 11 22 11 21 10 21 10 18 5 13Z" fill="#08e814"/><path d="M89 38 88 39 85 40 84 42 84 43 82 44 82 46 81 46 81 48 80 49 80 51 79 52 79 56 80 57 80 61 81 61 81 62 82 63 83 66 86 69 87 69 88 70 90 70 90 71 94 71 95 70 97 70 98 68 99 68 103 67 103 42 97 39 96 39 96 38ZM-3 21 -3 71 4 71 4 70 5 70 7 68 7 67 9 66 9 64 10 64 10 62 10 62 10 59 11 59 11 56 12 56 12 48 13 47 13 44 12 44 12 37 11 36 11 33 10 32 10 30 10 30 10 28 9 28 8 25 5 22 3 22 3 21Z" fill="#98ec14"/><path d="M-3 30 -3 63 4 63 6 61 6 59 7 59 7 58 8 57 8 55 9 55 9 50 10 50 10 44 9 43 9 38 8 38 8 36 7 36 6 33 4 30Z" fill="#ffdc00"/><path d="M2 39 -3 41 -3 54 2 56 4 56 5 55 5 54 5 53 5 51 6 51 6 44 5 44 5 42 5 41 5 40 4 39Z" fill="#ff8c00"/></g></svg><text x="260.5" y="409.3" class="lb">75<tspan font-size="4.8" dx="0.3" dy="-2.2">°</tspan></text><svg x="286.1" y="363.1" width="39" height="38.7" viewBox="0 0 100 100" preserveAspectRatio="none"><g opacity="0.999"><rect x="-5" y="-5" width="110" height="110" fill="#0810f2"/><path d="M-3 98 -3 103 26 103 25 95 21 91 20 91 20 90 18 90 18 90 15 90 15 89 12 89 11 90 8 90 8 90 6 90 1 95 1 97ZM-3 26 -3 70 2 70 3 69 5 69 6 68 7 68 13 62 13 61 14 61 14 59 15 59 15 57 15 56 15 54 16 53 16 43 15 42 15 39 15 39 15 38 14 37 14 35 12 34 12 33 8 28 7 28 6 28 5 28 5 27 2 27 1 26ZM63 11 62 12 59 13 56 16 56 17 55 18 55 19 54 19 54 21 54 21 54 22 53 23 53 26 52 26 52 30 50 30 50 32 49 32 48 31 47 31 46 30 41 30 41 31 38 31 38 32 37 32 36 33 34 33 31 37 31 38 29 39 29 41 28 41 28 42 28 43 28 44 27 44 27 46 26 47 26 50 25 50 25 59 26 59 26 62 27 63 28 66 30 68 31 68 32 69 33 69 33 70 40 70 40 69 41 69 42 68 45 67 49 63 49 62 51 61 51 59 52 58 52 56 53 56 53 54 54 54 54 51 55 51 55 45 56 45 56 46 56 44 57 43 58 46 59 47 62 48 62 50 61 50 61 66 62 66 62 67 59 69 59 71 59 71 59 73 58 74 59 77 58 77 58 79 57 79 57 90 58 90 59 95 59 95 59 97 61 98 61 99 62 103 84 103 85 99 85 103 103 103 103 14 92 14 92 15 88 15 87 16 85 16 85 17 84 17 83 18 80 18 79 20 78 20 77 21 77 18 76 18 74 18 73 16 73 15 70 12 69 12 68 11ZM8 2 9 5 11 6 12 6 13 7 20 7 20 6 21 6 23 5 23 3 24 3 23 -3 9 -3 9 1Z" fill="#14946c"/><path d="M6 97 6 103 21 103 21 97 18 95 17 95 16 94 10 94 10 95 8 95ZM45 32 41 32 41 33 38 33 37 34 36 34 31 39 31 41 30 41 30 42 29 43 29 44 28 44 28 46 28 47 28 50 27 50 27 57 28 58 28 62 33 67 36 67 36 67 38 67 38 67 41 67 41 66 44 65 49 60 49 59 50 58 50 57 51 56 51 55 51 55 51 54 52 53 52 50 53 50 53 41 52 41 52 38 51 38 51 37 50 36 50 34 49 33 48 33 47 33 45 33ZM5 29 -3 29 -3 67 5 67 5 66 8 65 10 62 10 61 12 60 12 59 13 58 13 56 14 56 14 53 15 52 15 44 14 43 14 40 13 40 13 38 12 38 11 35 6 30 5 30ZM64 18 63 18 62 18 59 22 59 23 58 23 58 26 57 26 57 33 58 33 59 36 60 38 62 38 63 39 66 39 67 40 67 47 66 48 66 54 65 54 65 58 66 59 66 73 65 74 65 76 64 76 64 78 64 79 64 82 63 82 63 87 64 88 64 90 64 90 65 93 67 95 68 95 69 96 70 96 70 97 74 97 74 96 77 96 77 95 78 95 79 94 80 94 80 93 88 93 89 94 92 94 93 95 103 95 103 18 91 18 91 19 88 19 87 20 86 20 86 21 85 21 84 22 81 23 77 27 76 27 75 28 73 28 72 27 72 25 71 25 71 23 70 22 70 21 67 18 66 18 66 18Z" fill="#08e814"/><path d="M44 39 39 39 39 40 38 40 36 42 36 43 35 44 35 45 34 45 34 47 33 48 33 52 34 53 34 54 37 56 40 56 40 56 43 55 43 54 45 52 45 51 46 51 46 49 46 49 46 43 46 42 46 41ZM-3 35 -3 61 3 61 3 60 6 59 8 57 8 56 9 56 9 54 10 54 10 52 10 51 10 44 10 44 10 42 9 41 9 40 7 39 7 38 6 38 5 36 3 36 3 35ZM95 27 94 28 91 28 91 28 88 29 86 32 85 32 83 33 83 35 81 36 81 37 79 38 79 40 79 40 79 42 78 43 78 45 77 45 77 50 76 50 76 56 77 57 77 62 78 62 78 64 79 64 79 66 79 66 79 67 80 68 81 71 87 77 88 77 89 77 90 77 90 78 92 78 92 79 96 79 96 80 98 80 99 79 103 79 103 27Z" fill="#98ec14"/><path d="M-3 42 -3 54 4 54 5 52 5 51 6 51 6 46 5 46 5 43 3 43 3 42ZM95 35 94 36 93 36 89 40 89 41 88 42 88 43 87 44 87 46 86 46 86 55 87 55 87 57 88 58 89 61 92 64 93 64 94 65 95 65 95 66 103 66 103 35Z" fill="#ffdc00"/><path d="M97 42 95 44 95 45 95 45 95 51 95 51 95 52 96 53 97 53 98 54 103 54 103 42Z" fill="#ff8c00"/></g></svg><text x="306.6" y="409.3" class="lb">80<tspan font-size="4.8" dx="0.3" dy="-2.2">°</tspan></text><svg x="332.2" y="363.1" width="39" height="38.7" viewBox="0 0 100 100" preserveAspectRatio="none"><g opacity="0.999"><rect x="-5" y="-5" width="110" height="110" fill="#0810f2"/><path d="M-3 93 -3 103 23 103 23 97 22 97 21 94 19 91 18 91 17 90 16 90 15 90 12 90 11 89 9 89 9 90 5 90 5 90 2 91ZM-3 28 -3 67 3 67 3 67 6 66 9 63 9 62 10 61 10 59 11 59 11 57 12 56 12 54 13 54 13 43 12 42 12 39 11 39 11 37 10 36 10 35 9 34 9 33 7 31 6 31 5 29 3 29 3 28ZM55 12 54 13 53 13 50 16 50 17 49 18 49 20 48 20 48 21 47 22 47 25 46 25 46 27 44 28 44 29 37 29 36 30 35 30 35 31 32 32 28 36 28 37 26 38 26 40 24 41 24 42 23 43 23 45 23 45 23 47 22 48 22 51 21 51 21 60 22 60 22 63 23 64 23 67 27 70 28 70 28 71 36 71 36 70 39 69 40 67 41 67 44 65 44 64 46 62 46 60 47 60 47 59 48 58 48 57 49 56 50 52 51 51 51 47 51 46 52 46 54 45 56 45 56 46 59 46 60 47 61 46 63 46 64 51 63 51 63 61 64 61 64 67 64 68 64 71 65 71 65 73 66 74 67 78 68 79 68 80 69 80 69 82 69 82 70 85 72 86 72 87 75 90 75 92 78 94 79 94 81 97 82 97 84 98 85 98 85 99 87 99 87 103 103 103 103 10 94 10 93 11 90 11 90 12 88 12 87 13 86 13 86 13 83 14 82 16 80 16 74 23 73 22 73 20 72 20 72 18 70 18 70 17 69 16 69 15 67 13 65 13 65 12 64 12 63 11 58 11 57 12ZM6 1 6 4 8 5 9 5 9 6 15 6 15 5 18 5 18 3 19 3 18 -3 7 -3Z" fill="#14946c"/><path d="M3 98 3 103 18 103 18 98 17 97 17 96 16 95 15 95 14 94 7 94 6 95 5 95 3 96 3 97ZM41 38 36 38 36 38 34 38 30 43 30 44 29 44 29 46 28 46 28 47 28 48 28 51 27 52 27 56 28 56 28 58 28 59 28 60 31 62 36 62 38 61 39 61 41 58 41 57 43 56 43 54 44 54 44 52 45 51 45 43 44 42 44 40 42 38 41 38ZM-3 31 -3 65 3 65 3 64 5 64 6 62 7 62 7 61 9 60 9 59 10 58 10 57 10 56 10 54 11 54 11 43 10 42 10 39 10 39 9 36 5 32 3 32 3 31ZM63 18 59 18 58 18 55 19 54 21 54 22 53 23 53 24 52 24 52 26 51 27 51 31 52 32 52 34 53 34 53 36 55 38 61 38 61 37 62 37 65 35 65 33 66 33 66 32 67 31 67 23 66 23 65 20ZM95 14 95 15 91 15 91 16 89 16 88 17 85 18 84 19 83 19 76 26 76 27 74 28 74 30 73 31 73 32 72 33 72 34 71 34 71 36 70 36 70 38 69 38 69 41 69 42 69 46 68 46 68 64 69 64 69 67 69 68 69 71 70 71 70 73 71 74 71 75 72 75 72 77 73 77 74 80 75 81 75 82 78 85 78 86 80 88 82 88 84 91 85 91 86 92 88 92 89 93 90 93 90 94 93 94 94 95 103 95 103 14Z" fill="#08e814"/><path d="M-3 37 -3 59 3 59 6 56 6 54 7 53 7 51 8 51 8 46 7 46 7 43 6 42 5 39 4 38 3 38 2 37ZM95 24 95 25 93 25 92 26 90 27 88 28 87 28 84 32 84 33 82 34 82 36 81 36 81 37 80 38 80 39 79 39 79 41 79 42 79 45 78 45 78 59 79 59 79 62 79 63 79 65 80 65 80 67 81 67 82 70 85 72 85 73 87 76 88 76 90 77 91 77 91 78 92 78 93 79 96 79 96 80 103 80 103 24Z" fill="#98ec14"/><path d="M2 43 -3 43 -3 54 1 53 2 53 3 52 3 51 4 51 4 45 3 45 3 44ZM96 33 96 34 93 35 90 38 90 40 89 40 89 41 88 42 88 44 87 44 87 55 88 55 88 57 89 58 90 61 93 64 94 64 95 65 96 65 96 66 103 66 103 33Z" fill="#ffdc00"/><path d="M98 41 95 44 95 45 95 45 95 50 95 50 95 51 98 54 103 54 103 41Z" fill="#ff8c00"/></g></svg><text x="352.7" y="409.3" class="lb">85<tspan font-size="4.8" dx="0.3" dy="-2.2">°</tspan></text><svg x="378.3" y="363.1" width="39" height="38.7" viewBox="0 0 100 100" preserveAspectRatio="none"><g opacity="0.999"><rect x="-5" y="-5" width="110" height="110" fill="#0810f2"/><path d="M-3 90 -3 103 21 103 21 95 17 92 16 92 15 90 13 90 12 90 8 90 8 89 4 89 4 90ZM-3 28 -3 63 2 63 3 62 4 62 7 59 7 58 8 57 8 55 9 55 9 53 10 52 10 40 9 40 9 37 8 36 8 35 7 35 6 32 5 30 3 30 3 29ZM28 35 28 36 26 38 26 40 24 41 24 42 23 43 23 44 23 44 23 46 22 46 22 48 21 49 21 56 22 57 22 58 23 60 25 60 25 61 28 61 28 62 31 62 32 61 36 61 36 60 41 59 41 58 42 58 43 57 46 56 47 55 48 55 49 53 51 53 53 51 54 51 58 46 59 47 63 43 64 46 63 46 63 60 64 60 64 65 64 65 64 69 65 69 66 74 67 74 67 76 68 76 68 78 69 79 69 80 70 81 71 84 73 85 73 87 81 95 82 95 84 97 85 97 85 97 87 97 87 98 88 98 89 99 91 99 91 103 103 103 103 5 95 5 94 6 91 6 91 7 89 7 88 8 87 8 87 8 84 9 82 12 80 12 74 18 74 20 71 22 71 23 70 23 70 25 69 25 69 23 67 21 67 22 65 22 64 20 63 20 62 19 53 19 52 20 49 20 49 21 48 21 47 22 46 22 46 23 43 23 41 25 40 25 39 27 38 27 36 29 34 29ZM-3 -3 -3 5 2 6 3 6 3 7 10 7 12 5 12 -3Z" fill="#14946c"/><path d="M-3 95 -3 103 15 103 15 97 12 95 11 95 10 94 3 94 2 95 1 95ZM-3 36 -3 56 1 56 2 56 3 56 4 55 4 54 5 53 5 52 5 51 5 48 6 47 6 44 5 44 5 41 5 41 5 38 2 36ZM65 23 63 22 62 22 62 21 52 21 51 22 49 22 49 23 48 23 47 23 46 23 46 24 43 25 41 27 40 27 37 30 36 30 31 35 31 36 28 38 28 40 28 40 28 41 27 42 27 43 26 44 26 45 25 45 25 48 24 49 24 52 25 53 26 56 27 56 28 57 37 57 38 56 41 56 41 56 42 56 43 55 44 55 44 54 47 53 49 51 50 51 52 49 53 49 60 42 60 41 62 39 62 38 63 37 63 36 64 36 64 34 65 34 65 32 66 31 66 25 65 25ZM103 10 99 10 98 11 93 11 92 12 90 12 90 13 89 13 88 13 85 14 84 16 83 16 76 23 76 24 74 25 74 26 73 28 73 29 72 29 72 31 71 31 71 33 70 33 70 35 69 35 69 37 69 38 69 41 68 41 68 46 67 46 67 59 68 59 68 64 69 64 69 67 69 68 70 72 71 73 71 74 72 74 72 76 73 76 74 79 75 80 75 82 84 90 85 90 86 92 87 92 88 92 89 92 90 93 92 93 92 94 96 94 96 95 103 95Z" fill="#08e814"/><path d="M60 27 58 25 56 25 56 24 52 24 51 25 49 25 48 27 47 27 46 28 46 29 44 31 43 34 40 36 40 37 39 38 39 40 38 40 38 41 39 42 39 44 41 44 41 45 46 45 46 44 47 44 48 43 49 43 49 42 51 42 51 41 53 41 54 41 56 40 59 37 59 36 60 36 60 34 61 34 61 28 60 28ZM96 15 96 16 93 16 92 17 90 17 90 18 87 18 86 20 85 20 79 26 79 27 77 28 77 30 76 30 76 31 75 32 75 33 74 33 74 35 74 35 74 37 73 38 73 40 72 40 72 43 71 44 71 51 70 52 70 53 71 54 71 61 72 61 72 65 73 65 74 70 74 70 74 72 75 72 76 75 78 76 78 77 80 79 80 81 83 83 84 83 86 86 87 86 88 87 89 87 90 87 91 87 91 88 93 88 94 89 103 89 103 15Z" fill="#98ec14"/><path d="M50 29 50 31 49 31 49 35 50 36 55 36 56 34 56 30 55 28 52 28 51 29ZM96 20 96 21 93 21 92 22 91 22 91 23 88 23 87 25 85 25 83 28 83 29 80 31 80 32 79 33 79 34 79 34 79 36 78 36 78 37 77 38 76 42 75 43 75 47 74 48 74 56 75 57 75 62 76 62 77 67 78 67 78 68 79 69 79 72 81 73 81 74 87 80 88 80 90 82 91 82 91 82 93 82 94 83 98 83 99 84 103 84 103 20Z" fill="#ffdc00"/><path d="M95 26 94 27 92 27 92 28 90 28 88 30 87 30 85 32 85 33 84 34 84 36 82 37 82 38 81 38 81 41 80 41 80 43 79 44 79 48 79 49 79 55 79 55 79 60 80 60 80 62 81 63 81 64 82 64 82 67 84 68 84 69 90 75 91 75 91 76 92 76 93 77 95 77 95 77 103 77 103 26Z" fill="#ff8c00"/><path d="M95 32 95 33 92 33 91 35 90 35 89 36 89 37 86 39 86 41 85 41 85 43 85 44 85 46 84 47 84 56 85 56 85 59 85 59 85 61 86 61 87 64 89 65 89 67 90 67 91 67 92 69 93 69 94 70 96 70 96 71 103 71 103 32Z" fill="#ff4600"/><path d="M99 38 94 40 91 43 91 44 90 44 90 46 90 46 90 56 90 56 91 59 94 62 95 62 95 62 103 62 103 39Z" fill="#ee0000"/></g></svg><text x="398.8" y="409.3" class="lb">90<tspan font-size="4.8" dx="0.3" dy="-2.2">°</tspan></text><rect x="8.7" y="315.5" width="18.6" height="19.0" fill="#fff"/><text x="9.2" y="331.1" class="pl">(d)</text><text x="418.5" y="370.2" class="ca">Constant Angle:φ<tspan font-size="5" dy="1.5">2</tspan></text><path d="M422.4 375.6 H439.9 M422.4 375.6 V392.1" stroke="#000" stroke-width="0.7" fill="none"/><path d="M443.6 375.6 l-4 -1.8 v3.6z M422.4 395.8 l-1.8 -4 h3.6z" fill="#000"/><text x="435.8" y="385.1" class="ca">φ<tspan font-size="5" dy="1.5">1</tspan><tspan dy="-1.5">(0°~90°)</tspan></text><text x="421.4" y="404.1" class="ca">Φ(0°~90°)</text><rect x="480.6" y="319.5" width="17.5" height="10.38" fill="#ee0000" stroke="#111" stroke-width="1.05"/><rect x="480.6" y="329.88" width="17.5" height="10.38" fill="#ff4600" stroke="#111" stroke-width="1.05"/><rect x="480.6" y="340.26" width="17.5" height="10.38" fill="#ff8c00" stroke="#111" stroke-width="1.05"/><rect x="480.6" y="350.64" width="17.5" height="10.38" fill="#ffdc00" stroke="#111" stroke-width="1.05"/><rect x="480.6" y="361.02" width="17.5" height="10.38" fill="#98ec14" stroke="#111" stroke-width="1.05"/><rect x="480.6" y="371.4" width="17.5" height="10.38" fill="#08e814" stroke="#111" stroke-width="1.05"/><rect x="480.6" y="381.78" width="17.5" height="10.38" fill="#14946c" stroke="#111" stroke-width="1.05"/><rect x="480.6" y="392.16" width="17.5" height="10.38" fill="#0810f2" stroke="#111" stroke-width="1.05"/><text transform="translate(501.1 322.4) scale(0.9 1)" class="lg">Max = 4.437</text><text transform="translate(501.1 332.87) scale(0.9 1)" class="lg">3.461</text><text transform="translate(501.1 343.34) scale(0.9 1)" class="lg">2.700</text><text transform="translate(501.1 353.81) scale(0.9 1)" class="lg">2.106</text><text transform="translate(501.1 364.28) scale(0.9 1)" class="lg">1.643</text><text transform="translate(501.1 374.75) scale(0.9 1)" class="lg">1.282</text><text transform="translate(501.1 385.22) scale(0.9 1)" class="lg">1.000</text><text transform="translate(501.1 395.69) scale(0.9 1)" class="lg">0.780</text>
</svg></body></html>
